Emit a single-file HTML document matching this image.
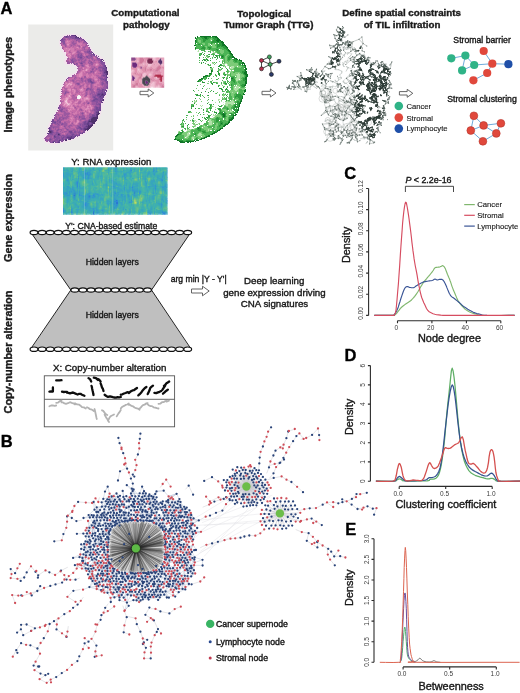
<!DOCTYPE html>
<html><head><meta charset="utf-8"><title>Figure</title>
<style>html,body{margin:0;padding:0;background:#fff;width:520px;height:693px;overflow:hidden}svg{display:block}text{font-family:"Liberation Sans",Arial,sans-serif;stroke:currentColor;stroke-width:0.35px;paint-order:stroke}text.s{stroke-width:0.12px}</style>
</head><body>
<svg width="520" height="693" viewBox="0 0 520 693">
<rect width="520" height="693" fill="#fff"/>
<rect x="28.2" y="24.5" width="85" height="126" fill="#ebebe9"/>
<path d="M61.6 38.7 L62.3 37.8 L63.3 36.8 L64.5 36.1 L66.2 35.6 L68.3 35.2 L70.3 35 L72.2 35 L74.2 35.1 L76.1 35.5 L78.1 36.1 L80 36.9 L81.8 37.9 L83.4 38.9 L84.8 40.1 L86.2 41.5 L87.5 43.3 L88.6 45.3 L89.8 47.3 L90.9 49.3 L92 51.3 L93.4 53.1 L95.2 54.5 L97.2 55.6 L99.1 56.7 L100.7 57.8 L102.2 58.9 L103.5 60.3 L104.6 62.1 L105.5 64.1 L106.3 66.1 L106.9 68 L107.4 69.8 L107.8 71.8 L108.1 74 L108.4 76.4 L108.5 79 L108.4 81.9 L108.1 85.1 L107.8 87.7 L107.4 89.4 L106.9 90.7 L106.3 92.2 L105.7 94.4 L105 96.9 L104.2 99.4 L103.2 101.8 L102.2 104.2 L101.3 106.6 L100.8 109 L100.4 111.5 L99.9 113.8 L99.1 116 L98.2 118.2 L97 120.3 L95.5 122.5 L93.8 124.7 L91.9 126.8 L89.7 128.8 L87.3 130.8 L84.7 132.6 L81.9 134.4 L79 136.1 L76.1 137.6 L73.2 138.7 L70.3 139.7 L67.4 140.5 L64.5 141.3 L61.6 142.1 L58.8 142.7 L56.2 143.2 L53.8 143.4 L51.5 143.4 L49.3 142.9 L47.3 142.1 L45.8 141.2 L44.8 140.4 L44.3 139.5 L44.3 138.4 L45 137.2 L46.2 135.7 L47.2 134 L47.7 131.9 L48 129.4 L48.7 126.8 L49.9 124 L51.5 121.1 L53 118.2 L54.5 115.5 L56 112.8 L57.3 110.2 L58.5 107.5 L59.5 104.9 L60.2 102.3 L60.5 99.7 L60.5 97.2 L60.5 95 L60.7 93.2 L60.9 91.6 L61.2 90 L61.7 88.3 L62.3 86.5 L63.1 84.8 L63.9 83.1 L64.9 81.4 L66 79.8 L67.3 78.5 L68.7 77.3 L70.3 76.2 L72.3 75.2 L74.4 74.4 L76.1 73.3 L77.1 71.9 L77.5 70.4 L77.5 68.9 L77 67.3 L76 65.8 L74.6 64.6 L72.6 64.2 L70.1 64.1 L68.1 63.9 L66.7 63.4 L65.7 62.7 L65.2 61.7 L65.5 60.2 L66.4 58.5 L66.7 56.7 L66.1 55 L64.9 53.3 L63.8 51.6 L62.8 49.7 L61.7 47.7 L60.9 45.9 L60.4 44.3 L60.2 42.8 L60.2 41.5 L60.5 40.4 L60.9 39.6Z" fill="none" stroke="#f4e2ee" stroke-width="2.2"/>
<path d="M66 100.5h1M65 101.5h2M66 102.5h1M67 103.5h1M68 104.5h1" stroke="#f2c6dc" stroke-width="1.1" fill="none"/>
<path d="M96 64.5h1M86 69.5h1M86 70.5h1M69 83.5h1M68 84.5h1M70 84.5h2M67 85.5h1M81 89.5h1M69 95.5h1M69 96.5h1M66 98.5h2M86 98.5h2M66 99.5h2M65 100.5h1M65 102.5h1M67 102.5h1M65 103.5h2M68 103.5h2M64 104.5h1M67 104.5h1M69 104.5h1M67 105.5h1" stroke="#e8a6c8" stroke-width="1.1" fill="none"/>
<path d="M67 41.5h1M67 44.5h2M81 46.5h1M77 47.5h1M66 48.5h1M69 49.5h1M68 50.5h1M66 52.5h2M73 52.5h2M66 53.5h1M72 53.5h2M68 54.5h2M70 55.5h1M69 56.5h1M69 57.5h1M97 64.5h1M86 65.5h2M96 65.5h1M87 66.5h2M83 68.5h1M87 69.5h1M83 70.5h1M85 70.5h1M81 72.5h1M95 72.5h1M80 73.5h2M79 74.5h3M79 75.5h3M79 76.5h2M95 79.5h2M71 82.5h1M66 83.5h1M68 83.5h1M70 83.5h2M67 84.5h1M69 84.5h1M66 85.5h1M70 85.5h1M66 86.5h2M82 88.5h1M68 89.5h3M72 89.5h2M80 89.5h1M82 89.5h1M69 90.5h2M74 90.5h1M80 90.5h3M74 91.5h1M74 92.5h1M70 93.5h1M70 94.5h1M68 95.5h1M77 95.5h1M68 96.5h1M70 96.5h1M66 97.5h3M70 97.5h1M81 97.5h1M86 97.5h2M65 98.5h1M68 98.5h1M81 98.5h1M84 98.5h2M88 98.5h1M65 99.5h1M81 99.5h1M84 99.5h5M64 100.5h1M67 100.5h1M84 100.5h1M64 101.5h1M67 101.5h1M70 101.5h1M77 101.5h1M64 102.5h1M70 102.5h2M75 102.5h2M64 103.5h1M70 103.5h1M65 104.5h2M70 104.5h1M75 104.5h1M63 105.5h2M66 105.5h1M68 105.5h2M71 105.5h1M90 105.5h1M66 106.5h1M71 106.5h1M87 106.5h2M90 106.5h1M70 107.5h4M87 107.5h1M91 107.5h1M73 108.5h1M86 108.5h3M91 108.5h1M68 109.5h1M70 109.5h1M85 109.5h2M69 110.5h1M89 111.5h1M85 113.5h1M71 118.5h1M77 120.5h1M77 121.5h2M77 122.5h1M76 123.5h1" stroke="#de8ebb" stroke-width="1.1" fill="none"/>
<path d="M67 40.5h1M66 41.5h1M68 41.5h2M66 42.5h3M77 42.5h1M67 43.5h3M77 43.5h5M78 44.5h4M67 45.5h2M80 45.5h1M71 47.5h1M76 47.5h1M78 47.5h1M81 47.5h1M64 48.5h2M67 48.5h7M78 48.5h1M80 48.5h1M64 49.5h5M70 49.5h4M65 50.5h3M69 50.5h1M71 50.5h3M65 51.5h4M71 51.5h5M81 51.5h2M68 52.5h1M72 52.5h1M75 52.5h1M82 52.5h2M67 53.5h4M74 53.5h1M67 54.5h1M70 54.5h1M72 54.5h1M84 54.5h1M67 55.5h3M84 55.5h1M67 56.5h2M70 56.5h1M70 57.5h1M94 57.5h1M96 63.5h2M87 64.5h2M95 64.5h1M98 64.5h1M85 65.5h1M88 65.5h1M95 65.5h1M97 65.5h1M86 66.5h1M83 67.5h1M87 67.5h3M86 68.5h3M85 69.5h1M88 69.5h1M82 70.5h1M84 70.5h1M87 70.5h1M81 71.5h4M96 71.5h1M80 72.5h1M82 72.5h1M84 72.5h1M96 72.5h1M79 73.5h1M82 73.5h1M87 73.5h1M95 73.5h1M77 74.5h2M82 74.5h1M86 74.5h2M92 74.5h1M77 75.5h2M82 75.5h1M86 75.5h3M92 75.5h2M77 76.5h2M81 76.5h1M86 76.5h3M91 76.5h5M80 77.5h1M87 77.5h1M91 77.5h2M94 77.5h2M94 78.5h3M94 79.5h1M97 79.5h1M95 80.5h2M69 81.5h1M97 81.5h1M99 81.5h1M65 82.5h2M69 82.5h2M72 82.5h1M84 82.5h1M97 82.5h2M65 83.5h1M67 83.5h1M72 83.5h1M96 83.5h3M65 84.5h2M72 84.5h3M81 84.5h1M85 84.5h1M94 84.5h3M68 85.5h2M71 85.5h1M73 85.5h2M84 85.5h2M89 85.5h1M94 85.5h3M65 86.5h1M68 86.5h2M71 86.5h3M84 86.5h2M89 86.5h1M98 86.5h2M65 87.5h5M71 87.5h2M82 87.5h1M84 87.5h2M63 88.5h1M68 88.5h3M81 88.5h1M63 89.5h1M67 89.5h1M74 89.5h1M79 89.5h1M83 89.5h1M68 90.5h1M72 90.5h2M75 90.5h1M83 90.5h1M94 90.5h1M69 91.5h2M72 91.5h2M75 91.5h1M80 91.5h3M70 92.5h1M73 92.5h1M83 92.5h2M69 93.5h1M73 93.5h2M80 93.5h1M82 93.5h2M67 94.5h3M71 94.5h1M77 94.5h2M80 94.5h1M67 95.5h1M70 95.5h1M76 95.5h1M80 95.5h2M83 95.5h1M87 95.5h2M65 96.5h1M67 96.5h1M81 96.5h3M87 96.5h2M65 97.5h1M69 97.5h1M71 97.5h1M82 97.5h4M88 97.5h1M63 98.5h2M69 98.5h2M80 98.5h1M83 98.5h1M89 98.5h1M61 99.5h4M68 99.5h1M78 99.5h2M82 99.5h2M89 99.5h1M62 100.5h1M68 100.5h5M77 100.5h2M81 100.5h3M85 100.5h1M88 100.5h1M68 101.5h2M71 101.5h1M75 101.5h2M82 101.5h4M62 102.5h2M68 102.5h2M74 102.5h1M77 102.5h1M81 102.5h2M62 103.5h2M71 103.5h1M73 103.5h3M81 103.5h1M63 104.5h1M71 104.5h4M76 104.5h2M79 104.5h2M85 104.5h1M89 104.5h1M65 105.5h1M70 105.5h1M72 105.5h1M75 105.5h2M79 105.5h2M85 105.5h1M87 105.5h3M64 106.5h2M67 106.5h4M72 106.5h1M82 106.5h2M89 106.5h1M91 106.5h1M68 107.5h2M81 107.5h4M88 107.5h1M90 107.5h1M92 107.5h1M70 108.5h3M78 108.5h1M82 108.5h4M89 108.5h2M69 109.5h1M71 109.5h4M77 109.5h2M83 109.5h2M87 109.5h3M91 109.5h1M68 110.5h1M70 110.5h2M77 110.5h1M84 110.5h1M86 110.5h1M88 110.5h2M68 111.5h2M76 111.5h1M83 111.5h2M88 111.5h1M70 112.5h1M75 112.5h2M79 112.5h1M85 112.5h1M89 112.5h1M73 113.5h4M86 113.5h1M74 114.5h1M85 114.5h2M70 115.5h1M72 116.5h1M70 117.5h3M70 118.5h1M72 118.5h2M71 119.5h2M70 120.5h3M78 120.5h1M71 121.5h1M70 122.5h1M74 122.5h1M76 122.5h1M78 122.5h1M70 123.5h1M74 123.5h2M77 123.5h1M75 124.5h2M61 126.5h1M64 133.5h1" stroke="#d27cb0" stroke-width="1.1" fill="none"/>
<path d="M66 38.5h1M66 39.5h1M66 40.5h1M68 40.5h4M65 41.5h1M70 41.5h1M77 41.5h1M82 41.5h1M65 42.5h1M69 42.5h2M78 42.5h1M80 42.5h3M66 43.5h1M70 43.5h1M82 43.5h1M66 44.5h1M69 44.5h1M76 44.5h2M82 44.5h3M62 45.5h2M69 45.5h1M76 45.5h1M81 45.5h4M62 46.5h3M67 46.5h3M72 46.5h1M74 46.5h4M80 46.5h1M82 46.5h1M87 46.5h1M64 47.5h5M70 47.5h1M72 47.5h4M80 47.5h1M86 47.5h2M63 48.5h1M74 48.5h4M79 48.5h1M81 48.5h1M85 48.5h3M63 49.5h1M74 49.5h1M76 49.5h6M64 50.5h1M70 50.5h1M74 50.5h3M70 51.5h1M76 51.5h1M83 51.5h1M71 52.5h1M81 52.5h1M71 53.5h1M75 53.5h2M83 53.5h2M66 54.5h1M71 54.5h1M73 54.5h3M83 54.5h1M86 54.5h2M71 55.5h1M74 55.5h1M83 55.5h1M85 55.5h1M71 56.5h1M74 56.5h1M68 57.5h1M76 57.5h1M93 57.5h1M69 58.5h2M76 58.5h1M94 58.5h2M69 59.5h1M87 59.5h2M90 59.5h1M69 60.5h1M87 60.5h1M91 60.5h1M77 61.5h1M86 61.5h2M92 61.5h1M95 61.5h3M86 62.5h2M96 62.5h2M78 63.5h1M86 63.5h2M94 63.5h2M98 63.5h1M78 64.5h2M85 64.5h2M93 64.5h2M93 65.5h2M98 65.5h1M80 66.5h1M85 66.5h1M89 66.5h2M95 66.5h3M79 67.5h2M82 67.5h1M84 67.5h3M90 67.5h1M96 67.5h2M82 68.5h1M84 68.5h2M89 68.5h1M81 69.5h1M83 69.5h2M89 69.5h2M94 69.5h1M81 70.5h1M88 70.5h2M96 70.5h2M80 71.5h1M85 71.5h5M95 71.5h1M97 71.5h2M79 72.5h1M83 72.5h1M85 72.5h1M94 72.5h1M97 72.5h3M78 73.5h1M83 73.5h4M91 73.5h2M94 73.5h1M96 73.5h2M76 74.5h1M83 74.5h3M88 74.5h4M93 74.5h8M76 75.5h1M83 75.5h3M89 75.5h3M94 75.5h2M99 75.5h2M76 76.5h1M82 76.5h2M89 76.5h2M96 76.5h1M73 77.5h1M77 77.5h3M83 77.5h1M86 77.5h1M88 77.5h3M93 77.5h1M96 77.5h2M69 78.5h5M77 78.5h2M92 78.5h2M97 78.5h1M68 79.5h4M76 79.5h4M84 79.5h1M99 79.5h1M68 80.5h2M75 80.5h1M94 80.5h1M97 80.5h1M99 80.5h1M65 81.5h1M68 81.5h1M70 81.5h2M77 81.5h2M95 81.5h2M98 81.5h1M67 82.5h2M83 82.5h1M96 82.5h1M99 82.5h1M73 83.5h2M80 83.5h6M95 83.5h1M99 83.5h1M64 84.5h1M80 84.5h1M82 84.5h1M84 84.5h1M86 84.5h1M89 84.5h1M93 84.5h1M97 84.5h3M64 85.5h2M72 85.5h1M75 85.5h2M86 85.5h1M88 85.5h1M93 85.5h1M97 85.5h4M63 86.5h2M70 86.5h1M74 86.5h5M82 86.5h2M88 86.5h1M93 86.5h2M96 86.5h2M100 86.5h2M70 87.5h1M73 87.5h1M75 87.5h4M81 87.5h1M83 87.5h1M86 87.5h1M89 87.5h1M93 87.5h4M62 88.5h1M67 88.5h1M71 88.5h3M77 88.5h4M83 88.5h1M85 88.5h1M94 88.5h3M62 89.5h1M64 89.5h1M71 89.5h1M75 89.5h1M77 89.5h2M84 89.5h2M94 89.5h2M63 90.5h1M67 90.5h1M71 90.5h1M78 90.5h2M84 90.5h1M95 90.5h1M68 91.5h1M71 91.5h1M79 91.5h1M83 91.5h2M88 91.5h1M95 91.5h1M69 92.5h1M71 92.5h2M75 92.5h1M78 92.5h1M80 92.5h3M88 92.5h1M61 93.5h2M67 93.5h2M71 93.5h2M75 93.5h5M81 93.5h1M84 93.5h1M88 93.5h1M62 94.5h2M66 94.5h1M72 94.5h3M76 94.5h1M79 94.5h1M81 94.5h4M88 94.5h1M61 95.5h3M65 95.5h2M71 95.5h1M75 95.5h1M82 95.5h1M84 95.5h1M89 95.5h1M62 96.5h3M66 96.5h1M71 96.5h1M75 96.5h2M86 96.5h1M89 96.5h1M62 97.5h3M89 97.5h1M61 98.5h2M71 98.5h1M82 98.5h1M90 98.5h1M69 99.5h4M75 99.5h3M80 99.5h1M61 100.5h1M63 100.5h1M73 100.5h1M75 100.5h2M79 100.5h2M86 100.5h2M89 100.5h1M63 101.5h1M72 101.5h3M78 101.5h1M81 101.5h1M88 101.5h2M72 102.5h2M83 102.5h1M85 102.5h1M90 102.5h1M72 103.5h1M76 103.5h2M80 103.5h1M82 103.5h1M85 103.5h2M90 103.5h1M60 104.5h3M78 104.5h1M81 104.5h3M86 104.5h3M90 104.5h1M62 105.5h1M74 105.5h1M77 105.5h2M81 105.5h4M86 105.5h1M91 105.5h2M63 106.5h1M73 106.5h1M75 106.5h2M79 106.5h3M84 106.5h3M92 106.5h1M65 107.5h3M76 107.5h5M85 107.5h2M89 107.5h1M93 107.5h1M67 108.5h3M74 108.5h1M77 108.5h1M79 108.5h1M81 108.5h1M92 108.5h1M67 109.5h1M75 109.5h1M82 109.5h1M90 109.5h1M72 110.5h5M78 110.5h1M83 110.5h1M85 110.5h1M87 110.5h1M70 111.5h6M77 111.5h6M86 111.5h2M90 111.5h1M58 112.5h3M69 112.5h1M71 112.5h1M73 112.5h2M77 112.5h2M84 112.5h1M86 112.5h1M88 112.5h1M90 112.5h1M92 112.5h1M59 113.5h4M70 113.5h3M77 113.5h3M84 113.5h1M87 113.5h2M92 113.5h1M70 114.5h2M73 114.5h1M75 114.5h2M79 114.5h1M84 114.5h1M87 114.5h2M60 115.5h2M69 115.5h1M71 115.5h2M85 115.5h2M70 116.5h2M73 116.5h1M85 116.5h2M69 117.5h1M73 117.5h1M85 117.5h1M69 118.5h1M74 118.5h1M77 118.5h1M67 119.5h4M73 119.5h2M77 119.5h1M64 120.5h4M69 120.5h1M73 120.5h2M76 120.5h1M82 120.5h2M61 121.5h3M70 121.5h1M72 121.5h3M76 121.5h1M79 121.5h1M63 122.5h1M71 122.5h1M73 122.5h1M75 122.5h1M68 123.5h2M73 123.5h1M53 124.5h1M68 124.5h2M74 124.5h1M77 124.5h1M60 126.5h1M62 126.5h1M73 126.5h2M60 127.5h4M71 127.5h4M60 128.5h2M75 128.5h1M64 129.5h2M64 130.5h2M62 133.5h2M64 134.5h1M48 138.5h1" stroke="#c46ca8" stroke-width="1.1" fill="none"/>
<path d="M65 38.5h1M67 38.5h1M67 39.5h2M70 39.5h4M65 40.5h1M72 40.5h4M80 40.5h1M71 41.5h2M74 41.5h3M80 41.5h2M83 41.5h1M71 42.5h1M74 42.5h3M79 42.5h1M61 43.5h2M65 43.5h1M71 43.5h1M76 43.5h1M83 43.5h3M61 44.5h2M70 44.5h3M75 44.5h1M85 44.5h1M61 45.5h1M64 45.5h1M66 45.5h1M70 45.5h1M72 45.5h4M77 45.5h3M85 45.5h1M87 45.5h1M66 46.5h1M70 46.5h2M73 46.5h1M78 46.5h1M83 46.5h2M86 46.5h1M62 47.5h2M69 47.5h1M79 47.5h1M82 47.5h1M85 47.5h1M88 47.5h1M82 48.5h2M88 48.5h1M75 49.5h1M82 49.5h2M85 49.5h3M77 50.5h10M64 51.5h1M69 51.5h1M79 51.5h2M69 52.5h2M76 52.5h1M80 52.5h1M84 52.5h1M77 53.5h1M82 53.5h1M85 53.5h3M76 54.5h1M82 54.5h1M85 54.5h1M88 54.5h1M66 55.5h1M72 55.5h2M75 55.5h2M86 55.5h2M72 56.5h2M75 56.5h2M84 56.5h2M93 56.5h2M71 57.5h5M83 57.5h1M85 57.5h1M95 57.5h1M67 58.5h1M71 58.5h1M75 58.5h1M77 58.5h2M84 58.5h4M90 58.5h1M93 58.5h1M96 58.5h1M67 59.5h2M76 59.5h2M83 59.5h2M86 59.5h1M89 59.5h1M91 59.5h1M93 59.5h4M66 60.5h3M70 60.5h1M77 60.5h1M80 60.5h1M82 60.5h2M86 60.5h1M88 60.5h1M90 60.5h1M92 60.5h2M95 60.5h3M66 61.5h1M69 61.5h2M76 61.5h1M78 61.5h3M85 61.5h1M88 61.5h1M93 61.5h2M98 61.5h2M74 62.5h5M85 62.5h1M89 62.5h1M93 62.5h3M98 62.5h1M75 63.5h1M79 63.5h1M83 63.5h3M88 63.5h1M93 63.5h1M99 63.5h1M80 64.5h1M83 64.5h2M89 64.5h2M99 64.5h2M76 65.5h5M84 65.5h1M89 65.5h4M99 65.5h1M101 65.5h1M79 66.5h1M81 66.5h1M84 66.5h1M91 66.5h4M98 66.5h1M78 67.5h1M81 67.5h1M91 67.5h3M95 67.5h1M78 68.5h4M90 68.5h2M94 68.5h2M97 68.5h1M78 69.5h3M82 69.5h1M91 69.5h1M95 69.5h1M97 69.5h2M101 69.5h1M78 70.5h1M80 70.5h1M90 70.5h2M93 70.5h3M98 70.5h1M77 71.5h3M94 71.5h1M99 71.5h1M78 72.5h1M86 72.5h4M92 72.5h1M100 72.5h2M76 73.5h2M88 73.5h3M93 73.5h1M98 73.5h2M101 73.5h1M74 74.5h1M101 74.5h1M74 75.5h2M96 75.5h3M73 76.5h3M97 76.5h4M70 77.5h3M74 77.5h1M76 77.5h1M81 77.5h2M103 77.5h1M68 78.5h1M75 78.5h2M79 78.5h2M83 78.5h6M91 78.5h1M98 78.5h1M72 79.5h4M80 79.5h1M83 79.5h1M85 79.5h2M92 79.5h2M98 79.5h1M67 80.5h1M70 80.5h2M74 80.5h1M76 80.5h5M83 80.5h2M86 80.5h1M92 80.5h1M98 80.5h1M100 80.5h1M66 81.5h2M72 81.5h1M74 81.5h3M79 81.5h3M83 81.5h2M86 81.5h2M94 81.5h1M100 81.5h2M64 82.5h1M73 82.5h10M85 82.5h3M95 82.5h1M100 82.5h1M104 82.5h1M64 83.5h1M75 83.5h1M86 83.5h5M94 83.5h1M100 83.5h1M63 84.5h1M75 84.5h2M83 84.5h1M87 84.5h2M90 84.5h1M92 84.5h1M100 84.5h1M77 85.5h7M87 85.5h1M90 85.5h1M92 85.5h1M101 85.5h1M103 85.5h1M79 86.5h1M81 86.5h1M86 86.5h2M90 86.5h1M92 86.5h1M95 86.5h1M102 86.5h2M62 87.5h3M74 87.5h1M79 87.5h2M87 87.5h2M90 87.5h1M92 87.5h1M97 87.5h6M64 88.5h3M74 88.5h3M84 88.5h1M86 88.5h1M92 88.5h2M100 88.5h1M65 89.5h2M76 89.5h1M93 89.5h1M96 89.5h1M62 90.5h1M64 90.5h3M76 90.5h2M85 90.5h1M88 90.5h2M93 90.5h1M96 90.5h1M63 91.5h2M67 91.5h1M76 91.5h3M85 91.5h3M89 91.5h2M94 91.5h1M96 91.5h1M62 92.5h3M76 92.5h2M79 92.5h1M85 92.5h1M87 92.5h1M89 92.5h2M95 92.5h1M63 93.5h1M66 93.5h1M85 93.5h1M87 93.5h1M89 93.5h1M93 93.5h1M95 93.5h1M65 94.5h1M75 94.5h1M85 94.5h1M87 94.5h1M89 94.5h1M91 94.5h1M64 95.5h1M72 95.5h1M74 95.5h1M90 95.5h2M60 96.5h2M72 96.5h3M84 96.5h2M90 96.5h2M61 97.5h1M72 97.5h4M90 97.5h2M60 98.5h1M72 98.5h5M91 98.5h2M73 99.5h2M90 99.5h3M60 100.5h1M74 100.5h1M90 100.5h1M60 101.5h3M79 101.5h2M86 101.5h2M90 101.5h1M61 102.5h1M78 102.5h3M84 102.5h1M86 102.5h2M89 102.5h1M91 102.5h1M61 103.5h1M78 103.5h2M83 103.5h2M89 103.5h1M91 103.5h1M84 104.5h1M91 104.5h1M60 105.5h2M73 105.5h1M93 105.5h2M61 106.5h2M74 106.5h1M77 106.5h2M93 106.5h1M61 107.5h1M63 107.5h2M74 107.5h1M65 108.5h2M75 108.5h2M80 108.5h1M93 108.5h1M63 109.5h4M76 109.5h1M79 109.5h1M92 109.5h1M58 110.5h1M63 110.5h3M67 110.5h1M79 110.5h2M82 110.5h1M90 110.5h2M58 111.5h2M65 111.5h3M85 111.5h1M91 111.5h3M57 112.5h1M61 112.5h3M66 112.5h3M72 112.5h1M80 112.5h2M83 112.5h1M87 112.5h1M91 112.5h1M93 112.5h1M57 113.5h2M63 113.5h1M80 113.5h1M89 113.5h1M91 113.5h1M93 113.5h1M59 114.5h5M69 114.5h1M72 114.5h1M77 114.5h2M80 114.5h2M83 114.5h1M56 115.5h2M59 115.5h1M63 115.5h1M66 115.5h1M68 115.5h1M73 115.5h9M84 115.5h1M87 115.5h2M57 116.5h5M63 116.5h3M69 116.5h1M74 116.5h2M77 116.5h2M87 116.5h2M55 117.5h1M57 117.5h2M68 117.5h1M74 117.5h1M76 117.5h3M86 117.5h3M57 118.5h2M61 118.5h1M67 118.5h2M75 118.5h2M78 118.5h1M80 118.5h1M86 118.5h3M54 119.5h2M64 119.5h3M75 119.5h2M78 119.5h2M86 119.5h2M54 120.5h3M62 120.5h2M68 120.5h1M75 120.5h1M79 120.5h1M81 120.5h1M84 120.5h1M64 121.5h6M75 121.5h1M80 121.5h3M61 122.5h2M66 122.5h4M72 122.5h1M79 122.5h3M67 123.5h1M71 123.5h1M78 123.5h1M54 124.5h1M60 124.5h1M67 124.5h1M70 124.5h4M78 124.5h1M53 125.5h4M60 125.5h4M67 125.5h2M72 125.5h5M59 126.5h1M63 126.5h1M66 126.5h2M70 126.5h3M75 126.5h2M59 127.5h1M64 127.5h1M66 127.5h3M70 127.5h1M75 127.5h1M52 128.5h1M54 128.5h1M56 128.5h2M59 128.5h1M62 128.5h3M67 128.5h8M52 129.5h3M56 129.5h1M62 129.5h2M69 129.5h4M75 129.5h2M78 129.5h1M54 130.5h2M59 130.5h2M62 130.5h2M66 130.5h1M76 130.5h1M78 130.5h1M54 131.5h2M58 131.5h2M61 131.5h3M67 131.5h1M73 131.5h1M81 131.5h2M59 132.5h3M63 132.5h5M61 133.5h1M65 133.5h2M77 133.5h1M61 134.5h3M65 134.5h1M52 136.5h1M47 137.5h3M52 137.5h1M46 138.5h2M53 139.5h1M46 141.5h1" stroke="#b062a4" stroke-width="1.1" fill="none"/>
<path d="M67 35.5h1M63 37.5h2M69 37.5h1M63 38.5h2M68 38.5h4M65 39.5h1M69 39.5h1M74 39.5h3M80 39.5h2M64 40.5h1M77 40.5h3M81 40.5h3M73 41.5h1M78 41.5h2M61 42.5h2M72 42.5h2M83 42.5h3M60 43.5h1M72 43.5h4M86 43.5h1M63 44.5h3M73 44.5h2M86 44.5h1M65 45.5h1M71 45.5h1M86 45.5h1M88 45.5h1M65 46.5h1M79 46.5h1M85 46.5h1M83 47.5h2M89 47.5h1M62 48.5h1M84 48.5h1M89 48.5h1M84 49.5h1M88 49.5h2M87 50.5h2M90 50.5h1M77 51.5h2M84 51.5h3M90 51.5h1M77 52.5h3M85 52.5h2M78 53.5h4M88 53.5h1M77 54.5h1M79 54.5h2M89 54.5h2M77 55.5h1M79 55.5h1M82 55.5h1M88 55.5h2M92 55.5h1M77 56.5h1M82 56.5h2M88 56.5h3M92 56.5h1M95 56.5h2M77 57.5h1M82 57.5h1M84 57.5h1M86 57.5h1M88 57.5h5M96 57.5h1M68 58.5h1M72 58.5h3M79 58.5h1M82 58.5h2M88 58.5h2M91 58.5h2M99 58.5h1M70 59.5h2M73 59.5h3M78 59.5h5M85 59.5h1M92 59.5h1M97 59.5h3M73 60.5h4M78 60.5h2M81 60.5h1M84 60.5h2M89 60.5h1M94 60.5h1M98 60.5h2M67 61.5h2M71 61.5h1M74 61.5h2M81 61.5h4M89 61.5h3M67 62.5h5M79 62.5h2M82 62.5h3M88 62.5h1M90 62.5h1M92 62.5h1M99 62.5h2M67 63.5h3M71 63.5h1M73 63.5h2M77 63.5h1M89 63.5h4M100 63.5h1M75 64.5h3M81 64.5h2M91 64.5h2M101 64.5h1M81 65.5h1M83 65.5h1M100 65.5h1M102 65.5h1M77 66.5h2M82 66.5h2M99 66.5h4M94 67.5h1M98 67.5h1M77 68.5h1M92 68.5h2M96 68.5h1M98 68.5h4M93 69.5h1M96 69.5h1M99 69.5h2M79 70.5h1M92 70.5h1M99 70.5h1M101 70.5h1M90 71.5h1M92 71.5h2M100 71.5h3M77 72.5h1M90 72.5h2M93 72.5h1M102 72.5h1M100 73.5h1M102 73.5h1M102 74.5h1M72 75.5h2M101 75.5h1M72 76.5h1M84 76.5h2M101 76.5h2M69 77.5h1M75 77.5h1M84 77.5h2M98 77.5h5M104 77.5h1M74 78.5h1M82 78.5h1M89 78.5h2M99 78.5h1M103 78.5h1M81 79.5h2M87 79.5h1M91 79.5h1M100 79.5h1M72 80.5h2M81 80.5h2M85 80.5h1M87 80.5h1M91 80.5h1M93 80.5h1M101 80.5h3M73 81.5h1M82 81.5h1M85 81.5h1M92 81.5h2M102 81.5h3M88 82.5h2M94 82.5h1M101 82.5h1M103 82.5h1M105 82.5h1M76 83.5h1M79 83.5h1M93 83.5h1M101 83.5h1M104 83.5h2M77 84.5h1M79 84.5h1M91 84.5h1M101 84.5h1M103 84.5h4M91 85.5h1M102 85.5h1M104 85.5h3M80 86.5h1M91 86.5h1M104 86.5h2M91 87.5h1M103 87.5h3M89 88.5h3M97 88.5h3M101 88.5h6M61 89.5h1M88 89.5h2M91 89.5h2M100 89.5h2M87 90.5h1M90 90.5h3M97 90.5h2M61 91.5h2M65 91.5h2M91 91.5h3M97 91.5h1M66 92.5h3M86 92.5h1M91 92.5h4M96 92.5h2M64 93.5h1M86 93.5h1M90 93.5h3M94 93.5h1M96 93.5h1M64 94.5h1M86 94.5h1M90 94.5h1M92 94.5h5M73 95.5h1M85 95.5h2M92 95.5h3M92 96.5h1M96 96.5h1M76 97.5h1M92 97.5h1M96 97.5h2M93 98.5h1M91 100.5h1M91 101.5h1M98 101.5h1M88 102.5h1M92 102.5h4M98 102.5h3M87 103.5h1M92 103.5h4M97 103.5h1M92 104.5h4M59 105.5h1M95 105.5h4M60 106.5h1M94 106.5h1M97 106.5h2M62 107.5h1M75 107.5h1M94 107.5h1M59 108.5h6M94 108.5h1M59 109.5h2M80 109.5h2M93 109.5h1M57 110.5h1M59 110.5h1M62 110.5h1M66 110.5h1M81 110.5h1M92 110.5h2M60 111.5h1M62 111.5h3M94 111.5h1M56 112.5h1M64 112.5h2M82 112.5h1M94 112.5h1M56 113.5h1M64 113.5h6M81 113.5h1M83 113.5h1M90 113.5h1M56 114.5h3M64 114.5h5M82 114.5h1M89 114.5h3M55 115.5h1M58 115.5h1M62 115.5h1M64 115.5h2M67 115.5h1M82 115.5h2M89 115.5h3M55 116.5h2M62 116.5h1M66 116.5h3M76 116.5h1M80 116.5h5M89 116.5h1M56 117.5h1M59 117.5h9M75 117.5h1M80 117.5h5M55 118.5h2M60 118.5h1M62 118.5h1M64 118.5h3M79 118.5h1M81 118.5h1M85 118.5h1M89 118.5h1M56 119.5h3M60 119.5h4M80 119.5h6M88 119.5h1M59 120.5h3M80 120.5h1M85 120.5h3M56 121.5h1M58 121.5h1M83 121.5h1M56 122.5h3M64 122.5h2M82 122.5h1M53 123.5h1M56 123.5h1M58 123.5h4M63 123.5h4M72 123.5h1M79 123.5h4M51 124.5h2M55 124.5h3M59 124.5h1M63 124.5h4M79 124.5h1M81 124.5h1M50 125.5h1M52 125.5h1M57 125.5h3M64 125.5h3M69 125.5h3M77 125.5h3M81 125.5h1M50 126.5h1M52 126.5h7M65 126.5h1M68 126.5h2M77 126.5h1M80 126.5h2M51 127.5h2M54 127.5h5M65 127.5h1M69 127.5h1M76 127.5h2M81 127.5h2M51 128.5h1M53 128.5h1M55 128.5h1M58 128.5h1M65 128.5h2M76 128.5h1M51 129.5h1M55 129.5h1M57 129.5h1M59 129.5h3M66 129.5h1M68 129.5h1M73 129.5h2M77 129.5h1M79 129.5h1M53 130.5h1M56 130.5h1M58 130.5h1M61 130.5h1M67 130.5h9M77 130.5h1M79 130.5h4M53 131.5h1M56 131.5h2M60 131.5h1M64 131.5h3M68 131.5h1M72 131.5h1M76 131.5h3M80 131.5h1M54 132.5h2M58 132.5h1M62 132.5h1M68 132.5h1M73 132.5h1M76 132.5h2M81 132.5h1M53 133.5h3M60 133.5h1M67 133.5h3M74 133.5h3M78 133.5h1M49 134.5h1M53 134.5h2M60 134.5h1M66 134.5h1M68 134.5h3M75 134.5h1M77 134.5h2M47 135.5h7M56 135.5h1M61 135.5h1M64 135.5h2M46 136.5h6M53 136.5h1M59 136.5h2M62 136.5h1M45 137.5h2M50 137.5h2M53 137.5h1M60 137.5h1M44 138.5h2M49 138.5h1M51 138.5h3M55 138.5h1M60 138.5h1M64 138.5h1M47 139.5h2M52 139.5h1M54 139.5h1M58 139.5h1M64 139.5h1M46 140.5h1M48 140.5h1M51 140.5h3M47 141.5h1M51 141.5h1M56 141.5h1" stroke="#9a58a0" stroke-width="1.1" fill="none"/>
<path d="M69 35.5h1M64 36.5h2M68 36.5h7M65 37.5h1M67 37.5h2M70 37.5h5M72 38.5h3M80 38.5h2M63 39.5h2M77 39.5h3M82 39.5h1M61 40.5h3M76 40.5h1M61 41.5h4M84 41.5h1M63 42.5h2M86 42.5h1M63 43.5h2M87 43.5h1M90 49.5h1M89 50.5h1M87 51.5h2M91 51.5h1M87 52.5h5M89 53.5h3M78 54.5h1M81 54.5h1M91 54.5h2M78 55.5h1M80 55.5h2M90 55.5h2M93 55.5h1M96 55.5h1M78 56.5h4M86 56.5h2M91 56.5h1M78 57.5h2M87 57.5h1M97 57.5h1M80 58.5h2M97 58.5h2M72 59.5h1M100 59.5h1M71 60.5h2M100 60.5h1M72 61.5h2M100 61.5h1M72 62.5h2M81 62.5h1M91 62.5h1M101 62.5h4M76 63.5h1M80 63.5h1M82 63.5h1M101 63.5h4M102 64.5h3M82 65.5h1M103 65.5h1M103 66.5h1M99 67.5h6M102 68.5h1M92 69.5h1M102 69.5h2M100 70.5h1M102 70.5h2M91 71.5h1M103 71.5h1M103 72.5h1M103 73.5h1M103 74.5h2M102 75.5h1M105 75.5h1M103 76.5h3M68 77.5h1M105 77.5h1M67 78.5h1M81 78.5h1M100 78.5h3M104 78.5h2M88 79.5h3M101 79.5h2M104 79.5h1M66 80.5h1M88 80.5h2M104 80.5h1M88 81.5h2M105 81.5h2M90 82.5h1M93 82.5h1M102 82.5h1M77 83.5h2M91 83.5h2M102 83.5h2M106 83.5h1M78 84.5h1M102 84.5h1M107 84.5h1M107 85.5h1M106 86.5h2M106 87.5h1M87 88.5h2M107 88.5h1M86 89.5h2M90 89.5h1M97 89.5h3M104 89.5h2M86 90.5h1M99 90.5h3M103 90.5h3M98 91.5h4M103 91.5h1M65 92.5h1M98 92.5h3M103 92.5h1M65 93.5h1M97 93.5h1M95 95.5h2M93 96.5h3M97 96.5h2M93 97.5h1M95 97.5h1M98 97.5h1M94 98.5h1M97 98.5h3M93 99.5h1M98 99.5h2M101 99.5h1M92 100.5h1M95 100.5h5M92 101.5h6M99 101.5h2M96 102.5h2M88 103.5h1M96 103.5h1M98 103.5h3M96 104.5h3M99 105.5h1M59 106.5h1M95 106.5h2M99 106.5h1M59 107.5h2M95 107.5h1M98 107.5h1M95 108.5h1M98 108.5h1M61 109.5h2M94 109.5h2M60 110.5h2M94 110.5h3M61 111.5h1M95 111.5h1M95 112.5h1M82 113.5h1M94 113.5h2M55 114.5h1M92 114.5h4M95 115.5h1M79 116.5h1M90 116.5h2M54 117.5h1M79 117.5h1M89 117.5h2M54 118.5h1M59 118.5h1M63 118.5h1M82 118.5h3M90 118.5h1M52 119.5h2M59 119.5h1M57 120.5h2M54 121.5h2M57 121.5h1M59 121.5h2M84 121.5h1M86 121.5h2M52 122.5h2M59 122.5h2M83 122.5h1M86 122.5h1M51 123.5h2M54 123.5h2M57 123.5h1M62 123.5h1M83 123.5h1M90 123.5h1M58 124.5h1M61 124.5h2M80 124.5h1M82 124.5h2M51 125.5h1M80 125.5h1M82 125.5h4M51 126.5h1M64 126.5h1M78 126.5h2M82 126.5h3M50 127.5h1M53 127.5h1M78 127.5h1M83 127.5h1M50 128.5h1M77 128.5h3M82 128.5h1M50 129.5h1M58 129.5h1M67 129.5h1M80 129.5h1M82 129.5h1M52 130.5h1M57 130.5h1M83 130.5h1M74 131.5h2M79 131.5h1M83 131.5h2M53 132.5h1M56 132.5h2M69 132.5h1M72 132.5h1M74 132.5h2M78 132.5h3M82 132.5h1M84 132.5h1M52 133.5h1M56 133.5h2M59 133.5h1M70 133.5h4M79 133.5h1M81 133.5h1M48 134.5h1M50 134.5h3M55 134.5h3M67 134.5h1M71 134.5h1M74 134.5h1M76 134.5h1M55 135.5h1M57 135.5h1M60 135.5h1M62 135.5h2M66 135.5h6M73 135.5h2M77 135.5h2M56 136.5h3M61 136.5h1M63 136.5h4M77 136.5h1M56 137.5h4M61 137.5h2M64 137.5h2M50 138.5h1M54 138.5h1M56 138.5h4M61 138.5h1M63 138.5h1M65 138.5h3M45 139.5h2M49 139.5h1M51 139.5h1M55 139.5h3M59 139.5h3M63 139.5h1M45 140.5h1M47 140.5h1M49 140.5h2M54 140.5h5M61 140.5h2M49 141.5h2M52 141.5h1M55 141.5h1M57 141.5h1M61 141.5h2M50 142.5h2M56 142.5h1" stroke="#86509c" stroke-width="1.1" fill="none"/>
<path d="M71 35.5h1M67 36.5h1M75 36.5h1M66 37.5h1M80 37.5h1M62 38.5h1M75 38.5h4M61 39.5h2M83 39.5h1M60 40.5h1M84 40.5h1M85 41.5h1M89 51.5h1M93 54.5h2M94 55.5h1M98 56.5h1M80 57.5h2M101 60.5h1M101 61.5h2M81 63.5h1M74 64.5h1M104 65.5h2M104 66.5h1M105 67.5h1M103 68.5h3M104 69.5h3M104 70.5h1M104 71.5h1M104 73.5h2M105 74.5h1M103 75.5h2M106 77.5h1M106 78.5h1M66 79.5h1M103 79.5h1M105 79.5h2M90 80.5h1M105 80.5h2M90 81.5h2M107 81.5h1M91 82.5h2M106 82.5h2M107 83.5h1M107 87.5h1M102 89.5h2M102 90.5h1M102 91.5h1M104 91.5h1M106 91.5h1M101 92.5h2M104 92.5h2M98 93.5h4M103 93.5h3M97 94.5h1M100 94.5h1M104 94.5h2M97 95.5h4M99 96.5h1M101 96.5h2M94 97.5h1M99 97.5h5M95 98.5h2M100 98.5h3M94 99.5h4M100 99.5h1M102 99.5h1M93 100.5h2M100 100.5h2M101 102.5h1M99 104.5h2M100 105.5h1M100 106.5h1M58 107.5h1M96 107.5h2M99 107.5h2M58 108.5h1M96 108.5h2M99 108.5h2M96 109.5h5M97 110.5h3M96 111.5h2M96 113.5h1M54 115.5h1M92 115.5h3M92 116.5h4M91 117.5h1M89 119.5h2M52 120.5h2M88 120.5h1M90 120.5h1M51 121.5h3M85 121.5h1M54 122.5h2M84 122.5h2M87 122.5h1M89 122.5h2M84 123.5h3M89 123.5h1M91 123.5h1M84 124.5h3M89 124.5h2M86 125.5h2M85 126.5h1M49 127.5h1M79 127.5h2M84 127.5h3M48 128.5h1M80 128.5h2M83 128.5h1M49 129.5h1M81 129.5h1M83 129.5h1M50 130.5h2M84 130.5h1M52 131.5h1M69 131.5h3M52 132.5h1M70 132.5h2M83 132.5h1M49 133.5h3M58 133.5h1M80 133.5h1M72 134.5h2M79 134.5h1M54 135.5h1M58 135.5h2M72 135.5h1M75 135.5h2M79 135.5h1M55 136.5h1M67 136.5h4M72 136.5h3M54 137.5h2M63 137.5h1M66 137.5h1M72 137.5h3M62 138.5h1M68 138.5h1M72 138.5h2M50 139.5h1M62 139.5h1M68 139.5h1M60 140.5h1M63 140.5h1M53 141.5h2M58 141.5h2M52 142.5h1M55 142.5h1M57 142.5h1" stroke="#744894" stroke-width="1.1" fill="none"/>
<path d="M72 35.5h3M66 36.5h1M75 37.5h3M79 38.5h1M92 52.5h1M93 53.5h1M101 59.5h1M103 60.5h1M105 66.5h1M106 68.5h1M105 70.5h2M105 71.5h1M104 72.5h2M106 73.5h1M106 74.5h1M106 75.5h1M106 76.5h1M107 77.5h1M106 90.5h1M102 93.5h1M98 94.5h2M101 94.5h1M103 94.5h1M101 95.5h4M100 96.5h1M103 96.5h1M102 100.5h1M101 101.5h1M102 102.5h1M100 110.5h1M98 111.5h1M96 112.5h2M97 113.5h1M96 114.5h1M96 115.5h1M96 116.5h1M92 117.5h1M91 118.5h1M89 120.5h1M88 121.5h1M88 122.5h1M91 122.5h1M87 123.5h2M92 123.5h1M87 124.5h2M91 124.5h1M89 125.5h1M86 126.5h2M87 127.5h1M49 128.5h1M84 128.5h3M84 129.5h1M49 130.5h1M85 130.5h1M51 131.5h1M49 132.5h1M51 132.5h1M47 133.5h2M82 133.5h1M59 134.5h1M54 136.5h1M71 136.5h1M75 136.5h1M67 137.5h5M69 138.5h1M71 138.5h1M65 139.5h2M69 139.5h1M59 140.5h1M58 142.5h2" stroke="#623c84" stroke-width="1.1" fill="none"/>
<path d="M75 35.5h1M76 36.5h1M78 37.5h1M102 59.5h1M106 67.5h1M106 71.5h2M106 72.5h2M107 73.5h1M107 74.5h1M102 94.5h1M103 99.5h1M103 100.5h1M98 112.5h1M98 113.5h2M97 114.5h2M97 115.5h1M97 116.5h1M93 117.5h5M92 118.5h6M91 119.5h6M91 120.5h6M89 121.5h7M92 122.5h3M93 123.5h2M92 124.5h1M88 125.5h1M90 125.5h3M88 126.5h4M88 127.5h3M87 128.5h3M85 129.5h4M87 130.5h1M48 131.5h3M50 132.5h1M58 134.5h1M70 138.5h1M70 139.5h1M65 140.5h2M53 142.5h1" stroke="#4e306c" stroke-width="1.1" fill="none"/>
<circle cx="78.9" cy="97.3" r="1.9" fill="#fbf7fa"/>
<path d="M151.2 87.1h2" stroke="#f6dce6" stroke-width="1.1" fill="none"/>
<path d="M153.2 58.1h2M153.2 59.1h2M154.2 60.1h1M161.2 60.1h1M137.2 61.1h1M143.2 64.1h1M148.2 64.1h4M161.2 64.1h2M148.2 65.1h3M162.2 65.1h1M148.2 66.1h2M138.2 69.1h1M132.2 70.1h1M138.2 70.1h1M131.2 71.1h2M139.2 71.1h1M131.2 72.1h1M144.2 73.1h1M143.2 74.1h3M149.2 74.1h2M143.2 75.1h2M149.2 75.1h2M143.2 76.1h2M131.2 77.1h1M156.2 77.1h1M131.2 78.1h1M135.2 78.1h1M156.2 78.1h1M162.2 80.1h1M162.2 81.1h2M153.2 82.1h1M152.2 83.1h2M151.2 84.1h3M151.2 85.1h3M145.2 86.1h1M150.2 86.1h4M158.2 86.1h1M150.2 87.1h1M153.2 87.1h2M156.2 87.1h3" stroke="#f0c0d2" stroke-width="1.1" fill="none"/>
<path d="M137.2 58.1h1M152.2 58.1h1M155.2 58.1h1M159.2 58.1h5M136.2 59.1h2M152.2 59.1h1M155.2 59.1h5M161.2 59.1h2M135.2 60.1h3M152.2 60.1h2M155.2 60.1h4M162.2 60.1h2M131.2 61.1h3M135.2 61.1h2M138.2 61.1h1M146.2 61.1h1M153.2 61.1h2M157.2 61.1h1M162.2 61.1h2M131.2 62.1h7M146.2 62.1h1M153.2 62.1h1M157.2 62.1h1M162.2 62.1h2M131.2 63.1h1M136.2 63.1h1M143.2 63.1h2M146.2 63.1h2M152.2 63.1h1M154.2 63.1h5M162.2 63.1h2M131.2 64.1h1M141.2 64.1h2M144.2 64.1h1M146.2 64.1h2M152.2 64.1h1M155.2 64.1h5M163.2 64.1h1M139.2 65.1h6M146.2 65.1h2M151.2 65.1h3M155.2 65.1h3M161.2 65.1h1M163.2 65.1h1M141.2 66.1h3M147.2 66.1h1M150.2 66.1h7M161.2 66.1h3M147.2 67.1h3M152.2 67.1h4M137.2 68.1h2M147.2 68.1h2M153.2 68.1h2M137.2 69.1h1M139.2 69.1h1M161.2 69.1h2M131.2 70.1h1M133.2 70.1h1M137.2 70.1h1M139.2 70.1h2M160.2 70.1h4M133.2 71.1h1M137.2 71.1h2M140.2 71.1h2M160.2 71.1h4M132.2 72.1h2M137.2 72.1h5M147.2 72.1h3M151.2 72.1h2M162.2 72.1h2M131.2 73.1h2M138.2 73.1h1M143.2 73.1h1M145.2 73.1h7M161.2 73.1h3M131.2 74.1h1M142.2 74.1h1M146.2 74.1h1M148.2 74.1h1M151.2 74.1h1M156.2 74.1h1M161.2 74.1h3M131.2 75.1h4M142.2 75.1h1M145.2 75.1h1M148.2 75.1h1M151.2 75.1h1M161.2 75.1h3M131.2 76.1h1M133.2 76.1h5M142.2 76.1h1M145.2 76.1h1M148.2 76.1h4M163.2 76.1h1M134.2 77.1h4M142.2 77.1h3M148.2 77.1h3M155.2 77.1h1M162.2 77.1h2M136.2 78.1h1M142.2 78.1h1M154.2 78.1h2M157.2 78.1h1M162.2 78.1h2M131.2 79.1h1M134.2 79.1h3M155.2 79.1h2M162.2 79.1h2M134.2 80.1h2M139.2 80.1h2M163.2 80.1h1M132.2 81.1h2M139.2 81.1h3M132.2 82.1h2M139.2 82.1h3M151.2 82.1h2M154.2 82.1h2M159.2 82.1h5M132.2 83.1h2M140.2 83.1h2M150.2 83.1h2M154.2 83.1h1M162.2 83.1h2M150.2 84.1h1M154.2 84.1h1M142.2 85.1h2M150.2 85.1h1M154.2 85.1h1M158.2 85.1h1M136.2 86.1h1M143.2 86.1h2M146.2 86.1h2M149.2 86.1h1M154.2 86.1h4M159.2 86.1h1M136.2 87.1h2M145.2 87.1h3M149.2 87.1h1M155.2 87.1h1M159.2 87.1h1" stroke="#e8a6be" stroke-width="1.1" fill="none"/>
<path d="M135.2 58.1h2M138.2 58.1h1M143.2 58.1h2M150.2 58.1h2M156.2 58.1h3M138.2 59.1h1M144.2 59.1h3M163.2 59.1h1M138.2 60.1h1M144.2 60.1h3M134.2 61.1h1M144.2 61.1h2M155.2 61.1h2M138.2 62.1h1M143.2 62.1h3M154.2 62.1h3M137.2 63.1h2M142.2 63.1h1M145.2 63.1h1M153.2 63.1h1M137.2 64.1h4M145.2 64.1h1M153.2 64.1h2M131.2 65.1h1M137.2 65.1h2M145.2 65.1h1M154.2 65.1h1M158.2 65.1h3M137.2 66.1h4M144.2 66.1h3M157.2 66.1h1M160.2 66.1h1M132.2 67.1h1M136.2 67.1h4M142.2 67.1h3M146.2 67.1h1M150.2 67.1h2M156.2 67.1h1M161.2 67.1h3M132.2 68.1h5M139.2 68.1h1M142.2 68.1h2M146.2 68.1h1M149.2 68.1h4M155.2 68.1h1M161.2 68.1h3M131.2 69.1h6M140.2 69.1h4M146.2 69.1h3M152.2 69.1h4M160.2 69.1h1M163.2 69.1h1M134.2 70.1h3M141.2 70.1h3M146.2 70.1h3M152.2 70.1h3M159.2 70.1h1M134.2 71.1h3M142.2 71.1h3M146.2 71.1h4M151.2 71.1h3M158.2 71.1h2M134.2 72.1h3M142.2 72.1h5M150.2 72.1h1M153.2 72.1h9M133.2 73.1h1M136.2 73.1h2M139.2 73.1h4M152.2 73.1h9M132.2 74.1h3M136.2 74.1h4M147.2 74.1h1M152.2 74.1h4M157.2 74.1h4M135.2 75.1h5M146.2 75.1h2M152.2 75.1h3M138.2 76.1h2M147.2 76.1h1M152.2 76.1h2M138.2 77.1h1M141.2 77.1h1M151.2 77.1h4M137.2 78.1h1M141.2 78.1h1M149.2 78.1h5M158.2 78.1h2M137.2 79.1h5M152.2 79.1h3M157.2 79.1h2M131.2 80.1h1M136.2 80.1h3M141.2 80.1h1M150.2 80.1h1M154.2 80.1h6M131.2 81.1h1M134.2 81.1h5M150.2 81.1h10M131.2 82.1h1M134.2 82.1h5M150.2 82.1h1M156.2 82.1h3M131.2 83.1h1M134.2 83.1h1M138.2 83.1h2M149.2 83.1h1M155.2 83.1h7M131.2 84.1h4M138.2 84.1h5M149.2 84.1h1M155.2 84.1h1M157.2 84.1h7M131.2 85.1h2M138.2 85.1h4M148.2 85.1h2M155.2 85.1h3M159.2 85.1h3M163.2 85.1h1M131.2 86.1h1M135.2 86.1h1M137.2 86.1h6M148.2 86.1h1M160.2 86.1h1M131.2 87.1h1M135.2 87.1h1M138.2 87.1h7M148.2 87.1h1M160.2 87.1h1" stroke="#e090ae" stroke-width="1.1" fill="none"/>
<path d="M139.2 58.1h4M145.2 58.1h5M139.2 59.1h5M147.2 59.1h1M139.2 60.1h5M139.2 61.1h5M139.2 62.1h4M139.2 63.1h3M131.2 66.1h1M158.2 66.1h2M131.2 67.1h1M145.2 67.1h1M157.2 67.1h4M131.2 68.1h1M144.2 68.1h2M156.2 68.1h5M144.2 69.1h2M149.2 69.1h3M156.2 69.1h4M144.2 70.1h2M149.2 70.1h3M155.2 70.1h4M145.2 71.1h1M150.2 71.1h1M154.2 71.1h4M134.2 73.1h2M135.2 74.1h1M140.2 74.1h2M140.2 75.1h2M140.2 76.1h2M139.2 77.1h2M138.2 78.1h3M150.2 79.1h2M151.2 80.1h3M135.2 83.1h3M135.2 84.1h3M156.2 84.1h1M133.2 85.1h5M162.2 85.1h1M132.2 86.1h3M161.2 86.1h3M132.2 87.1h3M161.2 87.1h3" stroke="#d07a9c" stroke-width="1.1" fill="none"/>
<path d="M140.2 67.1h2M140.2 68.1h2" stroke="#a05590" stroke-width="1.1" fill="none"/>
<path d="M132.2 63.1h4M132.2 64.1h5M132.2 65.1h5M132.2 66.1h5M133.2 67.1h3M132.2 76.1h1M132.2 77.1h2M132.2 78.1h3M132.2 79.1h2M132.2 80.1h2M145.2 81.1h2M145.2 82.1h3M145.2 83.1h3M146.2 84.1h1" stroke="#6e2a7c" stroke-width="1.1" fill="none"/>
<path d="M160.2 59.1h1M159.2 60.1h2M158.2 61.1h4M158.2 62.1h4M159.2 63.1h3M160.2 64.1h1" stroke="#56306a" stroke-width="1.1" fill="none"/>
<path d="M146.2 76.1h1M145.2 77.1h3M143.2 78.1h6M142.2 79.1h8M142.2 80.1h8M142.2 81.1h3M147.2 81.1h3M142.2 82.1h3M148.2 82.1h2M142.2 83.1h3M148.2 83.1h1M143.2 84.1h3M147.2 84.1h2M144.2 85.1h4" stroke="#4a4650" stroke-width="1.1" fill="none"/>
<path d="M155.2 75.1h6M154.2 76.1h9M157.2 77.1h5M160.2 78.1h2M159.2 79.1h3M160.2 80.1h2M160.2 81.1h2" stroke="#b02c4c" stroke-width="1.1" fill="none"/>
<path d="M148.2 59.1h4M147.2 60.1h5M147.2 61.1h6M147.2 62.1h6M148.2 63.1h4" stroke="#7a2a52" stroke-width="1.1" fill="none"/>
<path d="M131.2 58.1h4M131.2 59.1h5M131.2 60.1h4" stroke="#8c4a8c" stroke-width="1.1" fill="none"/>
<path d="M197 36.5h1M200 36.5h11M212 36.5h5M195 37.5h1M197 37.5h1M204 37.5h3M215 37.5h3M195 38.5h1M205 38.5h2M217 38.5h2M217 39.5h3M195 40.5h1M216 40.5h5M195 41.5h1M217 41.5h2M221 41.5h2M221 42.5h3M195 43.5h1M222 43.5h2M222 44.5h3M194 45.5h2M222 45.5h4M225 46.5h2M226 47.5h2M195 48.5h1M227 48.5h1M228 49.5h1M228 50.5h2M229 51.5h2M230 52.5h1M230 53.5h2M231 54.5h2M232 55.5h1M222 56.5h1M232 56.5h2M232 57.5h3M234 58.5h3M236 59.5h2M239 59.5h1M239 60.5h3M241 61.5h1M242 62.5h2M242 63.5h3M242 64.5h1M244 64.5h1M244 65.5h2M245 66.5h1M210 67.5h1M245 67.5h1M245 68.5h2M245 69.5h2M211 70.5h1M245 70.5h1M211 71.5h1M245 71.5h2M244 72.5h3M209 73.5h2M244 73.5h3M245 74.5h3M206 75.5h2M246 75.5h2M203 76.5h3M246 76.5h2M203 77.5h1M245 77.5h2M201 78.5h2M231 78.5h2M245 78.5h2M199 79.5h2M245 79.5h2M246 80.5h1M198 81.5h1M245 81.5h2M245 82.5h2M245 83.5h2M245 84.5h1M244 85.5h2M245 89.5h1M244 90.5h2M244 91.5h2M243 93.5h1M243 94.5h2M242 96.5h1M242 97.5h1M242 98.5h1M241 99.5h1M241 100.5h1M240 101.5h2M240 102.5h1M239 103.5h2M239 104.5h1M239 105.5h1M235 106.5h1M239 106.5h1M238 107.5h1M238 108.5h1M238 109.5h1M237 110.5h2M237 111.5h1M237 112.5h1M223 113.5h1M222 114.5h3M235 114.5h2M223 115.5h2M233 115.5h3M223 116.5h2M233 116.5h1M232 117.5h2M231 118.5h3M229 119.5h4M229 120.5h3M229 121.5h1M228 122.5h2M221 123.5h1M228 123.5h1M225 124.5h3M224 125.5h2M223 126.5h2M198 128.5h1M220 128.5h3M219 129.5h2M217 130.5h3M217 131.5h1M214 132.5h2M212 133.5h3M177 134.5h2M211 134.5h2M176 135.5h2M208 135.5h2M175 136.5h2M206 136.5h4M204 137.5h3M175 138.5h1M201 138.5h4M174 139.5h2M200 139.5h2M177 140.5h2M194 140.5h1M196 140.5h3M179 141.5h4M186 141.5h8M195 141.5h1M180 142.5h5M187 142.5h2M190 142.5h1" stroke="#0f7526" stroke-width="1.1" fill="none"/>
<path d="M201 37.5h3M207 37.5h4M212 37.5h3M196 38.5h1M202 38.5h3M207 38.5h2M213 38.5h4M196 39.5h1M203 39.5h5M214 39.5h3M196 40.5h1M203 40.5h3M213 40.5h3M196 41.5h1M203 41.5h2M212 41.5h5M219 41.5h2M195 42.5h2M211 42.5h10M211 43.5h1M219 43.5h3M198 44.5h2M217 44.5h5M217 45.5h5M203 46.5h1M217 46.5h3M221 46.5h4M195 47.5h1M202 47.5h3M208 47.5h3M217 47.5h1M223 47.5h3M201 48.5h4M209 48.5h2M224 48.5h3M204 49.5h1M209 49.5h1M216 49.5h2M226 49.5h2M217 50.5h1M227 50.5h1M228 51.5h1M229 52.5h1M201 53.5h1M229 53.5h1M203 54.5h1M209 54.5h1M230 54.5h1M215 55.5h2M219 55.5h1M221 55.5h3M230 55.5h2M209 56.5h1M216 56.5h1M219 56.5h1M221 56.5h1M223 56.5h1M229 56.5h3M199 57.5h1M215 57.5h1M217 57.5h1M221 57.5h3M228 57.5h4M222 58.5h1M228 58.5h2M203 59.5h2M206 59.5h2M228 59.5h2M233 59.5h3M202 60.5h1M204 60.5h2M207 60.5h1M210 60.5h1M234 60.5h3M235 61.5h2M203 62.5h1M239 62.5h2M201 63.5h1M239 63.5h3M208 64.5h1M220 64.5h1M239 64.5h2M219 65.5h3M242 65.5h2M218 66.5h2M220 67.5h1M244 67.5h1M218 68.5h1M227 69.5h1M244 69.5h1M212 70.5h1M244 70.5h1M212 71.5h1M217 71.5h1M242 71.5h3M211 72.5h1M218 72.5h1M242 72.5h2M211 73.5h1M218 73.5h2M243 73.5h1M210 74.5h1M218 74.5h2M225 74.5h1M244 74.5h1M205 75.5h1M209 75.5h1M219 75.5h1M245 75.5h1M206 76.5h2M209 76.5h1M245 76.5h1M206 77.5h1M224 77.5h1M229 77.5h1M231 77.5h3M208 78.5h1M223 78.5h1M233 78.5h1M243 78.5h2M201 79.5h2M231 79.5h4M243 79.5h2M198 80.5h4M231 80.5h4M243 80.5h3M197 81.5h1M233 81.5h2M202 82.5h3M213 82.5h1M234 82.5h1M211 83.5h2M225 83.5h2M212 84.5h1M231 84.5h1M242 84.5h3M231 85.5h1M241 85.5h3M218 86.5h1M242 86.5h3M223 87.5h1M202 88.5h1M219 88.5h3M226 88.5h1M221 89.5h2M225 89.5h2M193 90.5h1M205 91.5h1M213 91.5h1M201 92.5h1M208 92.5h1M197 94.5h1M200 94.5h1M236 94.5h5M196 95.5h2M208 95.5h1M226 95.5h1M236 95.5h6M235 96.5h7M235 97.5h1M238 97.5h4M195 98.5h1M239 98.5h3M239 99.5h2M226 100.5h1M240 100.5h1M237 101.5h2M237 102.5h3M194 103.5h1M207 103.5h1M237 103.5h2M235 104.5h4M193 105.5h1M210 105.5h1M234 105.5h2M237 105.5h2M191 106.5h1M193 106.5h1M210 106.5h1M219 106.5h2M234 106.5h1M236 106.5h3M233 107.5h5M191 108.5h1M195 108.5h1M210 108.5h1M219 108.5h1M227 108.5h1M233 108.5h2M236 108.5h1M203 109.5h1M218 109.5h3M227 109.5h1M233 109.5h5M210 110.5h1M220 110.5h1M234 110.5h3M206 111.5h1M220 111.5h1M235 111.5h2M188 112.5h1M214 112.5h3M219 112.5h4M224 112.5h1M234 112.5h3M216 113.5h1M218 113.5h5M224 113.5h2M230 113.5h2M235 113.5h1M221 114.5h1M225 114.5h1M231 114.5h3M208 115.5h1M222 115.5h1M225 115.5h1M231 115.5h2M208 116.5h2M222 116.5h1M225 116.5h1M232 116.5h1M206 117.5h2M217 117.5h1M223 117.5h2M229 117.5h3M205 118.5h1M216 118.5h3M229 118.5h2M183 119.5h1M199 119.5h1M206 119.5h1M216 119.5h3M192 120.5h1M216 120.5h3M216 121.5h2M220 121.5h2M228 121.5h1M220 122.5h3M220 123.5h1M222 123.5h1M225 123.5h3M188 124.5h1M220 124.5h3M224 124.5h1M187 125.5h1M219 125.5h2M223 125.5h1M182 126.5h2M219 126.5h1M197 127.5h3M222 127.5h1M197 128.5h1M199 128.5h2M197 129.5h4M182 130.5h1M198 130.5h3M182 131.5h1M202 131.5h3M213 131.5h4M180 132.5h3M203 132.5h3M213 132.5h1M216 132.5h1M180 133.5h2M195 133.5h1M179 134.5h2M194 134.5h2M210 134.5h1M196 138.5h1M176 139.5h4M181 139.5h1M195 139.5h3M179 140.5h4M186 140.5h5M183 141.5h3" stroke="#2c9a3c" stroke-width="1.1" fill="none"/>
<path d="M198 37.5h3M211 37.5h1M197 38.5h5M209 38.5h2M212 38.5h1M197 39.5h1M199 39.5h4M208 39.5h2M212 39.5h2M197 40.5h1M201 40.5h2M206 40.5h4M212 40.5h1M197 41.5h1M201 41.5h2M205 41.5h7M197 42.5h2M201 42.5h10M197 43.5h5M205 43.5h3M210 43.5h1M212 43.5h1M214 43.5h1M216 43.5h2M195 44.5h3M200 44.5h3M205 44.5h3M211 44.5h1M216 44.5h1M196 45.5h5M202 45.5h6M210 45.5h1M215 45.5h2M196 46.5h7M204 46.5h1M207 46.5h5M216 46.5h1M220 46.5h1M196 47.5h6M205 47.5h1M207 47.5h1M211 47.5h1M216 47.5h1M218 47.5h5M196 48.5h5M205 48.5h1M207 48.5h2M211 48.5h13M195 49.5h1M199 49.5h5M208 49.5h1M210 49.5h6M218 49.5h1M222 49.5h4M201 50.5h4M212 50.5h5M218 50.5h2M224 50.5h3M204 51.5h1M208 51.5h1M210 51.5h1M216 51.5h4M224 51.5h4M202 52.5h1M210 52.5h1M217 52.5h3M224 52.5h5M200 53.5h1M204 53.5h1M213 53.5h1M218 53.5h3M223 53.5h6M199 54.5h3M208 54.5h1M211 54.5h4M219 54.5h8M229 54.5h1M199 55.5h2M204 55.5h1M207 55.5h1M213 55.5h1M217 55.5h2M220 55.5h1M224 55.5h2M228 55.5h2M208 56.5h1M217 56.5h1M224 56.5h1M227 56.5h2M203 57.5h1M212 57.5h1M214 57.5h1M219 57.5h1M224 57.5h1M227 57.5h1M206 58.5h1M210 58.5h1M217 58.5h1M221 58.5h1M223 58.5h2M227 58.5h1M230 58.5h2M216 59.5h1M224 59.5h1M227 59.5h1M230 59.5h1M232 59.5h1M199 60.5h1M208 60.5h1M224 60.5h1M227 60.5h3M233 60.5h1M237 60.5h2M222 61.5h1M224 61.5h1M228 61.5h1M233 61.5h2M237 61.5h4M199 62.5h1M201 62.5h1M214 62.5h1M216 62.5h1M222 62.5h1M224 62.5h1M234 62.5h5M241 62.5h1M205 63.5h1M238 63.5h1M221 64.5h1M238 64.5h1M209 65.5h2M222 65.5h1M239 65.5h3M242 66.5h3M211 67.5h1M235 67.5h2M241 67.5h3M222 68.5h1M226 68.5h1M234 68.5h10M212 69.5h1M219 69.5h1M221 69.5h1M234 69.5h10M218 70.5h1M227 70.5h1M234 70.5h10M218 71.5h1M226 71.5h3M234 71.5h8M224 72.5h1M227 72.5h1M233 72.5h2M240 72.5h2M223 73.5h2M230 73.5h1M241 73.5h2M209 74.5h1M211 74.5h1M215 74.5h1M223 74.5h2M230 74.5h1M243 74.5h1M210 75.5h1M215 75.5h2M224 75.5h2M227 75.5h1M230 75.5h1M244 75.5h1M208 76.5h1M216 76.5h1M227 76.5h1M230 76.5h5M244 76.5h1M204 77.5h2M223 77.5h1M234 77.5h2M242 77.5h3M203 78.5h4M218 78.5h1M226 78.5h2M234 78.5h1M241 78.5h2M204 79.5h2M216 79.5h2M226 79.5h1M242 79.5h1M222 80.5h1M227 80.5h1M235 80.5h1M241 80.5h2M199 81.5h2M202 81.5h1M210 81.5h2M225 81.5h1M227 81.5h2M231 81.5h2M235 81.5h1M238 81.5h7M211 82.5h1M214 82.5h1M216 82.5h1M221 82.5h1M224 82.5h2M227 82.5h1M229 82.5h1M231 82.5h3M235 82.5h2M238 82.5h7M216 83.5h2M221 83.5h1M224 83.5h1M228 83.5h1M231 83.5h6M239 83.5h6M225 84.5h2M229 84.5h1M232 84.5h4M240 84.5h2M197 85.5h1M218 85.5h2M229 85.5h1M232 85.5h2M240 85.5h1M203 86.5h1M227 86.5h1M231 86.5h2M241 86.5h1M227 87.5h1M230 87.5h3M241 87.5h3M231 88.5h2M227 89.5h1M231 89.5h2M239 89.5h3M211 90.5h1M222 90.5h1M225 90.5h1M227 90.5h2M239 90.5h5M210 91.5h1M222 91.5h2M226 91.5h4M239 91.5h4M226 92.5h2M229 92.5h1M239 92.5h4M244 92.5h1M216 93.5h1M230 93.5h1M235 93.5h2M238 93.5h5M195 94.5h2M222 94.5h1M225 94.5h1M227 94.5h1M229 94.5h2M234 94.5h2M241 94.5h2M198 95.5h3M202 95.5h1M207 95.5h1M219 95.5h1M229 95.5h2M234 95.5h2M242 95.5h1M200 96.5h1M227 96.5h1M229 96.5h3M234 96.5h1M204 97.5h1M224 97.5h1M226 97.5h1M229 97.5h3M234 97.5h1M236 97.5h2M225 98.5h2M229 98.5h3M234 98.5h5M208 99.5h1M222 99.5h1M225 99.5h2M229 99.5h3M234 99.5h1M238 99.5h1M212 100.5h1M228 100.5h2M234 100.5h1M237 100.5h3M192 101.5h1M235 101.5h2M239 101.5h1M235 102.5h2M235 103.5h1M191 104.5h2M209 104.5h3M213 104.5h1M234 104.5h1M191 105.5h2M211 105.5h1M221 105.5h1M233 105.5h1M192 106.5h1M221 106.5h1M224 106.5h2M232 106.5h2M191 107.5h1M209 107.5h3M223 107.5h5M231 107.5h2M198 108.5h2M209 108.5h1M211 108.5h1M218 108.5h1M220 108.5h1M222 108.5h5M228 108.5h1M231 108.5h2M207 109.5h1M210 109.5h1M226 109.5h1M228 109.5h1M203 110.5h1M219 110.5h1M221 110.5h1M189 111.5h2M207 111.5h2M214 111.5h1M221 111.5h4M233 111.5h1M189 112.5h1M199 112.5h1M203 112.5h1M208 112.5h2M225 112.5h1M233 112.5h1M198 113.5h1M226 113.5h1M229 113.5h1M232 113.5h3M200 114.5h1M203 114.5h1M220 114.5h1M186 115.5h2M209 115.5h2M221 115.5h1M229 115.5h2M226 116.5h1M229 116.5h3M186 117.5h1M202 117.5h1M204 117.5h1M208 117.5h2M216 117.5h1M218 117.5h2M222 117.5h1M225 117.5h1M228 117.5h1M193 118.5h1M204 118.5h1M207 118.5h1M210 118.5h1M215 118.5h1M219 118.5h4M224 118.5h2M228 118.5h1M198 119.5h1M205 119.5h1M208 119.5h1M212 119.5h4M219 119.5h4M224 119.5h1M228 119.5h1M182 120.5h2M193 120.5h1M200 120.5h1M207 120.5h1M214 120.5h2M220 120.5h6M228 120.5h1M184 121.5h1M193 121.5h1M201 121.5h1M206 121.5h1M214 121.5h2M218 121.5h2M222 121.5h6M182 122.5h1M206 122.5h2M214 122.5h6M223 122.5h5M181 123.5h1M183 123.5h1M185 123.5h1M204 123.5h4M214 123.5h2M218 123.5h2M223 123.5h2M180 124.5h2M183 124.5h1M204 124.5h4M213 124.5h3M218 124.5h2M223 124.5h1M183 125.5h1M201 125.5h1M205 125.5h2M212 125.5h3M218 125.5h1M221 125.5h2M181 126.5h1M199 126.5h3M207 126.5h8M217 126.5h2M220 126.5h3M183 127.5h1M187 127.5h1M200 127.5h1M208 127.5h4M213 127.5h2M217 127.5h5M184 128.5h2M187 128.5h2M196 128.5h1M201 128.5h1M212 128.5h2M217 128.5h3M185 129.5h1M192 129.5h1M195 129.5h2M201 129.5h3M212 129.5h3M216 129.5h3M181 130.5h1M191 130.5h7M201 130.5h5M212 130.5h2M215 130.5h2M183 131.5h1M191 131.5h11M205 131.5h1M209 131.5h4M179 132.5h1M191 132.5h2M194 132.5h5M202 132.5h1M206 132.5h7M178 133.5h2M191 133.5h4M196 133.5h2M202 133.5h10M181 134.5h1M191 134.5h3M196 134.5h1M204 134.5h6M178 135.5h6M190 135.5h4M195 135.5h2M205 135.5h3M177 136.5h7M189 136.5h3M195 136.5h1M205 136.5h1M175 137.5h9M189 137.5h2M196 137.5h2M203 137.5h1M176 138.5h8M188 138.5h3M195 138.5h1M197 138.5h2M180 139.5h1M183 139.5h8M194 139.5h1M199 139.5h1M183 140.5h3M191 140.5h3" stroke="#4cb455" stroke-width="1.1" fill="none"/>
<path d="M211 38.5h1M198 39.5h1M210 39.5h2M198 40.5h3M210 40.5h1M198 41.5h3M199 42.5h2M202 43.5h3M208 43.5h2M213 43.5h1M203 44.5h2M208 44.5h2M212 44.5h4M208 45.5h2M212 45.5h3M205 46.5h2M212 46.5h4M206 47.5h1M212 47.5h4M206 48.5h1M205 49.5h3M220 49.5h2M210 50.5h2M220 50.5h4M205 51.5h1M209 51.5h1M213 51.5h1M215 51.5h1M220 51.5h4M215 52.5h2M220 52.5h4M199 53.5h1M212 53.5h1M214 53.5h1M217 53.5h1M221 53.5h2M227 54.5h2M206 55.5h1M226 55.5h2M206 56.5h2M213 56.5h1M225 56.5h2M205 57.5h1M207 57.5h2M225 57.5h2M199 58.5h1M212 58.5h1M220 58.5h1M225 58.5h2M205 59.5h1M223 59.5h1M225 59.5h2M231 59.5h1M222 60.5h2M225 60.5h2M230 60.5h3M206 61.5h1M219 61.5h1M223 61.5h1M225 61.5h3M229 61.5h4M212 62.5h1M225 62.5h9M213 63.5h1M215 63.5h1M222 63.5h3M227 63.5h11M207 64.5h1M210 64.5h1M214 64.5h1M228 64.5h10M208 65.5h1M223 65.5h2M228 65.5h11M223 66.5h1M225 66.5h1M229 66.5h2M234 66.5h3M238 66.5h4M225 67.5h1M229 67.5h1M234 67.5h1M237 67.5h4M211 68.5h2M221 68.5h1M229 68.5h1M233 68.5h1M211 69.5h1M218 69.5h1M220 69.5h1M230 69.5h4M219 70.5h2M228 70.5h1M231 70.5h1M229 71.5h1M231 71.5h3M228 72.5h1M230 72.5h3M235 72.5h5M227 73.5h1M231 73.5h7M239 73.5h2M226 74.5h4M231 74.5h5M240 74.5h3M208 75.5h1M228 75.5h2M231 75.5h6M240 75.5h4M213 76.5h1M236 76.5h1M240 76.5h4M222 77.5h1M226 77.5h2M236 77.5h1M240 77.5h2M211 78.5h1M235 78.5h1M240 78.5h1M235 79.5h1M240 79.5h2M212 80.5h1M238 80.5h3M208 81.5h1M223 81.5h2M230 81.5h1M236 81.5h2M210 82.5h1M215 82.5h1M217 82.5h1M223 82.5h1M230 82.5h1M237 82.5h1M207 83.5h2M223 83.5h1M230 83.5h1M237 83.5h2M200 84.5h1M230 84.5h1M236 84.5h4M204 85.5h1M222 85.5h1M230 85.5h1M235 85.5h1M237 85.5h3M223 86.5h2M233 86.5h2M239 86.5h2M233 87.5h1M240 87.5h1M244 87.5h2M196 88.5h1M209 88.5h1M233 88.5h1M239 88.5h6M206 89.5h1M233 89.5h1M238 89.5h1M242 89.5h3M198 90.5h1M230 90.5h5M237 90.5h2M194 91.5h1M224 91.5h1M230 91.5h9M243 91.5h1M217 92.5h1M228 92.5h1M230 92.5h2M233 92.5h4M238 92.5h1M243 92.5h1M215 93.5h1M223 93.5h1M229 93.5h1M231 93.5h4M219 94.5h1M223 94.5h2M231 94.5h3M222 95.5h3M231 95.5h3M203 96.5h1M232 96.5h2M208 97.5h1M222 97.5h1M228 97.5h1M232 97.5h2M199 98.5h1M222 98.5h3M228 98.5h1M232 98.5h1M200 99.5h1M223 99.5h2M232 99.5h2M235 99.5h3M194 100.5h1M196 100.5h1M207 100.5h1M221 100.5h1M227 100.5h1M231 100.5h1M233 100.5h1M236 100.5h1M196 101.5h1M201 101.5h1M219 101.5h1M225 101.5h2M228 101.5h3M234 101.5h1M194 102.5h1M208 102.5h1M219 102.5h1M234 102.5h1M193 104.5h1M196 104.5h1M228 104.5h3M233 104.5h1M218 105.5h1M222 105.5h1M224 105.5h2M228 105.5h5M211 106.5h2M226 106.5h6M228 107.5h3M201 108.5h1M206 108.5h3M217 108.5h1M229 108.5h2M215 109.5h1M221 109.5h5M229 109.5h3M206 110.5h2M222 110.5h6M229 110.5h1M231 110.5h1M188 111.5h1M212 111.5h1M219 111.5h1M225 111.5h5M232 111.5h1M190 112.5h2M196 112.5h1M226 112.5h7M227 113.5h2M207 114.5h1M211 114.5h1M215 114.5h1M217 114.5h3M226 114.5h3M193 115.5h1M197 115.5h1M216 115.5h5M226 115.5h3M191 116.5h1M193 116.5h1M215 116.5h7M227 116.5h2M214 117.5h2M220 117.5h2M226 117.5h2M208 118.5h2M211 118.5h4M226 118.5h2M186 119.5h1M192 119.5h1M211 119.5h1M225 119.5h3M190 120.5h1M202 120.5h1M208 120.5h1M211 120.5h3M226 120.5h2M182 121.5h1M192 121.5h1M207 121.5h1M212 121.5h2M193 122.5h1M208 122.5h1M212 122.5h2M182 123.5h1M192 123.5h3M199 123.5h1M208 123.5h1M212 123.5h1M216 123.5h2M182 124.5h1M193 124.5h2M196 124.5h2M199 124.5h1M203 124.5h1M208 124.5h1M212 124.5h1M216 124.5h2M181 125.5h2M195 125.5h1M200 125.5h1M202 125.5h3M208 125.5h4M215 125.5h3M187 126.5h1M192 126.5h3M202 126.5h2M205 126.5h2M215 126.5h2M181 127.5h2M189 127.5h1M193 127.5h1M201 127.5h1M203 127.5h5M215 127.5h2M195 128.5h1M202 128.5h10M214 128.5h3M182 129.5h1M187 129.5h1M189 129.5h1M191 129.5h1M193 129.5h2M204 129.5h4M209 129.5h3M215 129.5h1M190 130.5h1M206 130.5h2M209 130.5h1M179 131.5h1M187 131.5h4M206 131.5h3M178 132.5h1M183 132.5h5M190 132.5h1M199 132.5h3M182 133.5h5M190 133.5h1M198 133.5h1M201 133.5h1M182 134.5h5M190 134.5h1M197 134.5h1M202 134.5h2M184 135.5h3M189 135.5h1M197 135.5h1M201 135.5h4M184 136.5h2M188 136.5h1M192 136.5h3M196 136.5h5M202 136.5h3M184 137.5h1M187 137.5h2M191 137.5h1M194 137.5h2M198 137.5h5M184 138.5h4M191 138.5h1M194 138.5h1M199 138.5h2M191 139.5h2" stroke="#7ccb78" stroke-width="1.1" fill="none"/>
<path d="M198 50.5h1M198 51.5h1M212 51.5h1M213 52.5h2M213 62.5h1M212 63.5h1M225 63.5h2M223 64.5h2M227 64.5h1M227 65.5h1M224 66.5h1M231 66.5h3M213 67.5h1M231 67.5h3M210 68.5h1M230 68.5h3M210 69.5h1M230 71.5h1M223 72.5h1M238 73.5h1M236 74.5h4M237 75.5h3M237 76.5h3M237 77.5h3M236 78.5h4M236 79.5h3M236 80.5h2M221 84.5h1M224 84.5h1M235 86.5h4M234 87.5h1M236 87.5h3M207 88.5h1M234 88.5h5M234 89.5h4M235 90.5h2M232 92.5h1M225 93.5h1M223 96.5h1M218 99.5h2M218 100.5h1M232 100.5h1M194 101.5h2M221 101.5h1M227 101.5h1M231 101.5h3M195 102.5h1M215 102.5h1M226 102.5h8M225 103.5h9M223 104.5h1M225 104.5h3M231 104.5h2M200 105.5h1M202 105.5h1M226 105.5h2M201 106.5h1M213 106.5h1M215 107.5h1M206 109.5h1M230 110.5h1M230 111.5h2M204 114.5h1M213 114.5h1M213 115.5h3M213 117.5h1M209 119.5h2M194 120.5h2M209 120.5h2M194 121.5h1M196 121.5h1M209 121.5h3M195 122.5h1M209 122.5h3M198 123.5h1M209 123.5h3M195 124.5h1M209 124.5h3M194 125.5h1M195 126.5h1M204 126.5h1M194 128.5h1M188 129.5h1M190 129.5h1M208 129.5h1M187 130.5h3M208 130.5h1M178 131.5h1M186 131.5h1M188 132.5h2M187 133.5h2M199 133.5h2M187 134.5h3M198 134.5h4M187 135.5h2M198 135.5h3M186 136.5h2M186 137.5h1M192 137.5h2M192 138.5h2" stroke="#b2e2aa" stroke-width="1.1" fill="none"/>
<path d="M197 51.5h1M223 102.5h1M225 102.5h1M212 116.5h1M214 116.5h1" stroke="#d9f0d4" stroke-width="1.1" fill="none"/>
<rect x="63" y="167.5" width="103.8" height="46.1" fill="#3daeb2"/>
<path d="M84.8 173.8h1.1M134.3 192.2h1.1M66.5 193.4h1.1M74.5 193.4h1.1M134.3 193.4h1.1M74.5 194.5h1.1M73.3 195.7h2.3M88.3 196.8h2.3M115.9 200.3h1.1M115.9 202.6h2.3M115.9 203.7h2.3M92.9 211.8h1.1M92.9 212.9h1.1M92.9 214.1h1.1" stroke="#2a78d0" stroke-width="1.2" fill="none"/>
<path d="M156.1 168.1h1.1M114.8 169.2h1.1M130.8 170.4h1.1M152.7 171.5h1.1M87.2 172.7h1.1M86 173.8h2.3M89.5 173.8h1.1M84.8 175h1.1M87.2 175h3.4M88.3 176.1h1.1M88.3 177.3h1.1M88.3 178.4h1.1M161.9 180.7h1.1M76.8 181.9h1.1M144.6 181.9h1.1M75.7 183h2.3M76.8 184.2h1.1M105.5 184.2h1.1M76.8 185.3h1.1M76.8 186.5h1.1M132 187.6h1.1M155 188.8h1.1M66.5 191.1h1.1M134.3 191.1h1.1M74.5 192.2h1.1M73.3 193.4h1.1M114.8 193.4h1.1M66.5 194.5h1.1M73.3 194.5h1.1M79.1 194.5h1.1M127.4 194.5h1.1M134.3 194.5h1.1M66.5 195.7h1.1M79.1 195.7h1.1M88.3 195.7h2.3M92.9 195.7h1.1M113.6 195.7h1.1M127.4 195.7h1.1M134.3 195.7h1.1M73.3 196.8h2.3M94 196.8h1.1M73.3 198h1.1M88.3 198h2.3M92.9 198h1.1M117 200.3h1.1M130.8 200.3h1.1M113.6 201.4h4.6M166.5 201.4h1.1M113.6 202.6h1.1M128.6 202.6h1.1M84.8 203.7h1.1M113.6 203.7h1.1M83.7 204.9h2.3M113.6 204.9h1.1M115.9 204.9h2.3M160.8 204.9h1.1M84.8 206h3.4M115.9 206h1.1M113.6 207.2h1.1M113.6 208.3h1.1M96.3 209.5h1.1M63 210.6h1.1M96.3 210.6h1.1M63 211.8h1.1M71 211.8h1.1M161.9 211.8h1.1M71 212.9h1.1M96.3 212.9h2.3M161.9 212.9h3.4M148.1 214.1h1.1M163.1 214.1h2.3" stroke="#2f8ad6" stroke-width="1.2" fill="none"/>
<path d="M63 168.1h1.1M79.1 168.1h1.1M92.9 168.1h1.1M114.8 168.1h1.1M122.8 168.1h1.1M141.2 168.1h1.1M152.7 168.1h1.1M92.9 169.2h1.1M115.9 169.2h1.1M152.7 169.2h1.1M156.1 169.2h1.1M89.5 170.4h1.1M98.7 170.4h1.1M129.7 170.4h1.1M152.7 170.4h2.3M166.5 170.4h1.1M83.7 171.5h1.1M89.5 171.5h1.1M114.8 171.5h1.1M129.7 171.5h1.1M156.1 171.5h1.1M83.7 172.7h2.3M88.3 172.7h2.3M163.1 172.7h1.1M63 173.8h1.1M66.5 173.8h1.1M83.7 173.8h1.1M88.3 173.8h1.1M123.9 173.8h2.3M129.7 173.8h1.1M148.1 173.8h1.1M153.8 173.8h1.1M166.5 173.8h1.1M63 175h1.1M66.5 175h1.1M83.7 175h1.1M86 175h1.1M123.9 175h2.3M153.8 175h1.1M63 176.1h1.1M69.9 176.1h1.1M78 176.1h1.1M84.8 176.1h1.1M97.5 176.1h1.1M123.9 176.1h1.1M129.7 176.1h1.1M142.3 176.1h1.1M161.9 176.1h1.1M166.5 176.1h1.1M66.5 177.3h1.1M82.5 177.3h3.4M87.2 177.3h1.1M97.5 177.3h1.1M125.1 177.3h1.1M157.3 177.3h1.1M161.9 177.3h1.1M66.5 178.4h1.1M78 178.4h1.1M84.8 178.4h1.1M87.2 178.4h1.1M144.6 178.4h1.1M66.5 179.6h2.3M144.6 179.6h1.1M160.8 179.6h2.3M66.5 180.7h2.3M111.3 180.7h2.3M144.6 180.7h1.1M160.8 180.7h1.1M67.6 181.9h1.1M75.7 181.9h1.1M112.4 181.9h1.1M114.8 183h2.3M145.8 183h1.1M75.7 184.2h1.1M91.8 184.2h1.1M113.6 184.2h1.1M115.9 184.2h1.1M133.1 184.2h1.1M145.8 184.2h1.1M151.6 184.2h1.1M165.3 184.2h1.1M105.5 185.3h1.1M136.6 185.3h1.1M155 185.3h1.1M165.3 185.3h1.1M66.5 186.5h2.3M79.1 186.5h1.1M105.5 186.5h1.1M112.4 186.5h2.3M132 186.5h1.1M149.2 186.5h1.1M155 186.5h1.1M164.2 186.5h2.3M67.6 187.6h1.1M72.2 187.6h1.1M76.8 187.6h1.1M113.6 187.6h1.1M123.9 187.6h1.1M128.6 187.6h1.1M155 187.6h1.1M161.9 187.6h2.3M66.5 188.8h1.1M69.9 188.8h1.1M72.2 188.8h1.1M112.4 188.8h1.1M123.9 188.8h1.1M132 188.8h1.1M136.6 188.8h1.1M152.7 188.8h1.1M164.2 188.8h1.1M66.5 189.9h1.1M72.2 189.9h2.3M123.9 189.9h1.1M128.6 189.9h1.1M132 189.9h3.4M136.6 189.9h1.1M155 189.9h1.1M165.3 189.9h1.1M68.8 191.1h3.4M73.3 191.1h2.3M79.1 191.1h1.1M121.7 191.1h1.1M132 191.1h2.3M135.4 191.1h2.3M138.9 191.1h2.3M165.3 191.1h1.1M64.2 192.2h3.4M68.8 192.2h1.1M71 192.2h1.1M73.3 192.2h1.1M79.1 192.2h1.1M113.6 192.2h2.3M117 192.2h2.3M127.4 192.2h1.1M136.6 192.2h1.1M138.9 192.2h2.3M152.7 192.2h1.1M64.2 193.4h2.3M68.8 193.4h1.1M79.1 193.4h1.1M88.3 193.4h2.3M95.2 193.4h1.1M113.6 193.4h1.1M138.9 193.4h1.1M152.7 193.4h1.1M64.2 194.5h2.3M68.8 194.5h1.1M87.2 194.5h2.3M92.9 194.5h2.3M96.3 194.5h2.3M113.6 194.5h1.1M118.2 194.5h1.1M120.5 194.5h2.3M64.2 195.7h1.1M67.6 195.7h2.3M80.2 195.7h2.3M87.2 195.7h1.1M94 195.7h1.1M97.5 195.7h1.1M117 195.7h1.1M120.5 195.7h2.3M128.6 195.7h1.1M64.2 196.8h1.1M66.5 196.8h1.1M82.5 196.8h3.4M87.2 196.8h1.1M91.8 196.8h2.3M95.2 196.8h1.1M97.5 196.8h1.1M113.6 196.8h1.1M121.7 196.8h1.1M123.9 196.8h1.1M127.4 196.8h2.3M151.6 196.8h1.1M74.5 198h1.1M81.4 198h1.1M87.2 198h1.1M91.8 198h1.1M113.6 198h1.1M152.7 198h1.1M165.3 198h1.1M73.3 199.1h2.3M84.8 199.1h1.1M87.2 199.1h3.4M113.6 199.1h2.3M128.6 199.1h1.1M152.7 199.1h1.1M161.9 199.1h1.1M66.5 200.3h1.1M75.7 200.3h1.1M113.6 200.3h2.3M119.3 200.3h1.1M121.7 200.3h1.1M166.5 200.3h1.1M87.2 201.4h1.1M128.6 201.4h1.1M130.8 201.4h1.1M142.3 201.4h1.1M66.5 202.6h1.1M84.8 202.6h2.3M96.3 202.6h1.1M110.2 202.6h1.1M114.8 202.6h1.1M129.7 202.6h2.3M142.3 202.6h1.1M74.5 203.7h1.1M83.7 203.7h1.1M86 203.7h3.4M96.3 203.7h1.1M106.7 203.7h1.1M112.4 203.7h1.1M114.8 203.7h1.1M158.4 203.7h1.1M160.8 203.7h1.1M86 204.9h2.3M96.3 204.9h1.1M107.8 204.9h1.1M114.8 204.9h1.1M161.9 204.9h1.1M83.7 206h1.1M96.3 206h1.1M113.6 206h2.3M117 206h1.1M160.8 206h1.1M78 207.2h1.1M86 207.2h1.1M89.5 207.2h1.1M96.3 207.2h1.1M114.8 207.2h2.3M160.8 207.2h1.1M63 208.3h1.1M89.5 208.3h1.1M92.9 208.3h1.1M96.3 208.3h1.1M150.4 208.3h1.1M63 209.5h1.1M71 209.5h1.1M89.5 209.5h1.1M92.9 209.5h1.1M122.8 209.5h1.1M125.1 209.5h1.1M150.4 209.5h1.1M71 210.6h1.1M89.5 210.6h1.1M92.9 210.6h2.3M97.5 210.6h1.1M102.1 210.6h1.1M129.7 210.6h1.1M72.2 211.8h1.1M94 211.8h1.1M96.3 211.8h1.1M129.7 211.8h1.1M148.1 211.8h1.1M150.4 211.8h1.1M163.1 211.8h2.3M72.2 212.9h1.1M129.7 212.9h1.1M148.1 212.9h3.4M158.4 212.9h1.1M165.3 212.9h1.1M67.6 214.1h1.1M94 214.1h1.1M96.3 214.1h1.1M106.7 214.1h1.1M149.2 214.1h2.3M158.4 214.1h1.1M161.9 214.1h1.1M165.3 214.1h1.1" stroke="#3298cc" stroke-width="1.2" fill="none"/>
<path d="M64.2 168.1h1.1M72.2 168.1h1.1M80.2 168.1h1.1M89.5 168.1h1.1M98.7 168.1h1.1M107.8 168.1h1.1M112.4 168.1h1.1M115.9 168.1h1.1M126.2 168.1h1.1M129.7 168.1h2.3M140.1 168.1h1.1M142.3 168.1h1.1M153.8 168.1h1.1M158.4 168.1h2.3M166.5 168.1h1.1M66.5 169.2h1.1M71 169.2h2.3M79.1 169.2h2.3M89.5 169.2h1.1M91.8 169.2h1.1M100.9 169.2h1.1M107.8 169.2h1.1M126.2 169.2h1.1M129.7 169.2h2.3M133.1 169.2h2.3M141.2 169.2h1.1M153.8 169.2h1.1M166.5 169.2h1.1M63 170.4h2.3M66.5 170.4h2.3M72.2 170.4h1.1M79.1 170.4h1.1M83.7 170.4h3.4M88.3 170.4h1.1M90.6 170.4h1.1M107.8 170.4h1.1M114.8 170.4h2.3M122.8 170.4h1.1M134.3 170.4h1.1M141.2 170.4h1.1M156.1 170.4h1.1M67.6 171.5h1.1M71 171.5h2.3M79.1 171.5h3.4M84.8 171.5h1.1M87.2 171.5h2.3M98.7 171.5h1.1M115.9 171.5h2.3M120.5 171.5h1.1M128.6 171.5h1.1M130.8 171.5h1.1M144.6 171.5h1.1M149.2 171.5h1.1M153.8 171.5h2.3M166.5 171.5h1.1M63 172.7h1.1M65.3 172.7h3.4M78 172.7h4.6M86 172.7h1.1M98.7 172.7h1.1M107.8 172.7h1.1M115.9 172.7h1.1M120.5 172.7h1.1M126.2 172.7h5.8M144.6 172.7h1.1M148.1 172.7h2.3M152.7 172.7h3.4M166.5 172.7h1.1M65.3 173.8h1.1M67.6 173.8h5.8M78 173.8h1.1M80.2 173.8h2.3M90.6 173.8h1.1M97.5 173.8h1.1M114.8 173.8h2.3M122.8 173.8h1.1M126.2 173.8h1.1M128.6 173.8h1.1M146.9 173.8h1.1M149.2 173.8h1.1M152.7 173.8h1.1M161.9 173.8h2.3M165.3 173.8h1.1M65.3 175h1.1M67.6 175h3.4M79.1 175h4.6M90.6 175h2.3M97.5 175h1.1M126.2 175h1.1M129.7 175h1.1M146.9 175h2.3M150.4 175h1.1M152.7 175h1.1M157.3 175h1.1M161.9 175h3.4M166.5 175h1.1M64.2 176.1h4.6M81.4 176.1h3.4M86 176.1h2.3M89.5 176.1h1.1M99.8 176.1h2.3M118.2 176.1h1.1M121.7 176.1h2.3M125.1 176.1h2.3M130.8 176.1h1.1M144.6 176.1h1.1M146.9 176.1h1.1M150.4 176.1h1.1M157.3 176.1h2.3M163.1 176.1h1.1M63 177.3h3.4M78 177.3h1.1M89.5 177.3h1.1M95.2 177.3h1.1M121.7 177.3h1.1M123.9 177.3h1.1M129.7 177.3h1.1M137.8 177.3h1.1M142.3 177.3h1.1M144.6 177.3h1.1M164.2 177.3h1.1M166.5 177.3h1.1M67.6 178.4h1.1M82.5 178.4h2.3M86 178.4h1.1M89.5 178.4h2.3M97.5 178.4h1.1M123.9 178.4h2.3M132 178.4h1.1M142.3 178.4h1.1M157.3 178.4h5.8M164.2 178.4h1.1M72.2 179.6h1.1M78 179.6h1.1M87.2 179.6h2.3M109 179.6h1.1M112.4 179.6h1.1M114.8 179.6h1.1M125.1 179.6h2.3M152.7 179.6h1.1M157.3 179.6h1.1M159.6 179.6h1.1M65.3 180.7h1.1M76.8 180.7h2.3M100.9 180.7h1.1M105.5 180.7h1.1M109 180.7h1.1M150.4 180.7h4.6M159.6 180.7h1.1M164.2 180.7h1.1M78 181.9h1.1M88.3 181.9h1.1M91.8 181.9h1.1M105.5 181.9h1.1M109 181.9h1.1M111.3 181.9h1.1M113.6 181.9h2.3M145.8 181.9h1.1M150.4 181.9h4.6M160.8 181.9h2.3M63 183h1.1M67.6 183h2.3M74.5 183h1.1M78 183h2.3M91.8 183h1.1M95.2 183h1.1M105.5 183h1.1M111.3 183h3.4M125.1 183h2.3M133.1 183h1.1M135.4 183h3.4M144.6 183h1.1M150.4 183h2.3M165.3 183h1.1M63 184.2h1.1M65.3 184.2h1.1M67.6 184.2h2.3M74.5 184.2h1.1M79.1 184.2h1.1M112.4 184.2h1.1M114.8 184.2h1.1M117 184.2h3.4M126.2 184.2h1.1M129.7 184.2h1.1M134.3 184.2h3.4M144.6 184.2h1.1M150.4 184.2h1.1M152.7 184.2h1.1M155 184.2h1.1M161.9 184.2h1.1M164.2 184.2h1.1M166.5 184.2h1.1M65.3 185.3h1.1M75.7 185.3h1.1M79.1 185.3h1.1M89.5 185.3h1.1M103.2 185.3h1.1M106.7 185.3h1.1M112.4 185.3h3.4M117 185.3h4.6M123.9 185.3h1.1M126.2 185.3h1.1M128.6 185.3h1.1M132 185.3h1.1M135.4 185.3h1.1M144.6 185.3h2.3M151.6 185.3h3.4M164.2 185.3h1.1M166.5 185.3h1.1M72.2 186.5h1.1M75.7 186.5h1.1M111.3 186.5h1.1M114.8 186.5h1.1M118.2 186.5h1.1M120.5 186.5h1.1M123.9 186.5h1.1M128.6 186.5h2.3M133.1 186.5h4.6M145.8 186.5h1.1M148.1 186.5h1.1M150.4 186.5h4.6M156.1 186.5h1.1M160.8 186.5h3.4M166.5 186.5h1.1M63 187.6h2.3M66.5 187.6h1.1M68.8 187.6h1.1M73.3 187.6h1.1M75.7 187.6h1.1M79.1 187.6h2.3M82.5 187.6h1.1M105.5 187.6h1.1M112.4 187.6h1.1M114.8 187.6h4.6M129.7 187.6h2.3M133.1 187.6h2.3M136.6 187.6h1.1M145.8 187.6h1.1M148.1 187.6h2.3M153.8 187.6h1.1M164.2 187.6h3.4M63 188.8h1.1M65.3 188.8h1.1M67.6 188.8h2.3M71 188.8h1.1M73.3 188.8h1.1M76.8 188.8h6.9M105.5 188.8h1.1M109 188.8h1.1M113.6 188.8h2.3M117 188.8h4.6M122.8 188.8h1.1M126.2 188.8h1.1M128.6 188.8h2.3M133.1 188.8h3.4M149.2 188.8h1.1M153.8 188.8h1.1M156.1 188.8h1.1M161.9 188.8h2.3M165.3 188.8h1.1M63 189.9h1.1M65.3 189.9h1.1M67.6 189.9h1.1M69.9 189.9h2.3M74.5 189.9h1.1M76.8 189.9h1.1M79.1 189.9h1.1M89.5 189.9h1.1M109 189.9h1.1M117 189.9h5.8M126.2 189.9h2.3M129.7 189.9h2.3M135.4 189.9h1.1M138.9 189.9h1.1M146.9 189.9h1.1M152.7 189.9h1.1M157.3 189.9h1.1M161.9 189.9h3.4M63 191.1h1.1M67.6 191.1h1.1M72.2 191.1h1.1M76.8 191.1h1.1M88.3 191.1h1.1M104.4 191.1h1.1M113.6 191.1h2.3M119.3 191.1h2.3M123.9 191.1h1.1M126.2 191.1h4.6M137.8 191.1h1.1M146.9 191.1h1.1M152.7 191.1h1.1M155 191.1h1.1M164.2 191.1h1.1M63 192.2h1.1M67.6 192.2h1.1M69.9 192.2h1.1M72.2 192.2h1.1M75.7 192.2h2.3M80.2 192.2h3.4M88.3 192.2h2.3M106.7 192.2h1.1M111.3 192.2h1.1M119.3 192.2h1.1M128.6 192.2h1.1M133.1 192.2h1.1M135.4 192.2h1.1M144.6 192.2h1.1M155 192.2h1.1M164.2 192.2h1.1M63 193.4h1.1M69.9 193.4h1.1M72.2 193.4h1.1M75.7 193.4h2.3M80.2 193.4h3.4M87.2 193.4h1.1M92.9 193.4h2.3M96.3 193.4h2.3M106.7 193.4h1.1M111.3 193.4h1.1M115.9 193.4h3.4M127.4 193.4h1.1M133.1 193.4h1.1M136.6 193.4h1.1M140.1 193.4h1.1M156.1 193.4h1.1M67.6 194.5h1.1M72.2 194.5h1.1M75.7 194.5h1.1M80.2 194.5h2.3M86 194.5h1.1M89.5 194.5h1.1M95.2 194.5h1.1M98.7 194.5h1.1M100.9 194.5h2.3M111.3 194.5h1.1M114.8 194.5h3.4M122.8 194.5h1.1M128.6 194.5h1.1M132 194.5h2.3M136.6 194.5h1.1M138.9 194.5h1.1M144.6 194.5h1.1M65.3 195.7h1.1M82.5 195.7h1.1M84.8 195.7h2.3M90.6 195.7h2.3M95.2 195.7h1.1M98.7 195.7h2.3M102.1 195.7h1.1M111.3 195.7h1.1M114.8 195.7h2.3M123.9 195.7h2.3M133.1 195.7h1.1M135.4 195.7h2.3M144.6 195.7h1.1M146.9 195.7h1.1M152.7 195.7h2.3M67.6 196.8h2.3M79.1 196.8h1.1M81.4 196.8h1.1M86 196.8h1.1M90.6 196.8h1.1M111.3 196.8h1.1M114.8 196.8h6.9M122.8 196.8h1.1M125.1 196.8h1.1M130.8 196.8h1.1M134.3 196.8h1.1M149.2 196.8h1.1M152.7 196.8h1.1M161.9 196.8h2.3M66.5 198h2.3M79.1 198h2.3M84.8 198h2.3M90.6 198h1.1M94 198h4.6M99.8 198h3.4M114.8 198h2.3M118.2 198h1.1M120.5 198h2.3M123.9 198h2.3M127.4 198h2.3M130.8 198h1.1M146.9 198h1.1M149.2 198h1.1M151.6 198h1.1M161.9 198h1.1M166.5 198h1.1M66.5 199.1h3.4M80.2 199.1h2.3M83.7 199.1h1.1M86 199.1h1.1M97.5 199.1h1.1M99.8 199.1h3.4M115.9 199.1h2.3M121.7 199.1h4.6M129.7 199.1h2.3M149.2 199.1h1.1M151.6 199.1h1.1M160.8 199.1h1.1M165.3 199.1h2.3M67.6 200.3h1.1M73.3 200.3h1.1M80.2 200.3h1.1M83.7 200.3h5.8M90.6 200.3h1.1M92.9 200.3h1.1M99.8 200.3h1.1M102.1 200.3h1.1M106.7 200.3h2.3M118.2 200.3h1.1M123.9 200.3h2.3M128.6 200.3h1.1M145.8 200.3h1.1M148.1 200.3h2.3M160.8 200.3h3.4M165.3 200.3h1.1M66.5 201.4h2.3M80.2 201.4h2.3M83.7 201.4h1.1M86 201.4h1.1M88.3 201.4h1.1M96.3 201.4h1.1M106.7 201.4h4.6M118.2 201.4h2.3M121.7 201.4h1.1M125.1 201.4h1.1M129.7 201.4h1.1M145.8 201.4h1.1M149.2 201.4h1.1M163.1 201.4h1.1M73.3 202.6h1.1M80.2 202.6h1.1M82.5 202.6h2.3M87.2 202.6h1.1M99.8 202.6h1.1M106.7 202.6h2.3M118.2 202.6h4.6M149.2 202.6h1.1M156.1 202.6h1.1M158.4 202.6h1.1M160.8 202.6h1.1M165.3 202.6h2.3M66.5 203.7h1.1M82.5 203.7h1.1M97.5 203.7h1.1M107.8 203.7h3.4M118.2 203.7h1.1M120.5 203.7h2.3M123.9 203.7h1.1M128.6 203.7h1.1M142.3 203.7h1.1M157.3 203.7h1.1M159.6 203.7h1.1M66.5 204.9h1.1M74.5 204.9h2.3M82.5 204.9h1.1M88.3 204.9h1.1M110.2 204.9h1.1M112.4 204.9h1.1M120.5 204.9h2.3M130.8 204.9h1.1M142.3 204.9h1.1M146.9 204.9h1.1M158.4 204.9h2.3M166.5 204.9h1.1M75.7 206h3.4M81.4 206h2.3M88.3 206h2.3M92.9 206h1.1M146.9 206h1.1M71 207.2h1.1M74.5 207.2h1.1M76.8 207.2h1.1M81.4 207.2h4.6M87.2 207.2h2.3M103.2 207.2h1.1M112.4 207.2h1.1M117 207.2h1.1M120.5 207.2h1.1M122.8 207.2h1.1M142.3 207.2h1.1M150.4 207.2h2.3M71 208.3h2.3M83.7 208.3h5.8M90.6 208.3h2.3M94 208.3h2.3M114.8 208.3h2.3M119.3 208.3h1.1M122.8 208.3h1.1M151.6 208.3h1.1M153.8 208.3h1.1M72.2 209.5h1.1M75.7 209.5h3.4M86 209.5h1.1M88.3 209.5h1.1M91.8 209.5h1.1M94 209.5h1.1M97.5 209.5h1.1M102.1 209.5h2.3M112.4 209.5h2.3M128.6 209.5h2.3M141.2 209.5h2.3M151.6 209.5h1.1M64.2 210.6h2.3M72.2 210.6h1.1M76.8 210.6h1.1M88.3 210.6h1.1M90.6 210.6h2.3M100.9 210.6h1.1M103.2 210.6h1.1M120.5 210.6h1.1M141.2 210.6h2.3M148.1 210.6h3.4M159.6 210.6h3.4M64.2 211.8h2.3M76.8 211.8h1.1M87.2 211.8h1.1M89.5 211.8h2.3M97.5 211.8h2.3M102.1 211.8h2.3M120.5 211.8h1.1M128.6 211.8h1.1M134.3 211.8h1.1M138.9 211.8h1.1M142.3 211.8h1.1M149.2 211.8h1.1M151.6 211.8h1.1M153.8 211.8h1.1M157.3 211.8h1.1M159.6 211.8h2.3M165.3 211.8h1.1M63 212.9h1.1M67.6 212.9h1.1M75.7 212.9h2.3M81.4 212.9h1.1M87.2 212.9h1.1M94 212.9h1.1M98.7 212.9h1.1M100.9 212.9h1.1M106.7 212.9h1.1M118.2 212.9h1.1M120.5 212.9h1.1M128.6 212.9h1.1M138.9 212.9h1.1M151.6 212.9h1.1M153.8 212.9h1.1M159.6 212.9h2.3M166.5 212.9h1.1M71 214.1h2.3M90.6 214.1h2.3M95.2 214.1h1.1M97.5 214.1h1.1M110.2 214.1h1.1M114.8 214.1h1.1M118.2 214.1h1.1M127.4 214.1h3.4M137.8 214.1h2.3M151.6 214.1h1.1M153.8 214.1h1.1M159.6 214.1h1.1M166.5 214.1h1.1" stroke="#37a4bf" stroke-width="1.2" fill="none"/>
<path d="M66.5 168.1h1.1M69.9 168.1h2.3M88.3 168.1h1.1M91.8 168.1h1.1M94 168.1h1.1M97.5 168.1h1.1M99.8 168.1h2.3M109 168.1h3.4M113.6 168.1h1.1M117 168.1h1.1M121.7 168.1h1.1M134.3 168.1h1.1M137.8 168.1h1.1M144.6 168.1h2.3M150.4 168.1h1.1M155 168.1h1.1M157.3 168.1h1.1M161.9 168.1h4.6M63 169.2h2.3M69.9 169.2h1.1M78 169.2h1.1M81.4 169.2h1.1M84.8 169.2h2.3M88.3 169.2h1.1M96.3 169.2h4.6M109 169.2h2.3M112.4 169.2h2.3M117 169.2h1.1M122.8 169.2h1.1M127.4 169.2h1.1M132 169.2h1.1M137.8 169.2h1.1M140.1 169.2h1.1M142.3 169.2h1.1M145.8 169.2h2.3M150.4 169.2h1.1M155 169.2h1.1M159.6 169.2h1.1M161.9 169.2h1.1M65.3 170.4h1.1M69.9 170.4h2.3M78 170.4h1.1M80.2 170.4h2.3M87.2 170.4h1.1M91.8 170.4h3.4M99.8 170.4h1.1M105.5 170.4h1.1M109 170.4h1.1M113.6 170.4h1.1M117 170.4h1.1M120.5 170.4h1.1M123.9 170.4h5.8M136.6 170.4h2.3M140.1 170.4h1.1M144.6 170.4h2.3M155 170.4h1.1M159.6 170.4h1.1M63 171.5h1.1M65.3 171.5h2.3M68.8 171.5h2.3M76.8 171.5h2.3M82.5 171.5h1.1M86 171.5h1.1M90.6 171.5h2.3M96.3 171.5h1.1M99.8 171.5h1.1M107.8 171.5h2.3M113.6 171.5h1.1M118.2 171.5h2.3M121.7 171.5h3.4M126.2 171.5h2.3M133.1 171.5h2.3M136.6 171.5h2.3M143.5 171.5h1.1M148.1 171.5h1.1M151.6 171.5h1.1M157.3 171.5h1.1M163.1 171.5h1.1M64.2 172.7h1.1M68.8 172.7h4.6M90.6 172.7h2.3M96.3 172.7h2.3M100.9 172.7h1.1M114.8 172.7h1.1M117 172.7h2.3M122.8 172.7h3.4M132 172.7h1.1M136.6 172.7h2.3M140.1 172.7h4.6M145.8 172.7h2.3M150.4 172.7h2.3M156.1 172.7h1.1M161.9 172.7h1.1M165.3 172.7h1.1M64.2 173.8h1.1M79.1 173.8h1.1M82.5 173.8h1.1M91.8 173.8h1.1M96.3 173.8h1.1M98.7 173.8h1.1M100.9 173.8h1.1M107.8 173.8h1.1M113.6 173.8h1.1M117 173.8h1.1M120.5 173.8h1.1M136.6 173.8h2.3M140.1 173.8h1.1M142.3 173.8h3.4M150.4 173.8h2.3M155 173.8h1.1M159.6 173.8h2.3M64.2 175h1.1M71 175h2.3M78 175h1.1M96.3 175h1.1M98.7 175h1.1M100.9 175h1.1M113.6 175h5.8M122.8 175h1.1M128.6 175h1.1M130.8 175h1.1M137.8 175h1.1M142.3 175h1.1M144.6 175h2.3M149.2 175h1.1M155 175h2.3M158.4 175h3.4M165.3 175h1.1M68.8 176.1h1.1M72.2 176.1h2.3M79.1 176.1h2.3M95.2 176.1h2.3M98.7 176.1h1.1M102.1 176.1h1.1M113.6 176.1h4.6M119.3 176.1h1.1M127.4 176.1h2.3M137.8 176.1h1.1M140.1 176.1h1.1M143.5 176.1h1.1M145.8 176.1h1.1M151.6 176.1h1.1M153.8 176.1h3.4M159.6 176.1h2.3M164.2 176.1h1.1M67.6 177.3h1.1M69.9 177.3h1.1M72.2 177.3h2.3M81.4 177.3h1.1M86 177.3h1.1M90.6 177.3h2.3M96.3 177.3h1.1M99.8 177.3h3.4M105.5 177.3h1.1M109 177.3h1.1M112.4 177.3h1.1M114.8 177.3h1.1M118.2 177.3h1.1M130.8 177.3h1.1M136.6 177.3h1.1M140.1 177.3h1.1M143.5 177.3h1.1M146.9 177.3h1.1M150.4 177.3h1.1M152.7 177.3h2.3M156.1 177.3h1.1M158.4 177.3h3.4M163.1 177.3h1.1M63 178.4h3.4M69.9 178.4h1.1M72.2 178.4h1.1M75.7 178.4h1.1M80.2 178.4h2.3M91.8 178.4h1.1M95.2 178.4h2.3M99.8 178.4h3.4M105.5 178.4h1.1M109 178.4h1.1M111.3 178.4h2.3M115.9 178.4h1.1M121.7 178.4h1.1M128.6 178.4h2.3M133.1 178.4h1.1M137.8 178.4h1.1M140.1 178.4h1.1M143.5 178.4h1.1M145.8 178.4h1.1M152.7 178.4h1.1M163.1 178.4h1.1M166.5 178.4h1.1M65.3 179.6h1.1M69.9 179.6h1.1M73.3 179.6h1.1M75.7 179.6h2.3M80.2 179.6h3.4M84.8 179.6h2.3M90.6 179.6h8M100.9 179.6h1.1M105.5 179.6h1.1M111.3 179.6h1.1M115.9 179.6h1.1M121.7 179.6h1.1M123.9 179.6h1.1M129.7 179.6h2.3M137.8 179.6h1.1M142.3 179.6h2.3M145.8 179.6h1.1M150.4 179.6h1.1M153.8 179.6h1.1M156.1 179.6h1.1M158.4 179.6h1.1M163.1 179.6h2.3M166.5 179.6h1.1M68.8 180.7h1.1M71 180.7h1.1M74.5 180.7h2.3M80.2 180.7h1.1M87.2 180.7h2.3M90.6 180.7h2.3M94 180.7h2.3M110.2 180.7h1.1M114.8 180.7h2.3M123.9 180.7h4.6M130.8 180.7h1.1M137.8 180.7h1.1M146.9 180.7h1.1M156.1 180.7h3.4M163.1 180.7h1.1M65.3 181.9h2.3M68.8 181.9h1.1M74.5 181.9h1.1M87.2 181.9h1.1M89.5 181.9h2.3M94 181.9h2.3M98.7 181.9h1.1M100.9 181.9h1.1M106.7 181.9h1.1M115.9 181.9h4.6M123.9 181.9h3.4M128.6 181.9h1.1M133.1 181.9h1.1M135.4 181.9h2.3M138.9 181.9h2.3M146.9 181.9h1.1M155 181.9h3.4M163.1 181.9h3.4M65.3 183h2.3M73.3 183h1.1M87.2 183h3.4M92.9 183h1.1M106.7 183h1.1M109 183h2.3M117 183h3.4M121.7 183h1.1M123.9 183h1.1M127.4 183h3.4M134.3 183h1.1M138.9 183h1.1M142.3 183h1.1M146.9 183h1.1M149.2 183h1.1M152.7 183h3.4M160.8 183h4.6M166.5 183h1.1M66.5 184.2h1.1M78 184.2h1.1M89.5 184.2h2.3M92.9 184.2h1.1M95.2 184.2h2.3M103.2 184.2h2.3M106.7 184.2h1.1M120.5 184.2h1.1M123.9 184.2h2.3M128.6 184.2h1.1M132 184.2h1.1M137.8 184.2h2.3M143.5 184.2h1.1M149.2 184.2h1.1M153.8 184.2h1.1M156.1 184.2h1.1M63 185.3h1.1M66.5 185.3h2.3M72.2 185.3h1.1M74.5 185.3h1.1M78 185.3h1.1M80.2 185.3h1.1M88.3 185.3h1.1M91.8 185.3h3.4M96.3 185.3h1.1M104.4 185.3h1.1M109 185.3h1.1M115.9 185.3h1.1M122.8 185.3h1.1M125.1 185.3h1.1M129.7 185.3h1.1M133.1 185.3h2.3M137.8 185.3h3.4M149.2 185.3h2.3M156.1 185.3h2.3M159.6 185.3h1.1M161.9 185.3h2.3M63 186.5h3.4M68.8 186.5h1.1M73.3 186.5h1.1M78 186.5h1.1M80.2 186.5h1.1M82.5 186.5h1.1M88.3 186.5h2.3M103.2 186.5h1.1M106.7 186.5h1.1M109 186.5h1.1M119.3 186.5h1.1M121.7 186.5h2.3M126.2 186.5h1.1M137.8 186.5h2.3M144.6 186.5h1.1M146.9 186.5h1.1M157.3 186.5h1.1M159.6 186.5h1.1M65.3 187.6h1.1M69.9 187.6h1.1M74.5 187.6h1.1M78 187.6h1.1M81.4 187.6h1.1M88.3 187.6h2.3M94 187.6h2.3M103.2 187.6h1.1M106.7 187.6h1.1M111.3 187.6h1.1M119.3 187.6h4.6M125.1 187.6h2.3M135.4 187.6h1.1M138.9 187.6h3.4M144.6 187.6h1.1M146.9 187.6h1.1M150.4 187.6h3.4M156.1 187.6h1.1M159.6 187.6h2.3M64.2 188.8h1.1M74.5 188.8h2.3M88.3 188.8h2.3M92.9 188.8h1.1M95.2 188.8h2.3M99.8 188.8h2.3M106.7 188.8h1.1M110.2 188.8h2.3M115.9 188.8h1.1M121.7 188.8h1.1M130.8 188.8h1.1M137.8 188.8h3.4M144.6 188.8h4.6M150.4 188.8h2.3M157.3 188.8h2.3M166.5 188.8h1.1M64.2 189.9h1.1M68.8 189.9h1.1M80.2 189.9h3.4M88.3 189.9h1.1M92.9 189.9h2.3M98.7 189.9h1.1M105.5 189.9h1.1M110.2 189.9h1.1M112.4 189.9h1.1M114.8 189.9h1.1M122.8 189.9h1.1M125.1 189.9h1.1M137.8 189.9h1.1M140.1 189.9h2.3M144.6 189.9h2.3M148.1 189.9h2.3M151.6 189.9h1.1M153.8 189.9h1.1M156.1 189.9h1.1M158.4 189.9h1.1M166.5 189.9h1.1M64.2 191.1h2.3M75.7 191.1h1.1M78 191.1h1.1M80.2 191.1h3.4M89.5 191.1h1.1M94 191.1h6.9M105.5 191.1h1.1M109 191.1h1.1M111.3 191.1h2.3M117 191.1h2.3M122.8 191.1h1.1M125.1 191.1h1.1M130.8 191.1h1.1M141.2 191.1h1.1M145.8 191.1h1.1M148.1 191.1h1.1M157.3 191.1h2.3M161.9 191.1h1.1M166.5 191.1h1.1M78 192.2h1.1M86 192.2h1.1M90.6 192.2h1.1M94 192.2h2.3M98.7 192.2h3.4M103.2 192.2h3.4M109 192.2h1.1M112.4 192.2h1.1M115.9 192.2h1.1M120.5 192.2h4.6M126.2 192.2h1.1M132 192.2h1.1M137.8 192.2h1.1M141.2 192.2h1.1M143.5 192.2h1.1M145.8 192.2h3.4M151.6 192.2h1.1M157.3 192.2h1.1M165.3 192.2h2.3M67.6 193.4h1.1M71 193.4h1.1M78 193.4h1.1M86 193.4h1.1M90.6 193.4h2.3M98.7 193.4h1.1M100.9 193.4h1.1M103.2 193.4h1.1M109 193.4h1.1M119.3 193.4h3.4M123.9 193.4h1.1M128.6 193.4h1.1M135.4 193.4h1.1M144.6 193.4h1.1M146.9 193.4h1.1M151.6 193.4h1.1M153.8 193.4h2.3M157.3 193.4h1.1M164.2 193.4h3.4M63 194.5h1.1M69.9 194.5h2.3M76.8 194.5h2.3M82.5 194.5h1.1M91.8 194.5h1.1M99.8 194.5h1.1M103.2 194.5h2.3M109 194.5h1.1M112.4 194.5h1.1M119.3 194.5h1.1M123.9 194.5h2.3M135.4 194.5h1.1M137.8 194.5h1.1M143.5 194.5h1.1M146.9 194.5h1.1M152.7 194.5h1.1M155 194.5h2.3M161.9 194.5h1.1M166.5 194.5h1.1M69.9 195.7h1.1M72.2 195.7h1.1M75.7 195.7h1.1M78 195.7h1.1M83.7 195.7h1.1M96.3 195.7h1.1M100.9 195.7h1.1M103.2 195.7h1.1M110.2 195.7h1.1M118.2 195.7h2.3M122.8 195.7h1.1M130.8 195.7h1.1M138.9 195.7h1.1M145.8 195.7h1.1M149.2 195.7h1.1M151.6 195.7h1.1M155 195.7h1.1M160.8 195.7h2.3M164.2 195.7h1.1M65.3 196.8h1.1M69.9 196.8h1.1M72.2 196.8h1.1M75.7 196.8h1.1M78 196.8h1.1M80.2 196.8h1.1M96.3 196.8h1.1M98.7 196.8h3.4M103.2 196.8h1.1M129.7 196.8h1.1M133.1 196.8h1.1M135.4 196.8h2.3M144.6 196.8h1.1M146.9 196.8h1.1M150.4 196.8h1.1M153.8 196.8h1.1M160.8 196.8h1.1M164.2 196.8h3.4M68.8 198h1.1M72.2 198h1.1M82.5 198h2.3M103.2 198h1.1M117 198h1.1M119.3 198h1.1M122.8 198h1.1M129.7 198h1.1M133.1 198h1.1M136.6 198h1.1M144.6 198h1.1M148.1 198h1.1M150.4 198h1.1M153.8 198h1.1M160.8 198h1.1M163.1 198h2.3M75.7 199.1h1.1M79.1 199.1h1.1M82.5 199.1h1.1M90.6 199.1h6.9M98.7 199.1h1.1M103.2 199.1h1.1M109 199.1h2.3M118.2 199.1h3.4M127.4 199.1h1.1M144.6 199.1h4.6M150.4 199.1h1.1M153.8 199.1h1.1M163.1 199.1h2.3M68.8 200.3h2.3M74.5 200.3h1.1M76.8 200.3h1.1M79.1 200.3h1.1M89.5 200.3h1.1M91.8 200.3h1.1M94 200.3h5.8M100.9 200.3h1.1M103.2 200.3h1.1M109 200.3h4.6M120.5 200.3h1.1M122.8 200.3h1.1M127.4 200.3h1.1M129.7 200.3h1.1M142.3 200.3h3.4M146.9 200.3h1.1M151.6 200.3h2.3M156.1 200.3h1.1M158.4 200.3h1.1M68.8 201.4h1.1M73.3 201.4h6.9M82.5 201.4h1.1M84.8 201.4h1.1M89.5 201.4h1.1M98.7 201.4h2.3M103.2 201.4h1.1M105.5 201.4h1.1M111.3 201.4h2.3M123.9 201.4h1.1M127.4 201.4h1.1M132 201.4h1.1M143.5 201.4h2.3M146.9 201.4h2.3M152.7 201.4h1.1M156.1 201.4h3.4M160.8 201.4h2.3M164.2 201.4h2.3M67.6 202.6h2.3M72.2 202.6h1.1M74.5 202.6h2.3M78 202.6h2.3M81.4 202.6h1.1M88.3 202.6h1.1M98.7 202.6h1.1M103.2 202.6h1.1M109 202.6h1.1M111.3 202.6h2.3M123.9 202.6h2.3M127.4 202.6h1.1M141.2 202.6h1.1M143.5 202.6h1.1M145.8 202.6h3.4M150.4 202.6h1.1M157.3 202.6h1.1M161.9 202.6h2.3M68.8 203.7h5.8M75.7 203.7h1.1M80.2 203.7h2.3M89.5 203.7h1.1M92.9 203.7h1.1M99.8 203.7h1.1M111.3 203.7h1.1M119.3 203.7h1.1M126.2 203.7h2.3M130.8 203.7h1.1M136.6 203.7h1.1M143.5 203.7h1.1M145.8 203.7h3.4M150.4 203.7h1.1M152.7 203.7h4.6M161.9 203.7h1.1M165.3 203.7h2.3M68.8 204.9h1.1M73.3 204.9h1.1M76.8 204.9h1.1M80.2 204.9h2.3M97.5 204.9h1.1M106.7 204.9h1.1M118.2 204.9h1.1M122.8 204.9h1.1M128.6 204.9h1.1M132 204.9h2.3M150.4 204.9h1.1M152.7 204.9h1.1M155 204.9h3.4M66.5 206h1.1M71 206h1.1M74.5 206h1.1M79.1 206h2.3M97.5 206h1.1M103.2 206h1.1M107.8 206h1.1M110.2 206h1.1M112.4 206h1.1M118.2 206h1.1M120.5 206h2.3M123.9 206h1.1M128.6 206h3.4M133.1 206h1.1M136.6 206h1.1M142.3 206h1.1M145.8 206h1.1M149.2 206h8M158.4 206h2.3M161.9 206h2.3M166.5 206h1.1M66.5 207.2h1.1M73.3 207.2h1.1M75.7 207.2h1.1M80.2 207.2h1.1M92.9 207.2h3.4M97.5 207.2h1.1M102.1 207.2h1.1M104.4 207.2h2.3M107.8 207.2h1.1M110.2 207.2h2.3M119.3 207.2h1.1M121.7 207.2h1.1M123.9 207.2h1.1M126.2 207.2h1.1M129.7 207.2h1.1M132 207.2h2.3M141.2 207.2h1.1M143.5 207.2h1.1M146.9 207.2h1.1M153.8 207.2h2.3M159.6 207.2h1.1M161.9 207.2h1.1M73.3 208.3h1.1M76.8 208.3h2.3M80.2 208.3h3.4M97.5 208.3h1.1M102.1 208.3h2.3M110.2 208.3h3.4M120.5 208.3h2.3M123.9 208.3h1.1M128.6 208.3h2.3M132 208.3h3.4M141.2 208.3h3.4M146.9 208.3h2.3M159.6 208.3h3.4M64.2 209.5h1.1M79.1 209.5h4.6M87.2 209.5h1.1M90.6 209.5h1.1M95.2 209.5h1.1M100.9 209.5h1.1M104.4 209.5h1.1M110.2 209.5h2.3M119.3 209.5h3.4M126.2 209.5h1.1M132 209.5h2.3M138.9 209.5h2.3M143.5 209.5h2.3M148.1 209.5h2.3M153.8 209.5h1.1M156.1 209.5h1.1M160.8 209.5h2.3M75.7 210.6h1.1M78 210.6h1.1M80.2 210.6h3.4M87.2 210.6h1.1M95.2 210.6h1.1M98.7 210.6h2.3M104.4 210.6h1.1M106.7 210.6h1.1M110.2 210.6h5.8M118.2 210.6h2.3M121.7 210.6h2.3M125.1 210.6h2.3M128.6 210.6h1.1M132 210.6h3.4M138.9 210.6h2.3M143.5 210.6h1.1M146.9 210.6h1.1M151.6 210.6h1.1M153.8 210.6h1.1M156.1 210.6h3.4M68.8 211.8h1.1M74.5 211.8h2.3M78 211.8h1.1M81.4 211.8h1.1M88.3 211.8h1.1M91.8 211.8h1.1M95.2 211.8h1.1M99.8 211.8h1.1M104.4 211.8h1.1M106.7 211.8h1.1M112.4 211.8h1.1M118.2 211.8h2.3M126.2 211.8h1.1M132 211.8h2.3M137.8 211.8h1.1M140.1 211.8h2.3M143.5 211.8h1.1M146.9 211.8h1.1M155 211.8h2.3M158.4 211.8h1.1M166.5 211.8h1.1M64.2 212.9h3.4M68.8 212.9h1.1M79.1 212.9h1.1M88.3 212.9h4.6M95.2 212.9h1.1M102.1 212.9h2.3M110.2 212.9h1.1M112.4 212.9h1.1M115.9 212.9h1.1M119.3 212.9h1.1M125.1 212.9h1.1M127.4 212.9h1.1M132 212.9h3.4M137.8 212.9h1.1M140.1 212.9h1.1M146.9 212.9h1.1M156.1 212.9h2.3M63 214.1h1.1M65.3 214.1h2.3M73.3 214.1h1.1M75.7 214.1h2.3M81.4 214.1h1.1M87.2 214.1h1.1M89.5 214.1h1.1M98.7 214.1h5.8M115.9 214.1h1.1M119.3 214.1h2.3M123.9 214.1h2.3M134.3 214.1h1.1M160.8 214.1h1.1" stroke="#3daeb2" stroke-width="1.2" fill="none"/>
<path d="M67.6 168.1h2.3M73.3 168.1h1.1M75.7 168.1h3.4M81.4 168.1h1.1M83.7 168.1h3.4M90.6 168.1h1.1M96.3 168.1h1.1M120.5 168.1h1.1M123.9 168.1h2.3M127.4 168.1h2.3M132 168.1h2.3M135.4 168.1h1.1M143.5 168.1h1.1M146.9 168.1h3.4M160.8 168.1h1.1M65.3 169.2h1.1M67.6 169.2h2.3M73.3 169.2h1.1M75.7 169.2h2.3M83.7 169.2h1.1M87.2 169.2h1.1M90.6 169.2h1.1M94 169.2h2.3M102.1 169.2h1.1M106.7 169.2h1.1M111.3 169.2h1.1M118.2 169.2h3.4M123.9 169.2h1.1M128.6 169.2h1.1M135.4 169.2h2.3M143.5 169.2h2.3M148.1 169.2h2.3M151.6 169.2h1.1M157.3 169.2h2.3M160.8 169.2h1.1M163.1 169.2h3.4M68.8 170.4h1.1M73.3 170.4h2.3M76.8 170.4h1.1M95.2 170.4h3.4M100.9 170.4h1.1M104.4 170.4h1.1M106.7 170.4h1.1M110.2 170.4h1.1M112.4 170.4h1.1M118.2 170.4h2.3M132 170.4h2.3M135.4 170.4h1.1M142.3 170.4h2.3M148.1 170.4h4.6M160.8 170.4h3.4M64.2 171.5h1.1M74.5 171.5h2.3M92.9 171.5h1.1M97.5 171.5h1.1M100.9 171.5h1.1M105.5 171.5h2.3M110.2 171.5h1.1M112.4 171.5h1.1M125.1 171.5h1.1M132 171.5h1.1M135.4 171.5h1.1M140.1 171.5h3.4M145.8 171.5h2.3M150.4 171.5h1.1M159.6 171.5h1.1M161.9 171.5h1.1M164.2 171.5h2.3M76.8 172.7h1.1M82.5 172.7h1.1M92.9 172.7h2.3M99.8 172.7h1.1M102.1 172.7h2.3M105.5 172.7h2.3M109 172.7h1.1M113.6 172.7h1.1M119.3 172.7h1.1M121.7 172.7h1.1M133.1 172.7h1.1M157.3 172.7h1.1M159.6 172.7h2.3M164.2 172.7h1.1M76.8 173.8h1.1M95.2 173.8h1.1M99.8 173.8h1.1M102.1 173.8h1.1M104.4 173.8h1.1M109 173.8h4.6M118.2 173.8h2.3M127.4 173.8h1.1M130.8 173.8h2.3M145.8 173.8h1.1M156.1 173.8h3.4M164.2 173.8h1.1M73.3 175h1.1M95.2 175h1.1M99.8 175h1.1M102.1 175h1.1M105.5 175h4.6M111.3 175h1.1M119.3 175h3.4M127.4 175h1.1M132 175h1.1M134.3 175h1.1M136.6 175h1.1M138.9 175h2.3M143.5 175h1.1M151.6 175h1.1M71 176.1h1.1M76.8 176.1h1.1M90.6 176.1h2.3M104.4 176.1h3.4M109 176.1h1.1M111.3 176.1h2.3M120.5 176.1h1.1M132 176.1h3.4M136.6 176.1h1.1M148.1 176.1h2.3M152.7 176.1h1.1M68.8 177.3h1.1M71 177.3h1.1M75.7 177.3h1.1M79.1 177.3h2.3M98.7 177.3h1.1M104.4 177.3h1.1M106.7 177.3h2.3M111.3 177.3h1.1M113.6 177.3h1.1M115.9 177.3h2.3M119.3 177.3h2.3M122.8 177.3h1.1M126.2 177.3h1.1M128.6 177.3h1.1M132 177.3h4.6M138.9 177.3h1.1M145.8 177.3h1.1M148.1 177.3h2.3M151.6 177.3h1.1M155 177.3h1.1M68.8 178.4h1.1M71 178.4h1.1M73.3 178.4h2.3M76.8 178.4h1.1M79.1 178.4h1.1M92.9 178.4h2.3M98.7 178.4h1.1M104.4 178.4h1.1M106.7 178.4h1.1M110.2 178.4h1.1M113.6 178.4h2.3M117 178.4h2.3M126.2 178.4h1.1M130.8 178.4h1.1M150.4 178.4h2.3M153.8 178.4h3.4M63 179.6h1.1M68.8 179.6h1.1M71 179.6h1.1M74.5 179.6h1.1M79.1 179.6h1.1M89.5 179.6h1.1M98.7 179.6h2.3M102.1 179.6h1.1M104.4 179.6h1.1M106.7 179.6h2.3M110.2 179.6h1.1M113.6 179.6h1.1M117 179.6h2.3M127.4 179.6h2.3M132 179.6h2.3M140.1 179.6h1.1M146.9 179.6h1.1M151.6 179.6h1.1M155 179.6h1.1M165.3 179.6h1.1M69.9 180.7h1.1M72.2 180.7h2.3M79.1 180.7h1.1M81.4 180.7h2.3M84.8 180.7h2.3M89.5 180.7h1.1M92.9 180.7h1.1M96.3 180.7h4.6M102.1 180.7h1.1M104.4 180.7h1.1M106.7 180.7h2.3M113.6 180.7h1.1M117 180.7h5.8M128.6 180.7h2.3M132 180.7h2.3M138.9 180.7h2.3M142.3 180.7h2.3M145.8 180.7h1.1M155 180.7h1.1M63 181.9h2.3M72.2 181.9h2.3M79.1 181.9h2.3M86 181.9h1.1M96.3 181.9h2.3M104.4 181.9h1.1M107.8 181.9h1.1M110.2 181.9h1.1M121.7 181.9h1.1M127.4 181.9h1.1M129.7 181.9h3.4M134.3 181.9h1.1M137.8 181.9h1.1M142.3 181.9h2.3M149.2 181.9h1.1M159.6 181.9h1.1M166.5 181.9h1.1M64.2 183h1.1M72.2 183h1.1M80.2 183h1.1M86 183h1.1M90.6 183h1.1M94 183h1.1M96.3 183h3.4M100.9 183h2.3M107.8 183h1.1M120.5 183h1.1M130.8 183h2.3M140.1 183h1.1M143.5 183h1.1M148.1 183h1.1M156.1 183h2.3M64.2 184.2h1.1M72.2 184.2h2.3M80.2 184.2h1.1M88.3 184.2h1.1M94 184.2h1.1M97.5 184.2h2.3M109 184.2h1.1M111.3 184.2h1.1M121.7 184.2h1.1M127.4 184.2h1.1M130.8 184.2h1.1M140.1 184.2h1.1M142.3 184.2h1.1M146.9 184.2h2.3M157.3 184.2h1.1M159.6 184.2h2.3M163.1 184.2h1.1M64.2 185.3h1.1M68.8 185.3h2.3M73.3 185.3h1.1M81.4 185.3h1.1M87.2 185.3h1.1M90.6 185.3h1.1M95.2 185.3h1.1M98.7 185.3h1.1M100.9 185.3h2.3M107.8 185.3h1.1M110.2 185.3h2.3M121.7 185.3h1.1M127.4 185.3h1.1M130.8 185.3h1.1M143.5 185.3h1.1M146.9 185.3h1.1M160.8 185.3h1.1M69.9 186.5h2.3M74.5 186.5h1.1M81.4 186.5h1.1M83.7 186.5h1.1M86 186.5h2.3M90.6 186.5h5.8M98.7 186.5h1.1M102.1 186.5h1.1M104.4 186.5h1.1M110.2 186.5h1.1M115.9 186.5h2.3M125.1 186.5h1.1M127.4 186.5h1.1M130.8 186.5h1.1M140.1 186.5h1.1M158.4 186.5h1.1M71 187.6h1.1M83.7 187.6h3.4M90.6 187.6h3.4M96.3 187.6h1.1M98.7 187.6h1.1M102.1 187.6h1.1M104.4 187.6h1.1M109 187.6h2.3M127.4 187.6h1.1M137.8 187.6h1.1M143.5 187.6h1.1M157.3 187.6h2.3M83.7 188.8h1.1M86 188.8h2.3M90.6 188.8h1.1M94 188.8h1.1M98.7 188.8h1.1M103.2 188.8h2.3M125.1 188.8h1.1M127.4 188.8h1.1M141.2 188.8h3.4M159.6 188.8h2.3M75.7 189.9h1.1M78 189.9h1.1M83.7 189.9h1.1M86 189.9h1.1M91.8 189.9h1.1M95.2 189.9h1.1M97.5 189.9h1.1M99.8 189.9h5.8M106.7 189.9h1.1M111.3 189.9h1.1M113.6 189.9h1.1M115.9 189.9h1.1M142.3 189.9h2.3M150.4 189.9h1.1M160.8 189.9h1.1M83.7 191.1h1.1M86 191.1h2.3M90.6 191.1h3.4M100.9 191.1h3.4M106.7 191.1h1.1M115.9 191.1h1.1M142.3 191.1h3.4M149.2 191.1h3.4M153.8 191.1h1.1M156.1 191.1h1.1M163.1 191.1h1.1M83.7 192.2h1.1M91.8 192.2h2.3M96.3 192.2h2.3M102.1 192.2h1.1M125.1 192.2h1.1M129.7 192.2h2.3M142.3 192.2h1.1M150.4 192.2h1.1M153.8 192.2h1.1M156.1 192.2h1.1M158.4 192.2h1.1M161.9 192.2h1.1M83.7 193.4h1.1M99.8 193.4h1.1M102.1 193.4h1.1M104.4 193.4h2.3M110.2 193.4h1.1M112.4 193.4h1.1M122.8 193.4h1.1M125.1 193.4h2.3M130.8 193.4h2.3M141.2 193.4h3.4M145.8 193.4h1.1M158.4 193.4h1.1M161.9 193.4h1.1M84.8 194.5h1.1M90.6 194.5h1.1M106.7 194.5h1.1M110.2 194.5h1.1M126.2 194.5h1.1M130.8 194.5h1.1M140.1 194.5h1.1M142.3 194.5h1.1M145.8 194.5h1.1M150.4 194.5h2.3M153.8 194.5h1.1M157.3 194.5h2.3M160.8 194.5h1.1M163.1 194.5h3.4M76.8 195.7h1.1M104.4 195.7h1.1M106.7 195.7h1.1M109 195.7h1.1M112.4 195.7h1.1M126.2 195.7h1.1M129.7 195.7h1.1M132 195.7h1.1M137.8 195.7h1.1M143.5 195.7h1.1M148.1 195.7h1.1M150.4 195.7h1.1M156.1 195.7h2.3M163.1 195.7h1.1M166.5 195.7h1.1M63 196.8h1.1M71 196.8h1.1M76.8 196.8h1.1M102.1 196.8h1.1M110.2 196.8h1.1M112.4 196.8h1.1M126.2 196.8h1.1M145.8 196.8h1.1M148.1 196.8h1.1M156.1 196.8h1.1M159.6 196.8h1.1M64.2 198h2.3M69.9 198h1.1M75.7 198h3.4M98.7 198h1.1M109 198h2.3M112.4 198h1.1M126.2 198h1.1M135.4 198h1.1M137.8 198h1.1M143.5 198h1.1M145.8 198h1.1M156.1 198h1.1M65.3 199.1h1.1M69.9 199.1h3.4M76.8 199.1h1.1M105.5 199.1h3.4M111.3 199.1h2.3M133.1 199.1h1.1M143.5 199.1h1.1M156.1 199.1h1.1M158.4 199.1h2.3M65.3 200.3h1.1M72.2 200.3h1.1M81.4 200.3h2.3M105.5 200.3h1.1M126.2 200.3h1.1M150.4 200.3h1.1M157.3 200.3h1.1M164.2 200.3h1.1M64.2 201.4h2.3M69.9 201.4h3.4M90.6 201.4h4.6M97.5 201.4h1.1M100.9 201.4h2.3M120.5 201.4h1.1M122.8 201.4h1.1M126.2 201.4h1.1M136.6 201.4h1.1M150.4 201.4h2.3M153.8 201.4h1.1M159.6 201.4h1.1M65.3 202.6h1.1M69.9 202.6h2.3M76.8 202.6h1.1M89.5 202.6h1.1M91.8 202.6h2.3M97.5 202.6h1.1M102.1 202.6h1.1M105.5 202.6h1.1M122.8 202.6h1.1M126.2 202.6h1.1M132 202.6h1.1M137.8 202.6h1.1M140.1 202.6h1.1M144.6 202.6h1.1M151.6 202.6h3.4M159.6 202.6h1.1M164.2 202.6h1.1M67.6 203.7h1.1M76.8 203.7h2.3M91.8 203.7h1.1M94 203.7h2.3M98.7 203.7h1.1M102.1 203.7h2.3M105.5 203.7h1.1M122.8 203.7h1.1M125.1 203.7h1.1M129.7 203.7h1.1M137.8 203.7h1.1M140.1 203.7h1.1M144.6 203.7h1.1M149.2 203.7h1.1M163.1 203.7h2.3M65.3 204.9h1.1M69.9 204.9h2.3M78 204.9h2.3M89.5 204.9h1.1M92.9 204.9h2.3M98.7 204.9h5.8M109 204.9h1.1M111.3 204.9h1.1M119.3 204.9h1.1M123.9 204.9h1.1M126.2 204.9h2.3M129.7 204.9h1.1M134.3 204.9h1.1M136.6 204.9h2.3M141.2 204.9h1.1M145.8 204.9h1.1M148.1 204.9h1.1M151.6 204.9h1.1M153.8 204.9h1.1M163.1 204.9h3.4M63 206h3.4M67.6 206h2.3M72.2 206h2.3M91.8 206h1.1M94 206h1.1M98.7 206h1.1M100.9 206h2.3M104.4 206h1.1M106.7 206h1.1M111.3 206h1.1M119.3 206h1.1M122.8 206h1.1M125.1 206h3.4M132 206h1.1M135.4 206h1.1M137.8 206h1.1M140.1 206h2.3M143.5 206h1.1M148.1 206h1.1M157.3 206h1.1M164.2 206h2.3M63 207.2h2.3M67.6 207.2h1.1M72.2 207.2h1.1M79.1 207.2h1.1M90.6 207.2h2.3M98.7 207.2h1.1M106.7 207.2h1.1M118.2 207.2h1.1M125.1 207.2h1.1M127.4 207.2h2.3M130.8 207.2h1.1M134.3 207.2h1.1M138.9 207.2h2.3M145.8 207.2h1.1M148.1 207.2h2.3M152.7 207.2h1.1M156.1 207.2h1.1M158.4 207.2h1.1M163.1 207.2h1.1M64.2 208.3h3.4M74.5 208.3h2.3M79.1 208.3h1.1M100.9 208.3h1.1M104.4 208.3h1.1M106.7 208.3h2.3M118.2 208.3h1.1M125.1 208.3h3.4M130.8 208.3h1.1M138.9 208.3h2.3M144.6 208.3h2.3M149.2 208.3h1.1M152.7 208.3h1.1M155 208.3h1.1M158.4 208.3h1.1M166.5 208.3h1.1M65.3 209.5h1.1M67.6 209.5h2.3M73.3 209.5h2.3M83.7 209.5h2.3M98.7 209.5h2.3M106.7 209.5h2.3M114.8 209.5h2.3M123.9 209.5h1.1M134.3 209.5h1.1M146.9 209.5h1.1M152.7 209.5h1.1M155 209.5h1.1M159.6 209.5h1.1M164.2 209.5h1.1M67.6 210.6h2.3M73.3 210.6h2.3M79.1 210.6h1.1M83.7 210.6h3.4M105.5 210.6h1.1M107.8 210.6h1.1M115.9 210.6h2.3M123.9 210.6h1.1M137.8 210.6h1.1M144.6 210.6h1.1M152.7 210.6h1.1M155 210.6h1.1M163.1 210.6h3.4M67.6 211.8h1.1M69.9 211.8h1.1M73.3 211.8h1.1M79.1 211.8h2.3M82.5 211.8h1.1M84.8 211.8h2.3M100.9 211.8h1.1M105.5 211.8h1.1M110.2 211.8h2.3M113.6 211.8h4.6M122.8 211.8h3.4M127.4 211.8h1.1M130.8 211.8h1.1M135.4 211.8h1.1M144.6 211.8h1.1M152.7 211.8h1.1M69.9 212.9h1.1M73.3 212.9h1.1M78 212.9h1.1M80.2 212.9h1.1M84.8 212.9h2.3M99.8 212.9h1.1M107.8 212.9h1.1M111.3 212.9h1.1M114.8 212.9h1.1M117 212.9h1.1M126.2 212.9h1.1M136.6 212.9h1.1M141.2 212.9h2.3M155 212.9h1.1M64.2 214.1h1.1M68.8 214.1h1.1M80.2 214.1h1.1M82.5 214.1h1.1M86 214.1h1.1M88.3 214.1h1.1M104.4 214.1h2.3M107.8 214.1h1.1M112.4 214.1h1.1M117 214.1h1.1M126.2 214.1h1.1M130.8 214.1h3.4M136.6 214.1h1.1M140.1 214.1h3.4M146.9 214.1h1.1M156.1 214.1h2.3" stroke="#48b6a4" stroke-width="1.2" fill="none"/>
<path d="M65.3 168.1h1.1M87.2 168.1h1.1M95.2 168.1h1.1M102.1 168.1h2.3M118.2 168.1h2.3M136.6 168.1h1.1M138.9 168.1h1.1M74.5 169.2h1.1M82.5 169.2h1.1M121.7 169.2h1.1M125.1 169.2h1.1M138.9 169.2h1.1M75.7 170.4h1.1M121.7 170.4h1.1M146.9 170.4h1.1M157.3 170.4h2.3M164.2 170.4h2.3M73.3 171.5h1.1M94 171.5h2.3M104.4 171.5h1.1M111.3 171.5h1.1M158.4 171.5h1.1M160.8 171.5h1.1M73.3 172.7h3.4M95.2 172.7h1.1M104.4 172.7h1.1M110.2 172.7h1.1M112.4 172.7h1.1M134.3 172.7h2.3M138.9 172.7h1.1M158.4 172.7h1.1M75.7 173.8h1.1M92.9 173.8h2.3M103.2 173.8h1.1M105.5 173.8h1.1M121.7 173.8h1.1M133.1 173.8h3.4M138.9 173.8h1.1M141.2 173.8h1.1M74.5 175h2.3M94 175h1.1M103.2 175h2.3M110.2 175h1.1M112.4 175h1.1M133.1 175h1.1M135.4 175h1.1M75.7 176.1h1.1M92.9 176.1h2.3M103.2 176.1h1.1M107.8 176.1h1.1M110.2 176.1h1.1M135.4 176.1h1.1M138.9 176.1h1.1M141.2 176.1h1.1M165.3 176.1h1.1M76.8 177.3h1.1M92.9 177.3h2.3M103.2 177.3h1.1M110.2 177.3h1.1M127.4 177.3h1.1M165.3 177.3h1.1M107.8 178.4h1.1M119.3 178.4h2.3M122.8 178.4h1.1M127.4 178.4h1.1M134.3 178.4h1.1M136.6 178.4h1.1M141.2 178.4h1.1M146.9 178.4h1.1M165.3 178.4h1.1M64.2 179.6h1.1M83.7 179.6h1.1M103.2 179.6h1.1M119.3 179.6h2.3M122.8 179.6h1.1M136.6 179.6h1.1M138.9 179.6h1.1M141.2 179.6h1.1M63 180.7h2.3M103.2 180.7h1.1M134.3 180.7h3.4M141.2 180.7h1.1M149.2 180.7h1.1M165.3 180.7h1.1M69.9 181.9h2.3M81.4 181.9h1.1M84.8 181.9h1.1M92.9 181.9h1.1M99.8 181.9h1.1M102.1 181.9h2.3M120.5 181.9h1.1M122.8 181.9h1.1M148.1 181.9h1.1M69.9 183h2.3M81.4 183h1.1M84.8 183h1.1M99.8 183h1.1M103.2 183h2.3M122.8 183h1.1M159.6 183h1.1M69.9 184.2h2.3M81.4 184.2h1.1M83.7 184.2h4.6M100.9 184.2h2.3M107.8 184.2h1.1M110.2 184.2h1.1M122.8 184.2h1.1M158.4 184.2h1.1M71 185.3h1.1M82.5 185.3h4.6M97.5 185.3h1.1M99.8 185.3h1.1M142.3 185.3h1.1M148.1 185.3h1.1M158.4 185.3h1.1M84.8 186.5h1.1M96.3 186.5h2.3M100.9 186.5h1.1M141.2 186.5h3.4M87.2 187.6h1.1M97.5 187.6h1.1M99.8 187.6h2.3M142.3 187.6h1.1M84.8 188.8h1.1M91.8 188.8h1.1M97.5 188.8h1.1M102.1 188.8h1.1M107.8 188.8h1.1M87.2 189.9h1.1M90.6 189.9h1.1M96.3 189.9h1.1M159.6 189.9h1.1M110.2 191.1h1.1M159.6 191.1h2.3M87.2 192.2h1.1M107.8 192.2h1.1M110.2 192.2h1.1M149.2 192.2h1.1M163.1 192.2h1.1M84.8 193.4h1.1M107.8 193.4h1.1M129.7 193.4h1.1M137.8 193.4h1.1M148.1 193.4h3.4M163.1 193.4h1.1M83.7 194.5h1.1M105.5 194.5h1.1M107.8 194.5h1.1M129.7 194.5h1.1M141.2 194.5h1.1M148.1 194.5h2.3M159.6 194.5h1.1M63 195.7h1.1M71 195.7h1.1M105.5 195.7h1.1M107.8 195.7h1.1M141.2 195.7h2.3M159.6 195.7h1.1M165.3 195.7h1.1M104.4 196.8h1.1M106.7 196.8h1.1M109 196.8h1.1M132 196.8h1.1M137.8 196.8h2.3M141.2 196.8h1.1M143.5 196.8h1.1M155 196.8h1.1M157.3 196.8h2.3M63 198h1.1M71 198h1.1M105.5 198h3.4M111.3 198h1.1M134.3 198h1.1M138.9 198h1.1M155 198h1.1M157.3 198h3.4M64.2 199.1h1.1M78 199.1h1.1M126.2 199.1h1.1M132 199.1h1.1M135.4 199.1h3.4M142.3 199.1h1.1M155 199.1h1.1M157.3 199.1h1.1M64.2 200.3h1.1M71 200.3h1.1M78 200.3h1.1M132 200.3h2.3M136.6 200.3h2.3M153.8 200.3h2.3M159.6 200.3h1.1M95.2 201.4h1.1M104.4 201.4h1.1M133.1 201.4h1.1M137.8 201.4h1.1M140.1 201.4h2.3M155 201.4h1.1M64.2 202.6h1.1M90.6 202.6h1.1M94 202.6h2.3M100.9 202.6h1.1M104.4 202.6h1.1M133.1 202.6h1.1M136.6 202.6h1.1M155 202.6h1.1M64.2 203.7h2.3M79.1 203.7h1.1M100.9 203.7h1.1M104.4 203.7h1.1M132 203.7h2.3M141.2 203.7h1.1M151.6 203.7h1.1M63 204.9h2.3M67.6 204.9h1.1M72.2 204.9h1.1M91.8 204.9h1.1M95.2 204.9h1.1M104.4 204.9h2.3M125.1 204.9h1.1M135.4 204.9h1.1M138.9 204.9h2.3M143.5 204.9h1.1M149.2 204.9h1.1M69.9 206h1.1M90.6 206h1.1M95.2 206h1.1M99.8 206h1.1M105.5 206h1.1M109 206h1.1M134.3 206h1.1M138.9 206h1.1M65.3 207.2h1.1M68.8 207.2h2.3M99.8 207.2h2.3M135.4 207.2h3.4M144.6 207.2h1.1M157.3 207.2h1.1M164.2 207.2h3.4M67.6 208.3h2.3M98.7 208.3h2.3M109 208.3h1.1M117 208.3h1.1M135.4 208.3h1.1M137.8 208.3h1.1M156.1 208.3h2.3M163.1 208.3h2.3M66.5 209.5h1.1M69.9 209.5h1.1M105.5 209.5h1.1M109 209.5h1.1M117 209.5h2.3M127.4 209.5h1.1M130.8 209.5h1.1M135.4 209.5h1.1M137.8 209.5h1.1M145.8 209.5h1.1M157.3 209.5h2.3M163.1 209.5h1.1M165.3 209.5h2.3M66.5 210.6h1.1M69.9 210.6h1.1M109 210.6h1.1M127.4 210.6h1.1M130.8 210.6h1.1M135.4 210.6h1.1M145.8 210.6h1.1M166.5 210.6h1.1M66.5 211.8h1.1M83.7 211.8h1.1M107.8 211.8h1.1M121.7 211.8h1.1M74.5 212.9h1.1M82.5 212.9h2.3M104.4 212.9h2.3M109 212.9h1.1M121.7 212.9h1.1M123.9 212.9h1.1M130.8 212.9h1.1M135.4 212.9h1.1M152.7 212.9h1.1M78 214.1h2.3M84.8 214.1h1.1M109 214.1h1.1M111.3 214.1h1.1M113.6 214.1h1.1M122.8 214.1h1.1M135.4 214.1h1.1M144.6 214.1h1.1M152.7 214.1h1.1M155 214.1h1.1" stroke="#5cbd92" stroke-width="1.2" fill="none"/>
<path d="M74.5 168.1h1.1M82.5 168.1h1.1M104.4 168.1h1.1M106.7 168.1h1.1M151.6 168.1h1.1M103.2 169.2h3.4M82.5 170.4h1.1M102.1 170.4h1.1M111.3 170.4h1.1M138.9 170.4h1.1M102.1 171.5h2.3M138.9 171.5h1.1M111.3 172.7h1.1M73.3 173.8h2.3M106.7 173.8h1.1M76.8 175h1.1M92.9 175h1.1M141.2 175h1.1M74.5 176.1h1.1M74.5 177.3h1.1M141.2 177.3h1.1M103.2 178.4h1.1M135.4 178.4h1.1M138.9 178.4h1.1M148.1 178.4h2.3M134.3 179.6h1.1M148.1 179.6h2.3M83.7 180.7h1.1M122.8 180.7h1.1M148.1 180.7h1.1M166.5 180.7h1.1M82.5 181.9h1.1M141.2 181.9h1.1M158.4 181.9h1.1M82.5 183h1.1M82.5 184.2h1.1M99.8 184.2h1.1M141.2 184.2h1.1M141.2 185.3h1.1M99.8 186.5h1.1M107.8 186.5h1.1M84.8 189.9h1.1M107.8 189.9h1.1M84.8 191.1h1.1M107.8 191.1h1.1M84.8 192.2h1.1M160.8 192.2h1.1M159.6 193.4h2.3M140.1 195.7h1.1M158.4 195.7h1.1M105.5 196.8h1.1M107.8 196.8h1.1M140.1 196.8h1.1M142.3 196.8h1.1M104.4 198h1.1M132 198h1.1M140.1 198h1.1M142.3 198h1.1M63 199.1h1.1M104.4 199.1h1.1M138.9 199.1h2.3M63 200.3h1.1M104.4 200.3h1.1M135.4 200.3h1.1M138.9 200.3h3.4M63 201.4h1.1M138.9 201.4h1.1M63 202.6h1.1M138.9 202.6h1.1M63 203.7h1.1M90.6 203.7h1.1M138.9 203.7h1.1M90.6 204.9h1.1M144.6 204.9h1.1M144.6 206h1.1M109 207.2h1.1M69.9 208.3h1.1M105.5 208.3h1.1M136.6 208.3h1.1M165.3 208.3h1.1M136.6 209.5h1.1M136.6 210.6h1.1M109 211.8h1.1M136.6 211.8h1.1M145.8 211.8h1.1M113.6 212.9h1.1M122.8 212.9h1.1M143.5 212.9h2.3M69.9 214.1h1.1M74.5 214.1h1.1M143.5 214.1h1.1" stroke="#78c77a" stroke-width="1.2" fill="none"/>
<path d="M105.5 168.1h1.1M103.2 170.4h1.1M135.4 179.6h1.1M83.7 181.9h1.1M83.7 183h1.1M141.2 183h1.1M158.4 183h1.1M107.8 187.6h1.1M159.6 192.2h1.1M141.2 198h1.1M134.3 199.1h1.1M141.2 199.1h1.1M135.4 201.4h1.1M134.3 203.7h2.3M145.8 212.9h1.1M83.7 214.1h1.1M121.7 214.1h1.1M145.8 214.1h1.1" stroke="#9ad26a" stroke-width="1.2" fill="none"/>
<path d="M134.3 200.3h1.1M134.3 201.4h1.1M134.3 202.6h2.3" stroke="#c2dc5a" stroke-width="1.2" fill="none"/>
<rect x="84" y="167.5" width="0.7" height="46.1" fill="#d8f0f0" opacity="0.35"/>
<rect x="112" y="167.5" width="0.6" height="46.1" fill="#d8f0f0" opacity="0.3"/>
<path d="M294.2 89.6L299.8 88.5M294.2 89.6L297 83.9M297 83.9L298.9 80.8M297 83.9L300.1 80.5M298.9 80.8L300.1 80.5M298.9 80.8L297 83.9M299.8 88.5L300.7 87.5M299.8 88.5L301.2 89.2M300.1 80.5L298.9 80.8M300.1 80.5L297 83.9M300.7 87.5L299.8 88.5M300.7 87.5L301.2 89.2M301.2 89.2L301.3 89.7M301.2 89.2L299.8 88.5M301.3 89.7L301.2 89.2M301.3 89.7L299.8 88.5M305.3 86.4L305.6 84.8M305.3 86.4L307.2 85.7M305.6 84.8L305.3 86.4M305.6 84.8L307.2 85.7M307.2 85.7L305.6 84.8M307.2 85.7L305.3 86.4M308 89.6L310.3 89.3M308 89.6L310.3 87.2M309.6 84.7L310.3 84.5M309.6 84.7L311.2 85.7M310.3 84.5L309.6 84.7M310.3 84.5L311.2 85.7M310.3 89.3L310.3 87.2M310.3 89.3L308 89.6M310.3 87.2L310.6 86.5M310.3 87.2L311.2 85.7M310.6 86.5L310.3 87.2M310.6 86.5L311.2 85.7M311.2 85.7L310.6 86.5M311.2 85.7L312.5 85.4M312.5 85.4L311.2 85.7M312.5 85.4L310.6 86.5M314.4 83.7L312.5 85.4M314.4 83.7L315.7 81.3M314.9 72.9L316 73.8M314.9 72.9L316.1 73.9M315.7 81.3L317.5 82.3M315.7 81.3L314.4 83.7M316 73.8L316.1 73.9M316 73.8L314.9 72.9M316.1 73.9L316 73.8M316.1 73.9L314.9 72.9M316.3 88.1L316.7 88.6M316.3 88.1L312.5 85.4M316.7 88.6L316.3 88.1M316.7 88.6L312.5 85.4M316.8 72L317.8 72.3M316.8 72L316 73.8M317.5 82.3L315.7 81.3M317.5 82.3L314.4 83.7M317.8 72.3L316.8 72M317.8 72.3L316.1 73.9M319.3 74.8L317.8 72.3M319.3 74.8L316.1 73.9M321.5 86.3L322.9 84.3M321.5 86.3L325.9 86M321.9 71.5L322.7 72.7M321.9 71.5L324.8 71M322.7 72.7L321.9 71.5M322.7 72.7L324.8 71M322.9 84.3L321.5 86.3M322.9 84.3L325.9 86M324.1 112.9L327 111.3M324.4 127.6L326.6 128.5M324.4 127.6L325.5 130M324.8 71L322.7 72.7M324.8 71L321.9 71.5M325 121.1L327.4 119.6M325 121.1L329.7 120.2M325.5 130L326.6 128.5M325.5 130L324.4 127.6M325.5 135.6L329.8 134.4M325.5 135.6L325.5 130M325.9 86L326.6 86.7M325.9 86L322.9 84.3M326.4 95.3L330.6 95.8M326.4 95.3L329.2 99.8M326.6 128.5L325.5 130M326.6 128.5L328.8 128.2M326.6 86.7L325.9 86M326.6 86.7L329.3 87M327 111.3L324.1 112.9M327 111.3L328.9 106.9M327.4 119.6L329.7 120.2M327.4 119.6L325 121.1M328.5 77.2L328.7 74.4M328.5 77.2L328.9 74M328.7 74.4L328.9 74M328.7 74.4L328.5 77.2M328.8 128.2L326.6 128.5M328.8 128.2L325.5 130M328.9 106.9L327 111.3M328.9 106.9L332.1 111.1M328.9 74L328.7 74.4M328.9 74L328.5 77.2M329 62.2L330.9 62.6M329 62.2L329.5 64.4M329.2 99.8L330.9 99.3M329.2 99.8L331.7 98.1M329.3 87L330.8 86.7M329.3 87L330.7 87.8M329.5 64.4L329 62.2M329.5 64.4L330.9 62.6M329.7 120.2L327.4 119.6M329.7 120.2L332 122.7M329.8 134.4L331.9 131.7M329.8 134.4L331.1 131.2M330.1 80.6L331.1 80.7M330.1 80.6L332.5 82.3M330.6 95.8L331.7 98.1M330.6 95.8L330.9 99.3M330.7 87.8L330.8 86.7M330.7 87.8L329.3 87M330.8 86.7L330.7 87.8M330.8 86.7L329.3 87M330.9 99.3L331.7 98.1M330.9 99.3L332.3 100.2M330.9 62.6L329 62.2M330.9 62.6L329.5 64.4M331 90.8L330.7 87.8M331 90.8L332.6 87.1M331.1 80.7L330.1 80.6M331.1 80.7L332.5 82.3M331.1 131.2L331.9 131.7M331.1 131.2L329.8 134.4M331.3 116.4L333.9 117.1M331.3 116.4L332.7 113.2M331.7 98.1L330.9 99.3M331.7 98.1L332.3 100.2M331.9 131.7L331.1 131.2M331.9 131.7L329.8 134.4M332 122.7L329.7 120.2M332 122.7L333.4 119.5M332.1 111.1L332.7 113.2M332.1 111.1L334.5 111.1M332.3 100.2L333.4 99.8M332.3 100.2L330.9 99.3M332.5 82.3L331.1 80.7M332.5 82.3L330.1 80.6M332.6 87.1L332.8 86.2M332.6 87.1L330.8 86.7M332.7 113.2L332.1 111.1M332.7 113.2L334.5 111.1M332.8 86.2L332.6 87.1M332.8 86.2L330.8 86.7M333 136.4L335 135.4M333 136.4L334.7 134.7M333.4 99.8L334.3 99.6M333.4 99.8L332.3 100.2M333.4 119.5L333.9 117.1M333.4 119.5L332 122.7M333.9 117.1L333.4 119.5M333.9 117.1L331.3 116.4M334.3 99.6L334.7 98.9M334.3 99.6L333.4 99.8M334.5 111.1L332.1 111.1M334.5 111.1L332.7 113.2M334.7 98.9L334.3 99.6M334.7 98.9L333.4 99.8M334.7 134.7L335 135.4M334.7 134.7L333 136.4M335 135.4L334.7 134.7M335 135.4L333 136.4M335.2 80.2L335.3 81M335.2 80.2L337 81.7M335.2 69.6L335.3 67M335.2 69.6L338.7 69.7M335.3 81L335.2 80.2M335.3 81L337 81.7M335.3 67L335.2 69.6M335.3 67L337.7 65.6M335.7 102.7L334.3 99.6M335.7 102.7L333.4 99.8M336 86.7L336.9 84.9M336 86.7L332.8 86.2M336.6 94.9L337.6 96.9M336.6 94.9L338.7 96.6M336.9 84.9L336 86.7M336.9 84.9L337 81.7M337 81.7L335.3 81M337 81.7L338.6 80M337.1 90.9L339.4 91.5M337.1 90.9L340.9 90.9M337.3 116L337.6 117.5M337.3 116L338.3 114.4M337.4 135.9L338.3 137.5M337.4 135.9L337.8 138.3M337.6 117.5L337.3 116M337.6 117.5L338.3 114.4M337.6 96.9L338.6 96.8M337.6 96.9L338.7 96.6M337.7 65.6L337.9 64.6M337.7 65.6L335.3 67M337.7 131.2L340.7 131.5M337.7 131.2L340.8 130.8M337.7 125.2L339.2 127.4M337.7 125.2L342.2 127.1M337.8 138.3L338.3 137.5M337.8 138.3L337.4 135.9M337.9 64.6L337.7 65.6M337.9 64.6L339.4 63.2M338.2 77.8L338.6 80M338.2 77.8L341.2 77.6M338.2 40.8L339.7 38.9M338.2 40.8L340.1 38.3M338.3 114.4L337.3 116M338.3 114.4L338.3 112M338.3 112L340.6 111.1M338.3 112L338.3 114.4M338.3 137.5L337.8 138.3M338.3 137.5L337.4 135.9M338.6 96.8L338.7 96.6M338.6 96.8L337.6 96.9M338.6 80L337 81.7M338.6 80L338.2 77.8M338.7 69.7L341.8 71.3M338.7 69.7L335.2 69.6M338.7 96.6L338.6 96.8M338.7 96.6L337.6 96.9M338.9 99.6L339.3 100.7M338.9 99.6L338.6 96.8M339.1 105.1L335.7 102.7M339.1 105.1L339.3 100.7M339.2 127.4L337.7 125.2M339.2 127.4L342.2 127.1M339.3 100.7L338.9 99.6M339.3 100.7L342 101.7M339.4 91.5L340.9 90.9M339.4 91.5L337.1 90.9M339.4 63.2L339.9 62.8M339.4 63.2L339.5 61.7M339.5 36.9L340.1 38.3M339.5 36.9L339.7 38.9M339.5 61.7L339.9 62.8M339.5 61.7L339.4 63.2M339.7 57.5L341.8 58.9M339.7 57.5L340.7 54.1M339.7 38.9L340.1 38.3M339.7 38.9L341.1 38.9M339.8 74.8L341.8 72.9M339.8 74.8L341.2 77.6M339.9 62.8L339.4 63.2M339.9 62.8L339.5 61.7M340.1 38.3L339.7 38.9M340.1 38.3L341.1 38.9M340.6 111.1L342.4 110.5M340.6 111.1L342.7 111.8M340.7 54.1L343.9 55.6M340.7 54.1L339.7 57.5M340.7 131.5L340.8 130.8M340.7 131.5L341.5 132.9M340.8 130.8L340.7 131.5M340.8 130.8L341.5 132.9M340.9 139.4L342.3 140.1M340.9 139.4L342.7 139.7M340.9 90.9L339.4 91.5M340.9 90.9L337.1 90.9M341 86.5L340.9 90.9M341 86.5L336.9 84.9M341.1 38.9L340.1 38.3M341.1 38.9L341.9 38M341.2 77.6L341.3 78.6M341.2 77.6L338.2 77.8M341.3 78.6L341.2 77.6M341.3 78.6L338.6 80M341.5 45.7L342.6 44M341.5 45.7L343.6 49.5M341.5 132.9L340.7 131.5M341.5 132.9L340.8 130.8M341.5 96.5L344 97.5M341.5 96.5L338.7 96.6M341.8 58.9L339.7 57.5M341.8 58.9L339.5 61.7M341.8 71.3L341.8 72.9M341.8 71.3L338.7 69.7M341.8 72.9L341.8 71.3M341.8 72.9L339.8 74.8M341.9 38L341.1 38.9M341.9 38L340.1 38.3M342 101.7L339.3 100.7M342 101.7L344.1 103.8M342.2 127.1L339.2 127.4M342.2 127.1L344.5 129.5M342.3 140.1L342.7 139.7M342.3 140.1L343.6 139.4M342.3 40.5L341.1 38.9M342.3 40.5L341.9 38M342.4 110.5L342.7 111.8M342.4 110.5L340.6 111.1M342.4 135.1L341.5 132.9M342.4 135.1L344.5 133.9M342.5 120.4L344.7 119.6M342.5 120.4L343.4 124.1M342.6 44L341.5 45.7M342.6 44L342.3 40.5M342.7 139.7L342.3 140.1M342.7 139.7L343.6 139.4M342.7 111.8L342.4 110.5M342.7 111.8L340.6 111.1M342.8 62.8L343.9 63.5M342.8 62.8L343 64.8M343 64.8L343.9 63.5M343 64.8L343.8 66.3M343.3 81.9L343.5 81M343.3 81.9L345 83.6M343.4 124.1L342.2 127.1M343.4 124.1L345.6 127M343.5 81L343.3 81.9M343.5 81L345 83.6M343.6 49.5L345.4 48M343.6 49.5L346.7 49.3M343.6 139.4L342.7 139.7M343.6 139.4L342.3 140.1M343.8 66.3L344.1 66.7M343.8 66.3L343 64.8M343.9 55.6L344.4 56.3M343.9 55.6L344.3 54.3M343.9 63.5L342.8 62.8M343.9 63.5L343 64.8M344 97.5L341.5 96.5M344 97.5L346.6 95M344.1 66.7L343.8 66.3M344.1 66.7L343 64.8M344.1 36.1L341.9 38M344.1 36.1L341.1 38.9M344.1 103.8L345.7 103.1M344.1 103.8L344.2 106.5M344.2 106.5L345 106.5M344.2 106.5L345.7 108.4M344.3 54.3L344.8 54.3M344.3 54.3L343.9 55.6M344.4 56.3L343.9 55.6M344.4 56.3L344.3 54.3M344.5 133.9L342.4 135.1M344.5 133.9L341.5 132.9M344.5 129.5L345.6 127M344.5 129.5L342.2 127.1M344.7 119.6L342.5 120.4M344.7 119.6L345.8 115.5M344.8 54.3L344.3 54.3M344.8 54.3L343.9 55.6M345 83.6L346.3 83.3M345 83.6L343.3 81.9M345 106.5L344.2 106.5M345 106.5L345.7 108.4M345.1 61.3L346.3 62.5M345.1 61.3L343.9 63.5M345.3 112.1L346.3 111.2M345.3 112.1L346.5 113.9M345.4 48L346.7 49.3M345.4 48L347.2 47.1M345.4 91.5L346.1 91.1M345.4 91.5L346.6 95M345.6 127L344.5 129.5M345.6 127L342.2 127.1M345.7 108.4L345 106.5M345.7 108.4L347.3 107M345.7 103.1L344.1 103.8M345.7 103.1L348.3 101.6M345.8 115.5L346.5 113.9M345.8 115.5L346.7 113.9M346.1 91.1L345.4 91.5M346.1 91.1L347.7 88.3M346.2 71.1L347.7 68M346.2 71.1L348.4 67.6M346.3 111.2L345.3 112.1M346.3 111.2L346.5 113.9M346.3 62.5L345.1 61.3M346.3 62.5L347.7 60.6M346.3 83.3L345 83.6M346.3 83.3L343.3 81.9M346.4 77.6L349.4 74.5M346.4 77.6L343.5 81M346.5 66.6L347.7 68M346.5 66.6L348.4 67.6M346.5 113.9L346.7 113.9M346.5 113.9L345.8 115.5M346.6 95L344 97.5M346.6 95L345.4 91.5M346.7 113.9L346.5 113.9M346.7 113.9L345.8 115.5M346.7 49.3L348.1 48.9M346.7 49.3L345.4 48M346.8 42L348.4 43.8M346.8 42L349.9 44.4M347.2 47.1L348.1 48.9M347.2 47.1L345.4 48M347.3 107L345.7 108.4M347.3 107L345 106.5M347.5 54.1L347.9 52.6M347.5 54.1L349.3 52.7M347.7 88.3L348.9 86.2M347.7 88.3L346.1 91.1M347.7 68L348.4 67.6M347.7 68L346.5 66.6M347.7 60.6L346.3 62.5M347.7 60.6L345.1 61.3M347.9 52.6L349.3 52.7M347.9 52.6L347.5 54.1M348.1 48.9L346.7 49.3M348.1 48.9L347.2 47.1M348.2 135.6L350.8 136.5M348.2 135.6L350.7 137.1M348.3 57.7L350.4 55.9M348.3 57.7L347.7 60.6M348.3 101.6L348.4 101.5M348.3 101.6L345.7 103.1M348.4 101.5L348.3 101.6M348.4 101.5L345.7 103.1M348.4 43.8L349.9 44.4M348.4 43.8L346.8 42M348.4 67.6L347.7 68M348.4 67.6L346.5 66.6M348.8 112.3L350.2 112.3M348.8 112.3L346.7 113.9M348.9 86.2L347.7 88.3M348.9 86.2L346.3 83.3M348.9 123L351.9 119.9M348.9 123L352.2 119M349 109.2L350.5 110.1M349 109.2L347.3 107M349.3 97.8L352.4 96.5M349.3 97.8L348.4 101.5M349.3 52.7L347.9 52.6M349.3 52.7L347.5 54.1M349.4 74.5L349.6 74.3M349.4 74.5L351.1 73M349.4 81.2L350.9 80.4M349.4 81.2L346.3 83.3M349.6 74.3L349.4 74.5M349.6 74.3L351.1 73M349.9 44.4L350.7 44.3M349.9 44.4L348.4 43.8M350.2 112.3L348.8 112.3M350.2 112.3L350.5 110.1M350.4 55.9L351.7 53.9M350.4 55.9L348.3 57.7M350.5 110.1L349 109.2M350.5 110.1L350.2 112.3M350.6 94.3L351 94.3M350.6 94.3L352.9 92.6M350.7 44.3L349.9 44.4M350.7 44.3L352.4 44.4M350.7 137.1L350.8 136.5M350.7 137.1L352.5 139M350.8 136.5L350.7 137.1M350.8 136.5L348.2 135.6M350.8 46.8L352 46.4M350.8 46.8L351.9 48M350.9 80.4L349.4 81.2M350.9 80.4L353.7 78M351 94.3L350.6 94.3M351 94.3L352.9 92.6M351.1 73L349.6 74.3M351.1 73L349.4 74.5M351.5 68.8L348.4 67.6M351.5 68.8L353.8 71.7M351.7 53.9L350.4 55.9M351.7 53.9L349.3 52.7M351.9 48L352 46.4M351.9 48L350.8 46.8M351.9 119.9L352.2 119M351.9 119.9L356 120.9M352 108.2L350.5 110.1M352 108.2L354.9 107.4M352 46.4L350.8 46.8M352 46.4L351.9 48M352.2 119L351.9 119.9M352.2 119L354.1 115.7M352.4 44.4L350.7 44.3M352.4 44.4L352 46.4M352.4 96.5L354 95M352.4 96.5L354.8 97.3M352.5 139L354.6 140.1M352.5 139L350.7 137.1M352.6 101.4L353.5 104.2M352.6 101.4L348.4 101.5M352.8 75.4L353.7 75.3M352.8 75.4L353.8 73.5M352.9 92.6L353.6 92.3M352.9 92.6L354.4 92.4M353.2 62.4L354.9 58.9M353.2 62.4L354 57.2M353.5 104.2L352.6 101.4M353.5 104.2L354.9 107.4M353.5 135.1L354.7 135.3M353.5 135.1L350.8 136.5M353.6 92.3L352.9 92.6M353.6 92.3L354.4 92.4M353.7 75.3L352.8 75.4M353.7 75.3L353.8 73.5M353.7 78L353.7 75.3M353.7 78L352.8 75.4M353.7 90.9L353.6 92.3M353.7 90.9L354.4 92.4M353.8 73.5L354.7 72.8M353.8 73.5L353.8 71.7M353.8 71.7L354.7 72.8M353.8 71.7L353.8 73.5M353.8 126.7L354.6 127.8M353.8 126.7L354.6 128.2M354 95L352.4 96.5M354 95L354.8 97.3M354 57.2L354.9 58.9M354 57.2L355.9 56.6M354.1 115.7L354.9 112M354.1 115.7L352.2 119M354.4 92.4L353.6 92.3M354.4 92.4L352.9 92.6M354.6 140.1L356.7 140.8M354.6 140.1L352.5 139M354.6 128.2L354.6 127.8M354.6 128.2L353.8 126.7M354.6 47.7L355.5 48.5M354.6 47.7L351.9 48M354.6 127.8L354.6 128.2M354.6 127.8L353.8 126.7M354.7 135.3L353.5 135.1M354.7 135.3L356.4 137M354.7 72.8L353.8 73.5M354.7 72.8L353.8 71.7M354.8 97.3L352.4 96.5M354.8 97.3L354 95M354.9 112L354.1 115.7M354.9 112L354.9 107.4M354.9 107.4L352 108.2M354.9 107.4L353.5 104.2M354.9 58.9L354 57.2M354.9 58.9L355.9 56.6M355.4 51.6L356.3 51.8M355.4 51.6L355.6 53.7M355.5 48.5L354.6 47.7M355.5 48.5L355.4 51.6M355.6 53.7L357.1 55.1M355.6 53.7L356.3 51.8M355.6 126.8L356.4 127.9M355.6 126.8L354.6 127.8M355.7 131.3L354.6 128.2M355.7 131.3L356.4 127.9M355.9 56.6L357.1 55.1M355.9 56.6L354 57.2M355.9 71.1L356.4 71.1M355.9 71.1L357.1 71.3M356 120.9L357.6 121.4M356 120.9L357.3 122.6M356.3 51.8L355.4 51.6M356.3 51.8L355.6 53.7M356.4 127.9L355.6 126.8M356.4 127.9L354.6 127.8M356.4 71.1L355.9 71.1M356.4 71.1L357.1 71.3M356.4 137L354.7 135.3M356.4 137L353.5 135.1M356.7 140.8L354.6 140.1M356.7 140.8L356.4 137M357.1 55.1L355.9 56.6M357.1 55.1L355.6 53.7M357.1 71.3L356.4 71.1M357.1 71.3L355.9 71.1M357.3 122.6L357.6 123.6M357.3 122.6L357.6 121.4M357.6 123.6L357.3 122.6M357.6 123.6L358.7 123.5M357.6 121.4L357.3 122.6M357.6 121.4L356 120.9M358.7 123.5L357.6 123.6M358.7 123.5L359.3 122.1M359.3 122.1L358.7 123.5M359.3 122.1L360.6 123.1M360 69.2L362.3 70.5M360 69.2L357.1 71.3M360.5 138.8L363.4 137.5M360.5 138.8L364.3 138.8M360.6 123.1L360.6 123.7M360.6 123.1L359.3 122.1M360.6 123.7L360.6 123.1M360.6 123.7L358.7 123.5M360.9 54.9L364.4 54.2M360.9 54.9L357.1 55.1M361.5 132L365.2 131.6M361.5 132L362.8 128.4M361.5 127.3L362.8 128.4M361.5 127.3L360.6 123.7M361.6 110.5L364.7 107.8M361.6 110.5L354.9 112M362.3 70.5L362.7 72.2M362.3 70.5L360 69.2M362.7 72.2L362.3 70.5M362.7 72.2L362.8 74.3M362.8 74.3L362.7 72.2M362.8 74.3L362.3 70.5M362.8 128.4L361.5 127.3M362.8 128.4L361.5 132M363.4 137.5L364.2 137.4M363.4 137.5L364.3 138.8M364.2 137.4L363.4 137.5M364.2 137.4L364.3 138.8M364.3 138.8L364.2 137.4M364.3 138.8L363.4 137.5M364.4 54.2L360.9 54.9M364.4 54.2L366.8 59.8M364.7 107.8L361.6 110.5M365.2 131.6L361.5 132M365.2 131.6L362.8 128.4M365.7 137.8L364.2 137.4M365.7 137.8L364.3 138.8M366.2 143.2L367.4 142.1M366.2 143.2L367.5 141.4M366.8 59.8L369.4 60M366.8 59.8L370.8 63.4M367.4 142.1L367.5 141.4M367.4 142.1L366.2 143.2M367.5 141.4L367.4 142.1M367.5 141.4L366.2 143.2M369 136.2L365.7 137.8M369 136.2L364.2 137.4M369.4 60L366.8 59.8M369.4 60L370.8 63.4M370.8 63.4L372.5 62.7M370.8 63.4L372.9 63.2M372.5 62.7L372.9 63.2M372.5 62.7L370.8 63.4M372.9 63.2L372.5 62.7M372.9 63.2L373.2 64.7M373.2 64.7L372.9 63.2M373.2 64.7L372.5 62.7M378.3 63.4L378.8 66M378.3 63.4L373.2 64.7M378.8 66L378.3 63.4M378.8 66L373.2 64.7" stroke="#b4bbb8" stroke-width="0.4" fill="none" stroke-linecap="round"/>
<path d="M286.9 87.4L288.3 87.7M286.9 87.4L288.2 88.2M286.9 87.4L287.6 89.1M287.6 89.1L288.2 88.2M287.6 89.1L288.8 88.2M287.6 89.1L288.3 87.7M288.2 88.2L288.3 87.7M288.2 88.2L288.8 88.2M288.2 88.2L287.6 89.1M288.3 87.7L288.8 88.2M288.3 87.7L289.4 88.3M288.8 88.2L289.4 88.3M289 86.5L289.5 86.9M289 86.5L288.3 87.7M289 86.5L289.4 85.3M289.4 88.3L290.4 88.9M289.4 85.3L289 86.5M289.4 85.3L289.5 86.9M289.4 85.3L288.3 87.7M289.5 86.9L289.4 88.3M290.4 88.9L291.4 88.9M290.4 88.9L289.4 88.3M291.4 88.9L292 86.6M292 86.6L293.2 86.7M292 86.6L294.2 87.6M292.4 83L292.5 83.2M292.4 83L293.3 81.7M292.4 83L293.8 84M292.5 83.2L293.8 84M292.5 83.2L293.3 81.7M292.7 80.4L293.3 81.7M292.7 80.4L294.8 81M292.7 80.4L295.1 80.6M293.2 86.7L294.2 87.6M293.2 86.7L294.6 86.1M293.3 81.7L292.4 83M293.3 81.7L294.8 81M293.8 84L294.6 86.1M293.8 89.5L294.2 87.6M293.8 89.5L295.5 87.3M294.2 87.6L295.5 87.3M294.2 87.6L294.6 86.1M294.6 86.1L295.5 87.3M294.8 81L295.1 81.4M294.8 81L295.1 80.6M295.1 81.4L295.1 80.6M295.1 81.4L293.3 81.7M295.1 80.6L294.8 81M295.1 80.6L295.1 81.4M295.1 80.6L293.3 81.7M295.5 87.3L294.2 87.6M295.5 87.3L294.6 86.1M295.5 87.3L297.4 86.7M297 82.6L297.5 81.4M297 82.6L297.6 80.5M297.2 76.5L300 78.3M297.2 76.5L300.8 75.8M297.2 76.5L300.7 78.5M297.4 86.7L298.7 85.7M297.4 86.7L298.8 87.5M297.5 81.4L297.6 80.5M297.5 81.4L295.1 81.4M297.6 80.5L299.7 80.3M298.7 85.7L299.9 86.5M298.8 87.5L299.9 86.5M298.8 87.5L298.7 85.7M299.7 80.3L301 79.9M299.7 80.3L300.7 78.5M299.7 80.3L300 78.3M300 78.3L300.7 78.5M300 78.3L301.9 77.9M300 78.3L301 79.9M300.7 78.5L301.9 77.9M300.7 78.5L301 79.9M300.8 72.7L301.6 75.4M300.8 72.7L300.8 75.8M300.8 75.8L301.6 75.4M300.8 75.8L301.9 77.9M301 79.9L299.7 80.3M301.6 75.4L300.8 75.8M301.6 75.4L301.9 77.9M301.6 75.4L302.5 77.9M302.7 87L303.8 87.1M302.7 87L305.9 86M303.8 87.1L305.9 86M303.8 87.1L306.5 86.1M305.2 91.4L306.7 91.8M305.2 91.4L303.8 87.1M305.2 91.4L307.2 87.2M305.9 86L306.5 86.1M305.9 86L306.9 85.4M305.9 86L307.4 85.4M306.4 69.7L310 69.8M306.4 69.7L309.6 71.5M306.4 69.7L311.1 72.3M306.5 86.1L306.9 85.4M306.5 86.1L307.4 85.4M306.7 91.8L307.2 87.2M306.7 91.8L308.3 86.9M306.9 85.4L307.4 85.4M306.9 85.4L306.5 86.1M307.2 87.2L308.3 86.9M307.2 87.2L305.9 86M307.4 85.4L308.1 85.6M308.1 85.6L308.3 86.9M310 69.8L309.6 71.5M310 69.8L312.1 69.7M310 69.8L311.5 67.8M311.5 67.8L312.1 69.7M311.5 67.8L310 69.8M312.1 84.2L312.3 84.7M312.1 84.2L310.7 84.1M312.1 69.7L311.1 72.3M312.3 84.7L313.7 84.3M313.7 84.3L314 83.7M313.7 84.3L313.8 83.3M313.8 83.3L314 83.7M313.8 83.3L314.5 82.7M313.8 83.3L313.7 84.3M314 83.7L314.5 82.7M314.5 82.7L314.7 82.4M314.5 82.7L313.8 83.3M314.5 82.7L314 83.7M314.7 71.9L314.8 71.4M314.7 71.9L315.9 72.2M314.7 71.9L313.7 73.4M314.8 71.4L314.7 71.9M314.8 71.4L315.9 72.2M314.8 71.4L316.3 69.8M315.7 73.8L316.3 73.9M315.7 73.8L316.4 74M315.7 73.8L315.9 72.2M316.3 69.8L316.5 69.2M316.3 73.9L316.4 74M316.4 74L317.9 74.9M316.5 69.2L316.3 69.8M316.5 69.2L315.9 72.2M316.8 76L317.1 75.7M317.1 75.7L316.8 76M317.1 75.7L317.9 74.9M317.1 86.7L318.5 86.5M317.1 86.7L315.7 84.8M317.1 86.7L319.6 88.1M317.9 74.9L318.5 74.9M317.9 74.9L317.1 75.7M317.9 74.9L318.3 73.7M318.3 73.7L318.5 74.9M318.3 73.7L319.5 73.7M318.5 86.5L319.6 88.1M318.5 86.5L315.7 84.8M318.5 74.9L319.5 73.7M319.5 73.7L317.9 74.9M319.6 88.1L317.1 86.7M319.6 88.1L321 91.4M320 76.1L320.4 76.6M320 76.1L321 75.5M321 91.4L322.2 96.5M321 91.4L325.2 88.2M321 75.5L321.9 74.7M321.3 115.4L325.5 110.5M321.3 115.4L327 111.6M321.5 83.3L321.9 83.2M321.5 83.3L321.6 82.6M321.7 71.4L321.7 70.9M321.7 71.4L322.6 73.8M321.7 70.9L322.6 73.8M321.9 74.7L322.6 73.8M322.2 96.5L324.1 96.8M322.2 96.5L325.1 99.9M322.2 96.5L321 91.4M322.4 124.1L324.6 127.6M322.4 124.1L324.6 129.3M322.4 124.1L329.2 123.6M322.6 73.8L324.1 75.8M324.1 96.8L325.1 99.9M324.1 96.8L326.7 99.7M324.6 127.6L324.6 129.3M324.6 127.6L329.3 130.9M324.6 129.3L329.3 130.9M324.7 101.7L324.8 102.7M324.7 101.7L326 101.1M324.7 101.7L326 102.6M324.8 102.7L324.7 101.7M324.8 102.7L326 102.6M324.8 102.7L326 101.1M324.8 141.7L325.8 141.5M324.8 141.7L327 139.8M325 66.6L327.3 64M325 66.6L328.7 68.7M325 66.6L321.7 70.9M325.1 99.9L326 101.1M325.1 99.9L326.7 99.7M325.2 88.2L327.8 88.6M325.2 88.2L326.1 83.8M325.2 88.2L330.4 89.6M325.3 82L325.4 81.1M325.3 82L325.9 80.1M325.3 82L326.1 83.8M325.4 81.1L325.9 80.1M325.4 81.1L324.7 79.7M325.5 110.5L327 111.6M325.5 110.5L326 107.7M325.5 110.5L328.4 114.8M325.8 141.5L327 139.8M325.9 73.7L326.9 74.8M325.9 73.7L328.4 74.5M325.9 73.7L324.6 76.1M325.9 80.1L326.2 79.5M325.9 80.1L325.4 81.1M326 101.1L326 102.6M326 107.7L327 111.6M326 107.7L329.9 105.9M326.1 83.8L325.3 82M326.1 83.8L328.6 81.3M326.7 99.7L327.8 100.6M326.9 74.8L328.4 74.7M326.9 74.8L328.4 74.5M327 139.8L325.8 141.5M327 139.8L324.8 141.7M327 139.8L330.3 135.7M327 111.6L328.4 114.8M327 111.6L330.6 110.9M327.3 64L330.1 63.9M327.3 64L330.2 63.5M327.3 64L330.3 64.3M327.8 100.6L330.1 100.7M327.8 88.6L325.2 88.2M327.8 88.6L330.4 89.6M327.8 88.6L329.9 91.8M328 76.6L328.4 74.7M328 76.6L326.9 74.8M328 76.6L328.4 74.5M328.4 114.8L330.9 116.2M328.4 114.8L327 111.6M328.4 114.8L330.6 110.9M328.4 74.5L328.4 74.7M328.4 74.5L326.9 74.8M328.4 74.5L330.4 73.7M328.6 81.3L325.9 80.1M328.7 68.7L330.2 68.6M328.7 68.7L332.4 67.5M328.7 68.7L325 66.6M328.7 95.7L330.6 97M328.7 95.7L331.2 92.5M328.7 95.7L329.9 91.8M328.8 56.7L332.1 58.3M328.8 56.7L332.6 58M328.8 56.7L331.6 59.7M329.2 123.6L330 125.4M329.2 123.6L331.8 124.4M329.2 123.6L333.5 124.1M329.2 133.9L330.3 135.7M329.2 133.9L331 136.1M329.2 133.9L332.2 133.9M329.3 130.9L330.3 130.8M329.3 130.9L330.4 129.8M329.7 45.2L330.6 48.3M329.7 45.2L333.5 46.1M329.7 45.2L334.2 46.9M329.9 91.8L331.2 92.5M329.9 91.8L330.4 89.6M329.9 105.9L334.9 106.6M329.9 105.9L330.6 110.9M330 125.4L331.8 124.4M330 125.4L333.5 124.1M330.1 63.9L330.2 63.5M330.1 63.9L330.3 64.3M330.1 63.9L331.5 63.7M330.1 100.7L330.2 100M330.1 100.7L331.2 100.3M330.2 63.5L330.3 64.3M330.2 63.5L331.2 63.1M330.2 68.6L332.4 67.5M330.2 68.6L332.7 66.3M330.2 100L330.1 100.7M330.2 100L331.2 100.3M330.2 100L327.8 100.6M330.3 78.3L330.6 76.2M330.3 78.3L328 76.6M330.3 130.8L329.3 130.9M330.3 130.8L330.4 129.8M330.3 130.8L333.1 131.1M330.3 64.3L330.1 63.9M330.3 64.3L330.2 63.5M330.3 64.3L331.5 63.7M330.3 135.7L331 136.1M330.3 135.7L332.2 133.9M330.4 89.6L331.2 92.5M330.4 73.7L332 73.4M330.4 129.8L333.1 131.1M330.6 97L332.7 96.8M330.6 97L330.2 100M330.6 48.3L333.5 46.1M330.6 48.3L334.2 46.9M330.6 110.9L332.9 110M330.6 110.9L333.3 114.5M330.8 61.6L331.3 62.4M330.8 61.6L331.5 61.1M330.8 61.6L331 60.4M330.9 116.2L333.3 114.5M330.9 116.2L334.9 117.3M331 136.1L330.3 135.7M331 136.1L332.8 134.5M331 136.1L333.5 136.2M331 60.4L331.6 60.5M331 60.4L331.5 61.1M331 60.4L331.6 59.7M331.2 100.3L330.1 100.7M331.8 124.4L333.5 124.1M331.8 124.4L329.2 123.6M332 73.4L330.4 73.7M332 73.4L330.6 76.2M332.2 133.9L332.8 134.5M332.2 133.9L333.3 133.9M332.2 133.9L333.2 134.7M332.4 67.5L333.3 66.7M332.4 67.5L332.7 66.3M332.4 67.5L332.7 66.3M332.7 96.8L335.2 96.3M332.8 134.5L333.2 134.7M332.8 134.5L333.3 133.9M332.8 134.5L332.2 133.9M332.9 110L335 108.8M332.9 110L336.3 109.9M332.9 81.5L337.4 83.9M333.1 131.1L333.3 131.7M333.1 131.1L333.6 133M333.1 131.1L335.3 129.7M333.2 134.7L333.6 134.2M333.2 134.7L333.3 133.9M333.2 138.6L334 138.9M333.2 138.6L333.3 139.8M333.2 138.6L334.6 137.5M333.3 131.7L333.6 133M333.3 131.7L333.3 133.9M333.3 139.8L334 138.9M333.3 139.8L334.5 140M333.3 114.5L335.2 115.2M333.3 114.5L335.1 113.5M333.3 114.5L336 114.4M333.3 133.9L333.6 134.2M333.5 124.1L335.3 122.5M333.5 124.1L336.1 126.2M333.5 136.2L333.2 134.7M333.5 136.2L334.6 137.5M333.5 136.2L332.8 134.5M333.5 46.1L334.2 46.9M333.5 46.1L335.2 45.4M333.5 46.1L336.1 44.4M333.6 133L333.6 134.2M333.8 34.6L334.9 35.3M333.8 34.6L336.7 35.6M333.8 34.6L335.1 38.5M334 138.9L335 139.2M334.2 46.9L335.2 45.4M334.2 46.9L335.7 48.2M334.4 118.9L334.9 117.3M334.4 118.9L336.3 117.6M334.4 118.9L335.8 116.9M334.5 140L335 139.2M334.5 140L333.3 139.8M334.6 137.5L335.3 138.4M334.6 137.5L334 138.9M334.6 137.5L335 139.2M334.9 35.3L336.7 35.6M334.9 35.3L335.1 38.5M334.9 117.3L335.8 116.9M334.9 117.3L336.3 117.6M334.9 106.6L335 108.8M334.9 106.6L338.1 104.9M334.9 106.6L336.3 109.9M335 108.8L336.3 109.9M335 108.8L334.9 106.6M335 139.2L335.3 138.4M335 66.9L335.2 67.2M335 66.9L335.6 66.4M335.1 38.5L337.3 40.1M335.1 38.5L336.6 41.3M335.1 113.5L336 114.4M335.1 113.5L335.2 115.2M335.2 115.2L336 114.4M335.2 115.2L335.8 116.9M335.2 96.3L332.7 96.8M335.2 96.3L338.4 97.6M335.2 67.2L335.6 66.4M335.2 67.2L334.5 66.8M335.2 45.4L336.1 44.4M335.2 127.1L336.1 126.2M335.2 127.1L336.7 125.8M335.2 127.1L335.3 129.7M335.3 138.4L335 139.2M335.3 138.4L334.6 137.5M335.3 129.7L336.4 131.9M335.3 122.5L335.9 120.8M335.3 122.5L333.5 124.1M335.3 122.5L338.2 124.2M335.6 66.4L335.6 66.2M335.6 66.4L335 66.9M335.7 68.1L335 66.9M335.8 116.9L336.3 117.6M335.8 116.9L335.2 115.2M335.9 120.8L335.3 122.5M335.9 120.8L336.3 117.6M336 114.4L335.2 115.2M336 114.4L337.1 115M336.1 126.2L336.7 125.8M336.1 126.2L335.2 127.1M336.1 126.2L338.3 127.8M336.1 44.4L336.8 43.9M336.1 44.4L335.2 45.4M336.1 44.4L337.7 44.3M336.3 117.6L335.8 116.9M336.3 117.6L337.7 116.3M336.3 109.9L338.4 108.1M336.3 109.9L339.4 109.2M336.4 131.9L335.3 129.7M336.4 131.9L338.5 130.2M336.4 131.9L333.6 133M336.5 30L337.3 31.8M336.5 30L337.9 31.7M336.5 30L337.7 27.1M336.6 41.3L337.3 40.1M336.6 41.3L337.6 42.3M336.6 41.3L338.7 40.5M336.7 35.6L339.4 35.6M336.7 35.6L339 34.2M336.7 125.8L335.2 127.1M336.7 125.8L338.2 124.2M336.8 43.9L337.7 44.3M336.8 43.9L338.4 44.4M337.1 115L337.7 116.3M337.1 115L338.7 114.8M337.3 40.1L338.7 40.5M337.3 40.1L338.6 38.3M337.3 31.8L337.9 31.7M337.3 31.8L339.1 32.6M337.4 83.9L338.2 84.8M337.4 83.9L339.1 84.2M337.4 83.9L340.3 83.7M337.5 64.1L337.8 64.7M337.5 64.1L338.1 65M337.5 64.1L339.4 64.1M337.5 46L338.3 45.8M337.5 46L337.7 44.3M337.6 42.3L338.4 42.9M337.6 42.3L336.6 41.3M337.6 42.3L336.8 43.9M337.7 116.3L338.9 115.5M337.7 116.3L339.3 116.5M337.7 44.3L338.4 44.4M337.7 44.3L338.7 44.7M337.7 27.1L338.8 27.3M337.7 27.1L340.1 28.5M337.7 27.1L340.1 28.8M337.8 64.7L338.1 65M337.8 64.7L338.8 65.5M337.9 31.7L339.1 32.6M337.9 31.7L340.1 31.9M338 87.2L338.2 84.8M338 87.2L339.1 84.2M338 87.2L337.4 83.9M338.1 65L338.8 65.5M338.1 65L337.5 64.1M338.1 128.2L338.3 127.8M338.1 128.2L338.5 130.2M338.1 104.9L338.4 108.1M338.1 104.9L334.9 106.6M338.1 104.9L339.4 109.2M338.1 91.8L340.7 91.7M338.1 91.8L339.9 89.8M338.1 91.8L340.1 89.7M338.2 124.2L338.8 124.7M338.2 124.2L336.7 125.8M338.2 84.8L339.1 84.2M338.2 84.8L337.4 83.9M338.3 127.8L338.5 130.2M338.3 45.8L338.7 44.7M338.3 45.8L339.4 45.2M338.4 42.9L337.6 42.3M338.4 42.9L338.4 44.4M338.4 44.4L338.7 44.7M338.4 44.4L339.1 44.7M338.4 97.6L343.2 100.4M338.4 108.1L339.4 109.2M338.4 108.1L340.2 110.7M338.5 118.5L339.9 119.5M338.5 118.5L339.3 116.5M338.5 118.5L336.3 117.6M338.5 130.2L338.1 128.2M338.5 130.2L338.3 127.8M338.6 138.6L340.1 138M338.6 138.6L338.6 135.7M338.6 138.6L335.3 138.4M338.6 135.7L340.1 138M338.6 135.7L338.6 138.6M338.6 135.7L341.6 133.6M338.7 44.7L339.1 44.7M338.7 44.7L339.4 45.2M338.7 114.8L338.9 115.5M338.7 114.8L339.3 116.5M338.8 27.3L340.1 28.5M338.8 27.3L340.1 28.8M338.8 65.5L339.4 64.1M338.8 124.7L336.1 126.2M338.9 115.5L339.3 116.5M339 61.2L339.7 60.8M339 61.2L339.3 60.3M339.1 44.7L339.4 45.2M339.1 84.2L340.3 83.7M339.3 116.5L338.9 115.5M339.3 60.3L339.7 60.8M339.3 60.3L339 61.2M339.4 64.1L340 64.6M339.4 64.1L338.8 65.5M339.4 109.2L340.2 110.7M339.4 45.2L339.1 44.7M339.4 45.2L338.4 44.4M339.7 60.8L338.2 60.5M339.8 50.7L340.1 51.3M339.8 50.7L340.5 49.7M339.9 47.6L340.5 49.7M339.9 47.6L339.4 45.2M339.9 89.8L340.1 89.7M339.9 89.8L341 88.8M339.9 89.8L340.7 91.7M339.9 119.5L338.5 118.5M339.9 119.5L343.5 120.6M340.1 144.2L340.9 142.8M340.1 144.2L342.5 140.4M340.1 138L341.9 138.6M340.1 138L338.6 135.7M340.1 51.3L339.8 50.7M340.1 51.3L340.5 49.7M340.1 51.3L341.6 50.3M340.1 89.7L339.9 89.8M340.1 89.7L341 88.8M340.1 89.7L340.7 91.7M340.2 110.7L342 111.8M340.2 110.7L338.4 108.1M340.3 83.7L341.2 85.4M340.3 56.8L339.6 56.4M340.3 56.8L338.2 56.1M340.4 59.2L339.3 60.3M340.4 59.2L339.7 60.8M340.5 49.7L341.6 50.3M340.7 91.7L342.4 92.3M340.7 91.7L339.9 89.8M340.7 44.7L340.7 44.7M340.7 44.7L341.8 44.7M340.7 44.7L340.7 44.7M340.7 44.7L341.8 44.7M340.7 44.7L339.4 45.2M340.9 142.8L342.5 140.4M340.9 142.8L341.9 138.6M341 88.8L341.2 87.8M341 88.8L340.1 89.7M341 88.8L342.4 88.2M341 53.3L340.1 51.3M341.1 132.6L341.7 131.8M341.1 132.6L341.6 133.6M341.1 132.6L342.8 132.1M341.2 85.4L341.2 87.8M341.2 85.4L339.1 84.2M341.2 87.8L342.4 88.2M341.6 133.6L341.7 131.8M341.6 133.6L342.8 132.1M341.7 131.8L342.8 132.1M341.7 131.8L341.6 133.6M341.8 44.7L342.3 44.3M341.8 44.7L340.7 44.7M341.9 138.6L342.5 140.4M341.9 138.6L343.4 136.2M341.9 114.9L344.6 115M341.9 114.9L342 111.8M342 111.8L340.2 110.7M342 111.8L344.9 111.7M342 111.8L341.9 114.9M342.3 44.3L341.8 44.7M342.3 44.3L343.1 43.1M342.3 44.3L342.6 42.8M342.4 92.3L340.1 89.7M342.4 92.3L339.9 89.8M342.4 88.2L341.2 87.8M342.4 88.2L343.8 86.6M342.6 26.5L343.4 27.8M342.6 26.5L342.6 28.8M342.6 28.8L343.4 27.8M342.6 28.8L342.6 30.7M342.6 42.8L343.1 43.1M342.6 42.8L343.8 42.6M342.7 37.2L342.9 35.7M342.7 57.2L340.4 59.2M343 135.6L343.4 136.2M343 135.6L345.6 135.3M343.1 43.1L343.8 42.6M343.1 43.1L342.3 44.3M343.2 100.4L344.3 102.5M343.2 100.4L344.6 97.8M343.2 100.4L346.6 101.4M343.4 136.2L345.6 135.3M343.5 120.6L344.2 119M343.5 120.6L347.1 118.4M343.6 50.3L343.9 47.2M343.7 31.2L344.2 31.8M343.8 86.6L344.5 86.6M343.8 86.6L344.6 86.6M343.8 42.6L343.1 43.1M343.8 42.6L344.6 44M343.9 47.2L345.9 44.8M343.9 129.8L344.3 130M343.9 129.8L342.8 132.1M343.9 129.8L346.7 130.8M344.2 33.1L344.5 32.7M344.2 33.1L344.8 32.1M344.2 31.8L344.8 32.1M344.2 31.8L344.5 32.7M344.2 119L343.5 120.6M344.2 119L347.1 118.4M344.2 119L344.6 115M344.3 130L342.8 132.1M344.3 130L346.7 130.8M344.3 102.5L346.6 101.4M344.3 102.5L346.8 100.9M344.5 86.6L344.6 86.6M344.5 86.6L345.8 88.4M344.5 32.7L344.8 32.1M344.5 32.7L344.2 31.8M344.6 97.8L346.8 100.9M344.6 97.8L346.6 94.3M344.6 86.6L345.8 88.4M344.6 44L345.6 43.8M344.6 44L345.9 44.8M344.6 115L346.4 113.4M344.6 115L345.7 112.2M344.8 32.1L344.2 31.8M344.9 37.2L342.7 37.2M344.9 37.2L342.9 35.2M344.9 111.7L345.7 112.2M344.9 111.7L346.5 110.5M344.9 111.7L346.4 113.4M345.6 43.8L345.9 44.8M345.6 43.8L346.1 42.9M345.6 42.1L346.1 42.9M345.6 42.1L346.8 41.9M345.6 42.1L345.6 43.8M345.6 135.3L347.9 135.2M345.6 135.3L346.7 137.3M345.7 112.2L346.4 113.4M345.7 112.2L346.5 110.5M345.8 53L343.6 50.3M345.8 88.4L347.5 87.4M345.8 64.5L350.6 60.2M345.9 44.8L346.1 42.9M346.1 42.9L346.8 41.9M346.4 113.4L344.6 115M346.4 132.7L346.8 131.9M346.4 132.7L348.1 133.5M346.4 132.7L346.7 130.8M346.5 78.4L349.9 75.9M346.5 78.4L350.9 81.6M346.5 78.4L349.9 83.4M346.5 110.5L347.8 108.1M346.6 94.3L348 90.7M346.6 94.3L348.2 90.2M346.6 101.4L346.8 100.9M346.6 101.4L347.6 102.3M346.6 101.4L348.2 101.3M346.7 137.3L347.9 135.2M346.7 137.3L349.2 136.5M346.7 130.8L346.8 131.9M346.7 130.8L347.4 129.7M346.8 41.9L347.6 41.8M346.8 100.9L348.2 101.3M346.8 100.9L347.6 102.3M346.8 131.9L348.1 133.5M347.1 118.4L344.6 115M347.2 125.3L347.4 129.7M347.2 125.3L351.2 122.3M347.2 125.3L343.9 129.8M347.2 142.8L349 142.5M347.2 142.8L349.6 143M347.2 142.8L350.9 140.3M347.4 129.7L349.9 130.7M347.5 87.4L348.2 90.2M347.6 41.8L346.8 41.9M347.6 41.8L347.7 40.7M347.6 41.8L348 42.9M347.6 102.3L348.2 101.3M347.6 102.3L349.1 102.4M347.7 40.7L346.8 41.9M347.7 40.7L349.4 41.6M347.8 108.1L349.1 106.8M347.8 108.1L345.7 112.2M347.9 47.7L348.3 46.2M347.9 47.7L349.1 45.8M347.9 47.7L350.1 47.6M347.9 34.9L344.9 37.2M347.9 135.2L349.1 134.7M347.9 135.2L348.1 133.5M347.9 135.2L349.2 136.5M348 42.9L348.3 44.2M348 42.9L349.3 42.3M348 90.7L348.2 90.2M348 90.7L345.8 88.4M348.1 133.5L349.6 133.2M348.1 133.5L349.1 134.7M348.1 133.5L347.9 135.2M348.2 101.3L349.1 102.4M348.2 90.2L347.5 87.4M349 114.4L350.7 115.3M349 114.4L346.4 113.4M349 114.4L351.5 117M349 142.5L349.6 143M349 142.5L347.2 142.8M349 142.5L350.9 140.3M349.1 102.4L348.2 101.3M349.1 102.4L350.8 102.7M349.1 134.7L347.9 135.2M349.1 134.7L349.6 133.2M349.1 106.8L352.2 104.5M349.1 106.8L351.3 103.5M349.2 136.5L350.8 135.3M349.3 42.3L349.4 41.6M349.3 42.3L351 42.2M349.4 98.3L350.7 99.3M349.4 98.3L351.9 99.8M349.4 98.3L350.8 100.9M349.4 41.6L351 42.2M349.4 41.6L347.6 41.8M349.6 133.2L348.1 133.5M349.6 133.2L351.7 133M349.6 143L347.2 142.8M349.6 143L350.9 140.3M349.9 83.4L351 83M349.9 83.4L351.2 84.8M349.9 83.4L350.9 81.6M349.9 75.9L352.3 74.8M349.9 75.9L352.5 75.7M349.9 75.9L352.3 73.6M349.9 130.7L352.1 129.9M349.9 130.7L349.6 133.2M350.1 58.5L350.6 60.2M350.1 58.5L352.7 56.7M350.1 58.5L353.9 59.7M350.1 47.6L348.3 46.2M350.6 60.2L353.1 62M350.6 60.2L353.9 59.7M350.7 115.3L351.5 117M350.7 115.3L352.4 118.4M350.7 99.3L351.9 99.8M350.7 99.3L350.8 100.9M350.7 99.3L349.4 98.3M350.8 102.7L351.3 103.5M350.8 102.7L350.8 100.9M350.8 100.9L351.9 99.8M350.8 100.9L350.7 99.3M350.8 100.9L350.8 102.7M350.8 51.5L353.2 49.8M350.8 51.5L352.6 49.1M350.8 51.5L350.1 47.6M350.8 135.3L351.7 135.7M350.8 135.3L352.6 135.6M350.8 135.3L352.7 135.2M350.9 81.6L351 83M350.9 81.6L351.2 84.8M350.9 140.3L351.3 139.4M350.9 140.3L352.3 137.9M351 83L350.9 81.6M351 83L351.2 84.8M351 42.2L351.1 43.4M351 42.2L352.2 43.1M351 42.2L349.3 42.3M351 70.8L351.5 70.6M351 70.8L351.9 73.1M351 70.8L352.3 73.6M351.1 43.4L352.2 43.1M351.2 122.3L353.3 124.9M351.2 122.3L354.3 120.3M351.2 122.3L354.6 120.8M351.2 84.8L351.8 85.7M351.3 103.5L352.2 104.5M351.3 103.5L352.8 104.7M351.3 139.4L352.3 137.9M351.5 117L352.4 118.4M351.5 117L353.5 119.1M351.5 70.6L351.9 73.1M351.5 70.6L352.3 73.6M351.6 110.9L352.1 110.1M351.6 110.9L353.3 111.7M351.6 110.9L352.9 112.5M351.7 133L351.7 133.5M351.7 133L353 132.2M351.7 135.7L352.6 135.6M351.7 135.7L350.8 135.3M351.7 135.7L352.7 135.2M351.7 133.5L353 132.2M351.7 133.5L352.7 135.2M351.8 85.7L353.2 85.2M351.8 85.7L352.8 87M351.9 99.8L350.7 99.3M351.9 99.8L354.3 99.9M351.9 73.1L352.3 73.6M351.9 73.1L352.3 74.8M351.9 73.1L351 70.8M352.1 129.9L349.9 130.7M352.1 129.9L353 132.2M352.1 129.9L354.2 132.1M352.1 89.1L352.8 90.4M352.1 89.1L353.6 90.3M352.1 89.1L353.6 87.8M352.1 93.5L353.8 91.1M352.1 93.5L352.8 90.4M352.1 93.5L354.5 91.1M352.1 110.1L351.6 110.9M352.1 110.1L353.3 111.7M352.1 110.1L352.9 112.5M352.2 43.1L353 41.7M352.2 104.5L352.8 104.7M352.2 104.5L353.3 102.7M352.3 74.8L352.5 75.7M352.3 74.8L352.3 73.6M352.3 74.8L353.3 75.5M352.3 137.9L351.3 139.4M352.3 137.9L352.6 135.6M352.3 73.6L351.9 73.1M352.3 73.6L354.3 73.9M352.4 67.2L352.7 65.9M352.4 67.2L352.5 65.8M352.4 67.2L354.4 67.2M352.4 118.4L353.5 119.1M352.4 118.4L354.3 120.3M352.5 75.7L353.3 75.5M352.5 65.8L352.7 65.9M352.5 65.8L353.6 65.2M352.6 49.1L353.2 49.8M352.6 49.1L354.9 49.3M352.6 135.6L352.7 135.2M352.7 65.9L353.6 65.2M352.7 56.7L354.8 57.5M352.7 56.7L353.9 59.7M352.7 56.7L350.1 58.5M352.8 104.7L352.2 104.5M352.8 104.7L354.9 104.8M352.8 87L353.6 87.8M352.8 87L354.2 86.5M352.8 90.4L353.6 90.3M352.8 90.4L353.8 91.1M352.9 112.5L353.3 111.7M352.9 112.5L354.3 113.4M353 132.2L354.2 132.1M353.1 62L354.5 62.3M353.1 62L354.7 63.4M353.1 62L355.1 61.4M353.2 49.8L354.9 49.3M353.2 49.8L355.1 51.5M353.2 85.2L354.4 84.1M353.2 85.2L354.2 86.5M353.3 111.7L351.6 110.9M353.3 111.7L355.2 111.6M353.3 78.9L354.9 77.7M353.3 78.9L355.2 78.2M353.3 78.9L354.9 76.7M353.3 75.5L354.3 73.9M353.3 102.7L355.5 102.7M353.3 124.9L354.7 127.2M353.3 124.9L356.3 125.1M353.3 124.9L356.4 124.8M353.5 119.1L354.3 120.3M353.5 119.1L355.5 118.7M353.6 90.3L352.8 90.4M353.6 90.3L353.8 91.1M353.6 90.3L354.5 91.1M353.6 87.8L352.8 87M353.6 87.8L354.2 86.5M353.6 87.8L355.3 87.8M353.6 65.2L352.7 65.9M353.6 65.2L352.5 65.8M353.6 65.2L355.2 63.8M353.7 97.3L355 97.7M353.7 97.3L354.6 96.2M353.7 97.3L354.3 99.9M353.8 107.7L354.9 106.2M353.8 107.7L355.3 106.2M353.8 107.7L356.3 107.3M353.8 91.1L354.5 91.1M353.9 59.7L355.1 61.4M353.9 59.7L354.8 57.5M354.2 132.1L355.2 132.8M354.2 86.5L353.6 87.8M354.3 113.4L355.2 111.6M354.3 120.3L354.6 120.8M354.3 120.3L355.5 118.7M354.3 73.9L355.7 74.4M354.3 73.9L353.3 75.5M354.3 99.9L356.3 100.8M354.3 99.9L356.6 100.2M354.3 99.9L355 97.7M354.4 67.2L352.7 65.9M354.5 62.3L354.7 63.4M354.5 62.3L355.1 61.4M354.5 62.3L353.1 62M354.6 96.2L355 97.7M354.6 96.2L356.3 96.5M354.6 120.8L355.5 118.7M354.7 63.4L355.2 63.8M354.7 127.2L356.4 128.3M354.7 127.2L356.6 128.9M354.7 127.2L356.3 125.1M354.8 71.3L355.1 71M354.8 71.3L355.4 71.5M354.8 71.3L355.5 71.5M354.8 57.5L356.7 55.3M354.9 49.3L355.9 50.2M354.9 49.3L356.1 50.4M355.1 51.5L356.1 50.4M355.1 51.5L355.9 50.2M355.1 51.5L356.8 51.2M355.1 71L355.4 71.5M355.1 71L355.5 71.5M355.1 61.4L356.1 61.3M355.1 61.4L353.9 59.7M355.2 63.8L356.7 63.9M355.2 132.8L355.8 134.8M355.2 132.8L356.6 134.4M355.4 71.5L355.5 71.5M355.4 136.9L355.7 137.8M355.4 136.9L355.8 134.8M355.4 136.9L357.4 135.7M355.5 118.7L356.9 117.4M355.7 137.8L357.1 139M355.7 137.8L357.4 135.7M355.8 134.8L356.6 134.4M355.8 134.8L357.4 135.7M355.9 50.2L356.1 50.4M355.9 50.2L356.8 51.2M356.1 50.4L355.9 50.2M356.1 50.4L356.8 51.2M356.1 70.8L356.3 70.3M356.1 70.8L355.4 71.5M356.3 125.1L356.4 124.8M356.3 125.1L356.4 124.3M356.3 72L355.4 71.5M356.3 130.2L356.6 128.9M356.3 130.2L356.4 128.3M356.3 70.3L356.1 70.8M356.3 70.3L357.4 71.2M356.4 124.8L356.3 125.1M356.4 124.8L356.4 124.3M356.4 124.8L358.3 123M356.4 124.3L356.3 125.1M356.4 124.3L358.3 123M356.4 128.3L356.6 128.9M356.6 134.4L357.4 135.7M356.6 128.9L354.7 127.2M356.7 55.3L359.4 53.8M356.7 55.3L359.8 53.4M356.8 51.2L356.1 50.4M356.8 51.2L357.9 50.6M356.8 51.2L355.9 50.2M357.1 139L355.4 136.9M357.1 139L357.5 141.8M357.4 71.2L357.4 71.4M357.4 71.2L356.1 70.8M357.4 135.7L359.5 135M357.4 71.4L357.4 72.6M357.4 72.6L357.8 73.1M357.5 141.8L359.9 140.6M357.5 141.8L357.1 139M358 69.9L358.7 69.6M358 69.9L358.8 70.7M358.2 122.7L358.4 122.9M358.2 122.7L358.3 123M358.2 122.7L358.6 122.1M358.3 51.2L357.9 50.6M358.3 51.2L358.8 50.4M358.3 123L358.4 122.9M358.3 123L358.6 122.1M358.4 122.9L358.3 123M358.4 122.9L358.6 122.1M358.6 122.1L359 122M358.7 69.6L359.7 69.6M358.7 69.6L358.8 70.7M358.8 70.7L360 70.2M359 39.3L361.9 37M359 39.3L363.1 43.6M359 39.3L353 41.7M359.4 128.9L362 128.4M359.4 128.9L360.7 131.6M359.4 53.8L359.8 53.4M359.4 53.8L361.8 55.6M359.5 135L362.3 134.9M359.5 135L356.6 134.4M359.7 125.2L360 125.1M359.7 125.2L360 125.5M359.7 125.2L360.4 125.1M359.8 53.4L361.8 55.6M360 125.1L360 125.5M360 125.1L360.4 125.1M360 125.5L360.4 125.1M360 131.8L360.7 131.6M360 131.8L362.5 131.2M360 131.8L362.2 130.2M360.4 125.1L360 125.1M360.7 131.6L362.5 131.2M360.7 131.6L362.2 130.2M360.9 47.1L360.3 47.3M360.9 47.1L361 46.2M361 46.2L360.3 47.3M361 46.2L362.2 48.1M361 56.6L362.1 56.2M361 56.6L361.8 55.6M361.8 55.6L362.1 56.2M361.8 55.6L362.8 55.8M361.8 55.6L362.8 56.2M361.9 37L363.1 43.6M362 128.4L362.6 127.8M362 128.4L362.2 130.2M362.1 50.8L364.4 51.9M362.1 50.8L362.2 48.1M362.1 56.2L362.8 56.2M362.1 56.2L362.8 55.8M362.2 130.2L362.5 131.2M362.2 130.2L363.8 129.6M362.3 134.9L363.9 137M362.3 134.9L359.5 135M362.3 134.9L360.7 131.6M362.5 131.2L362.2 130.2M362.5 131.2L363.8 129.6M362.8 56.2L362.8 55.8M362.8 56.2L363 55.7M362.8 56.2L362.1 56.2M362.8 55.8L363 55.7M362.8 55.8L363.5 56M363 55.7L363.5 56M363.1 43.6L360.9 47.1M363.1 43.6L366.8 46M363.5 56L362.8 55.8M363.5 56L364.3 56.2M363.8 129.6L365.1 129.9M363.9 137L367.4 137.6M363.9 137L367.8 138.8M364.3 56.2L364.8 57.4M364.4 51.9L362.1 50.8M366.1 132.6L367 132.5M366.1 132.6L367 131.8M366.1 132.6L366.7 131.5M367 59.3L367.9 59.6M367 59.3L368 60.5M367.2 134.2L368.2 135.8M367.2 134.2L366.1 132.6M367.4 137.6L367.8 138.8M367.4 137.6L368.2 135.8M367.4 137.6L369.6 136.9M367.8 138.8L369.2 139.1M367.8 138.8L369.6 138.8M367.8 57.9L368.3 57.3M367.8 57.9L367 59.3M367.8 57.9L367.9 59.6M367.9 59.6L368 60.5M367.9 59.6L368.9 60.7M368 60.5L368.9 60.7M368.2 135.8L368.9 135.6M368.2 135.8L369.6 136.9M368.3 57.3L370 57.8M368.3 57.3L367.9 59.6M368.9 60.7L367.9 59.6M368.9 60.7L368.5 62.6M369.2 139.1L369.6 138.8M369.2 139.1L370 140M369.2 139.1L370.5 139.6M369.5 143.9L370 140M369.5 143.9L373.8 142.8M369.5 143.9L370.5 139.6M369.6 138.8L369.2 139.1M369.6 138.8L370.5 139.6M369.6 138.8L370 140M370 140L370.5 139.6M370 57.8L367.8 57.9M370.5 139.6L369.6 138.8M370.5 139.6L369.2 139.1M373.4 62.9L374.4 63.6M373.4 62.9L375.5 62.6M373.8 142.8L374.7 142.2M373.8 142.8L370.5 139.6M374.4 63.6L375.5 62.6M374.7 142.2L373.8 142.8M374.7 142.2L370.5 139.6M375.5 62.6L376 60.9M375.5 62.6L373.4 62.9M376 60.9L377.5 61M376 60.9L375.5 62.6M376.2 131.6L375.1 132.1M376.2 131.6L377.5 132.2M376.2 131.6L378.3 130.7M376.5 128.4L377.7 128M376.5 128.4L377.9 127.8M376.5 128.4L378.1 129.3M377.5 132.2L378.3 130.7M377.5 61L378.6 63.9M377.7 128L377.9 127.8M377.7 128L378.1 129.3M377.9 127.8L377.7 128M377.9 127.8L378.1 129.3M377.9 127.8L376.5 128.4M378.1 129.3L378.3 130.7M378.1 129.3L377.9 127.8M378.1 124.5L378.3 124.3M378.3 124.3L379.9 124.2M378.3 66.1L378.9 65.4M378.3 66.1L379.1 67.4M378.3 130.7L377.5 132.2M378.6 63.9L378.9 65.4M378.6 63.9L379.9 64.8M378.6 63.9L379.9 65.7M378.9 65.4L379.9 65.7M378.9 65.4L379.9 64.8M379.2 122.2L379.3 121.7M379.2 122.2L380.1 122.9M379.9 65.7L379.9 64.8M379.9 65.7L381.5 65.7M379.9 124.2L380.1 122.9M379.9 124.2L381 125.1M379.9 124.2L378.3 124.3M380.1 122.9L379.2 122.2M380.1 122.9L381.3 122.9M380.2 132.8L378.1 129.3M380.9 62.7L381.6 61.9M380.9 62.7L382.7 61.7M380.9 62.7L382 64.6M381 125.1L381.6 125.4M381 125.1L381.3 122.9M381.3 122.9L380.1 122.9M381.3 122.9L379.9 124.2M381.5 65.7L381.5 64.9M381.5 65.7L382.1 66.6M381.5 65.7L382 64.6M381.5 64.9L382 64.6M381.5 64.9L381.5 65.7M381.6 61.9L380.9 62.7M381.6 61.9L382.7 61.7M381.6 61.9L382 64.6M381.6 125.4L381 125.1M382 64.6L383.9 64M382.3 118.1L381 118M382.3 118.1L382.5 116.8M382.3 118.1L383.6 117.4M382.5 116.8L382.4 116M382.5 116.8L383.6 117.4M382.5 116.8L383.2 115.9M382.7 61.7L380.9 62.7M382.7 61.7L383.9 64M383.1 119.8L382.3 118.1M383.1 119.8L383.6 117.4M383.1 115.5L383.2 115.9M383.6 117.4L382.3 118.1M383.9 64L384.4 64.5M383.9 64L384.2 65.5M383.9 64L385 65.1M383.9 106L384.1 107.6M384 110.4L384 110.2M384 110.4L383.4 110.7M384 110.4L384 108.5M384 110.2L384 110.4M384 110.2L384 108.5M384 114L384.4 112.8M384 114L384.1 112.6M384 114L384.8 115.4M384 108.5L384.7 108.5M384 108.5L384.1 107.6M384 108.5L382.9 108.2M384.1 112.6L384.4 112.8M384.1 112.6L384.7 112.6M384.1 112.6L385 112.3M384.1 107.6L384.7 108.5M384.2 65.5L383.8 66M384.2 65.5L385 65.1M384.2 65.5L384.4 64.5M384.4 64.5L385 65.1M384.4 64.5L384.2 65.5M384.4 112.8L384.7 112.6M384.4 112.8L385 112.3M384.7 108.5L384.1 107.6M384.7 108.5L382.9 108.2M384.7 112.6L385 112.3M384.7 112.6L384.4 112.8M384.7 101.3L385.8 101.2M384.8 115.4L385.7 115.6M384.8 115.4L385.7 114M385 112.3L384.1 112.6M385 65.1L385.5 65.6M385.3 104.1L385.8 103.2M385.3 104.1L383.4 105.9M385.5 65.6L385 65.1M385.5 65.6L386 66.6M385.7 115.6L384.8 115.4M385.7 115.6L385.7 114M385.7 114L385.7 115.6M385.7 114L384 114M385.8 101.2L384.2 101.1M385.8 101.2L385.8 103.2M385.8 103.2L385.3 104.1M385.8 103.2L385.8 101.2M385.8 103.2L388 102.8M385.9 64.1L385.5 65.6M386.3 66.4L386.7 66.6M386.3 66.4L387.1 67.1M386.7 96L388.6 95.5M386.7 96L386.8 94M386.7 66.6L387.1 67.1M387.4 79.3L387.8 78M387.4 79.3L387.4 77.6M387.7 99.3L387.8 99.8M387.7 99.3L389 99M387.7 99.3L389.1 97.6M387.8 99.8L387.7 99.3M387.8 99.8L389 99M387.8 99.8L388.3 101.9M388 102.8L388.6 103.2M388 102.8L388.3 101.9M388.3 101.9L388 102.8M388.3 101.9L388.6 103.2M388.5 68.1L388.6 69.3M388.5 68.1L389.2 69.1M388.5 68.1L387.7 69.3M388.5 83.7L387.3 84.1M388.5 83.7L389.6 84.5M388.5 83.7L390 82.2M388.6 103.2L388 102.8M388.6 103.2L388.3 101.9M388.6 95.5L389.8 96.8M388.6 95.5L386.6 94.8M388.6 88.3L389.4 87.8M388.6 88.3L387.6 88.8M388.6 88.3L389.2 85.9M388.9 76.4L387.4 77.6M389 80.3L389.2 80.8M389 80.3L390 82.2M389 99L387.7 99.3M389 99L389.1 97.6M389 99L387.8 99.8M389.1 97.6L389.8 96.8M389.1 97.6L389 99M389.2 80.8L389 80.3M389.2 80.8L390 82.2M389.2 85.9L389.6 84.5M389.2 85.9L389.4 87.8M389.2 85.9L390.9 84.8M389.2 69.1L390.3 68.6M389.4 87.8L387.6 88.8M389.6 84.5L390.9 84.8M389.6 84.5L391 84M390 72.1L389.9 71.9M390 72.1L390.2 71.7M390 72.1L389.6 72.5M390 65L391.8 62M390 82.2L391 84M390.2 71.7L389.9 71.9M390.2 71.7L390 72.1M390.3 68.6L388.6 69.3M390.4 74.9L389.5 74.3M390.4 74.9L390.9 73.3M390.9 73.3L389.6 72.5M390.9 73.3L390 72.1M390.9 84.8L391 84M391 84L389.6 84.5M391.8 88.3L389.4 87.8M391.8 88.3L388.6 88.3M391.8 88.3L389.2 85.9M391.8 62L390 65M391.8 62L390.3 68.6" stroke="#7f8a86" stroke-width="0.45" fill="none" stroke-linecap="round"/>
<path d="M298.7 84.1L298.7 85.7M298.7 84.1L299.9 86.5M301.9 77.9L302.5 77.9M301.9 77.9L303.5 78.7M302.5 77.9L303.5 78.7M302.5 77.9L304.3 78.8M303.5 78.7L304.3 78.8M303.5 78.7L304.4 78.6M303.5 78.7L304.4 78.4M304.3 78.8L304.4 78.6M304.3 78.8L304.5 78.9M304.3 78.8L304.4 78.4M304.4 78.6L304.3 78.8M304.4 78.6L304.4 78.4M304.4 78.6L304.5 78.9M304.4 78.4L304.4 78.6M304.4 78.4L304.5 78.9M304.9 80.1L306.1 80.2M304.9 80.1L304.5 78.9M304.9 80.1L306.1 79.7M305.6 78.6L306.3 78.5M305.6 78.6L306.7 78.6M305.7 84L306.6 83.2M305.7 84L306.9 85.4M305.7 84L305.9 82.1M305.9 81.6L306.4 81.8M305.9 81.6L305.9 82.1M305.9 81.6L306.7 80.9M305.9 82.1L306.4 81.8M305.9 82.1L306.6 83.2M306.1 80.2L306.1 79.7M306.1 80.2L306.5 80.7M306.1 80.2L306.7 80.9M306.1 79.7L306.5 80.7M306.1 79.7L307.2 79.6M306.3 78.5L306.7 78.6M306.4 81.8L305.9 81.6M306.4 81.8L306.7 80.9M306.5 80.7L306.7 80.9M306.5 80.7L306.1 80.2M306.6 83.2L307.5 83.1M306.6 83.2L305.7 84M306.7 78.6L305.6 78.6M306.7 78.6L307.2 79.6M307.2 79.6L308 79.6M307.5 83.1L306.6 83.2M307.5 83.1L308 81.9M307.5 83.1L308.7 84M307.7 77.7L308.8 78M307.7 77.7L308.9 77.9M307.7 77.7L306.7 78.6M308 81.9L308.3 80.9M308 81.9L309 82.8M308 79.6L308.6 79.6M308 79.6L309 79M308.3 80.9L309.6 81M308.3 80.9L308.6 79.6M308.6 84.4L308.7 84M308.6 84.4L309.5 83.6M308.6 79.6L309 79M308.6 79.6L308.8 78.7M308.7 84L309.5 83.6M308.7 84L309 82.8M308.8 78L308.9 77.9M308.8 78L308.8 78.7M308.8 78L309.5 78.7M308.8 78.7L309 79M308.8 78.7L309.5 78.7M308.9 77.9L308.8 78.7M308.9 77.9L309.5 78.7M309 79L308.8 78.7M309 79L309.5 78.7M309 79L308.6 79.6M309 82.8L309.3 82.6M309 82.8L309.5 83.6M309.3 82.6L309 82.8M309.3 82.6L309.5 83.6M309.3 82.6L310.2 81.7M309.5 78.7L309 79M309.5 78.7L310 78.3M309.6 81L310.2 81.7M309.6 81L309.6 80.1M309.6 80.1L309.6 79.5M309.6 80.1L309.9 79.3M309.6 71.5L311.1 72.3M309.6 71.5L310 69.8M309.6 71.5L312.1 69.7M309.6 79.5L309.9 79.3M309.6 79.5L309.6 80.1M309.6 79.5L310.3 79.2M309.9 79.3L310.3 79.2M310 78.3L310.6 77.9M310 78.3L309.5 78.7M310 78.3L310.9 78.4M310.2 81.7L309.6 81M310.2 81.7L310.9 82.6M310.3 79.2L309.9 79.3M310.3 79.2L310.7 79.7M310.6 77.9L310.6 77.5M310.6 77.9L310.9 78.4M310.6 77.5L311 77.3M310.6 77.5L310.9 78.4M310.7 84.1L310.9 84M310.7 84.1L309.5 83.6M310.7 84.1L312.1 84.2M310.7 79.7L311 80.3M310.9 82.6L310.9 84M310.9 78.4L311.7 78.6M310.9 84L312.1 84.2M311 80.3L311.1 80.6M311 80.3L311.7 80M311.1 72.3L312.7 73.4M311.1 80.6L311.8 80.6M311.1 80.6L311.8 80.7M311.6 81.3L311.8 80.7M311.6 81.3L311.8 80.6M311.7 78.6L310.9 78.4M311.7 78.6L312 79.5M311.7 78.6L312.7 78.7M311.7 80L312 79.9M311.7 80L311.8 80.6M311.7 80L312 79.5M311.8 80.6L311.8 80.7M311.8 80.6L312.1 80.5M311.8 80.7L312.1 80.5M312 76.3L312.5 75.8M312 76.3L312.9 77.2M312 79.9L312 79.5M312 79.9L312.1 80.5M312 79.5L311.7 80M312.1 80.5L311.8 80.6M312.1 80.5L312.6 80.4M312.5 75.8L313 74.7M312.5 75.8L312.9 77.2M312.6 80.4L313 81M312.6 80.4L312 79.9M312.7 78.7L313 79.3M312.7 78.7L313.3 78.1M312.7 73.4L313.6 73.5M312.7 73.4L313.7 73.4M312.7 73.4L313 74.7M312.9 77.2L313.3 78.1M312.9 77.2L312 76.3M313 79.3L313.7 79.3M313 81L313.8 80.5M313 81L313.7 80.4M313 74.7L312.5 75.8M313 74.7L313.6 73.5M313.3 78.1L312.9 77.2M313.6 73.5L313.7 73.4M313.7 80.4L313.8 80.5M313.7 73.4L312.7 73.4M313.7 79.3L313 79.3M313.7 79.3L314.5 79.1M313.8 80.5L314.5 81.3M314.5 81.3L314.7 82.4M314.5 79.1L314.9 79.8M314.5 79.1L314.8 78M314.8 78L314.5 79.1M314.8 78L313.3 78.1M315.3 75.4L315.6 76.4M315.3 75.4L315.7 73.8M315.3 75.4L316.8 76M315.6 76.4L316.3 77M315.6 76.4L315.3 75.4M315.6 76.4L316.8 76M316.3 77L316.8 76M316.3 77L317.1 75.7M317.9 77.7L316.3 77M317.9 77.7L316.8 76M317.9 77.7L317.1 75.7M320.4 76.6L321 75.5M320.4 76.6L321.9 74.7M321.2 79L321.3 79.7M321.2 79L322.3 79.7M321.2 79L322.4 78.3M321.3 79.7L322.3 79.7M321.3 79.7L322.4 78.3M321.4 82.9L321.6 82.6M321.4 82.9L321.5 83.3M321.4 82.9L321.9 83.2M321.6 82.6L321.4 82.9M321.6 82.6L321.9 83.2M321.6 82.6L321.5 83.3M322.3 79.7L322.4 78.3M322.4 78.3L322.6 78.3M322.4 78.3L323.2 77.6M322.4 78.3L323.4 78.7M322.6 78.3L323.2 77.6M322.6 78.3L323.4 78.7M323.2 77.6L323.8 77.9M323.2 77.6L322.4 78.3M323.4 78.7L323.8 77.9M323.8 77.9L323.4 78.7M323.8 77.9L322.6 78.3M324.1 75.8L324.6 76.1M324.1 75.8L323.2 77.6M324.6 76.1L323.2 77.6M324.7 79.7L325.9 80.1M324.7 79.7L326.2 79.5M324.7 79.7L325.4 81.1M331.2 63.1L331.5 63.7M331.2 63.1L331.3 62.4M331.2 63.1L332.3 63M331.3 62.4L330.8 61.6M331.3 62.4L332.3 62.7M331.5 63.7L331.6 64.5M331.5 63.7L332.3 63M331.5 61.1L331.6 60.5M331.6 60.5L331.6 59.7M331.6 64.5L331.5 63.7M331.6 64.5L332.8 63.8M332.1 58.3L332.6 58.4M332.1 58.3L332.6 58M332.1 58.3L333.3 59.2M332.3 63L332.3 62.7M332.3 63L332.8 63.8M332.3 62.7L332.3 63M332.3 62.7L333.3 62.7M332.6 61.7L333.3 62.7M332.6 52.7L332.8 51.7M332.6 52.7L334.1 52.7M332.6 52.7L335 50.9M332.6 58L332.6 58.4M332.6 58L333.3 59.2M332.6 58.4L333.3 59.2M332.7 66.3L332.7 66.3M332.7 66.3L333.3 66.7M332.7 66.3L333.3 66.7M332.8 63.8L332.3 62.7M332.8 63.8L333.3 62.7M332.8 51.7L334.1 52.7M332.8 51.7L335 50.9M333.3 59.2L333.6 59.6M333.3 59.2L333.9 59.3M333.3 59.2L333.8 58.8M333.3 66.7L332.7 66.3M333.3 66.7L334.5 66.8M333.6 59.6L333.9 59.3M333.6 59.6L333.8 58.8M333.8 58.8L333.9 59.3M333.8 58.8L333.6 59.6M333.9 59.3L333.8 58.8M334.1 52.7L332.8 51.7M334.1 52.7L335.2 51.1M334.3 58L334.8 58.1M334.3 58L335.3 58.1M334.5 66.8L335 66.9M334.5 66.8L335.2 67.2M334.8 58.1L335.3 58.1M334.8 58.1L335.6 58.1M334.9 59.1L335.7 58.9M334.9 59.1L333.9 59.3M335 50.9L335.2 51.1M335 50.9L335 50.5M335 50.9L335.4 49.1M335 50.5L335.2 51.1M335 50.5L335.4 49.1M335.2 51.1L335 50.5M335.3 58.1L335.6 58.1M335.3 58.1L335.7 58.9M335.3 48.9L335.4 49.1M335.3 48.9L335.7 48.2M335.4 49.1L335.7 48.2M335.6 66.2L335.6 66.4M335.6 66.2L335 66.9M335.6 66.2L335.2 67.2M335.6 58.1L335.7 58.9M335.7 48.2L337.2 48.2M336.4 60.5L337.4 60.8M336.4 60.5L337.3 59.8M336.4 60.5L336.6 62M336.4 56.6L337.2 56.3M336.4 56.6L337.1 57.6M336.4 56.6L337.8 55.9M336.6 52.7L337.2 53.4M336.6 52.7L337.1 51.6M336.6 52.7L337.5 53.7M336.6 62L337.4 60.8M336.6 62L338.1 61.4M336.6 58.8L335.7 58.9M336.6 58.8L335.6 58.1M336.6 58.8L337.3 59.8M337.1 57.6L336.4 56.6M337.1 57.6L337.2 56.3M337.1 51.6L337.9 50M337.1 51.6L337.2 53.4M337.2 48.2L337.4 47.2M337.2 48.2L335.7 48.2M337.2 48.2L337.9 50M337.2 56.3L337.8 55.9M337.2 56.3L338.2 56.1M337.2 53.4L337.5 53.7M337.2 53.4L338.8 53.2M337.3 59.8L338 60.2M337.3 59.8L338.1 59.2M337.3 59.8L337.4 60.8M337.4 47.2L337.5 46M337.4 47.2L338.3 45.8M337.4 60.8L338.1 60.6M337.4 60.8L338.2 60.5M337.4 60.8L338.1 61.4M337.5 53.7L337.2 53.4M337.5 53.7L338 54.9M337.5 53.7L338.8 53.2M337.8 55.9L338.2 56.1M337.8 55.9L338.5 56.2M337.9 50L338.4 49.9M338 60.2L338.2 60.5M338 60.2L338.1 60.6M338 54.9L338.2 56.1M338.1 60.6L338.2 60.5M338.1 61.4L338.1 60.6M338.1 61.4L339 61.2M338.1 59.2L338.6 59.1M338.1 59.2L337.3 59.8M338.2 60.5L338.1 60.6M338.2 60.5L337.4 60.8M338.2 56.1L338.5 56.2M338.4 49.9L339.8 50.7M338.5 56.2L337.8 55.9M338.5 56.2L339.6 56.4M338.6 38.3L339.2 38.3M338.6 38.3L339.7 36.8M338.6 59.1L338.1 59.2M338.6 59.1L338 60.2M338.6 59.1L338.2 60.5M338.7 40.5L340.2 39.9M338.8 53.2L337.5 53.7M338.8 53.2L339.3 54.6M338.8 53.2L337.2 53.4M339 34.2L340.1 35.2M339 34.2L339.4 35.6M339 34.2L339.1 32.6M339.1 32.6L340.1 31.9M339.1 32.6L340.5 32M339.2 38.3L339.7 36.8M339.2 38.3L340.2 39.9M339.4 35.6L340.1 35.2M339.4 35.6L339.7 36.8M339.6 56.4L340.3 56.8M339.6 56.4L338.2 56.1M339.7 36.8L340.1 35.2M340.1 28.8L340.1 28.5M340.1 28.8L340.3 29.3M340.1 28.8L340.7 28.7M340.1 28.5L340.7 28.7M340.1 28.5L340.3 29.3M340.1 35.2L339.7 36.8M340.1 31.9L340.5 32M340.1 31.9L341.1 33.3M340.2 39.9L340.8 39.6M340.2 39.9L341 39.4M340.2 39.9L341.1 39.1M340.3 29.3L340.7 28.7M340.5 32L341.1 33.3M340.8 39.6L341 39.4M340.8 39.6L341.1 39.1M341 39.4L340.8 39.6M341 39.4L341.1 39.1M341 40.8L341.6 40.7M341 40.8L340.2 39.9M341.1 33.3L342.9 32.8M341.1 29.9L341.3 30.3M341.1 29.9L340.3 29.3M341.3 30.3L342.6 30.7M341.4 36.4L342.1 36.1M341.4 36.4L342.7 37.2M341.4 36.4L342.9 35.7M342.1 36.1L342.9 35.7M342.1 36.1L342.9 35.2M342.6 30.7L343 31.5M342.6 30.7L343.7 31.2M342.6 30.7L341.3 30.3M342.9 35.2L343.1 34.9M342.9 35.2L342.9 35.7M342.9 35.2L342.9 34.2M342.9 32.8L343.4 32.8M342.9 32.8L343 31.5M342.9 32.8L344.2 33.1M342.9 35.7L343.1 34.9M342.9 34.2L343.1 34.9M343 31.5L343.7 31.2M343 31.5L344.2 31.8M343.1 34.9L342.9 35.2M343.4 32.8L344.2 33.1M343.4 32.8L344.5 32.7M348 45.2L348.3 46.2M348 45.2L348.3 44.2M348 45.2L349.3 45.3M348.3 44.2L348 45.2M348.3 44.2L349.5 44.7M348.3 46.2L349.1 45.8M348.3 46.2L349.3 45.3M349.1 45.8L349.3 45.3M349.1 45.8L348.3 46.2M349.1 45.8L349.5 44.7M349.3 45.3L349.5 44.7M349.3 45.3L350.2 44.9M349.5 44.7L349.3 45.3M349.5 44.7L350.1 44.5M349.5 44.7L350.2 44.9M350.1 44.5L350.2 44.9M350.1 44.5L349.5 44.7M350.1 44.5L350.6 45.1M350.2 44.9L350.6 45.1M350.2 44.9L349.5 44.7M350.6 45.1L350.2 44.9M354.4 84.1L355.5 83M354.4 84.1L355 82.6M354.9 76.7L355.5 76.7M354.9 76.7L354.9 77.7M354.9 76.7L355.2 78.2M354.9 104.8L355 104.8M354.9 104.8L355.2 103.7M354.9 104.8L354.9 106.2M354.9 106.2L355.3 106.2M354.9 106.2L355 104.8M354.9 77.7L355.2 78.2M354.9 77.7L356 77.9M355 104.8L355.2 103.7M355 104.8L354.9 106.2M355 97.7L353.7 97.3M355 97.7L356.3 96.5M355 82.6L355.5 83M355 82.6L355.3 81.9M355 82.6L355.9 82.4M355.2 111.6L356.3 111.6M355.2 111.6L356.8 111.5M355.2 111.6L356.4 112.8M355.2 103.7L355.9 103.2M355.2 103.7L355.5 102.7M355.2 103.7L356.1 102.9M355.2 78.2L355.9 78.1M355.2 78.2L356 77.9M355.3 87.8L355.4 88.2M355.3 106.2L356.3 107.3M355.3 106.2L355 104.8M355.3 81.9L355.7 81.2M355.3 81.9L355 82.6M355.3 81.9L355.9 82.4M355.4 88.2L355.3 87.8M355.4 88.2L357.2 88.3M355.5 83L355 82.6M355.5 83L355.9 82.4M355.5 76.7L356.5 76.2M355.5 102.7L356.1 102.9M355.5 102.7L355.9 103.2M355.7 81.2L355.3 81.9M355.7 81.2L356.2 80.6M355.7 81.2L355.9 82.4M355.7 74.4L356.7 74.5M355.7 74.4L356.5 76.2M355.9 109.7L356.3 109.3M355.9 109.7L356.1 109M355.9 109.7L356.6 109.2M355.9 103.2L356.1 102.9M355.9 103.2L355.2 103.7M355.9 78.1L356 77.9M355.9 78.1L356.1 78.4M355.9 78.1L356.2 78.5M356 77.9L356.1 78.4M356 77.9L356.2 78.5M356.1 109L356.3 109.3M356.1 109L356.6 109.2M356.1 109L355.9 109.7M356.1 102.9L355.2 103.7M356.1 78.4L356.2 78.5M356.1 79.7L356.6 79.5M356.1 79.7L356.7 79.4M356.1 79.7L356.2 80.6M356.1 61.3L357.6 60.8M356.1 61.3L358 61.1M356.2 86.2L357.3 86.4M356.2 86.2L357.4 86.7M356.2 86.2L357.7 86.6M356.2 80.6L357.3 80.6M356.2 78.5L356 77.9M356.3 115.2L356.4 115.5M356.3 115.2L357 114.5M356.3 115.2L357.5 115.1M356.3 107.3L356.4 107.4M356.3 107.3L356.9 107.2M356.3 107.3L356.9 108.2M356.3 109.3L356.6 109.2M356.3 100.8L356.6 100.7M356.3 100.8L356.6 100.2M356.3 100.8L357.6 101.8M356.3 96.5L356.7 96.4M356.3 96.5L357 95.3M356.3 96.5L357.5 95.8M356.3 111.6L356.8 111.5M356.3 111.6L357.1 111.1M356.3 111.6L355.2 111.6M356.4 112.8L356.6 113.9M356.4 112.8L356.3 111.6M356.4 112.8L356.8 111.5M356.4 115.5L356.3 115.2M356.4 115.5L357.5 115.1M356.4 115.5L357 114.5M356.4 107.4L356.9 107.2M356.4 107.4L356.9 108.2M356.5 76.2L356.7 74.5M356.6 100.2L356.6 100.7M356.6 100.2L357.6 101.8M356.6 113.9L357 114.5M356.6 109.2L356.3 109.3M356.6 110.3L355.9 109.7M356.6 110.3L357.1 111.1M356.6 100.7L357.6 101.8M356.6 79.5L356.7 79.4M356.6 79.5L357 79.5M356.6 79.5L356.1 79.7M356.7 96.4L357.5 95.8M356.7 96.4L357 95.3M356.7 74.5L355.7 74.4M356.7 74.5L358.1 75.2M356.7 79.4L356.6 79.5M356.7 79.4L357 79.5M356.7 63.9L357.7 63.4M356.7 63.9L358.6 64.1M356.8 111.5L357.1 111.1M356.8 111.5L357.8 111.4M356.9 117.4L358.2 116.5M356.9 117.4L356.4 115.5M356.9 107.2L356.3 107.3M356.9 107.2L357.4 107.7M356.9 108.2L357.4 107.7M356.9 108.2L356.4 107.4M357 114.5L356.6 113.9M357 114.5L357.5 115.1M357 95.3L357.5 95.8M357 95.3L357.8 95.2M357 95.3L356.7 96.4M357 59.6L358.3 59.5M357 59.6L357.6 60.8M357 59.6L358 61.1M357.1 105L357.2 104.8M357.1 105L358.4 104.3M357.1 105L358.4 104.3M357.1 111.1L357.8 111.4M357.1 111.1L356.3 111.6M357.2 88.3L357.2 87.6M357.2 88.3L358 88.1M357.2 88.3L357.5 87.5M357.2 87.6L357.5 87.5M357.2 87.6L357.4 86.7M357.2 104.8L358.4 104.3M357.2 104.8L358.4 104.3M357.3 86.4L357.4 86.7M357.3 86.4L357.7 86.6M357.3 86.4L356.2 86.2M357.3 80.6L356.6 79.5M357.4 107.7L357.7 107.3M357.4 107.7L357.8 107.5M357.4 107.7L358 107.6M357.4 86.7L357.7 86.6M357.4 86.7L357.5 87.5M357.5 87.5L358 88.1M357.5 115.1L358.1 115.3M357.5 115.1L358.5 115.4M357.5 109.3L357.8 110.1M357.5 109.3L358.2 108.6M357.5 95.8L357.8 95.2M357.5 95.8L358.5 95.9M357.6 60.8L358 61.1M357.6 60.8L358.3 59.5M357.6 101.8L356.6 100.7M357.7 86.6L357.4 86.7M357.7 63.4L356.7 63.9M357.7 63.4L358.6 64.1M357.7 63.4L359.1 63.8M357.7 107.3L357.8 107.5M357.7 107.3L358 107.6M357.8 110.1L358.7 110.6M357.8 110.1L356.6 110.3M357.8 95.2L357 95.3M357.8 95.2L358.5 95.9M357.8 73.1L358.8 72.2M357.8 73.1L359 74.3M357.8 111.4L358.1 111.6M357.8 111.4L357.9 111.9M357.8 107.5L358 107.6M357.9 50.6L358.3 51.2M357.9 50.6L358.8 50.4M357.9 111.9L358.1 111.6M358 66.8L358.2 66.9M358 66.8L358.3 66.3M358 66.8L359.2 65.8M358 61.1L358.7 61.9M358 61.1L359 60.2M358 88.1L358.4 88.8M358 88.1L357.2 88.3M358 107.6L357.8 107.5M358 107.6L357.4 107.7M358.1 115.3L358.5 115.4M358.1 115.3L358.7 115.2M358.1 75.2L359 75.4M358.1 75.2L359 75.3M358.1 75.2L358.9 74.5M358.1 111.6L357.8 111.4M358.1 111.6L358.8 110.9M358.2 106.1L358.6 105.2M358.2 106.1L359.3 105.6M358.2 116.5L358.5 115.4M358.2 116.5L359.5 116.2M358.2 66.9L358 66.8M358.2 66.9L358.3 66.3M358.2 66.9L359.2 65.8M358.2 108.6L358.7 108M358.2 108.6L357.5 109.3M358.3 98.4L358.3 98.1M358.3 98.4L358.6 98M358.3 98.4L358.5 97.8M358.3 59.5L359 60.2M358.3 59.5L357 59.6M358.3 59.5L359.3 58.8M358.3 66.3L359.2 65.8M358.3 98.1L358.3 98.4M358.3 98.1L358.6 98M358.3 98.1L358.5 97.8M358.3 103.7L358.8 104.1M358.3 103.7L358.4 104.3M358.3 103.7L358.4 104.3M358.4 88.8L358.5 89.1M358.4 88.8L359 89.6M358.4 104.3L358.4 104.3M358.4 104.3L358.8 104.1M358.4 104.3L358.3 103.7M358.4 114.7L358.7 115.2M358.4 114.7L358.5 115.4M358.4 104.3L358.4 104.3M358.4 104.3L358.8 104.1M358.5 89.1L359 89.6M358.5 89.1L358 88.1M358.5 95.9L359.3 96.9M358.5 115.4L358.7 115.2M358.5 97.8L358.6 98M358.5 97.8L359.1 97.5M358.5 79.5L356.7 79.4M358.6 86.4L359.2 86.3M358.6 86.4L359.4 86M358.6 86.4L359.3 85.9M358.6 64.1L359.1 63.8M358.6 64.1L358.9 64.8M358.6 105.2L358.8 104.9M358.6 105.2L359.3 105.6M358.6 105.2L359.6 105.4M358.7 115.2L358.5 115.4M358.7 115.2L358.1 115.3M358.7 108L359.3 108.2M358.7 108L358 107.6M358.7 61.9L359.4 62.2M358.7 61.9L359.5 62.3M358.7 110.6L358.8 110.9M358.8 104.1L358.4 104.3M358.8 104.1L358.4 104.3M358.8 110.9L358.7 110.6M358.8 104.9L358.4 104.3M358.8 72.2L357.4 72.6M358.8 72.2L359.7 73.4M358.9 74.5L359 74.3M358.9 74.5L359.4 74.2M358.9 74.5L359 75.3M358.9 94.6L359.7 93.9M358.9 94.6L357.8 95.2M358.9 94.6L358.5 95.9M358.9 121.2L359 122M358.9 121.2L359.6 122.2M358.9 64.8L359.2 65.8M358.9 64.8L359.1 63.8M359 122L358.6 122.1M359 122L359.6 122.2M359 74.3L359.4 74.2M359 74.3L359.4 73.6M359 89.6L358.4 88.8M359 89.6L358 88.1M359 75.4L359 75.3M359 75.3L359 75.4M359 60.2L358.3 59.5M359 60.2L359.3 58.8M359.1 97.5L359.2 97.7M359.1 97.5L358.5 97.8M359.1 97.5L359.3 96.9M359.1 98.3L359.2 97.7M359.1 63.8L358.6 64.1M359.1 63.8L359.2 63M359.1 63.8L359.8 63.1M359.2 86.3L359.4 86M359.2 86.3L359.3 85.9M359.2 63L359.8 63.1M359.2 63L359.5 62.3M359.2 63L359.1 63.8M359.3 105.6L359.6 105.4M359.3 105.6L359.6 106.3M359.3 105.6L358.6 105.2M359.3 58.8L360.5 58.6M359.3 58.8L358.3 59.5M359.3 58.8L360.6 58.3M359.3 96.9L358.5 97.8M359.3 108.2L360.2 108.2M359.3 108.2L358.2 108.6M359.3 85.9L359.4 86M359.3 85.9L359.2 86.3M359.4 86L359.2 86.3M359.4 86L358.6 86.4M359.4 82.6L359.4 82.3M359.4 82.6L359.7 82.2M359.4 82.6L359.9 82.9M359.4 74.2L359 74.3M359.4 74.2L359.4 73.6M359.4 103.9L359.8 104.4M359.4 103.9L358.4 104.3M359.4 73.6L359.7 73.4M359.4 73.6L359 74.3M359.4 62.2L359.5 62.3M359.4 62.2L359.9 62.3M359.4 62.2L358.7 61.9M359.4 82.3L359.7 82.2M359.4 82.3L360 82.4M359.5 109.5L360 110.4M359.5 62.3L359.4 62.2M359.5 62.3L359.9 62.3M359.5 116.2L360 116.1M359.5 114.1L359.9 113.6M359.5 114.1L359.6 113.5M359.5 99.5L360.1 99.6M359.5 99.5L360.3 99.5M359.5 76.4L359 75.4M359.5 76.4L360.3 75.1M359.6 105.4L359.3 105.6M359.6 105.4L359.6 106.3M359.6 105.4L360.4 105.2M359.6 106.3L360.1 106.3M359.6 106.3L360.1 106.7M359.6 113.5L359.9 113.6M359.6 113.5L358.4 114.7M359.6 122.2L360.3 122.1M359.6 122.2L358.6 122.1M359.7 82.2L359.4 82.3M359.7 82.2L360 82.4M359.7 69.6L360 70.2M359.7 69.6L360.2 69M359.7 93.9L359.9 93.3M359.8 63.1L360.1 63.1M359.8 63.1L359.2 63M359.8 63.1L360.4 62.9M359.8 104.4L360.4 105.2M359.9 68.5L360.2 69M359.9 68.5L359.9 67.3M359.9 113.6L360.9 114.6M359.9 62.3L360.1 63.1M359.9 93.3L359.7 93.9M359.9 93.3L357.8 95.2M359.9 67.3L359.9 68.5M359.9 67.3L360.2 69M359.9 82.9L360 82.4M359.9 82.9L360.6 82.9M360 110.4L359.5 109.5M360 102.1L360 102.5M360 102.1L361 101.6M360 102.1L361.2 102M360 102.5L361 101.6M360 102.5L361.2 102M360 70.2L360.6 70M360 70.2L360.2 69M360 82.4L359.7 82.2M360.1 63.1L359.8 63.1M360.1 63.1L360.4 62.9M360.1 48.3L360.3 48.5M360.1 48.3L360.3 47.3M360.1 48.3L360.9 47.1M360.1 99.6L360.3 99.5M360.1 99.6L361 98.8M360.1 106.7L360.1 106.3M360.1 106.7L359.6 106.3M360.1 106.3L359.6 106.3M360.2 69L359.7 69.6M360.2 69L361 69.3M360.2 108.2L361 108.6M360.3 47.3L360.9 47.1M360.3 47.3L360.3 48.5M360.3 48.5L360.1 48.3M360.3 48.5L360.3 47.3M360.3 48.5L360.9 47.1M360.3 99.5L361 98.8M360.3 122.1L361 122.6M360.3 122.1L361.2 121.5M360.4 83.8L360.6 82.9M360.4 83.8L361.1 84.8M360.4 78.8L361 79.2M360.4 78.8L360.8 77.2M360.4 78.8L361.6 80.3M360.4 62.9L359.8 63.1M360.4 105.2L361.3 105.3M360.5 61.6L359.9 62.3M360.5 61.6L361.5 61.1M360.5 61.6L361.7 61.5M360.5 58.6L360.6 58.3M360.5 58.6L361 57.8M360.5 58.6L361.1 59.5M360.6 70L360 70.2M360.6 70L361 69.3M360.6 70L361.4 70.1M360.6 82.9L361.5 82.9M360.6 58.3L360.5 58.6M360.6 58.3L361 57.8M360.6 58.3L361.1 59.5M360.7 96.3L361.4 96M360.7 96.3L360.8 97.7M360.8 77.2L361.6 76M360.8 77.2L359.5 76.4M360.8 77.2L362.3 77.3M360.8 97.7L361.2 98.3M360.8 97.7L361 98.8M360.8 97.7L361.6 98.6M360.9 114.6L361.3 113.6M360.9 81.3L361.6 80.3M360.9 81.3L360 82.4M361 101.6L361.3 101.6M361 101.6L361.2 102M361 101.6L361.4 101.4M361 122.6L361.3 122.7M361 122.6L361.2 121.5M361 57.8L360.6 58.3M361 57.8L362 58.4M361 79.2L360.4 78.8M361 79.2L361.6 80.3M361 79.2L362.3 79.1M361 69.3L361.5 69.2M361 69.3L361.4 70.1M361 98.8L361.3 99.1M361 98.8L361.2 98.3M361 98.8L361.6 98.6M361 84.9L361.1 84.8M361 108.6L359.5 109.5M361.1 59.5L361.1 59.7M361.1 59.5L361.8 59.7M361.1 59.5L360.5 58.6M361.1 59.7L361.8 59.7M361.1 59.7L360.5 58.6M361.1 84.8L361.5 82.9M361.2 98.3L361.6 98.6M361.2 98.3L360.8 97.7M361.2 121.5L361 122.6M361.2 121.5L361.3 122.7M361.2 102L361.3 101.6M361.2 102L361.4 101.4M361.3 99.1L361.6 98.6M361.3 99.1L361.2 98.3M361.3 113.6L362.1 113.4M361.3 101.6L361.4 101.4M361.3 101.6L361 101.6M361.3 105.3L361.8 105.3M361.3 105.3L361.7 106.2M361.3 122.7L362.1 123.6M361.3 122.7L361.2 121.5M361.4 70.6L361.4 70.1M361.4 96L362.1 95M361.4 96L362.1 95M361.4 101.4L361.3 101.6M361.4 101.4L361 101.6M361.4 101.4L361.2 102M361.5 82.9L360.6 82.9M361.5 82.9L362.4 82.6M361.5 82.9L362.6 82.9M361.5 61.1L361.7 61.5M361.5 61.1L361.9 60.9M361.5 61.1L361.7 61.7M361.6 76L362.9 75.8M361.6 76L362.3 77.3M361.6 80.3L360.9 81.3M361.6 80.3L362.7 79.5M361.7 61.5L361.7 61.7M361.7 61.5L361.7 61.8M361.7 61.7L361.7 61.8M361.7 61.8L361.7 61.5M361.7 61.8L362 62.3M361.7 106.2L361.8 105.3M361.7 106.2L361.3 105.3M361.7 106.2L362.6 107.1M361.8 105.3L361.3 105.3M361.8 105.3L361.7 106.2M361.8 105.3L361.8 104.2M361.8 59.7L362.1 58.5M361.8 104.2L361.3 105.3M361.8 104.2L363 105.4M361.8 126.8L362.6 127.8M361.8 126.8L363.3 126.3M361.8 126.8L362 128.4M361.9 60.9L362.6 61.3M361.9 100.3L362.4 100.9M361.9 100.3L362.4 99.6M362 58.4L362.1 58.5M362 58.4L360.6 58.3M362.1 123.6L363 124.1M362.1 123.6L362.8 122.7M362.1 123.6L361.3 122.7M362.1 58.5L361 57.8M362.1 95L362.1 95M362.1 95L362.1 95M362.1 95L361.4 96M362.1 113.4L362.8 111.6M362.2 97L363.2 98.1M362.3 98.7L362.7 98.7M362.3 98.7L361.6 98.6M362.3 98.7L362.4 99.6M362.3 79.1L362.7 79.5M362.3 79.1L362.9 79.5M362.3 79.1L363.2 79.8M362.3 77.3L363.4 77.3M362.3 77.3L363.1 78.1M362.4 82.6L362.6 82.9M362.4 82.6L362.7 82.1M362.4 82.6L361.5 82.9M362.4 100.9L362.5 101.7M362.4 99.6L362.3 98.7M362.4 99.6L362.7 98.7M362.4 110.1L362.9 109.1M362.4 110.1L362.8 111.6M362.4 110.1L363.9 111.1M362.6 107.1L363.1 105.6M362.6 107.1L363 105.4M362.6 61.3L361.7 61.5M362.6 61.3L363.5 61.1M362.6 127.8L363.3 126.3M362.6 125L363 124.1M362.6 125L363.3 126.3M362.6 82.9L363.4 83M362.6 82.9L363.4 82.8M362.7 82.1L363 81.7M362.7 82.1L362.6 82.9M362.7 98.7L363.2 98.1M362.7 79.5L362.9 79.5M362.7 79.5L362.3 79.1M362.7 79.5L363.2 79.8M362.8 122.7L363.4 123.6M362.8 122.7L363.9 123.4M362.8 73.6L363.5 75.1M362.8 73.6L363.2 75.5M362.8 73.6L363.4 75.7M362.8 111.6L363.8 111.6M362.8 111.6L364 111.5M362.8 111.6L363.9 111.1M362.9 109.1L362.4 110.1M362.9 109.1L361 108.6M362.9 79.5L363.2 79.8M362.9 75.8L363.2 75.5M362.9 75.8L363.4 75.7M362.9 75.8L363.5 75.1M363 124.1L363.4 123.6M363 124.1L362.6 125M363 105.4L363.1 105.6M363 105.4L363.7 105.6M363 81.7L362.4 82.6M363 81.7L363.4 82.8M363.1 105.6L363 105.4M363.1 105.6L363.7 105.6M363.1 78.1L363.4 77.3M363.1 78.1L362.3 77.3M363.2 75.5L363.4 75.7M363.2 75.5L362.9 75.8M363.2 75.5L363.5 75.1M363.2 79.8L363.8 80M363.2 84.2L364.2 84.5M363.2 84.2L363.4 83M363.2 84.2L363.4 82.8M363.2 98.1L363.7 98.7M363.3 126.3L362.6 125M363.3 126.3L361.8 126.8M363.3 126.3L364.4 125M363.4 77.3L362.3 77.3M363.4 77.3L364.5 76.5M363.4 83L363.4 82.8M363.4 83L362.6 82.9M363.4 82.8L363.4 83M363.4 123.6L363.9 123.4M363.4 123.6L364.1 123.3M363.4 75.7L363.5 75.1M363.5 61.1L363.9 61.2M363.5 61.1L364.6 60.8M363.5 75.1L363.4 75.7M363.6 57.5L364.8 57.4M363.6 57.5L364.3 56.2M363.7 105.6L363 105.4M363.7 105.6L365.2 106M363.7 98.7L363.2 98.1M363.7 98.7L364.4 98.3M363.8 80L362.7 79.5M363.8 111.6L364 111.5M363.8 111.6L363.9 111.1M363.8 111.6L364 112.3M363.9 123.4L364.1 123.3M363.9 123.4L363.4 123.6M363.9 123.4L364.6 123.3M363.9 61.2L363.5 61.1M363.9 61.2L364.6 60.8M363.9 61.2L365 60.7M363.9 111.1L364 111.5M363.9 111.1L364 112.3M364 111.5L363.8 111.6M364 111.5L364 112.3M364 112.3L364.4 112.5M364 112.3L364.4 112.6M364.1 123.3L364.6 123.3M364.1 123.3L364.6 122.9M364.1 59.6L364.6 60.8M364.1 59.6L364.8 58.5M364.1 59.6L365 60.7M364.2 122.3L364.2 122.6M364.2 122.3L364.6 122.9M364.2 124.4L364.4 125M364.2 124.4L363.4 123.6M364.2 122.6L364.2 122.3M364.2 122.6L364.6 122.9M364.2 122.6L364.1 123.3M364.2 84.5L363.2 84.2M364.2 84.5L363.4 83M364.4 125L364.2 124.4M364.4 125L365.2 125.4M364.4 125L365 125.7M364.4 112.6L364.4 112.5M364.4 112.6L364 112.3M364.4 112.6L365.1 112M364.4 99.5L364.4 98.3M364.4 99.5L365.6 100.4M364.4 112.5L364 112.3M364.4 112.5L365.1 112M364.4 98.3L363.7 98.7M364.4 98.3L364.9 97.6M364.4 98.3L365.3 98M364.5 76.5L365 76.7M364.5 76.5L365.3 77.2M364.6 123.3L364.1 123.3M364.6 123.3L364.6 122.9M364.6 122.9L364.6 123.3M364.6 79L365.5 77.9M364.6 60.8L365 60.7M364.6 60.8L363.9 61.2M364.6 60.8L365.2 61.6M364.8 120.7L365.3 120.2M364.8 120.7L365 121.5M364.8 120.7L365.6 121M364.8 58.5L364.8 57.4M364.8 58.5L364.1 59.6M364.9 96.6L365 96.1M364.9 96.6L364.9 97.6M364.9 96.6L365.3 98M364.9 97.6L365.3 98M365 113.5L365 113.5M365 125.7L365.2 125.4M365 125.7L364.4 125M365 121.5L365.6 121M365 60.7L365.7 60.4M365 60.7L365.2 61.6M365 76.7L365.3 77.2M365 76.7L365.5 77.9M365 96.1L364.9 96.6M365 96.1L364.9 97.6M365 96.1L365.3 98M365.1 129.9L366.2 129.3M365.1 129.9L363.8 129.6M365.1 129.9L366.5 128.1M365.1 112L364.4 112.5M365.2 125.4L365 125.7M365.2 125.4L365.4 124M365.2 61.6L365.5 61.8M365.2 61.6L365.9 61.6M365.2 61.6L365 60.7M365.2 106L363.7 105.6M365.3 120.2L366.1 120.1M365.3 120.2L365.6 121M365.3 98L365.7 98.4M365.3 98L364.9 97.6M365.3 98L365.6 98.5M365.3 77.2L365.5 77.9M365.4 124L364.6 123.3M365.4 124L364.2 124.4M365.4 124L364.4 125M365.5 63.3L366.4 63.9M365.5 63.3L365.5 61.8M365.5 63.3L366.9 62.3M365.5 77.9L366.5 77.1M365.5 77.9L364.6 79M365.5 61.8L365.2 61.6M365.5 61.8L365.9 61.6M365.5 61.8L366.1 61.1M365.6 98.5L365.7 98.4M365.6 100.4L365.7 100.6M365.6 100.4L366.4 99.8M365.6 100.4L366.5 99.9M365.7 60.4L366.2 60.9M365.7 60.4L366.1 61.1M365.7 100.6L366.4 99.8M365.7 100.6L366.5 99.9M365.9 61.6L365.5 61.8M365.9 61.6L366.1 61.1M365.9 61.6L366.2 60.9M366.1 120.1L365.6 121M366.1 120.1L367.3 120.5M366.1 61.1L366.2 60.9M366.1 61.1L366.4 60.8M366.1 61.1L365.9 61.6M366.2 60.9L366.1 61.1M366.2 60.9L366.4 60.8M366.2 129.3L367.3 129.1M366.2 129.3L366.5 128.1M366.4 85.2L366.6 85.5M366.4 85.2L366.7 85.6M366.4 85.2L367 85.4M366.4 99.8L366.5 99.9M366.4 99.8L367.3 99.7M366.4 99.8L365.6 100.4M366.4 60.8L365.7 60.4M366.4 63.9L366.8 64.5M366.4 63.9L365.5 63.3M366.4 63.9L367.5 63.2M366.5 128.1L366.8 127.7M366.5 128.1L366.2 129.3M366.5 128.1L367.8 128.2M366.5 121.5L366.6 121.7M366.5 121.5L367.2 121.4M366.5 121.5L367.1 122.4M366.5 77.1L367.3 76.5M366.5 77.1L367 78M366.5 99.9L367.3 99.7M366.5 99.9L367.5 100M366.6 126.8L366.8 127.7M366.6 126.8L366.5 128.1M366.6 126.8L366.9 125.1M366.6 85.5L366.7 85.6M366.6 85.5L367 85.4M366.6 121.7L366.5 121.5M366.6 121.7L367.2 121.4M366.6 121.7L367.1 122.4M366.7 85.6L367 85.4M366.7 89.7L367.9 90.1M366.7 89.7L368.1 90.4M366.7 89.7L367.8 88.2M366.7 131.5L367 131.8M366.7 131.5L367.5 131.5M366.7 131.5L367 132.5M366.8 127.7L366.6 126.8M366.8 127.7L367.8 128.2M366.8 123.2L367.2 123.3M366.8 123.2L367.1 122.4M366.8 64.5L367.5 63.2M366.9 62.3L367.5 63.2M366.9 86.5L366.9 86.2M366.9 86.5L367.4 87.2M366.9 125.1L367.2 123.3M366.9 86.2L366.6 85.5M367 78L368.1 78.3M367 78L365.5 77.9M367 85.4L366.7 85.6M367 85.4L366.6 85.5M367 85.4L367.3 84.8M367 131.8L366.7 131.5M367 131.8L367.5 131.5M367 131.8L367 132.5M367 132.5L367.5 131.5M367.1 122.4L367.2 123.3M367.2 121.4L367.3 120.5M367.2 123.3L366.8 123.2M367.3 84.8L367.4 84.7M367.3 84.8L367.6 84.4M367.3 99.7L367.5 100M367.3 120.5L367.8 120.1M367.3 120.5L368.2 119.9M367.3 76.5L368.2 76.6M367.3 76.5L367 78M367.3 129.1L368.1 129.7M367.3 129.1L367.8 128.2M367.4 84.7L367.3 84.8M367.4 84.7L367.6 84.4M367.4 84.7L367 85.4M367.4 87.2L367.8 87M367.4 87.2L366.9 86.5M367.4 87.2L368 88M367.4 112.9L367.4 112.3M367.4 112.9L367.7 112.2M367.4 112.3L367.7 112.2M367.5 63.2L368.5 62.6M367.5 131.5L367 131.8M367.6 84.4L367.4 84.7M367.6 84.4L367.8 84M367.6 84.4L367.9 84M367.6 119.1L367.6 118.9M367.6 119.1L367.8 118.8M367.6 119.1L368.2 118.7M367.6 118.9L367.8 118.8M367.6 118.9L368.2 118.7M367.7 112.2L367.4 112.9M367.8 120.1L368.2 119.9M367.8 120.1L368.4 120.9M367.8 128.2L368.6 127.6M367.8 128.2L367.3 129.1M367.8 128.2L368.4 127.3M367.8 88.2L368 88M367.8 88.2L368.7 88.8M367.8 87L367.4 87.2M367.8 87L368 86.2M367.8 87L368 88M367.8 118.8L367.6 118.9M367.8 118.8L368.2 118.7M367.8 84L367.9 84M367.8 84L368.4 83.7M367.9 84L367.8 84M367.9 84L368.4 83.7M367.9 90.1L368.1 90.4M367.9 90.1L366.7 89.7M367.9 90.1L368.7 89M368 88L367.8 88.2M368 88L368.9 88.4M368 86.2L368.7 86.1M368 86.2L368.7 85.8M368 86.2L367.8 87M368 101.2L368.2 101.6M368 101.2L368.6 101.1M368 101.2L368.2 101.8M368.1 78.3L369.1 79.5M368.1 78.3L368.2 76.6M368.1 90.4L367.9 90.1M368.1 90.4L369.2 90.6M368.1 130.2L368.1 129.7M368.1 130.2L368.5 129.8M368.1 129.7L368.5 129.8M368.1 129.7L368.1 130.2M368.2 101.8L368.2 101.6M368.2 101.8L368.6 101.1M368.2 119.9L368.6 120.6M368.2 119.9L368.8 119.4M368.2 101.6L368.6 101.1M368.2 118.7L367.8 118.8M368.2 118.7L367.6 118.9M368.2 118.7L367.6 119.1M368.2 84.9L368.4 85.1M368.2 84.9L368.8 84.8M368.2 84.9L368.5 84.2M368.2 76.6L367.3 76.5M368.2 76.6L369.1 75.7M368.3 83.5L368.4 83.7M368.3 83.5L368.6 83.5M368.4 85.1L368.8 84.8M368.4 85.1L368.7 85.8M368.4 120.9L368.6 120.6M368.4 127.3L368.6 127.6M368.4 127.3L367.8 128.2M368.4 127.3L368.9 128.6M368.4 83.7L368.6 83.5M368.4 83.7L368.5 84.2M368.5 84.2L368.4 83.7M368.5 84.2L368.8 84.8M368.5 84.2L367.9 84M368.5 71.9L369.6 71.2M368.5 71.9L368.9 70.4M368.5 71.9L370.4 72.4M368.5 129.8L368.9 128.6M368.5 62.6L367.5 63.2M368.5 62.6L368.9 60.7M368.6 127.6L367.8 128.2M368.6 127.6L368.9 128.6M368.6 120.6L367.8 120.1M368.6 83.5L368.4 83.7M368.6 83.5L368.5 84.2M368.7 86.1L368.7 85.8M368.7 86.1L369 85.7M368.7 86.1L369.1 85.7M368.7 85.8L369 85.7M368.7 85.8L369.1 85.7M368.7 89L368.7 88.8M368.7 89L369 89M368.7 89L369.2 89M368.7 88.8L369 89M368.7 88.8L368.9 88.4M368.8 119.4L369.6 119.8M368.8 84.8L368.4 85.1M368.8 84.8L368.2 84.9M368.9 128.6L369.6 128.8M368.9 88.4L369 89M368.9 135.6L369.6 136.9M368.9 135.6L369.3 134.2M368.9 70.4L369.7 70M368.9 70.4L369.9 70.4M368.9 70.4L369.6 71.2M369 118.1L369 118M369 118.1L369.2 117.9M369 118.1L369.4 118.3M369 81.8L369.2 82.5M369 81.8L369.7 82.9M369 85.7L369.1 85.7M369 89L369.2 89M369 118L369.2 117.9M369 118L369.4 118.3M369.1 75.7L370.2 76M369.1 85.7L368.7 85.8M369.1 87.4L369.9 87.7M369.1 87.4L369.9 86.9M369.1 79.5L369.9 79.5M369.1 79.5L370 80.1M369.2 117.9L369 118M369.2 117.9L369 118.1M369.2 117.9L369.4 118.3M369.2 90.6L369.5 91M369.2 89L369.6 88.9M369.2 89L368.7 89M369.2 82.5L369.7 82.9M369.3 130.9L370.1 130.4M369.3 134.2L370.6 134.2M369.3 134.2L370.7 134.1M369.4 118.3L369.6 118.4M369.5 91L369.2 90.6M369.5 91L369.9 91.8M369.5 91L368.1 90.4M369.6 119.8L369.7 120M369.6 119.8L369.9 120M369.6 119.8L369.8 119.3M369.6 128.8L370.3 127.6M369.6 136.9L370.5 136.2M369.6 71.2L369.9 70.4M369.6 71.2L369.7 70M369.6 88.9L370.3 89.1M369.7 120L369.9 120M369.7 120L369.8 119.3M369.7 82.9L369.2 82.5M369.7 82.9L370 84M369.7 98L370.2 98.2M369.7 98L370.6 97.9M369.7 98L371.2 97.5M369.7 70L369.9 70.4M369.7 70L370 69.4M369.7 70L368.9 70.4M369.8 119.3L370.3 119.5M369.8 119.3L369.6 119.8M369.8 119.3L369.9 120M369.9 87.7L370.1 88.1M369.9 87.7L369.9 86.9M369.9 86.9L369.1 87.4M369.9 86.9L370.1 88.1M369.9 73.8L370.9 74.4M369.9 73.8L371.2 73.1M369.9 73.8L370.4 72.4M369.9 70.4L369.7 70M369.9 120L369.7 120M369.9 120L370.3 119.5M369.9 108L370.3 109M369.9 108L370.5 109.2M369.9 108L371.3 107.6M369.9 79.5L370 80.1M369.9 91.8L370.4 92.5M369.9 91.8L371.1 92.5M370 80.1L369.9 79.5M370 69.4L369.7 70M370 69.4L371.1 69M370 84L371 84.3M370 84L368.6 83.5M370.1 88.1L370.3 89.1M370.1 130.4L370.8 130.4M370.1 130.4L370.8 131.7M370.2 117.3L370.2 117.2M370.2 117.3L370.4 118.1M370.2 76L370.9 74.4M370.2 76L371.8 77M370.2 117.2L370.4 118.1M370.2 98.2L370.6 97.9M370.2 98.2L369.7 98M370.2 98.2L371.2 97.5M370.3 109L370.5 109.2M370.3 109L370.7 109.6M370.3 109L369.9 108M370.3 119.5L369.8 119.3M370.3 119.5L369.9 120M370.3 119.5L370.3 118.8M370.3 118.8L370.4 118.1M370.3 118.8L369.8 119.3M370.3 127.6L369.6 128.8M370.3 127.6L371.9 127.2M370.3 127.6L368.9 128.6M370.3 65.1L371.2 65.7M370.3 65.1L371.4 64.2M370.3 65.1L371.1 66.7M370.3 89.1L370.1 88.1M370.4 67.3L371.1 66.7M370.4 67.3L371.2 65.7M370.4 67.3L371.1 69M370.4 92.5L370.4 93.1M370.4 92.5L371.1 92.5M370.4 92.5L369.9 91.8M370.4 93.5L370.4 93.1M370.4 93.5L370.7 94.1M370.4 93.1L370.4 92.5M370.4 93.1L371.1 92.5M370.4 72.4L370.6 72.5M370.4 72.4L370.6 72M370.4 72.4L371.2 73.1M370.5 136.2L371.3 136.4M370.5 136.2L371.3 135.9M370.5 136.2L371.6 136.2M370.5 109.2L370.7 109.6M370.5 109.2L371.5 108.9M370.6 97.9L371.2 97.5M370.6 72.5L370.6 72M370.6 72.5L371.2 73.1M370.6 134.2L370.7 134.1M370.6 134.2L371.3 135.1M370.6 134.2L369.3 134.2M370.6 72L370.6 72.5M370.6 72L371.2 73.1M370.7 109.6L370.5 109.2M370.7 109.6L370.8 110.6M370.7 134.1L371.3 135.1M370.8 131.7L371.2 131.3M370.8 131.7L371.6 131.4M370.8 131.7L371.8 131.1M370.8 130.4L371.6 130.3M370.8 130.4L371.2 131.3M370.9 70.6L371.2 70.4M370.9 70.6L369.7 70M370.9 74.4L369.9 73.8M370.9 74.4L372.3 74.5M370.9 74.4L371.2 73.1M371 84.3L371.8 84.2M371 84.3L371.1 85.4M371 101.9L372.1 102.3M371 101.9L372 100.6M371 101.9L369.4 101.5M371.1 92.5L371.8 92.2M371.1 66.7L370.4 67.3M371.1 66.7L371.2 65.7M371.1 118.9L371.4 118.1M371.1 118.9L370.3 119.5M371.1 85.4L371.9 85.7M371.1 85.4L372.1 85.9M371.1 69L371.2 70.4M371.1 69L372.5 69.1M371.2 73.1L370.6 72M371.2 99.5L371.5 98.4M371.2 99.5L372 100.6M371.2 99.5L372.8 99.4M371.2 70.4L370.9 70.6M371.2 70.4L371.1 69M371.2 97.5L371.7 97.6M371.2 97.5L371.5 98.4M371.2 131.3L371.6 131.4M371.2 131.3L371.8 131.1M371.2 65.7L371.1 66.7M371.2 65.7L370.3 65.1M371.2 65.7L371.4 64.2M371.3 135.1L372 135M371.3 135.1L371.3 135.9M371.3 135.1L371.6 136.2M371.3 90.2L371.4 91.1M371.3 90.2L372.3 90.5M371.3 90.2L372.3 90.8M371.3 136.4L371.6 136.2M371.3 136.4L371.3 135.9M371.3 135.9L371.6 136.2M371.3 135.9L371.3 136.4M371.3 82.5L372.4 82.8M371.3 82.5L372.3 83.3M371.3 82.5L372.7 82.5M371.3 107.6L371.5 108.3M371.3 107.6L371.8 108.4M371.3 107.6L371.5 108.9M371.4 118.1L371.1 118.9M371.4 64.2L372.8 64.6M371.4 64.2L371.2 65.7M371.4 91.1L371.6 91.4M371.4 91.1L372.3 90.8M371.4 91.1L371.3 90.2M371.5 108.3L371.8 108.4M371.5 108.3L371.5 108.9M371.5 108.3L371.3 107.6M371.5 98.4L372.2 98.2M371.5 98.4L371.7 97.6M371.5 98.4L372.4 98.4M371.5 108.9L371.5 108.3M371.5 108.9L371.8 108.4M371.6 96.5L372 96.6M371.6 96.5L372.6 96.4M371.6 131.4L371.8 131.1M371.6 130.3L371.8 129.6M371.6 130.3L371.8 131.1M371.6 91.4L371.9 92.1M371.6 91.4L371.8 92.2M371.7 97.6L372.2 98.2M371.7 97.6L371.5 98.4M371.8 129.6L373.2 129.5M371.8 92.2L371.9 92.1M371.8 92.2L371.6 91.4M371.8 84.2L371 84.3M371.8 84.2L372.3 83.3M371.8 108.4L371.5 108.9M371.8 77L373.7 77.2M371.8 77L373.6 75.5M371.9 127.2L372.3 127.1M371.9 127.2L372.2 128.1M371.9 85.7L372.1 85.9M371.9 85.7L372.3 85.5M371.9 85.7L372.6 85.9M372 100.6L373.1 100.2M372 100.6L372.8 99.4M372 96.6L371.6 96.5M372 96.6L372.6 96.4M372 96.6L372.8 96.3M372 135L372.3 134.4M372 135L373.1 135M372.1 102.3L373.6 102.7M372.1 102.3L373.8 102.3M372.1 85.9L372.6 85.9M372.1 85.9L372.3 85.5M372.2 88.8L372.6 90.1M372.2 88.8L373.6 88.6M372.2 88.8L372.7 90.2M372.2 98.2L372.4 98.4M372.2 98.2L372.4 98.4M372.2 128.1L372.3 127.1M372.3 95L373 94.4M372.3 95L373.2 96.1M372.3 95L373.3 94.1M372.3 74.5L372.8 74.6M372.3 74.5L373.2 75M372.3 134.4L373.1 134.8M372.3 134.4L373.1 135M372.3 85.5L371.9 85.7M372.3 85.5L372.6 85.9M372.3 83.3L372.4 82.8M372.3 83.3L372.7 82.5M372.3 83.3L371.8 84.2M372.3 90.8L372.3 90.5M372.3 90.8L372.7 90.2M372.3 90.8L372.6 90.1M372.3 90.5L372.3 90.8M372.3 90.5L372.7 90.2M372.3 90.5L372.6 90.1M372.3 127.1L370.3 127.6M372.4 98.4L372.4 98.4M372.4 98.4L371.5 98.4M372.4 119.7L373.1 119.6M372.4 119.7L373.7 119.1M372.4 119.7L373 118.4M372.4 98.4L372.2 98.2M372.4 82.8L372.7 82.5M372.5 132L372.8 131.3M372.5 132L371.8 131.1M372.5 136.8L372.8 137.1M372.5 136.8L371.6 136.2M372.5 136.8L373.1 137.7M372.5 69.1L373.6 69.4M372.5 69.1L371.1 69M372.6 90.1L372.7 90.2M372.6 96.4L372.8 96.3M372.6 96.4L372 96.6M372.6 96.4L373.2 96.1M372.6 85.9L372.6 86.2M372.6 85.9L372.3 85.5M372.6 86.2L372.1 85.9M372.6 86.2L372.3 85.5M372.7 90.2L372.6 90.1M372.7 90.2L372.3 90.5M372.7 82.5L371.3 82.5M372.7 73.1L373 73.4M372.7 73.1L372.8 74.6M372.7 73.1L372.3 74.5M372.8 99.4L373.1 100.2M372.8 64.6L373.4 62.9M372.8 64.6L374.4 63.6M372.8 96.3L373.2 96.1M372.8 96.3L372.9 97M372.8 74.6L373.2 75M372.8 74.6L373.6 74.6M372.8 137.1L373.1 137.7M372.8 137.1L374.3 137.2M372.9 97L372.6 96.4M372.9 97L372.8 96.3M372.9 97L373.2 96.1M373 118.4L373.7 119.1M373 118.4L373.9 119M373 118.4L374 119M373 94.4L373.3 94.1M373 94.4L373.7 94.7M373 94.4L373.6 94M373 117L373 118.4M373 117L374.6 117.3M373 117L374.4 118.1M373.1 134.8L373.1 135M373.1 134.8L373.5 134.7M373.1 134.8L373.6 135.4M373.1 87.3L374.2 86.8M373.1 87.3L374 86.4M373.1 135L373.5 134.7M373.1 135L373.6 135.4M373.1 119.6L373.7 119.1M373.1 119.6L373.9 119M373.1 100.2L373.5 100.7M373.1 100.2L373.9 100.7M373.1 137.7L372.5 136.8M373.1 137.7L374.3 137.2M373.2 96.1L373.6 95.2M373.2 129.5L373.3 129.3M373.2 129.5L373.6 129.8M373.2 129.5L371.8 129.6M373.2 75L373.6 74.6M373.2 75L373.6 75.5M373.2 75L372.8 74.6M373.2 91.3L374.1 91.1M373.2 91.3L373.8 90.3M373.3 94.1L373.6 94M373.3 94.1L373 94.4M373.3 94.1L373.7 94.7M373.3 129.3L373.2 129.5M373.3 129.3L373.6 129.8M373.4 79.5L373.7 79.7M373.4 79.5L373.4 80M373.4 79.5L373.7 80.1M373.4 80L373.7 80.1M373.4 80L373.7 79.7M373.5 134.7L373.6 135.4M373.5 100.7L373.9 100.7M373.5 100.7L374.1 100.7M373.5 100.7L374 100.4M373.5 121.8L373.9 122.1M373.5 121.8L373.6 120.9M373.5 121.8L374.5 122.4M373.6 94L374 94M373.6 94L373.7 94.7M373.6 135.4L373.1 135M373.6 135.4L373.1 134.8M373.6 89.8L373.8 90.3M373.6 89.8L374.2 89.6M373.6 89.8L374 89.1M373.6 129.8L372.8 131.3M373.6 102.7L374 102.8M373.6 102.7L373.8 102.3M373.6 102.7L374 102.6M373.6 69.4L375.5 70.5M373.6 69.4L371.1 69M373.6 120.9L374.5 121.1M373.6 120.9L374.8 121.2M373.6 95.2L373.7 94.7M373.6 95.2L374.1 94.5M373.6 74.6L374.4 74.5M373.6 74.6L372.8 74.6M373.6 75.5L373.6 74.6M373.6 88.6L374 89.1M373.6 88.6L374.7 88.9M373.7 94.7L374.1 94.5M373.7 79.7L373.4 79.5M373.7 79.7L373.7 80.1M373.7 77.2L374.3 78M373.7 77.2L374.6 76.2M373.7 77.2L374.9 78M373.7 80.1L373.7 80.4M373.7 80.1L373.7 79.7M373.7 119.1L373.9 119M373.7 119.1L374 119M373.7 80.4L373.7 79.7M373.8 102.3L373.8 102.2M373.8 102.3L374 102.1M373.8 102.3L374 102.6M373.8 84.5L373.8 84.2M373.8 84.5L374.1 83.9M373.8 84.5L375 84.9M373.8 102.2L373.8 102.3M373.8 102.2L374 102.1M373.8 102.2L374 102.6M373.8 84.2L373.8 84.5M373.8 84.2L374.1 83.9M373.8 84.2L375 84.9M373.8 90.3L374.2 89.6M373.8 90.3L374.1 91.1M373.9 100.7L374.1 100.7M373.9 100.7L374 100.4M373.9 122.1L373.5 121.8M373.9 122.1L374.5 122.4M373.9 122.1L373.6 120.9M373.9 119L374 119M373.9 119L373.7 119.1M373.9 119L374.4 118.1M374 102.1L373.8 102.2M374 102.1L374 102.6M374 94L373.6 94M374 94L374.1 94.5M374 94L374.1 93.5M374 102.8L374 102.6M374 102.8L373.6 102.7M374 102.8L373.8 102.3M374 102.6L373.8 102.3M374 89.1L374.2 89.6M374 89.1L374.7 88.9M374 86.4L374.3 86.2M374 86.4L374.2 86.8M374 86.4L374.7 86.8M374 100.4L374.1 100.7M374 119L373.7 119.1M374 119L374.4 118.1M374.1 134L374.3 134M374.1 134L374.3 133.9M374.1 134L374.2 133.4M374.1 94.5L374.6 94.7M374.1 79.7L374.5 79.8M374.1 79.7L373.7 79.7M374.1 83.9L374.5 83M374.1 91.1L373.8 90.3M374.1 91.1L374.8 90.4M374.1 93.5L374 94M374.1 93.5L374.9 94.1M374.2 133.4L374.3 133.9M374.2 133.4L374.3 134M374.2 124.7L374.4 123.3M374.2 124.7L375.1 123.4M374.2 124.7L374.5 122.4M374.2 86.8L374.7 86.8M374.2 86.8L374.3 86.2M374.3 86.2L374.8 86M374.3 86.2L374.8 86.3M374.3 134L374.3 133.9M374.3 137.2L373.1 137.7M374.3 137.2L374.6 135.8M374.3 78L374.9 78M374.3 78L375.2 77.6M374.3 78L373.7 77.2M374.3 97.8L375.5 98M374.3 97.8L374.8 96.4M374.3 97.8L372.9 97M374.3 133.9L374.3 134M374.3 133.9L374.2 133.4M374.4 118.1L374.8 117.5M374.4 118.1L374.9 117.5M374.4 118.1L374.6 117.3M374.4 74.5L375.1 75.2M374.4 123.3L375.1 123.4M374.4 123.3L374.5 122.4M374.5 122.4L373.5 121.8M374.5 79.8L374.1 79.7M374.5 121.1L374.8 121.2M374.5 121.1L375.1 120.4M374.5 121.1L373.6 120.9M374.5 83L374.7 82.2M374.5 83L375.4 82.8M374.5 83L374.1 83.9M374.5 95.9L374.8 96.4M374.5 95.9L375.2 95.8M374.6 94.7L374.9 94.6M374.6 94.7L374.9 94.1M374.6 117.3L374.8 117.5M374.6 117.3L374.9 117.5M374.6 76.2L375.3 76.3M374.6 76.2L375.1 75.2M374.6 76.2L373.6 75.5M374.6 135.8L374.7 135M374.6 135.8L375 134.8M374.7 82.2L374.5 83M374.7 82.2L375.4 82.8M374.7 82.2L374.9 81.1M374.7 135L375 134.8M374.7 135L374.6 135.8M374.7 135L374.3 134M374.7 86.8L374.8 86.3M374.7 86.8L375.1 87.3M374.7 88.9L374 89.1M374.8 86L374.8 86.3M374.8 121.2L374.5 121.1M374.8 121.2L375.1 120.4M374.8 121.2L375.5 120.4M374.8 96.4L375.2 95.8M374.8 90.4L375.2 91.1M374.8 90.4L375.7 90.4M374.8 90.4L375.7 90.4M374.8 117.5L374.9 117.5M374.8 117.5L374.4 118.1M374.9 94.1L374.9 94.6M374.9 94.1L375.4 94.4M374.9 81.1L375.1 81.1M374.9 81.1L374.7 82.2M374.9 117.5L375.6 117.9M374.9 94.6L375.4 94.6M374.9 94.6L375.4 94.4M374.9 78L375.2 77.6M374.9 78L374.3 78M374.9 78L375.4 77.5M374.9 120L375.2 120M374.9 120L375.1 120.4M374.9 120L375.5 120.4M375 84.9L375.1 85.1M375 84.9L376 85.3M375 101.7L375.4 101.9M375 101.7L375.2 100.9M375 101.7L374 102.1M375 134.8L374.6 135.8M375 91.6L375.2 91.1M375 91.6L374.1 91.1M375.1 87.3L375.7 88M375.1 120.4L375.2 120M375.1 120.4L375.5 120.4M375.1 132.1L376.2 131.6M375.1 123.4L374.5 122.4M375.1 123.4L376.3 122.7M375.1 81.1L375.7 79.8M375.1 85.1L376 85.3M375.1 75.2L374.4 74.5M375.1 75.2L375.3 76.3M375.2 91.1L375.7 90.4M375.2 100.9L375.4 101.9M375.2 77.6L375.4 77.5M375.2 120L375.5 120.4M375.2 95.8L375.9 95.2M375.3 99.2L375.8 98.7M375.3 99.2L376.3 98.9M375.3 99.2L375.5 98M375.3 76.3L374.6 76.2M375.3 76.3L375.4 77.5M375.4 94.4L375.4 94.6M375.4 94.4L374.9 94.6M375.4 101.9L376.2 101.8M375.4 82.8L376.7 81.8M375.4 94.6L374.9 94.6M375.4 77.5L375.2 77.6M375.4 77.5L376 78.2M375.5 70.5L376.3 71.1M375.5 70.5L377.6 71.3M375.5 98L375.8 98.7M375.5 98L376.6 98.1M375.5 106L376.5 106.2M375.5 106L376.6 106M375.5 106L375.9 104.9M375.6 117.9L376.1 117.9M375.6 117.9L374.8 117.5M375.7 88L375.8 87.9M375.7 88L375.9 88.3M375.7 88L376.3 87.8M375.7 79.1L375.7 79.5M375.7 79.1L375.9 79.6M375.7 79.1L375.7 79.8M375.7 90.4L375.7 90.4M375.7 90.4L375.2 91.1M375.7 79.8L375.9 79.6M375.7 79.8L375.7 79.5M375.7 79.8L376 79.9M375.7 79.5L375.9 79.6M375.7 79.5L375.7 79.8M375.8 98.7L376.3 98.9M375.8 98.7L375.5 98M375.8 87.9L375.9 88.3M375.8 87.9L376.3 87.8M375.9 104.9L377.2 104.8M375.9 104.9L376.6 106M375.9 79.6L375.7 79.5M375.9 79.6L375.7 79.8M375.9 79.6L376 79.9M375.9 88.3L376.2 88.6M375.9 95.2L376.2 95M375.9 95.2L375.2 95.8M376 85.3L376.4 85.7M376 85.3L376 84.4M376 78.2L376.4 78.2M376 78.2L376.8 78.5M376 78.2L375.4 77.5M376 84.4L376.3 84.2M376.1 117L376.5 117M376.1 117L376.8 117M376.1 117L376.1 117.9M376.1 117.9L376.4 117.8M376.1 117.9L376.9 118M376.2 101.8L376.7 101.9M376.2 101.8L375.4 101.9M376.2 101.8L376.6 102.5M376.2 88.6L376.5 88.2M376.2 88.6L376.5 89.2M376.2 95L375.4 94.6M376.2 95L375.4 94.4M376.2 86.3L376.4 85.7M376.2 86.3L377.2 86.2M376.3 119.7L376.4 119.5M376.3 119.7L375.2 120M376.3 122.7L374.5 122.4M376.3 98.9L376.6 98.1M376.3 71.1L375.5 70.5M376.3 71.1L377.6 71.3M376.3 71.1L377.1 72.4M376.3 87.8L376.5 88.2M376.3 87.8L376.5 87.4M376.3 84.2L376 85.3M376.3 84.2L376.4 85.7M376.4 80.4L376.6 79.9M376.4 80.4L376.5 79.8M376.4 119.5L376.3 119.7M376.4 119.5L376.6 118.5M376.4 85.7L376.2 86.3M376.4 85.7L377.2 86.2M376.4 78.2L376.8 78.5M376.4 78.2L377.2 77.6M376.4 100.9L376.6 100M376.4 100.9L376.7 101.9M376.4 117.8L376.9 118M376.4 117.8L376.6 118.5M376.5 117L376.8 117M376.5 89.3L376.5 89.2M376.5 106.2L376.6 106M376.5 106.2L376.8 106.1M376.5 106.2L375.5 106M376.5 79.8L376.6 79.9M376.5 79.8L376 79.9M376.5 87.4L376.3 87.8M376.6 100L376.7 99.9M376.6 100L376.3 98.9M376.6 102.5L376.7 101.9M376.6 102.5L377.8 102.5M376.6 118.5L376.9 118M376.6 98.1L375.5 98M376.6 79.9L376.4 80.4M376.6 106L376.8 106.1M376.6 106L377.4 105.2M376.7 81.8L376.4 80.4M376.7 81.8L378.1 81.3M376.7 101.9L376.2 101.8M376.7 99.9L376.3 98.9M376.7 96.7L376.8 96.3M376.7 96.7L378 96.6M376.8 96.3L378 96.6M376.8 96.3L375.9 95.2M376.8 106.1L377.4 105.2M376.8 78.5L376.4 78.2M376.8 78.5L377.2 77.6M376.8 117L377.4 116.8M376.8 117L377.2 117.6M376.9 118L377.2 117.6M377 125.6L377.5 124.2M377 125.6L378.1 124.5M377 125.6L378.3 124.3M377.1 72.4L377.1 72.6M377.1 72.4L377.8 72.1M377.1 72.4L377.6 71.3M377.1 72.6L377.8 72.1M377.1 72.6L378.3 72.9M377.2 104.8L377.4 105M377.2 104.8L377.4 105.2M377.2 104.8L377.3 103.9M377.2 117.6L376.9 118M377.2 117.6L377.6 117.2M377.2 117.6L376.8 117M377.2 77.6L376 78.2M377.2 86.2L378 86.3M377.2 86.2L376.2 86.3M377.3 103.9L377.4 105M377.3 103.9L377.4 105.2M377.4 116.8L377.6 117.2M377.4 116.8L376.8 117M377.4 116.8L377.8 116.3M377.4 111.4L377.5 111.4M377.4 111.4L378.3 110.8M377.4 111.4L378 110.3M377.4 105.2L377.4 105M377.4 105L377.2 104.8M377.5 124.2L378.1 124.5M377.5 124.2L378.3 124.3M377.5 111.4L378.3 110.8M377.5 111.4L378 110.3M377.5 107.2L376.8 106.1M377.6 71.3L377.8 72.1M377.6 117.2L377.4 116.8M377.8 72.1L377.1 72.6M377.8 66.8L378.3 66.1M377.8 66.8L379.1 67.4M377.8 66.8L378.9 65.4M377.8 116.3L377.6 117.2M377.8 116.3L378.6 115.8M377.8 102.5L376.7 101.9M377.9 118.1L378.2 117.8M377.9 118.1L378.5 118M378 96.6L378.2 96M378 96.6L376.7 96.7M378 110.3L378.3 110.8M378 110.3L377.4 111.4M378 86.3L379.4 86M378.1 81.3L378.9 80.2M378.1 81.3L379.3 80.5M378.1 81.3L378.5 79.9M378.2 79.6L378.5 79.9M378.2 79.6L378.2 79.1M378.2 79.6L379 79.8M378.2 117.8L378.5 118M378.2 117.8L377.9 118.1M378.2 117.8L378.7 117.6M378.2 79.1L378.5 79.9M378.2 79.1L379 79.8M378.3 110.8L378 110.3M378.3 72.9L377.1 72.4M378.5 118L378.7 117.6M378.5 79.9L378.2 79.6M378.5 79.9L378.9 80.2M378.5 79.9L379 79.8M378.6 115.8L377.8 116.3M378.6 115.8L379.6 116M378.6 115.8L378.7 116.9M378.7 68.6L379.1 67.4M378.7 68.6L379.9 67.2M378.7 122.2L379.2 122.2M378.7 122.2L379.3 121.7M378.7 122.2L380.1 122.9M378.7 117.6L378.5 118M378.7 117.6L378.7 116.9M378.7 116.9L379.5 116.8M378.9 80.2L379 79.8M378.9 80.2L378.5 79.9M378.9 80.2L379.3 80.5M378.9 88.4L379.7 88.4M378.9 88.4L379.4 89.4M378.9 88.4L379.6 89.2M378.9 113.7L379.7 113.3M378.9 113.7L379.7 113M378.9 113.7L379.8 112.9M379 79.8L378.5 79.9M379 79.8L379.4 80.4M379 106.8L377.4 105.2M379.1 67.4L379.9 67.2M379.1 67.4L378.7 68.6M379.2 76.7L379.4 76.3M379.2 76.7L379.5 77.2M379.2 76.7L379.8 77M379.3 121.7L378.7 122.2M379.3 121.7L380.1 122.9M379.3 80.5L379.4 80.4M379.3 80.5L378.9 80.2M379.3 80.5L379.8 80M379.4 89.4L379.6 89.2M379.4 89.4L379.9 90M379.4 89.4L379.7 88.4M379.4 111.4L379.6 111.4M379.4 111.4L379.9 111.2M379.4 111.4L379.9 111.1M379.4 76.3L379.7 75.6M379.4 76.3L379.8 77M379.4 118.6L378.5 118M379.4 118.6L379.9 117.5M379.4 86L380.1 86.2M379.4 86L380.4 86.6M379.4 86L380.5 86.5M379.4 80.4L379.8 80M379.4 80.4L378.9 80.2M379.5 116.8L378.7 116.9M379.5 116.8L379.9 117.5M379.5 116.8L379.6 116M379.5 77.2L379.8 77M379.6 111.4L379.4 111.4M379.6 111.4L379.9 111.2M379.6 111.4L379.9 111.1M379.6 116L380 116.1M379.6 116L378.6 115.8M379.6 89.2L379.9 90M379.6 89.2L379.7 88.4M379.7 75.6L380 75.3M379.7 75.6L380.6 76M379.7 113L379.8 112.9M379.7 113L379.7 113.3M379.7 88.4L380.2 88.2M379.7 88.4L380.4 88.4M379.7 88.4L380.5 88.7M379.7 113.3L379.8 112.9M379.8 77L379.2 76.7M379.8 112.9L380.8 113.1M379.8 80L379.3 80.5M379.8 80L379 79.8M379.9 67.2L379.9 65.7M379.9 115L380.2 115.2M379.9 115L380 116.1M379.9 90L380.5 89.1M379.9 117.5L381 118M379.9 111.2L379.9 111.1M379.9 111.2L379.6 111.4M379.9 111.1L379.6 111.4M380 75.3L380.6 76M380 78.5L380.8 78.1M380 116.1L380.2 115.2M380.1 81.5L380.4 82.2M380.1 81.5L381.3 81.3M380.1 74.2L380.9 73M380.1 86.2L380.5 86.5M380.1 86.2L380.4 86.6M380.1 86.2L380.5 86.6M380.2 88.2L380.4 88.4M380.2 88.2L380.3 87.8M380.2 88.2L380.5 88.7M380.3 87.8L380.4 88.4M380.3 87.8L379.7 88.4M380.4 82.2L380.9 82.7M380.4 82.2L381.3 82.5M380.4 88.4L380.5 88.7M380.4 88.4L381 88.5M380.4 86.6L380.5 86.6M380.4 86.6L380.5 86.5M380.4 86.6L380.5 86.8M380.5 89.1L380.8 88.9M380.5 89.1L380.5 88.7M380.5 86.6L380.4 86.6M380.5 86.6L380.5 86.5M380.5 86.6L380.5 86.8M380.5 88.7L380.4 88.4M380.5 88.7L380.8 88.9M380.5 86.5L380.4 86.6M380.5 86.5L380.5 86.8M380.5 86.8L380.5 86.5M380.5 84.8L381.4 85.3M380.5 84.8L381.8 85.1M380.5 84.8L380.1 86.2M380.6 76L381.1 76.2M380.6 76L379.7 75.6M380.7 94.9L381.3 95.4M380.7 94.9L381 95.7M380.7 80.3L381.2 80.3M380.7 80.3L381.2 79.6M380.8 88.9L381 88.5M380.8 77.2L380.8 78.1M380.8 77.2L379.8 77M380.8 77.2L381.1 76.2M380.8 78.1L381.8 78.3M380.9 82.7L381.3 82.5M380.9 82.7L381.1 83.4M380.9 82.7L380.4 82.2M380.9 73L381.3 72.5M380.9 73L381.6 72M381 111.7L379.9 111.2M381 88.5L380.5 88.7M381 88.5L381.5 88.4M381 118L379.9 117.5M381 118L382.3 118.1M381 118L381.1 119.4M381 95.7L381.3 95.4M381 95.7L380.7 94.9M381 86.2L380.5 86.6M381 86.2L380.4 86.6M381.1 76.2L380.6 76M381.1 119.4L382.3 118.1M381.1 83.4L381.3 82.5M381.1 83.4L382.1 83.5M381.2 114.4L380.8 113.1M381.2 114.4L379.9 115M381.2 79.6L381.2 80.3M381.2 79.6L379.8 80M381.2 80.3L381.5 81.1M381.3 72.5L381.6 72M381.3 72.5L381.8 71.8M381.3 82.5L380.9 82.7M381.3 82.5L381.7 82M381.3 82.5L382 82.5M381.3 81.3L381.5 81.1M381.3 81.3L381.7 82M381.3 81.3L382.1 81.9M381.3 88.1L381.5 88.4M381.3 88.1L381.9 87.5M381.3 95.4L381 95.7M381.3 95.4L380.7 94.9M381.4 85.3L381.8 85.1M381.5 88.4L381.3 88.1M381.5 81.1L381.7 82M381.6 72L381.8 71.8M381.6 72L381.9 71.6M381.7 82L382.1 81.9M381.7 82L382 82.5M381.8 85.1L382.7 84.9M381.8 85.1L382.6 86.1M381.8 78.3L380.8 78.1M381.8 78.3L382.8 79.1M381.8 78.3L382.9 77.7M381.8 71.8L381.9 71.6M381.8 71.8L381.6 72M381.8 71.8L382.3 72.3M381.9 71.6L381.6 72M381.9 71.6L382.1 71.1M381.9 87.5L382.5 87.4M381.9 87.5L382.5 87.9M381.9 87.5L382.7 87.8M382 82.5L382.1 81.9M382.1 66.6L381.5 65.7M382.1 66.6L383.4 67M382.1 66.6L381.5 64.9M382.1 83.5L382.6 83.9M382.1 83.5L382 82.5M382.1 71.1L381.9 71.6M382.2 86.5L382.6 86.1M382.2 86.5L382.9 86.7M382.2 86.5L382.5 87.4M382.3 72.3L381.8 71.8M382.3 72.3L381.6 72M382.4 116L382.5 116.8M382.4 116L383.2 115.9M382.4 116L383.1 115.5M382.5 87.4L382.7 87.8M382.5 87.4L382.5 87.9M382.5 87.9L382.7 87.8M382.6 86.1L383 85.5M382.6 86.1L382.9 86.7M382.6 83.9L383.2 84M382.6 83.9L383.2 83.6M382.6 83.9L382.1 83.5M382.7 84.9L383 84.8M382.7 84.9L383 85.5M382.7 108.4L382.9 108.2M382.7 108.4L384 108.5M382.7 108.4L384.1 107.6M382.7 87.8L382.5 87.4M382.7 87.8L381.9 87.5M382.8 79.1L383.7 79.3M382.8 79.1L383.8 79.2M382.9 100.5L384.2 101.1M382.9 100.5L384.7 101.3M382.9 100.5L385.8 101.2M382.9 86.7L383.5 86.7M382.9 77.7L383.9 77.6M382.9 77.7L382.8 79.1M382.9 108.2L384 108.5M382.9 108.2L384.1 107.6M383 112.6L384.1 112.6M383 112.6L384.4 112.8M383 112.6L384 114M383 85.5L382.6 86.1M383 85.5L382.7 84.9M383 85.5L383 84.8M383 84.8L383.2 84M383.2 84L383.2 83.6M383.2 83.6L382.6 83.9M383.2 83.6L384 83.6M383.3 89.6L383.4 90M383.3 89.6L383.3 88.9M383.3 89.6L383.3 90.7M383.3 90.7L383.4 90M383.3 90.7L384.3 90.8M383.3 90.7L383.3 89.6M383.3 88.9L383.4 90M383.3 88.9L382.7 87.8M383.4 71.1L383.4 70.1M383.4 71.1L384.4 71.5M383.4 71.1L384.5 71.7M383.4 67L384.2 67.7M383.4 67L383.8 66M383.4 90L383.3 89.6M383.4 90L383.3 90.7M383.4 110.7L384 110.4M383.4 110.7L384 110.2M383.4 110.7L383 112.6M383.4 70.1L383.5 69.6M383.4 70.1L383.4 71.1M383.4 70.1L384.4 70.1M383.4 105.9L383.9 106M383.4 105.9L384.1 107.6M383.5 86.7L383.6 86.3M383.5 86.7L383.9 86.6M383.5 86.7L382.9 86.7M383.5 69.6L384.4 70.1M383.5 69.6L384.7 70.1M383.6 86.3L383.9 86.6M383.6 86.3L382.9 86.7M383.7 79.3L383.8 79.2M383.7 79.3L384 78.5M383.7 79.3L384.6 79.6M383.8 92.9L384.8 92.6M383.8 92.9L384.8 92.2M383.8 92.9L384.3 90.8M383.8 76.7L384.2 76.9M383.8 76.7L384.6 76.6M383.8 76.7L383.9 77.6M383.8 85.3L384.9 85.4M383.8 79.2L383.7 79.3M383.8 79.2L384 78.5M383.8 79.2L384.6 79.6M383.8 66L384.2 65.5M383.8 66L385 66.1M383.9 77.6L384.2 76.9M383.9 77.6L384 78.5M383.9 86.6L382.9 86.7M384 83.6L383.2 83.6M384 83.6L384.8 83.3M384 68.4L384.1 68.3M384 68.4L384.5 68.7M384 68.4L384.2 67.7M384 72.7L385.1 72.8M384 72.7L384.5 71.7M384 72.7L385.2 72.7M384 80.3L384.8 79.9M384 80.3L384.6 79.6M384.1 68.3L384.5 68.7M384.1 68.3L384.2 67.7M384.2 67.7L384.9 68.2M384.2 76.9L384.6 76.6M384.2 76.9L384.9 77M384.2 101.1L384.7 101.3M384.2 101.1L385.8 101.2M384.3 90.8L385 90.8M384.3 90.8L383.3 90.7M384.4 71.5L384.5 71.7M384.4 70.1L384.7 70.1M384.4 70.1L384.9 70.2M384.4 70.1L383.4 70.1M384.5 68.7L384 68.4M384.5 68.7L384.9 68.3M384.5 71.7L384 72.7M384.5 71.7L385.2 72.7M384.6 81.6L384.8 81.5M384.6 81.6L385.6 80.4M384.6 79.6L384.8 79.9M384.6 79.6L383.8 79.2M384.6 76.6L384.9 77M384.6 76.6L383.8 76.7M384.7 70.1L384.9 70.2M384.7 70.1L384.4 70.1M384.7 70.1L385.4 69.7M384.8 79.9L385.6 80M384.8 81.5L385.6 80.4M384.8 92.6L384.8 92.2M384.8 92.6L383.8 92.9M384.8 92.6L386.2 92.5M384.8 85.7L384.9 85.4M384.8 87.6L385.1 87.1M384.8 87.6L385.1 88.4M384.8 87.6L385.7 87.5M384.8 92.2L384.8 92.6M384.8 92.2L383.8 92.9M384.8 92.2L385 90.8M384.8 83.3L385.9 82.9M384.8 83.3L385.8 82.6M384.9 77L384.6 76.6M384.9 77L385.6 76.8M384.9 85.4L383.8 85.3M384.9 85.4L386 85.2M384.9 70.2L384.4 70.1M384.9 70.2L385.4 69.7M384.9 68.2L384.9 68.3M384.9 68.3L384.1 68.3M385 66.1L385.5 65.6M385 66.1L385 65.1M385 90.8L385.8 89.8M385 90.8L384.8 92.2M385.1 88.4L385.7 88.6M385.1 88.4L385.7 87.5M385.1 87.1L385.7 87.5M385.1 87.1L383.9 86.6M385.1 72.8L385.2 72.7M385.1 72.8L385.7 72.7M385.2 72.7L385.7 72.7M385.2 72.7L384 72.7M385.4 69.7L386.1 69.1M385.6 80.4L385.6 80M385.6 80.4L386.1 80.3M385.6 80.4L385.8 79.8M385.6 80L385.8 79.8M385.6 80L385.7 79.6M385.6 76.8L384.6 76.6M385.7 88.6L385.7 87.5M385.7 88.6L385.8 89.8M385.7 79.6L385.8 79.8M385.7 79.6L385.6 80M385.7 79.6L386.3 79.7M385.7 72.7L385.1 72.8M385.7 72.7L386.6 73.3M385.8 78.9L385.7 79.6M385.8 78.9L385.8 79.8M385.8 78.9L386.3 79.7M385.8 79.8L386.3 79.7M385.8 89.8L386.2 89.7M385.8 89.8L386.4 90.3M385.8 89.8L385.7 88.6M385.8 82.6L385.9 82.9M385.8 82.6L386.6 82.8M385.8 82.6L386.6 82M385.9 84.7L386 85.2M385.9 84.7L386.3 83.8M385.9 84.7L386.3 85.6M385.9 68.1L386 68.6M385.9 68.1L386.4 68.8M385.9 68.1L386.1 69.1M385.9 82.9L386.6 82.8M385.9 82.9L386.3 83.8M386 68.6L386.4 68.8M386 68.6L386.1 69.1M386 66.6L386.3 66.4M386 66.6L386.7 66.6M386 85.2L386.3 85.6M386 85.2L385.9 84.7M386 85.2L386.2 86.1M386.1 80.3L385.8 79.8M386.1 69.1L386.4 68.8M386.1 69.1L386.8 69.4M386.2 89.7L385.8 89.8M386.2 89.7L386.4 90.3M386.2 92.5L386.8 92.8M386.2 86.1L386.3 85.6M386.2 86.1L386 85.2M386.2 86.1L385.9 84.7M386.3 83.8L385.9 82.9M386.3 83.8L385.9 84.7M386.3 83.8L386.6 82.8M386.3 79.7L386.1 80.3M386.3 85.6L386 85.2M386.3 85.6L385.9 84.7M386.4 68.8L386.1 69.1M386.4 68.8L386.9 68.4M386.4 90.3L387.1 90.8M386.6 82.8L386.6 82M386.6 82L386.6 82.8M386.6 94.8L386.8 94M386.6 94.8L386.7 96M386.6 94.8L386.8 92.8M386.6 73.3L387.4 73M386.6 73.3L385.7 72.7M386.8 69.4L386.1 69.1M386.8 69.4L387.7 69.3M386.8 94L386.6 94.8M386.8 94L386.8 92.8M386.8 92.8L387.4 91.6M386.9 68.4L386.4 68.8M387.1 90.8L387.4 91.6M387.1 90.8L386.4 90.3M387.3 84.1L388.5 83.7M387.4 77.6L387.6 77.6M387.4 77.6L387.8 78M387.4 77.6L387.4 79.3M387.4 73L388.7 73.7M387.4 73L388.1 74.4M387.5 70.2L387.7 69.3M387.5 70.2L386.8 69.4M387.5 70.2L388.2 71.1M387.5 71.4L387.7 71.4M387.5 71.4L388.2 71.1M387.5 71.4L388.3 71.3M387.6 88.8L388.6 88.3M387.6 88.8L386.4 90.3M387.6 77.6L387.8 78M387.7 71.4L388.2 71.1M387.7 71.4L388.3 71.3M387.7 69.3L388.6 69.3M387.7 69.3L386.8 69.4M388.1 74.4L388.7 73.7M388.1 74.4L388.5 75.2M388.1 74.4L389.5 74.3M388.2 71.1L388.3 71.3M388.5 75.2L388.9 76.4M388.5 75.2L389.5 74.3M388.6 69.3L389.2 69.1M388.7 73.7L389.5 74.3M388.7 73.7L389.4 72.6M389.4 72.6L389.6 72.5M389.4 72.6L390 72.1M389.4 72.6L389.9 71.9M389.5 74.3L390.4 74.9M389.6 72.5L390 72.1M389.6 72.5L389.9 71.9M389.9 71.9L390 72.1M389.9 71.9L390.2 71.7M389.9 71.9L389.6 72.5" stroke="#43524d" stroke-width="0.5" fill="none" stroke-linecap="round"/>
<path d="M328.8 123.9a4.3 4.3 0 1 0 8.5 0a4.3 4.3 0 1 0 -8.5 0M350.3 117.3a3 3 0 1 0 6 0a3 3 0 1 0 -6 0M321.8 92.6a2 2 0 1 0 4 0a2 2 0 1 0 -4 0M348.3 129.4a4 4 0 1 0 7.9 0a4 4 0 1 0 -7.9 0M336.9 108.3a2.5 2.5 0 1 0 5.1 0a2.5 2.5 0 1 0 -5.1 0M325.2 120.1a2.6 2.6 0 1 0 5.2 0a2.6 2.6 0 1 0 -5.2 0M343.6 98.8a3.6 3.6 0 1 0 7.1 0a3.6 3.6 0 1 0 -7.1 0M352.8 130.6a3 3 0 1 0 6.1 0a3 3 0 1 0 -6.1 0M319.9 93.6a2.8 2.8 0 1 0 5.5 0a2.8 2.8 0 1 0 -5.5 0M324 99.9a2.8 2.8 0 1 0 5.5 0a2.8 2.8 0 1 0 -5.5 0M332.1 108.7a4.3 4.3 0 1 0 8.5 0a4.3 4.3 0 1 0 -8.5 0M339.6 115a4.3 4.3 0 1 0 8.5 0a4.3 4.3 0 1 0 -8.5 0M324.6 104.6a2.5 2.5 0 1 0 5 0a2.5 2.5 0 1 0 -5 0M349.4 91a4.4 4.4 0 1 0 8.7 0a4.4 4.4 0 1 0 -8.7 0M328.9 126.1a4.5 4.5 0 1 0 9 0a4.5 4.5 0 1 0 -9 0M323.7 131.6a3 3 0 1 0 6 0a3 3 0 1 0 -6 0M319 98.6a3.6 3.6 0 1 0 7.2 0a3.6 3.6 0 1 0 -7.2 0M332.8 90.8a2.5 2.5 0 1 0 5 0a2.5 2.5 0 1 0 -5 0M320.1 92.6a4.1 4.1 0 1 0 8.1 0a4.1 4.1 0 1 0 -8.1 0M338.2 108.1a3.4 3.4 0 1 0 6.9 0a3.4 3.4 0 1 0 -6.9 0M334.8 127.7a3.4 3.4 0 1 0 6.7 0a3.4 3.4 0 1 0 -6.7 0M326.8 95.9a2.9 2.9 0 1 0 5.8 0a2.9 2.9 0 1 0 -5.8 0M343.4 92.3a2.8 2.8 0 1 0 5.7 0a2.8 2.8 0 1 0 -5.7 0M335.8 107.7a3.9 3.9 0 1 0 7.8 0a3.9 3.9 0 1 0 -7.8 0M346.5 103.4a2.3 2.3 0 1 0 4.6 0a2.3 2.3 0 1 0 -4.6 0M326.8 138a3.3 3.3 0 1 0 6.6 0a3.3 3.3 0 1 0 -6.6 0M349.9 126.4a3.8 3.8 0 1 0 7.5 0a3.8 3.8 0 1 0 -7.5 0M321.6 97.7a2.5 2.5 0 1 0 4.9 0a2.5 2.5 0 1 0 -4.9 0M343.2 127.3a4 4 0 1 0 8 0a4 4 0 1 0 -8 0M350.2 83.7a2.2 2.2 0 1 0 4.4 0a2.2 2.2 0 1 0 -4.4 0M343.4 108.8a3.3 3.3 0 1 0 6.7 0a3.3 3.3 0 1 0 -6.7 0M337.8 103.7a3.9 3.9 0 1 0 7.8 0a3.9 3.9 0 1 0 -7.8 0M350.7 131.7a2.6 2.6 0 1 0 5.2 0a2.6 2.6 0 1 0 -5.2 0M348.8 105.8a3.6 3.6 0 1 0 7.1 0a3.6 3.6 0 1 0 -7.1 0M329.4 124.3a3.5 3.5 0 1 0 7 0a3.5 3.5 0 1 0 -7 0M327.1 97.7a3.2 3.2 0 1 0 6.4 0a3.2 3.2 0 1 0 -6.4 0M337.3 116.4a2.9 2.9 0 1 0 5.8 0a2.9 2.9 0 1 0 -5.8 0M324.1 99.5a2.9 2.9 0 1 0 5.8 0a2.9 2.9 0 1 0 -5.8 0M355.7 112.9a2.4 2.4 0 1 0 4.8 0a2.4 2.4 0 1 0 -4.8 0M366.4 122.4a2.5 2.5 0 1 0 4.9 0a2.5 2.5 0 1 0 -4.9 0M377.7 110.5a3 3 0 1 0 6 0a3 3 0 1 0 -6 0M372.1 86.9a2.7 2.7 0 1 0 5.5 0a2.7 2.7 0 1 0 -5.5 0" stroke="#a3aaa7" stroke-width="0.4" fill="none"/>
<path d="M298.7 84.1h0M301.9 77.9h0M302.5 77.9h0M303.5 78.7h0M304.3 78.8h0M304.4 78.6h0M304.4 78.4h0M304.5 78.9h0M304.9 80.1h0M305.6 78.6h0M305.7 84h0M305.9 81.6h0M305.9 82.1h0M306.1 80.2h0M306.1 79.7h0M306.3 78.5h0M306.4 81.8h0M306.5 80.7h0M306.6 83.2h0M306.7 80.9h0M306.7 78.6h0M307.2 79.6h0M307.5 83.1h0M307.7 77.7h0M308 81.9h0M308 79.6h0M308.3 80.9h0M308.6 84.4h0M308.6 79.6h0M308.7 84h0M308.8 78h0M308.8 78.7h0M308.9 77.9h0M309 79h0M309 82.8h0M309.3 82.6h0M309.5 78.7h0M309.5 83.6h0M309.6 81h0M309.6 80.1h0M309.6 71.5h0M309.6 79.5h0M309.9 79.3h0M310 78.3h0M310.2 81.7h0M310.3 79.2h0M310.6 77.9h0M310.6 77.5h0M310.7 84.1h0M310.7 79.7h0M310.9 82.6h0M310.9 78.4h0M310.9 84h0M311 77.3h0M311 80.3h0M311.1 72.3h0M311.1 80.6h0M311.6 81.3h0M311.7 78.6h0M311.7 80h0M311.8 80.6h0M311.8 80.7h0M312 76.3h0M312 79.9h0M312 79.5h0M312.1 80.5h0M312.5 75.8h0M312.6 80.4h0M312.7 78.7h0M312.7 73.4h0M312.9 77.2h0M313 79.3h0M313 81h0M313 74.7h0M313.3 78.1h0M313.6 73.5h0M313.7 80.4h0M313.7 73.4h0M313.7 79.3h0M313.8 80.5h0M314.5 81.3h0M314.5 79.1h0M314.7 82.4h0M314.8 78h0M314.9 79.8h0M315.3 75.4h0M315.6 76.4h0M316.3 77h0M317.9 77.7h0M320.4 76.6h0M321.2 79h0M321.3 79.7h0M321.4 82.9h0M321.6 82.6h0M322.3 79.7h0M322.4 78.3h0M322.6 78.3h0M323.2 77.6h0M323.4 78.7h0M323.8 77.9h0M324.1 75.8h0M324.6 76.1h0M324.7 79.7h0M331.2 63.1h0M331.3 62.4h0M331.5 63.7h0M331.5 61.1h0M331.6 60.5h0M331.6 59.7h0M331.6 64.5h0M332.1 58.3h0M332.3 63h0M332.3 62.7h0M332.6 61.7h0M332.6 52.7h0M332.6 58h0M332.6 58.4h0M332.7 66.3h0M332.7 66.3h0M332.8 63.8h0M332.8 51.7h0M333.3 59.2h0M333.3 62.7h0M333.3 66.7h0M333.6 59.6h0M333.8 58.8h0M333.9 59.3h0M334.1 52.7h0M334.3 58h0M334.5 66.8h0M334.8 58.1h0M334.9 59.1h0M335 50.9h0M335 50.5h0M335.2 51.1h0M335.3 58.1h0M335.3 48.9h0M335.4 49.1h0M335.6 66.2h0M335.6 58.1h0M335.7 58.9h0M335.7 48.2h0M336.4 60.5h0M336.4 56.6h0M336.6 52.7h0M336.6 62h0M336.6 58.8h0M337.1 57.6h0M337.1 51.6h0M337.2 48.2h0M337.2 56.3h0M337.2 53.4h0M337.3 59.8h0M337.4 47.2h0M337.4 60.8h0M337.5 53.7h0M337.8 55.9h0M337.9 50h0M338 60.2h0M338 54.9h0M338.1 60.6h0M338.1 61.4h0M338.1 59.2h0M338.2 60.5h0M338.2 56.1h0M338.4 49.9h0M338.5 56.2h0M338.6 38.3h0M338.6 59.1h0M338.7 40.5h0M338.8 53.2h0M339 34.2h0M339.1 32.6h0M339.2 38.3h0M339.3 54.6h0M339.4 35.6h0M339.6 56.4h0M339.7 36.8h0M340.1 28.8h0M340.1 28.5h0M340.1 35.2h0M340.1 31.9h0M340.2 39.9h0M340.3 29.3h0M340.5 32h0M340.7 28.7h0M340.8 39.6h0M341 39.4h0M341 40.8h0M341.1 33.3h0M341.1 39.1h0M341.1 29.9h0M341.3 30.3h0M341.4 36.4h0M342.1 36.1h0M342.6 30.7h0M342.9 35.2h0M342.9 32.8h0M342.9 35.7h0M342.9 34.2h0M343 31.5h0M343.1 34.9h0M343.4 32.8h0M348 45.2h0M348.3 44.2h0M348.3 46.2h0M349.1 45.8h0M349.3 45.3h0M349.5 44.7h0M350.1 44.5h0M350.2 44.9h0M350.6 45.1h0M354.4 84.1h0M354.9 76.7h0M354.9 104.8h0M354.9 106.2h0M354.9 77.7h0M355 104.8h0M355 97.7h0M355 82.6h0M355.2 111.6h0M355.2 103.7h0M355.2 78.2h0M355.3 87.8h0M355.3 106.2h0M355.3 81.9h0M355.4 88.2h0M355.5 83h0M355.5 76.7h0M355.5 102.7h0M355.7 81.2h0M355.7 74.4h0M355.9 109.7h0M355.9 82.4h0M355.9 103.2h0M355.9 78.1h0M356 77.9h0M356.1 109h0M356.1 102.9h0M356.1 78.4h0M356.1 79.7h0M356.1 61.3h0M356.2 86.2h0M356.2 80.6h0M356.2 78.5h0M356.3 115.2h0M356.3 107.3h0M356.3 109.3h0M356.3 100.8h0M356.3 96.5h0M356.3 111.6h0M356.4 112.8h0M356.4 115.5h0M356.4 107.4h0M356.5 76.2h0M356.6 100.2h0M356.6 113.9h0M356.6 109.2h0M356.6 110.3h0M356.6 100.7h0M356.6 79.5h0M356.7 96.4h0M356.7 74.5h0M356.7 79.4h0M356.7 63.9h0M356.8 111.5h0M356.9 117.4h0M356.9 107.2h0M356.9 108.2h0M357 114.5h0M357 95.3h0M357 79.5h0M357 59.6h0M357.1 105h0M357.1 111.1h0M357.2 88.3h0M357.2 87.6h0M357.2 104.8h0M357.3 86.4h0M357.3 80.6h0M357.4 107.7h0M357.4 86.7h0M357.5 87.5h0M357.5 115.1h0M357.5 109.3h0M357.5 95.8h0M357.6 60.8h0M357.6 101.8h0M357.7 86.6h0M357.7 63.4h0M357.7 107.3h0M357.8 110.1h0M357.8 95.2h0M357.8 73.1h0M357.8 111.4h0M357.8 107.5h0M357.9 50.6h0M357.9 111.9h0M358 66.8h0M358 61.1h0M358 88.1h0M358 107.6h0M358.1 115.3h0M358.1 75.2h0M358.1 111.6h0M358.2 106.1h0M358.2 116.5h0M358.2 66.9h0M358.2 108.6h0M358.3 98.4h0M358.3 59.5h0M358.3 66.3h0M358.3 98.1h0M358.3 103.7h0M358.4 88.8h0M358.4 104.3h0M358.4 114.7h0M358.4 104.3h0M358.5 89.1h0M358.5 95.9h0M358.5 115.4h0M358.5 97.8h0M358.5 79.5h0M358.6 86.4h0M358.6 64.1h0M358.6 98h0M358.6 105.2h0M358.7 115.2h0M358.7 108h0M358.7 61.9h0M358.7 110.6h0M358.8 104.1h0M358.8 110.9h0M358.8 104.9h0M358.8 72.2h0M358.8 50.4h0M358.9 74.5h0M358.9 94.6h0M358.9 121.2h0M358.9 64.8h0M359 122h0M359 74.3h0M359 89.6h0M359 75.4h0M359 75.3h0M359 60.2h0M359.1 97.5h0M359.1 98.3h0M359.1 63.8h0M359.2 65.8h0M359.2 86.3h0M359.2 63h0M359.2 97.7h0M359.3 105.6h0M359.3 58.8h0M359.3 96.9h0M359.3 108.2h0M359.3 85.9h0M359.4 86h0M359.4 82.6h0M359.4 74.2h0M359.4 103.9h0M359.4 73.6h0M359.4 62.2h0M359.4 82.3h0M359.5 109.5h0M359.5 62.3h0M359.5 116.2h0M359.5 114.1h0M359.5 99.5h0M359.5 76.4h0M359.6 105.4h0M359.6 106.3h0M359.6 113.5h0M359.6 122.2h0M359.7 82.2h0M359.7 69.6h0M359.7 73.4h0M359.7 93.9h0M359.8 63.1h0M359.8 104.4h0M359.9 68.5h0M359.9 113.6h0M359.9 62.3h0M359.9 93.3h0M359.9 67.3h0M359.9 82.9h0M360 116.1h0M360 110.4h0M360 102.1h0M360 102.5h0M360 70.2h0M360 82.4h0M360.1 63.1h0M360.1 48.3h0M360.1 99.6h0M360.1 106.7h0M360.1 106.3h0M360.2 69h0M360.2 108.2h0M360.3 75.1h0M360.3 47.3h0M360.3 48.5h0M360.3 99.5h0M360.3 122.1h0M360.4 83.8h0M360.4 78.8h0M360.4 62.9h0M360.4 105.2h0M360.5 61.6h0M360.5 58.6h0M360.6 70h0M360.6 82.9h0M360.6 58.3h0M360.7 96.3h0M360.8 77.2h0M360.8 97.7h0M360.9 114.6h0M360.9 81.3h0M361 101.6h0M361 122.6h0M361 57.8h0M361 79.2h0M361 69.3h0M361 98.8h0M361 84.9h0M361 108.6h0M361.1 59.5h0M361.1 59.7h0M361.1 84.8h0M361.2 98.3h0M361.2 121.5h0M361.2 102h0M361.3 99.1h0M361.3 113.6h0M361.3 101.6h0M361.3 105.3h0M361.3 122.7h0M361.4 70.6h0M361.4 70.1h0M361.4 96h0M361.4 101.4h0M361.5 82.9h0M361.5 61.1h0M361.5 69.2h0M361.6 76h0M361.6 98.6h0M361.6 80.3h0M361.7 61.5h0M361.7 61.7h0M361.7 61.8h0M361.7 106.2h0M361.8 105.3h0M361.8 59.7h0M361.8 104.2h0M361.8 126.8h0M361.9 60.9h0M361.9 100.3h0M362 58.4h0M362 62.3h0M362.1 123.6h0M362.1 58.5h0M362.1 95h0M362.1 95h0M362.1 113.4h0M362.2 97h0M362.3 98.7h0M362.3 79.1h0M362.3 77.3h0M362.4 82.6h0M362.4 100.9h0M362.4 99.6h0M362.4 110.1h0M362.5 101.7h0M362.6 107.1h0M362.6 61.3h0M362.6 127.8h0M362.6 125h0M362.6 82.9h0M362.7 82.1h0M362.7 98.7h0M362.7 79.5h0M362.8 122.7h0M362.8 73.6h0M362.8 111.6h0M362.9 109.1h0M362.9 79.5h0M362.9 75.8h0M363 124.1h0M363 105.4h0M363 81.7h0M363.1 105.6h0M363.1 78.1h0M363.2 75.5h0M363.2 79.8h0M363.2 84.2h0M363.2 98.1h0M363.3 126.3h0M363.4 77.3h0M363.4 83h0M363.4 82.8h0M363.4 123.6h0M363.4 75.7h0M363.5 61.1h0M363.5 75.1h0M363.6 57.5h0M363.7 105.6h0M363.7 98.7h0M363.8 80h0M363.8 111.6h0M363.9 123.4h0M363.9 61.2h0M363.9 111.1h0M364 111.5h0M364 112.3h0M364.1 123.3h0M364.1 59.6h0M364.2 122.3h0M364.2 124.4h0M364.2 122.6h0M364.2 84.5h0M364.4 125h0M364.4 112.6h0M364.4 99.5h0M364.4 112.5h0M364.4 98.3h0M364.5 76.5h0M364.6 123.3h0M364.6 122.9h0M364.6 79h0M364.6 60.8h0M364.8 120.7h0M364.8 58.5h0M364.9 96.6h0M364.9 97.6h0M365 113.5h0M365 113.5h0M365 125.7h0M365 121.5h0M365 60.7h0M365 76.7h0M365 96.1h0M365.1 129.9h0M365.1 112h0M365.2 125.4h0M365.2 61.6h0M365.2 106h0M365.3 120.2h0M365.3 98h0M365.3 77.2h0M365.4 124h0M365.5 63.3h0M365.5 77.9h0M365.5 61.8h0M365.6 121h0M365.6 98.5h0M365.6 100.4h0M365.7 98.4h0M365.7 60.4h0M365.7 100.6h0M365.9 61.6h0M366.1 120.1h0M366.1 61.1h0M366.2 60.9h0M366.2 129.3h0M366.4 85.2h0M366.4 99.8h0M366.4 60.8h0M366.4 63.9h0M366.5 128.1h0M366.5 121.5h0M366.5 77.1h0M366.5 99.9h0M366.6 126.8h0M366.6 85.5h0M366.6 121.7h0M366.7 85.6h0M366.7 89.7h0M366.7 131.5h0M366.8 127.7h0M366.8 123.2h0M366.8 64.5h0M366.9 62.3h0M366.9 86.5h0M366.9 125.1h0M366.9 86.2h0M367 78h0M367 85.4h0M367 131.8h0M367 132.5h0M367.1 122.4h0M367.2 121.4h0M367.2 123.3h0M367.3 84.8h0M367.3 99.7h0M367.3 120.5h0M367.3 76.5h0M367.3 129.1h0M367.4 84.7h0M367.4 87.2h0M367.4 112.9h0M367.4 112.3h0M367.5 63.2h0M367.5 131.5h0M367.5 100h0M367.6 84.4h0M367.6 119.1h0M367.6 118.9h0M367.7 112.2h0M367.8 120.1h0M367.8 128.2h0M367.8 88.2h0M367.8 87h0M367.8 118.8h0M367.8 84h0M367.9 84h0M367.9 90.1h0M368 88h0M368 86.2h0M368 101.2h0M368.1 78.3h0M368.1 90.4h0M368.1 130.2h0M368.1 129.7h0M368.2 101.8h0M368.2 119.9h0M368.2 101.6h0M368.2 118.7h0M368.2 84.9h0M368.2 76.6h0M368.3 83.5h0M368.4 85.1h0M368.4 120.9h0M368.4 127.3h0M368.4 83.7h0M368.5 84.2h0M368.5 71.9h0M368.5 129.8h0M368.5 62.6h0M368.6 101.1h0M368.6 127.6h0M368.6 120.6h0M368.6 83.5h0M368.7 86.1h0M368.7 85.8h0M368.7 89h0M368.7 88.8h0M368.8 119.4h0M368.8 84.8h0M368.9 128.6h0M368.9 88.4h0M368.9 135.6h0M368.9 70.4h0M369 118.1h0M369 81.8h0M369 85.7h0M369 89h0M369 118h0M369.1 75.7h0M369.1 85.7h0M369.1 87.4h0M369.1 79.5h0M369.2 117.9h0M369.2 90.6h0M369.2 89h0M369.2 82.5h0M369.3 130.9h0M369.3 134.2h0M369.4 101.5h0M369.4 118.3h0M369.5 91h0M369.6 119.8h0M369.6 128.8h0M369.6 136.9h0M369.6 118.4h0M369.6 71.2h0M369.6 88.9h0M369.7 120h0M369.7 82.9h0M369.7 98h0M369.7 70h0M369.8 119.3h0M369.9 87.7h0M369.9 86.9h0M369.9 73.8h0M369.9 70.4h0M369.9 120h0M369.9 108h0M369.9 79.5h0M369.9 91.8h0M370 80.1h0M370 69.4h0M370 84h0M370.1 88.1h0M370.1 130.4h0M370.2 117.3h0M370.2 76h0M370.2 117.2h0M370.2 98.2h0M370.3 109h0M370.3 119.5h0M370.3 118.8h0M370.3 127.6h0M370.3 65.1h0M370.3 89.1h0M370.4 67.3h0M370.4 118.1h0M370.4 92.5h0M370.4 93.5h0M370.4 93.1h0M370.4 72.4h0M370.5 136.2h0M370.5 109.2h0M370.6 97.9h0M370.6 72.5h0M370.6 134.2h0M370.6 72h0M370.7 94.1h0M370.7 109.6h0M370.7 134.1h0M370.8 131.7h0M370.8 110.6h0M370.8 130.4h0M370.9 70.6h0M370.9 74.4h0M371 84.3h0M371 101.9h0M371.1 92.5h0M371.1 66.7h0M371.1 118.9h0M371.1 85.4h0M371.1 69h0M371.2 73.1h0M371.2 99.5h0M371.2 70.4h0M371.2 97.5h0M371.2 131.3h0M371.2 65.7h0M371.3 135.1h0M371.3 90.2h0M371.3 136.4h0M371.3 135.9h0M371.3 82.5h0M371.3 107.6h0M371.4 118.1h0M371.4 64.2h0M371.4 91.1h0M371.5 108.3h0M371.5 98.4h0M371.5 108.9h0M371.6 136.2h0M371.6 96.5h0M371.6 131.4h0M371.6 130.3h0M371.6 91.4h0M371.7 97.6h0M371.8 129.6h0M371.8 92.2h0M371.8 84.2h0M371.8 131.1h0M371.8 108.4h0M371.8 77h0M371.9 127.2h0M371.9 92.1h0M371.9 85.7h0M372 100.6h0M372 96.6h0M372 135h0M372.1 102.3h0M372.1 85.9h0M372.2 88.8h0M372.2 98.2h0M372.2 128.1h0M372.3 95h0M372.3 74.5h0M372.3 134.4h0M372.3 85.5h0M372.3 83.3h0M372.3 90.8h0M372.3 90.5h0M372.3 127.1h0M372.4 98.4h0M372.4 119.7h0M372.4 98.4h0M372.4 82.8h0M372.5 132h0M372.5 136.8h0M372.5 69.1h0M372.6 90.1h0M372.6 96.4h0M372.6 85.9h0M372.6 86.2h0M372.7 90.2h0M372.7 82.5h0M372.7 73.1h0M372.8 99.4h0M372.8 131.3h0M372.8 64.6h0M372.8 96.3h0M372.8 74.6h0M372.8 137.1h0M372.9 97h0M373 73.4h0M373 118.4h0M373 94.4h0M373 117h0M373.1 134.8h0M373.1 87.3h0M373.1 135h0M373.1 119.6h0M373.1 100.2h0M373.1 137.7h0M373.2 96.1h0M373.2 129.5h0M373.2 75h0M373.2 91.3h0M373.3 94.1h0M373.3 129.3h0M373.4 79.5h0M373.4 80h0M373.5 134.7h0M373.5 100.7h0M373.5 121.8h0M373.6 94h0M373.6 135.4h0M373.6 89.8h0M373.6 129.8h0M373.6 102.7h0M373.6 69.4h0M373.6 120.9h0M373.6 95.2h0M373.6 74.6h0M373.6 75.5h0M373.6 88.6h0M373.7 94.7h0M373.7 79.7h0M373.7 77.2h0M373.7 80.1h0M373.7 119.1h0M373.7 80.4h0M373.8 102.3h0M373.8 84.5h0M373.8 102.2h0M373.8 84.2h0M373.8 90.3h0M373.9 100.7h0M373.9 122.1h0M373.9 119h0M374 102.1h0M374 94h0M374 102.8h0M374 102.6h0M374 89.1h0M374 86.4h0M374 100.4h0M374 119h0M374.1 100.7h0M374.1 134h0M374.1 94.5h0M374.1 79.7h0M374.1 83.9h0M374.1 91.1h0M374.1 93.5h0M374.2 133.4h0M374.2 124.7h0M374.2 89.6h0M374.2 86.8h0M374.3 86.2h0M374.3 134h0M374.3 137.2h0M374.3 78h0M374.3 97.8h0M374.3 133.9h0M374.4 118.1h0M374.4 74.5h0M374.4 123.3h0M374.5 122.4h0M374.5 79.8h0M374.5 121.1h0M374.5 83h0M374.5 95.9h0M374.6 94.7h0M374.6 117.3h0M374.6 76.2h0M374.6 135.8h0M374.7 82.2h0M374.7 135h0M374.7 86.8h0M374.7 88.9h0M374.8 86h0M374.8 121.2h0M374.8 96.4h0M374.8 90.4h0M374.8 86.3h0M374.8 117.5h0M374.9 94.1h0M374.9 81.1h0M374.9 117.5h0M374.9 94.6h0M374.9 78h0M374.9 120h0M375 84.9h0M375 101.7h0M375 134.8h0M375 91.6h0M375.1 87.3h0M375.1 120.4h0M375.1 132.1h0M375.1 123.4h0M375.1 81.1h0M375.1 85.1h0M375.1 75.2h0M375.2 91.1h0M375.2 100.9h0M375.2 77.6h0M375.2 120h0M375.2 95.8h0M375.3 99.2h0M375.3 76.3h0M375.4 94.4h0M375.4 101.9h0M375.4 82.8h0M375.4 94.6h0M375.4 77.5h0M375.5 70.5h0M375.5 98h0M375.5 106h0M375.5 120.4h0M375.6 117.9h0M375.7 88h0M375.7 79.1h0M375.7 90.4h0M375.7 79.8h0M375.7 90.4h0M375.7 79.5h0M375.8 98.7h0M375.8 87.9h0M375.9 104.9h0M375.9 79.6h0M375.9 88.3h0M375.9 95.2h0M376 85.3h0M376 78.2h0M376 79.9h0M376 84.4h0M376.1 117h0M376.1 117.9h0M376.2 101.8h0M376.2 88.6h0M376.2 95h0M376.2 86.3h0M376.3 119.7h0M376.3 122.7h0M376.3 98.9h0M376.3 71.1h0M376.3 87.8h0M376.3 84.2h0M376.4 80.4h0M376.4 119.5h0M376.4 85.7h0M376.4 78.2h0M376.4 100.9h0M376.4 117.8h0M376.5 117h0M376.5 89.3h0M376.5 106.2h0M376.5 88.2h0M376.5 79.8h0M376.5 87.4h0M376.5 89.2h0M376.6 100h0M376.6 102.5h0M376.6 118.5h0M376.6 98.1h0M376.6 79.9h0M376.6 106h0M376.7 81.8h0M376.7 101.9h0M376.7 99.9h0M376.7 96.7h0M376.8 96.3h0M376.8 106.1h0M376.8 78.5h0M376.8 117h0M376.9 118h0M377 125.6h0M377.1 72.4h0M377.1 72.6h0M377.2 104.8h0M377.2 117.6h0M377.2 77.6h0M377.2 86.2h0M377.3 103.9h0M377.4 116.8h0M377.4 111.4h0M377.4 105.2h0M377.4 105h0M377.5 124.2h0M377.5 111.4h0M377.5 107.2h0M377.6 71.3h0M377.6 117.2h0M377.8 72.1h0M377.8 66.8h0M377.8 116.3h0M377.8 102.5h0M377.9 118.1h0M378 96.6h0M378 110.3h0M378 86.3h0M378.1 81.3h0M378.2 79.6h0M378.2 96h0M378.2 117.8h0M378.2 79.1h0M378.3 110.8h0M378.3 72.9h0M378.5 118h0M378.5 79.9h0M378.6 115.8h0M378.7 68.6h0M378.7 122.2h0M378.7 117.6h0M378.7 116.9h0M378.9 80.2h0M378.9 88.4h0M378.9 113.7h0M379 79.8h0M379 106.8h0M379.1 67.4h0M379.2 76.7h0M379.3 121.7h0M379.3 80.5h0M379.4 89.4h0M379.4 111.4h0M379.4 76.3h0M379.4 118.6h0M379.4 86h0M379.4 80.4h0M379.5 116.8h0M379.5 77.2h0M379.6 111.4h0M379.6 116h0M379.6 89.2h0M379.7 75.6h0M379.7 113h0M379.7 88.4h0M379.7 113.3h0M379.8 77h0M379.8 112.9h0M379.8 80h0M379.9 67.2h0M379.9 115h0M379.9 90h0M379.9 117.5h0M379.9 111.2h0M379.9 111.1h0M380 75.3h0M380 78.5h0M380 116.1h0M380.1 81.5h0M380.1 74.2h0M380.1 86.2h0M380.2 115.2h0M380.2 88.2h0M380.3 87.8h0M380.4 82.2h0M380.4 88.4h0M380.4 86.6h0M380.5 89.1h0M380.5 86.6h0M380.5 88.7h0M380.5 86.5h0M380.5 86.8h0M380.5 84.8h0M380.6 76h0M380.7 94.9h0M380.7 80.3h0M380.8 88.9h0M380.8 77.2h0M380.8 78.1h0M380.8 113.1h0M380.9 82.7h0M380.9 73h0M381 111.7h0M381 88.5h0M381 118h0M381 95.7h0M381 86.2h0M381.1 76.2h0M381.1 119.4h0M381.1 83.4h0M381.2 114.4h0M381.2 79.6h0M381.2 80.3h0M381.3 72.5h0M381.3 82.5h0M381.3 81.3h0M381.3 88.1h0M381.3 95.4h0M381.4 85.3h0M381.5 88.4h0M381.5 81.1h0M381.6 72h0M381.7 82h0M381.8 85.1h0M381.8 78.3h0M381.8 71.8h0M381.9 71.6h0M381.9 87.5h0M382 82.5h0M382.1 66.6h0M382.1 83.5h0M382.1 71.1h0M382.1 81.9h0M382.2 86.5h0M382.3 72.3h0M382.4 116h0M382.5 87.4h0M382.5 87.9h0M382.6 86.1h0M382.6 83.9h0M382.7 84.9h0M382.7 108.4h0M382.7 87.8h0M382.8 79.1h0M382.9 100.5h0M382.9 86.7h0M382.9 77.7h0M382.9 108.2h0M383 112.6h0M383 85.5h0M383 84.8h0M383.2 84h0M383.2 83.6h0M383.3 89.6h0M383.3 90.7h0M383.3 88.9h0M383.4 71.1h0M383.4 67h0M383.4 90h0M383.4 110.7h0M383.4 70.1h0M383.4 105.9h0M383.5 86.7h0M383.5 69.6h0M383.6 86.3h0M383.7 79.3h0M383.8 92.9h0M383.8 76.7h0M383.8 85.3h0M383.8 79.2h0M383.8 66h0M383.9 77.6h0M383.9 86.6h0M384 83.6h0M384 68.4h0M384 78.5h0M384 72.7h0M384 80.3h0M384.1 68.3h0M384.2 67.7h0M384.2 76.9h0M384.2 101.1h0M384.3 90.8h0M384.4 71.5h0M384.4 70.1h0M384.5 68.7h0M384.5 71.7h0M384.6 81.6h0M384.6 79.6h0M384.6 76.6h0M384.7 70.1h0M384.8 79.9h0M384.8 81.5h0M384.8 92.6h0M384.8 85.7h0M384.8 87.6h0M384.8 92.2h0M384.8 83.3h0M384.9 77h0M384.9 85.4h0M384.9 70.2h0M384.9 68.2h0M384.9 68.3h0M385 66.1h0M385 90.8h0M385.1 88.4h0M385.1 87.1h0M385.1 72.8h0M385.2 72.7h0M385.4 69.7h0M385.6 80.4h0M385.6 80h0M385.6 76.8h0M385.7 88.6h0M385.7 79.6h0M385.7 87.5h0M385.7 72.7h0M385.8 78.9h0M385.8 79.8h0M385.8 89.8h0M385.8 82.6h0M385.9 84.7h0M385.9 68.1h0M385.9 82.9h0M386 68.6h0M386 66.6h0M386 85.2h0M386.1 80.3h0M386.1 69.1h0M386.2 89.7h0M386.2 92.5h0M386.2 86.1h0M386.3 83.8h0M386.3 79.7h0M386.3 85.6h0M386.4 68.8h0M386.4 90.3h0M386.6 82.8h0M386.6 82h0M386.6 94.8h0M386.6 73.3h0M386.8 69.4h0M386.8 94h0M386.8 92.8h0M386.9 68.4h0M387.1 90.8h0M387.1 67.1h0M387.3 84.1h0M387.4 91.6h0M387.4 77.6h0M387.4 73h0M387.5 70.2h0M387.5 71.4h0M387.6 88.8h0M387.6 77.6h0M387.7 71.4h0M387.7 69.3h0M388.1 74.4h0M388.2 71.1h0M388.3 71.3h0M388.5 75.2h0M388.6 69.3h0M388.7 73.7h0M389.4 72.6h0M389.5 74.3h0M389.6 72.5h0M389.9 71.9h0" stroke="#2a3833" stroke-width="1.15" stroke-linecap="round" fill="none"/>
<path d="M286.9 87.4h0M287.6 89.1h0M288.2 88.2h0M288.3 87.7h0M288.8 88.2h0M289 86.5h0M289.4 88.3h0M289.4 85.3h0M289.5 86.9h0M290.4 88.9h0M291.4 88.9h0M292 86.6h0M292.4 83h0M292.5 83.2h0M292.7 80.4h0M293.2 86.7h0M293.3 81.7h0M293.8 84h0M293.8 89.5h0M294.2 87.6h0M294.6 86.1h0M294.8 81h0M295.1 81.4h0M295.1 80.6h0M295.5 87.3h0M297 82.6h0M297.2 76.5h0M297.4 86.7h0M297.5 81.4h0M297.6 80.5h0M298.7 85.7h0M298.8 87.5h0M299.7 80.3h0M299.9 86.5h0M300 78.3h0M300.7 78.5h0M300.8 72.7h0M300.8 75.8h0M301 79.9h0M301.6 75.4h0M302.7 87h0M303.8 87.1h0M305.2 91.4h0M305.9 86h0M306.4 69.7h0M306.5 86.1h0M306.7 91.8h0M306.9 85.4h0M307.2 87.2h0M307.4 85.4h0M308.1 85.6h0M308.3 86.9h0M310 69.8h0M311.5 67.8h0M312.1 84.2h0M312.1 69.7h0M312.3 84.7h0M313.7 84.3h0M313.8 83.3h0M314 83.7h0M314.5 82.7h0M314.7 71.9h0M314.8 71.4h0M315.7 84.8h0M315.7 73.8h0M315.9 72.2h0M316.3 69.8h0M316.3 73.9h0M316.4 74h0M316.5 69.2h0M316.8 76h0M317.1 75.7h0M317.1 86.7h0M317.9 74.9h0M318.3 73.7h0M318.5 86.5h0M318.5 74.9h0M319.5 73.7h0M319.6 88.1h0M320 76.1h0M321 91.4h0M321 75.5h0M321.3 115.4h0M321.5 83.3h0M321.7 71.4h0M321.7 70.9h0M321.9 74.7h0M321.9 83.2h0M322.2 96.5h0M322.4 124.1h0M322.6 73.8h0M324.1 96.8h0M324.6 127.6h0M324.6 129.3h0M324.7 101.7h0M324.8 102.7h0M324.8 141.7h0M325 66.6h0M325.1 99.9h0M325.2 88.2h0M325.3 82h0M325.4 81.1h0M325.5 110.5h0M325.8 141.5h0M325.9 73.7h0M325.9 80.1h0M326 101.1h0M326 102.6h0M326 107.7h0M326.1 83.8h0M326.2 79.5h0M326.7 99.7h0M326.9 74.8h0M327 139.8h0M327 111.6h0M327.3 64h0M327.8 100.6h0M327.8 88.6h0M328 76.6h0M328.4 114.8h0M328.4 74.5h0M328.4 74.7h0M328.6 81.3h0M328.7 68.7h0M328.7 95.7h0M328.8 56.7h0M329.2 123.6h0M329.2 133.9h0M329.3 130.9h0M329.7 45.2h0M329.9 91.8h0M329.9 105.9h0M330 125.4h0M330.1 63.9h0M330.1 100.7h0M330.2 63.5h0M330.2 68.6h0M330.2 100h0M330.3 78.3h0M330.3 130.8h0M330.3 64.3h0M330.3 135.7h0M330.4 89.6h0M330.4 73.7h0M330.4 129.8h0M330.6 97h0M330.6 76.2h0M330.6 48.3h0M330.6 110.9h0M330.8 61.6h0M330.9 116.2h0M331 136.1h0M331 60.4h0M331.2 92.5h0M331.2 100.3h0M331.8 124.4h0M332 73.4h0M332.2 133.9h0M332.4 67.5h0M332.7 96.8h0M332.8 134.5h0M332.9 110h0M332.9 81.5h0M333.1 131.1h0M333.2 134.7h0M333.2 138.6h0M333.3 131.7h0M333.3 139.8h0M333.3 114.5h0M333.3 133.9h0M333.5 124.1h0M333.5 136.2h0M333.5 46.1h0M333.6 133h0M333.6 134.2h0M333.8 34.6h0M334 138.9h0M334.2 46.9h0M334.4 118.9h0M334.5 140h0M334.6 137.5h0M334.9 35.3h0M334.9 117.3h0M334.9 106.6h0M335 108.8h0M335 139.2h0M335 66.9h0M335.1 38.5h0M335.1 113.5h0M335.2 115.2h0M335.2 96.3h0M335.2 67.2h0M335.2 45.4h0M335.2 127.1h0M335.3 138.4h0M335.3 129.7h0M335.3 122.5h0M335.6 66.4h0M335.7 68.1h0M335.8 116.9h0M335.9 120.8h0M336 114.4h0M336.1 126.2h0M336.1 44.4h0M336.3 117.6h0M336.3 109.9h0M336.4 131.9h0M336.5 30h0M336.6 41.3h0M336.7 35.6h0M336.7 125.8h0M336.8 43.9h0M337.1 115h0M337.3 40.1h0M337.3 31.8h0M337.4 83.9h0M337.5 64.1h0M337.5 76.3h0M337.5 46h0M337.6 42.3h0M337.7 116.3h0M337.7 44.3h0M337.7 27.1h0M337.8 64.7h0M337.9 31.7h0M338 87.2h0M338.1 65h0M338.1 128.2h0M338.1 104.9h0M338.1 91.8h0M338.2 124.2h0M338.2 84.8h0M338.3 127.8h0M338.3 45.8h0M338.4 42.9h0M338.4 44.4h0M338.4 97.6h0M338.4 108.1h0M338.5 118.5h0M338.5 130.2h0M338.6 138.6h0M338.6 135.7h0M338.7 44.7h0M338.7 114.8h0M338.8 27.3h0M338.8 65.5h0M338.8 124.7h0M338.9 115.5h0M339 61.2h0M339.1 44.7h0M339.1 84.2h0M339.3 116.5h0M339.3 60.3h0M339.4 64.1h0M339.4 109.2h0M339.4 45.2h0M339.7 60.8h0M339.8 50.7h0M339.9 47.6h0M339.9 89.8h0M339.9 119.5h0M340 64.6h0M340.1 144.2h0M340.1 138h0M340.1 51.3h0M340.1 89.7h0M340.2 110.7h0M340.3 83.7h0M340.3 56.8h0M340.4 59.2h0M340.5 49.7h0M340.7 91.7h0M340.7 44.7h0M340.7 44.7h0M340.9 142.8h0M341 88.8h0M341 53.3h0M341.1 132.6h0M341.2 85.4h0M341.2 87.8h0M341.6 133.6h0M341.6 40.7h0M341.6 50.3h0M341.7 131.8h0M341.8 44.7h0M341.9 138.6h0M341.9 114.9h0M342 111.8h0M342.3 44.3h0M342.4 92.3h0M342.4 88.2h0M342.5 140.4h0M342.6 26.5h0M342.6 28.8h0M342.6 42.8h0M342.7 37.2h0M342.7 57.2h0M342.8 132.1h0M343 135.6h0M343.1 43.1h0M343.2 100.4h0M343.4 27.8h0M343.4 136.2h0M343.5 120.6h0M343.6 50.3h0M343.7 31.2h0M343.8 86.6h0M343.8 42.6h0M343.9 47.2h0M343.9 129.8h0M344.2 33.1h0M344.2 31.8h0M344.2 119h0M344.3 130h0M344.3 102.5h0M344.5 86.6h0M344.5 32.7h0M344.6 97.8h0M344.6 86.6h0M344.6 44h0M344.6 115h0M344.8 32.1h0M344.9 37.2h0M344.9 111.7h0M345.6 43.8h0M345.6 42.1h0M345.6 135.3h0M345.7 112.2h0M345.8 53h0M345.8 88.4h0M345.8 64.5h0M345.9 44.8h0M346.1 42.9h0M346.4 113.4h0M346.4 132.7h0M346.5 78.4h0M346.5 110.5h0M346.6 94.3h0M346.6 101.4h0M346.7 137.3h0M346.7 130.8h0M346.8 41.9h0M346.8 100.9h0M346.8 131.9h0M347.1 118.4h0M347.2 125.3h0M347.2 142.8h0M347.4 129.7h0M347.5 87.4h0M347.6 41.8h0M347.6 102.3h0M347.7 40.7h0M347.8 108.1h0M347.9 47.7h0M347.9 34.9h0M347.9 135.2h0M348 42.9h0M348 90.7h0M348.1 133.5h0M348.2 101.3h0M348.2 90.2h0M349 114.4h0M349 142.5h0M349.1 102.4h0M349.1 134.7h0M349.1 106.8h0M349.2 136.5h0M349.3 42.3h0M349.4 98.3h0M349.4 41.6h0M349.6 133.2h0M349.6 143h0M349.9 83.4h0M349.9 75.9h0M349.9 130.7h0M350.1 58.5h0M350.1 47.6h0M350.6 60.2h0M350.7 115.3h0M350.7 99.3h0M350.8 102.7h0M350.8 100.9h0M350.8 51.5h0M350.8 135.3h0M350.9 81.6h0M350.9 140.3h0M351 83h0M351 42.2h0M351 70.8h0M351.1 43.4h0M351.2 122.3h0M351.2 84.8h0M351.3 103.5h0M351.3 139.4h0M351.5 117h0M351.5 70.6h0M351.6 110.9h0M351.7 133h0M351.7 135.7h0M351.7 133.5h0M351.8 85.7h0M351.9 99.8h0M351.9 73.1h0M352.1 129.9h0M352.1 89.1h0M352.1 93.5h0M352.1 110.1h0M352.2 43.1h0M352.2 104.5h0M352.3 74.8h0M352.3 137.9h0M352.3 73.6h0M352.4 67.2h0M352.4 118.4h0M352.5 75.7h0M352.5 65.8h0M352.6 49.1h0M352.6 135.6h0M352.7 65.9h0M352.7 135.2h0M352.7 56.7h0M352.8 104.7h0M352.8 87h0M352.8 90.4h0M352.9 112.5h0M353 132.2h0M353 41.7h0M353.1 62h0M353.2 49.8h0M353.2 85.2h0M353.3 111.7h0M353.3 78.9h0M353.3 75.5h0M353.3 102.7h0M353.3 124.9h0M353.5 119.1h0M353.6 90.3h0M353.6 87.8h0M353.6 65.2h0M353.7 97.3h0M353.8 107.7h0M353.8 91.1h0M353.9 59.7h0M354.2 132.1h0M354.2 86.5h0M354.3 113.4h0M354.3 120.3h0M354.3 73.9h0M354.3 99.9h0M354.4 67.2h0M354.5 91.1h0M354.5 62.3h0M354.6 96.2h0M354.6 120.8h0M354.7 63.4h0M354.7 127.2h0M354.8 71.3h0M354.8 57.5h0M354.9 49.3h0M355.1 51.5h0M355.1 71h0M355.1 61.4h0M355.2 63.8h0M355.2 132.8h0M355.4 71.5h0M355.4 136.9h0M355.5 118.7h0M355.5 71.5h0M355.7 137.8h0M355.8 134.8h0M355.9 50.2h0M356.1 50.4h0M356.1 70.8h0M356.3 125.1h0M356.3 72h0M356.3 130.2h0M356.3 70.3h0M356.4 124.8h0M356.4 124.3h0M356.4 128.3h0M356.6 134.4h0M356.6 128.9h0M356.7 55.3h0M356.8 51.2h0M357.1 139h0M357.4 71.2h0M357.4 135.7h0M357.4 71.4h0M357.4 72.6h0M357.5 141.8h0M358 69.9h0M358.2 122.7h0M358.3 51.2h0M358.3 123h0M358.4 122.9h0M358.6 122.1h0M358.7 69.6h0M358.8 70.7h0M359 39.3h0M359.4 128.9h0M359.4 53.8h0M359.5 135h0M359.7 125.2h0M359.8 53.4h0M359.9 140.6h0M360 125.1h0M360 125.5h0M360 131.8h0M360.4 125.1h0M360.7 131.6h0M360.9 47.1h0M361 46.2h0M361 56.6h0M361.8 55.6h0M361.9 37h0M362 128.4h0M362.1 50.8h0M362.1 56.2h0M362.2 130.2h0M362.2 48.1h0M362.3 134.9h0M362.5 131.2h0M362.8 56.2h0M362.8 55.8h0M363 55.7h0M363.1 43.6h0M363.5 56h0M363.8 129.6h0M363.9 137h0M364.3 56.2h0M364.4 51.9h0M364.8 57.4h0M366.1 132.6h0M366.8 46h0M367 59.3h0M367.2 134.2h0M367.4 137.6h0M367.8 138.8h0M367.8 57.9h0M367.9 59.6h0M368 60.5h0M368.2 135.8h0M368.3 57.3h0M368.9 60.7h0M369.2 139.1h0M369.5 143.9h0M369.6 138.8h0M370 140h0M370 57.8h0M370.5 139.6h0M373.4 62.9h0M373.8 142.8h0M374.4 63.6h0M374.7 142.2h0M375.5 62.6h0M376 60.9h0M376.2 131.6h0M376.5 128.4h0M377.5 132.2h0M377.5 61h0M377.7 128h0M377.9 127.8h0M378.1 129.3h0M378.1 124.5h0M378.3 124.3h0M378.3 66.1h0M378.3 130.7h0M378.6 63.9h0M378.9 65.4h0M378.9 126.1h0M379.2 122.2h0M379.9 65.7h0M379.9 64.8h0M379.9 124.2h0M380.1 122.9h0M380.2 132.8h0M380.9 62.7h0M381 125.1h0M381.3 122.9h0M381.5 65.7h0M381.5 64.9h0M381.6 61.9h0M381.6 125.4h0M382 64.6h0M382.3 118.1h0M382.5 116.8h0M382.7 61.7h0M383.1 119.8h0M383.1 115.5h0M383.2 115.9h0M383.6 117.4h0M383.9 64h0M383.9 106h0M384 110.4h0M384 110.2h0M384 114h0M384 108.5h0M384.1 112.6h0M384.1 107.6h0M384.2 65.5h0M384.4 64.5h0M384.4 112.8h0M384.7 108.5h0M384.7 112.6h0M384.7 101.3h0M384.8 115.4h0M385 112.3h0M385 65.1h0M385.3 104.1h0M385.5 65.6h0M385.7 115.6h0M385.7 114h0M385.8 101.2h0M385.8 103.2h0M385.9 64.1h0M386.3 66.4h0M386.7 96h0M386.7 66.6h0M387.4 79.3h0M387.4 119.6h0M387.7 99.3h0M387.8 99.8h0M387.8 78h0M388 102.8h0M388.3 101.9h0M388.5 68.1h0M388.5 83.7h0M388.6 103.2h0M388.6 95.5h0M388.6 88.3h0M388.9 76.4h0M389 80.3h0M389 99h0M389.1 91.9h0M389.1 97.6h0M389.2 80.8h0M389.2 85.9h0M389.2 69.1h0M389.4 87.8h0M389.6 84.5h0M389.8 96.8h0M390 72.1h0M390 65h0M390 82.2h0M390.2 71.7h0M390.3 68.6h0M390.4 74.9h0M390.9 73.3h0M390.9 84.8h0M391 84h0M391.8 88.3h0M391.8 62h0" stroke="#55625d" stroke-width="0.9" stroke-linecap="round" fill="none"/>
<rect x="44.3" y="375.8" width="130.3" height="51" fill="#fff" stroke="#555" stroke-width="0.9"/>
<path d="M44.3 399.3H174.6" stroke="#555" stroke-width="0.9"/>
<path d="M49.4 391.7 L51.1 391.5 L52.9 391.5 L52.9 390.1 L52.9 387.5M56.2 380.3 L58 380.4 L59.7 380.3 L61.5 380.2M62 391.7 L63.7 392 L65.3 391.9 L67 391.8M67 392.6 L68.5 392.8 L70 393.3 L71.5 392.8 L73 392.5 L75.5 393.6 L77.7 394.5M79 393.9 L80.5 393.8 L82 394.7 L84.4 395.8M88.5 378.1 L90 379.1 L91.2 381.5M91.5 385.9 L91.8 386.6 L92.2 388.9 L92.5 390.3 L92.8 391.4 L93.2 393.6 L93.5 395M93.8 377.7 L96 378.1 L97.9 380M97.9 379 L99.2 379.8 L100.6 381.5M100.6 383.4 L101.3 385.2 L102 387.5 L102.8 388.6 L103.5 391M104.6 394.8 L106.3 396 L108 396.9 L110 396.3 L112 396.9 L114 397.5 L116 397.6 L117.6 397.2 L119.2 397.4 L120.8 397M120.8 394.7 L122.4 394.3 L124 393.5 L125.6 393 L127.2 392.2 L128.8 392.3M128.8 393.1 L129.9 392.2 L131 391.2 L132.5 390.4 L134 390.2 L135.5 389 L137 388M138.3 395.4 L139.7 394.2 L141 392.8 L142.2 391.1 L143.5 389.6 L144.9 388 L146.4 387M147.7 394.1 L148.6 392.2 L149.5 390.3 L150.2 388.1 L151 387.2 L153 385.6M154.4 392.8 L156.2 393.1 L158 392.4 L159.6 391.8 L161.2 391M162.5 389.7 L164 387.4 L165.2 385.6M163.9 385.9 L165.2 385 L166.5 383.2 L167.8 382.4 L169.2 381.5M163 393.7 L164.2 392.7 L165.5 391.4 L166.7 390.5 L167.9 389.6" stroke="#0d0d0d" stroke-width="2.3" fill="none" stroke-linecap="round" stroke-linejoin="round"/>
<path d="M49.4 406.3 L51.1 405.5 L52.8 405.4 L54.5 405.8 L56.2 405.5M56.2 402.8 L58 402.6 L59.7 401.2 L61.5 400.6M61.5 402.4 L63 402.4 L64.5 403.4 L66 403.8 L68 403.2 L70 402.2 L71.7 402.8 L73.3 403.3 L75 404.4M75 403.2 L77 404.4 L79 404.6 L80.5 405.7 L82 407.1 L83.9 407.4 L85.8 408.5M87 407.3 L88.5 408 L90 409.2 L91.9 409.6 L93.8 411M94.5 409 L94.8 410.1 L95.2 411.7 L95.5 413.1 L95.8 414.5 L96.2 416.5 L96.5 417.9 L96.8 419M102 410.3 L103.2 410.8 L104.5 412.6 L105.9 414.2 L107.3 415M104.6 414.6 L105.5 416.3 L106.5 418.1 L107.3 419 L108.2 420.9 L109 422M108.7 419.3 L109.8 417.1 L111 416 L112.5 415.3 L114 414.5M116.7 416.4 L117.6 414.9 L118.5 413.4 L119.7 411.9 L120.8 410M120.8 408.3 L122.4 406.7 L124 405.9 L125.6 404.9 L127.2 404.5 L128.8 403.5M128.8 404.8 L130.2 404.9 L131.6 405.9 L133 406.3 L134.5 407.5 L136 408.2 L137.8 408.6 L139.6 409.8M139.6 408.5 L140.7 407.6 L141.9 406.2 L143 405.2 L144.6 404.7 L146.1 403.5 L147.7 403.2M147.7 404.4 L149.1 405.5 L150.6 406.1 L152 406.1 L153.6 407.3 L155.2 407.7 L156.9 408.2 L158.5 408.5M158.5 403.9 L160.2 403.7 L162 402.2 L163.5 402.2 L165 401.2 L166.5 400.8M166.5 401.6 L169 400.6" stroke="#b3b3b3" stroke-width="1.8" fill="none" stroke-linecap="round" stroke-linejoin="round"/>
<g>
<path d="M200.3 551.5L270.2 496.8M200 532.8L256.9 507.1M204.1 556.4L254.2 502.2M186.9 523.2L235.7 493.5M186.1 546.3L250.5 483.8M187.7 561.4L247.3 521.8M199.5 553.1L267.4 517.9M201.9 522.7L272.3 495.1M200.6 530.8L249.4 495M190.2 525.6L267.9 522.3M204.3 525.3L270.4 519.6M196.4 520.5L275.1 512.4" stroke="#dedee4" stroke-width="0.4" fill="none"/>
<path d="M246.4 486.5L250.2 465.2M246.4 486.5L237.3 467.2M246.4 486.5L241.2 467.7M246.4 486.5L244.1 467.6M246.4 486.5L248.5 466.6M246.4 486.5L251 466.6M246.4 486.5L254.5 468.2M246.4 486.5L232.7 469.6M246.4 486.5L235.9 470.5M246.4 486.5L239.4 471.1M246.4 486.5L242.8 469.9M246.4 486.5L245.7 470M246.4 486.5L249.9 471M246.4 486.5L252.6 470.7M246.4 486.5L256.3 470.2M246.4 486.5L259 470.3M246.4 486.5L234.8 473.8M246.4 486.5L237 472.8M246.4 486.5L241 473.7M246.4 486.5L245.3 472.9M246.4 486.5L247.5 473.9M246.4 486.5L251.7 472.9M246.4 486.5L254.7 473.9M246.4 486.5L258 472.9M246.4 486.5L261 474.1M246.4 486.5L229.9 476.9M246.4 486.5L232.6 476M246.4 486.5L235.3 475.8M246.4 486.5L240.2 475.5M246.4 486.5L243.6 476.3M246.4 486.5L246.3 475.7M246.4 486.5L249.3 477.1M246.4 486.5L253.2 476.1M246.4 486.5L256.2 476.7M246.4 486.5L259 476.1M246.4 486.5L262.9 476.9M246.4 486.5L223.8 480.1M246.4 486.5L227.3 480.1M246.4 486.5L231.6 478.7M246.4 486.5L234.2 478.5M246.4 486.5L236.9 478.7M246.4 486.5L240.9 478.9M246.4 486.5L244 478.6M246.4 486.5L248.5 478.5M246.4 486.5L252 480M246.4 486.5L254 479.2M246.4 486.5L257.4 478.5M246.4 486.5L260.8 480.1M246.4 486.5L265.4 479.7M246.4 486.5L226.3 482.3M246.4 486.5L229 482.7M246.4 486.5L231.8 482M246.4 486.5L235.7 482.4M246.4 486.5L238.5 482.6M246.4 486.5L253.4 482.4M246.4 486.5L256.5 482.4M246.4 486.5L259 482M246.4 486.5L262.4 482.8M246.4 486.5L267.5 482.5M246.4 486.5L227 485.3M246.4 486.5L230.1 484.6M246.4 486.5L234.5 485M246.4 486.5L237.5 486.1M246.4 486.5L254.3 485.4M246.4 486.5L257.7 485.5M246.4 486.5L262.1 485.4M246.4 486.5L265 485M246.4 486.5L268.8 485M246.4 486.5L222.6 487.6M246.4 486.5L226.4 487.6M246.4 486.5L229.9 488.5M246.4 486.5L232 487.9M246.4 486.5L235.6 488.1M246.4 486.5L238.7 487.9M246.4 486.5L256.1 487.4M246.4 486.5L259.6 488.8M246.4 486.5L263.5 487.3M246.4 486.5L266.7 488.7M246.4 486.5L270.7 487.9M246.4 486.5L225 490.5M246.4 486.5L228 490.9M246.4 486.5L231.5 490.8M246.4 486.5L234.8 490.3M246.4 486.5L238 491.8M246.4 486.5L255.3 491.1M246.4 486.5L259 491.6M246.4 486.5L262.2 491.6M246.4 486.5L264.9 490.6M246.4 486.5L267.8 490.7M246.4 486.5L230 493.6M246.4 486.5L233.2 493.8M246.4 486.5L235.7 493.6M246.4 486.5L238.7 493.2M246.4 486.5L243 494.5M246.4 486.5L245.5 494.1M246.4 486.5L249.1 494.3M246.4 486.5L253.6 493.3M246.4 486.5L256.7 494.4M246.4 486.5L259.9 493.2M246.4 486.5L263.6 493.6M246.4 486.5L267.2 493.8M246.4 486.5L226.7 497.6M246.4 486.5L231.2 496.5M246.4 486.5L234.1 496.7M246.4 486.5L237 496.2M246.4 486.5L241.8 496.9M246.4 486.5L243.9 496.7M246.4 486.5L247.4 497.1M246.4 486.5L252.2 497.1M246.4 486.5L255.2 497M246.4 486.5L258 496.7M246.4 486.5L262 497.6M246.4 486.5L264.7 497M246.4 486.5L229.5 499.2M246.4 486.5L232.4 500.4M246.4 486.5L235.9 500.2M246.4 486.5L239.4 499.2M246.4 486.5L243 499.4M246.4 486.5L246.8 499.7M246.4 486.5L248.9 499.7M246.4 486.5L252.5 500.3M246.4 486.5L256.3 499.4M246.4 486.5L260.6 500.1M246.4 486.5L263.8 499.1M246.4 486.5L234.9 503.8M246.4 486.5L237.2 502.5M246.4 486.5L241.1 503.3M246.4 486.5L244.4 502.9M246.4 486.5L248.5 502.7M246.4 486.5L251.4 502.5M246.4 486.5L254.2 502.1M246.4 486.5L257.3 502.9M246.4 486.5L262 503M246.4 486.5L243.4 506.6M246.4 486.5L246.8 506.2M246.4 486.5L250.2 505.5M246.4 486.5L253.1 505.2M246.4 486.5L256.4 505.3M279.9 513.4L274 498.5M279.9 513.4L277.3 498.3M279.9 513.4L281.3 497.9M279.9 513.4L286.4 498.4M279.9 513.4L267.5 501.4M279.9 513.4L270.3 501.2M279.9 513.4L275.9 501.9M279.9 513.4L280.4 501.5M279.9 513.4L285 501.6M279.9 513.4L288.7 501.5M279.9 513.4L293.1 501.4M279.9 513.4L265.3 505.3M279.9 513.4L268.1 505.7M279.9 513.4L273.9 505.1M279.9 513.4L277.4 506.4M279.9 513.4L282.7 505.7M279.9 513.4L285.8 505.9M279.9 513.4L291 505.6M279.9 513.4L295 505.5M279.9 513.4L261.9 509.9M279.9 513.4L266.4 509.5M279.9 513.4L270.3 510.6M279.9 513.4L274.6 508.8M279.9 513.4L285 509.3M279.9 513.4L288.2 509.6M279.9 513.4L292.3 509.1M279.9 513.4L297.2 509.1M279.9 513.4L260.9 514.2M279.9 513.4L264.5 513.9M279.9 513.4L269 514.2M279.9 513.4L291.3 514.3M279.9 513.4L295.5 514.3M279.9 513.4L300.3 512.8M279.9 513.4L263 518.2M279.9 513.4L267.2 517.4M279.9 513.4L271.5 516.7M279.9 513.4L287.8 517M279.9 513.4L293.5 516.6M279.9 513.4L298 518.1M279.9 513.4L260.5 521.3M279.9 513.4L264.6 521.7M279.9 513.4L269.4 520.7M279.9 513.4L273 521.1M279.9 513.4L278.5 520.3M279.9 513.4L281.8 520.6M279.9 513.4L286.1 521.6M279.9 513.4L290.9 521.2M279.9 513.4L295.7 521.6M279.9 513.4L300.1 521.8M279.9 513.4L261.9 525M279.9 513.4L266 525.7M279.9 513.4L271.4 525.6M279.9 513.4L275.6 525.4M279.9 513.4L280.2 525.3M279.9 513.4L283.7 525.8M279.9 513.4L288.6 525.7M279.9 513.4L292.2 525.6M279.9 513.4L269.1 528.6M279.9 513.4L273.7 528.6M279.9 513.4L277.5 529.3M279.9 513.4L282.2 528.8M279.9 513.4L286.2 528.3M133 489.5L132.8 483.6M132.8 483.6L130.9 478.6M130.9 478.6L128.9 472.5M128.9 472.5L127.1 468.7M127.1 468.7L125.5 463.4M125.5 463.4L125 458.2M125 458.2L123.2 453.2M123.2 453.2L121.5 447.7M121.5 447.7L119.6 443.2M119.6 443.2L118.4 437.9M127.1 468.7L124.2 464.5M121.5 447.7L121.5 449.2M131.2 478.5L132.8 474.6M132.8 474.6L135.3 470.1M135.3 470.1L136.5 465.2M136.5 465.2L135.2 459.8M135.2 459.8L137.9 454.5M137.9 454.5L139.3 448.5M139.3 448.5L139 443.2M139 443.2L139.8 438.8M139.8 438.8L140.4 433.7M132.8 474.6L134.3 476.6M127.3 467.3L120 471.3M120 471.3L118 480.5M160.2 487.6L162.7 484M162.7 484L166.2 479.7M166.2 479.7L170.6 486.6M185.5 489.3L188.7 485.7M188.7 485.7L193.1 494.7M94.8 500L92.1 503M92.1 503L85.8 502.6M85.8 502.6L78.1 501.9M78.1 501.9L74.4 506M74.4 506L72.5 510.8M72.5 510.8L67.1 516.4M67.1 516.4L67.1 521.7M67.1 521.7L66.3 527.8M66.3 527.8L63.4 534.1M63.4 534.1L61.8 540.3M61.8 540.3L54.3 541.3M99.4 497.3L98.3 502M98.3 502L95.5 498.4M81.9 520.1L76.4 521.1M76.4 521.1L71.8 518M71.8 518L67.8 515.7M67.8 515.7L72.2 511.9M82.1 560.4L79.5 564.5M79.5 564.5L76.7 568.6M76.7 568.6L73.2 572.9M73.2 572.9L68.8 576.1M68.8 576.1L66.5 579.6M66.5 579.6L64.3 575.1M64.3 575.1L60.5 571.3M60.5 571.3L55.1 575M55.1 575L49.4 572.3M49.4 572.3L45.5 570.4M45.5 570.4L38.2 575.3M38.2 575.3L35.5 571.8M35.5 571.8L31 566.3M31 566.3L26.7 572.4M26.7 572.4L24.2 577.5M24.2 577.5L17.4 578.8M17.4 578.8L10.7 578.1M10.7 578.1L11.5 574.1M11.5 574.1L10.7 569.1M10.7 569.1L15.1 573.2M15.1 573.2L17.4 568.3M17.4 568.3L19.8 563.8M79.5 564.5L82.2 560.9M76.7 568.6L77.5 564.5M38.2 575.3L37.9 577.7M35.5 571.8L36.3 571M17.4 578.8L20.7 580.9M67.8 567.2L61 570.6M79.7 578L75.5 579.7M75.5 579.7L70.2 579.8M70.2 579.8L64.4 579.5M64.4 579.5L62.1 582.6M62.1 582.6L55.5 584.4M55.5 584.4L50.3 585.9M50.3 585.9L44.1 588M44.1 588L37.3 591M37.3 591L30.7 593.4M30.7 593.4L22.3 595.8M22.3 595.8L18.3 595.6M18.3 595.6L12.2 595.1M12.2 595.1L15.1 603M37.3 591L40.2 586.2M22.3 595.8L21.3 595.3M37.5 590.3L31.7 595.4M31.7 595.4L26.8 592.1M80.5 589.4L73.4 590.8M73.4 590.8L67.4 596.8M67.4 596.8L75.5 601.8M83.3 597.2L80.8 600.8M80.8 600.8L77.6 604.6M77.6 604.6L73.1 607.8M73.1 607.8L69.8 611.2M69.8 611.2L64.3 614.2M64.3 614.2L58.5 618.4M58.5 618.4L54 621.2M54 621.2L49.6 624M49.6 624L47.8 631.3M47.8 631.3L43.8 638.2M57.2 618.5L56.8 624.5M56.8 624.5L56.5 629.4M56.5 629.4L62 633.3M62 633.3L66.3 636.4M68.3 626.2L67.5 631.6M67.5 631.6L66.5 636.9M50.6 623.8L45.6 624.8M45.6 624.8L39.9 627.4M39.9 627.4L34.9 628.3M34.9 628.3L26.6 624.5M26.6 624.5L21.1 624.8M21.1 624.8L20.9 629.3M20.9 629.3L23.2 635.2M23.2 635.2L31.2 630.9M45.6 624.8L44.9 626M20.9 629.3L17.1 632.6M35.4 628.3L31.1 630.8M44.5 638.6L40.6 643M40.6 643L37.4 648.5M37.4 648.5L30.4 645.3M30.4 645.3L26.1 644.8M26.1 644.8L21.1 643.2M21.1 643.2L16.3 650.2M16.3 650.2L12.8 656.7M16.3 650.2L17.4 652.8M38.4 647.9L40 653.7M40 653.7L35.6 661.7M35.6 661.7L33.6 665.6M33.6 665.6L38.2 666.5M38.2 666.5L34.5 670.2M34.5 670.2L40.5 673.6M40.5 673.6L45.4 675.2M45.4 675.2L39.6 679.2M39.6 679.2L46.7 682.8M46.7 682.8L50.7 679.6M50.7 679.6L56.2 677.1M56.2 677.1L61.8 673.1M61.8 673.1L67.1 669.9M67.1 669.9L71.9 664.9M71.9 664.9L77.4 661.1M77.4 661.1L79.3 656.3M79.3 656.3L82.9 649.2M82.9 649.2L84.6 643.3M84.6 643.3L88.5 641.7M88.5 641.7L91.5 638.8M38.2 666.5L39.2 666.5M45.4 675.2L48.2 673.8M50.7 679.6L51 682.3M84.6 643.3L88.7 648M88.5 641.7L84.7 638.2M91.5 638.2L96.4 645.6M96.4 645.6L95.4 651.4M95.4 651.4L94.7 656.8M94.7 656.8L101.7 655.3M95.4 651.4L96.4 656.2M92.1 638.7L95.5 631.6M95.5 631.6L97.2 624.7M97.2 624.7L100.6 619.8M100.6 619.8L101.4 615.2M101.4 615.2L107.8 611.1M107.8 611.1L114.2 606.5M97.2 624.7L95.5 624.3M122.9 605.6L124.4 611M124.4 611L126.7 617.2M126.7 617.2L124.4 625.4M124.4 625.4L123.7 632.3M123.7 632.3L129.3 634.5M127.3 616.4L135.6 618.3M135.6 618.3L136.8 624.2M136.8 624.2L140.4 631.7M140.4 631.7L142.8 638.5M142.8 638.5L143.5 643.6M143.5 643.6L145.9 647.8M145.9 647.8L144.5 652.4M144.5 652.4L144.1 658.4M144.1 658.4L150.7 658.4M150.7 658.4L151 652.7M151 652.7L150.8 646.6M150.8 646.6L151.5 642.6M151.5 642.6L154.7 635.2M154.7 635.2L158 629.1M158 629.1L153.9 620.4M153.9 620.4L150.8 618.1M150.8 618.1L145.4 614.8M145.4 614.8L149.4 607.6M142.8 638.5L147.2 639.8M143.5 643.6L143.9 642.3M145.9 647.8L142.9 644M154.7 635.2L156.8 631.9M158 629.1L161 633.5M153.9 620.4L152.7 619.6M150.8 618.1L147.1 621.8M150.8 608.7L155.5 608.9M155.5 608.9L160.4 611.4M160.4 611.4L169.4 613.4M169.4 613.4L174.7 609.1M174.7 609.1L180.8 606.7M108.3 603.6L105.2 607.8M105.2 607.8L103.6 612.7M199.8 519.9L205.7 516.7M205.7 516.7L210 515.6M210 515.6L216 512.8M216 512.8L222.4 510.6M222.4 510.6L226 504.2M226 504.2L229.8 500.2M200.2 547.7L206.4 544.8M206.4 544.8L212.1 543.4M212.1 543.4L217.9 541.8M217.9 541.8L224.5 540.2M224.5 540.2L230.5 538.7M230.5 538.7L235.2 538.3M235.2 538.3L240.5 537.7M240.5 537.7L244.4 536.5M244.4 536.5L249.3 535.5M249.3 535.5L255.3 535.7M255.3 535.7L260.3 533.3M260.3 533.3L264.2 529.4M202.6 507.2L209.2 504.6M209.2 504.6L214.4 501.6M214.4 501.6L220.5 499.6M220.5 499.6L226.1 497.2M209.2 504.6L210.8 502.9M180 590.1L185.5 587M185.5 587L191.6 584.3M191.6 584.3L200.3 581.5M200.3 581.5L204.2 577.4M258.7 469.2L259.3 463.4M259.3 463.4L259.7 457.6M259.7 457.6L260.6 451.8M260.6 451.8L262.9 446.5M262.9 446.5L264.4 441.4M264.4 441.4L266.6 436.8M266.6 436.8L268.1 431.7M268.1 431.7L271.1 427.3M266.7 473.4L269 467.4M269 467.4L270.4 461.5M270.4 461.5L273.4 455.5M273.4 455.5L275.5 450.7M275.5 450.7L280.3 447.4M280.3 447.4L283.6 444.7M283.6 444.7L286.4 438.2M286.4 438.2L288.2 431.5M288.2 431.5L294.8 429M283.6 444.7L282.8 448.4M288.2 431.5L288.9 431M269.5 478.2L273.5 473.3M273.5 473.3L276.1 467.1M276.1 467.1L279.6 463.1M279.6 463.1L283.4 457.8M283.4 457.8L286.2 452.7M286.2 452.7L289.2 447.1M289.2 447.1L293.1 441.2M293.1 441.2L296.4 436.1M296.4 436.1L299.4 433.4M299.4 433.4L303.6 438.9M300.7 439.4L306.2 438M306.2 438L312.1 434.9M312.1 434.9L318 428.5M318 428.5L319.1 435.1M319.1 435.1L319.4 440.1M268 466.1L274.7 463.9M274.7 463.9L280.2 462.7M280.2 462.7L284 459.5M267.4 479.8L273.7 477.9M273.7 477.9L281.6 476.4M281.6 476.4L286.5 479.7M286.5 479.7L291.4 482M291.4 482L297.1 486.8M297.1 486.8L303 492.2M298.1 510.8L304.3 509.2M304.3 509.2L309.7 508.3M309.7 508.3L316 508.1M316 508.1L322.7 504.7M322.7 504.7L327 502.4M327 502.4L333.2 502.2M333.2 502.2L338.3 503.3M338.3 503.3L342.4 502.2M342.4 502.2L346.7 501.3M346.7 501.3L351.9 498.9M351.9 498.9L356.5 494.1M356.5 494.1L360.2 494.2M360.2 494.2L366.8 492.8M346.7 501.3L342.2 499.3M351.9 498.9L356 497.2M346.8 501.2L351.6 504.6M351.6 504.6L357.5 509M357.5 509L363.5 507.7M363.5 507.7L367.5 506.3M367.5 506.3L372.8 508.7M372.8 508.7L376.5 508.2M376.5 508.2L374.1 514.7M357.5 509L362.1 509.6M328 503.5L333.2 507M295.7 519.4L301 521M301 521L306.9 519.4M306.9 519.4L311.6 518.6M311.6 518.6L316.3 521.6M316.3 521.6L321.8 525.1M316.3 521.6L313.2 523M295.7 529.5L301.8 532.1M301.8 532.1L308.6 533.2M308.6 533.2L306.8 540.8M306.8 540.8L311.9 544.1M311.9 544.1L317.4 547.4M317.4 547.4L318 541M318 541L314.4 543M309 534L312.9 536.8M312.9 536.8L317.2 542M317.2 542L322.6 545.5M322.6 545.5L328.2 548.8M328.2 548.8L331.2 551.7M331.2 551.7L334.2 556.4M334.2 556.4L340.2 556.2M340.2 556.2L345.4 557.5M334.3 556L338.4 550.6M327.2 548.1L327.8 554.6M327.8 554.6L330.1 559.6M330.1 559.6L334.8 565.3M225.1 490.1L222.2 485.7M222.2 485.7L218.2 481.4M218.2 481.4L212 477.2M212 477.2L204.2 480.9M228.3 500.5L223.7 498.9M223.7 498.9L218.5 497.3M218.5 497.3L209.9 501.5M209.9 501.5L206.1 496.7" stroke="#c4c4cc" stroke-width="0.45" fill="none"/>
<path d="M73.1 557.9L80.3 554.5M73.1 557.9L79.5 557.2M74.9 565.2L82.8 562.9M74.9 565.2L81.9 568.6M76.9 533.8L83.3 533.6M79.5 557.2L86 555.5M79.5 557.2L85.7 557.3M80.3 554.5L81.2 548.9M80.3 554.5L82.8 562.9M81.2 565.3L87.5 565.1M81.2 565.3L88.2 568.9M81.2 548.9L84 549.8M81.2 548.9L89.1 547.1M81.2 544.4L84.6 547.3M81.2 544.4L89.1 547.1M81.9 568.6L85.7 568.4M81.9 568.6L87.9 563.1M82.5 558L82.8 562.9M82.5 558L87.5 565.1M82.8 562.9L90.6 565.9M82.8 562.9L87.9 563.1M83 589.7L89.4 587.1M83.1 561L82.5 558M83.1 561L81.2 565.3M83.3 533.6L89.9 533M83.3 533.6L85.7 536.3M83.5 554.4L86 555.5M83.5 554.4L80.3 554.5M83.5 518L89.8 517.5M83.5 518L91.6 515.1M84 549.8L89.8 554.9M84 549.8L84.6 547.3M84.1 543.9L85.8 552.4M84.1 543.9L84.6 547.3M84.6 547.3L90.7 552.8M84.6 547.3L84 549.8M85.4 563.7L85.7 557.3M85.4 563.7L92.2 559.7M85.5 541.4L81.2 548.9M85.5 541.4L93.1 538.3M85.6 530.4L93.2 527.6M85.6 530.4L86.7 527.9M85.7 536.3L92 535.8M85.7 536.3L87.7 542M85.7 557.3L83.1 561M85.7 557.3L91.3 557.3M85.7 568.4L83.1 561M85.7 568.4L86.5 570.8M85.8 552.4L80.3 554.5M85.8 552.4L90.5 549.6M86 555.5L89.8 554.9M86 555.5L90.5 549.6M86.5 570.8L81.9 568.6M86.5 570.8L82.8 562.9M86.7 544.6L84.1 543.9M86.7 544.6L89.6 543.5M86.7 527.9L91.8 525.3M86.7 527.9L93.2 522.6M87 533.5L92 535.8M87 533.5L83.3 533.6M87.5 565.1L92.7 565.8M87.5 565.1L92.4 571.3M87.7 551.5L85.7 557.3M87.7 551.5L84.1 543.9M87.7 542L85.7 536.3M87.7 542L90.7 541.3M87.9 563.1L94.4 558.3M87.9 563.1L89.4 571.3M88 574.3L89 578.3M88 574.3L92.4 571.3M88 521L94.4 520.9M88 521L93.2 527.6M88.2 568.9L81.2 565.3M88.2 568.9L94.7 562.7M88.6 515.1L94.5 509.7M88.6 515.1L93.2 522.6M88.7 558.4L83.1 561M88.7 558.4L92.2 559.7M88.8 536.7L95.2 533.1M88.8 536.7L95.8 539.5M88.8 530.8L85.6 530.4M88.8 530.8L86.7 527.9M89 578.3L92.7 576.2M89 578.3L92.4 571.3M89.1 547.1L90.7 547M89.1 547.1L93.1 549.3M89.4 587.1L92.5 581M89.4 587.1L96.6 586.4M89.4 527.8L95.2 523.5M89.4 527.8L88 521M89.4 571.3L92.7 576.2M89.4 571.3L86.5 570.8M89.6 543.5L97.5 546.2M89.6 543.5L84.1 543.9M89.6 539.8L87 533.5M89.6 539.8L92.8 533.7M89.8 554.9L93.9 552.4M89.8 554.9L86 555.5M89.8 517.5L97.3 515.5M89.8 517.5L91.6 515.1M89.9 533L85.7 536.3M89.9 533L89.4 527.8M90 576.8L97.3 578.6M90 576.8L89.4 571.3M90.5 549.6L84.6 547.3M90.5 549.6L90.7 552.8M90.6 565.9L94.4 558.3M90.6 565.9L97.5 563.1M90.7 541.3L84.1 543.9M90.7 541.3L89.1 547.1M90.7 547L85.8 552.4M90.7 547L90.7 541.3M90.7 552.8L90.5 549.6M90.7 552.8L85.8 552.4M91.1 578.7L95.5 580.8M91.1 578.7L92.4 571.3M91.3 568.8L85.7 568.4M91.3 568.8L95.6 570.2M91.3 557.3L93.1 549.3M91.3 557.3L95.4 554.3M91.6 515.1L93.8 515.3M91.6 515.1L94.4 520.9M91.8 525.3L92.8 533.7M91.8 525.3L94.5 526.4M92 535.8L85.6 530.4M92 535.8L88.8 530.8M92.1 574L92.7 565.8M92.1 574L99.8 575.7M92.2 559.7L87.9 563.1M92.2 559.7L97.5 563.1M92.4 571.3L85.7 568.4M92.4 571.3L91.1 578.7M92.5 581L94.9 584.1M92.5 581L97.3 578.6M92.7 565.8L90.6 565.9M92.7 565.8L85.7 568.4M92.7 576.2L89.4 571.3M92.7 576.2L101.2 578.5M92.8 533.7L91.8 525.3M92.8 533.7L89.4 527.8M93 517.2L97 520.4M93 517.2L101.2 515M93 554.6L89.8 554.9M93 554.6L85.7 557.3M93.1 538.3L99.7 534.2M93.1 538.3L97.9 536.5M93.1 549.3L98.7 554.6M93.1 549.3L97.1 552.6M93.2 527.6L98.2 529.1M93.2 527.6L92 535.8M93.2 522.6L94.5 526.4M93.2 522.6L98.1 525.8M93.4 544.8L94.3 546.5M93.4 544.8L95.8 539.5M93.6 502L96.7 507.3M93.6 502L94.5 509.7M93.7 568.1L92.7 576.2M93.7 568.1L85.7 568.4M93.8 578.4L89 578.3M93.8 578.4L96.6 586.4M93.8 515.3L96.5 517.6M93.8 515.3L94.4 520.9M93.9 552.4L91.3 557.3M93.9 552.4L85.8 552.4M94.3 546.5L86.7 544.6M94.3 546.5L90.7 552.8M94.4 558.3L92.7 565.8M94.4 558.3L89.8 554.9M94.4 520.9L100.5 525.9M94.4 520.9L93.2 527.6M94.5 509.7L100.1 510.1M94.5 509.7L97.3 515.5M94.5 526.4L91.8 525.3M94.5 526.4L94.4 520.9M94.7 562.7L94.4 558.3M94.7 562.7L102.1 565.6M94.9 584.1L99.9 584.6M94.9 584.1L93.8 578.4M94.9 541.1L90.7 547M94.9 541.1L101 541.1M95 535.6L98.2 529.1M95 535.6L93.2 527.6M95.2 533.1L94.5 526.4M95.2 533.1L93.2 527.6M95.2 523.5L98.2 529.1M95.2 523.5L89.4 527.8M95.4 554.3L93.1 549.3M95.4 554.3L97.5 546.2M95.5 580.8L96.8 583.5M95.5 580.8L89.4 587.1M95.6 543.6L94.3 546.5M95.6 543.6L98.2 549.1M95.6 570.2L95.7 564.9M95.6 570.2L99.8 575.7M95.7 564.9L99.4 565.4M95.7 564.9L94.7 562.7M95.7 550.3L93.9 552.4M95.7 550.3L93.1 549.3M95.8 539.5L89.6 543.5M95.8 539.5L100.5 537.1M96.2 559.6L99.4 565.4M96.2 559.6L100.8 562.6M96.3 527.9L99.3 523.7M96.3 527.9L102.7 533.9M96.4 512L101.9 506.7M96.4 512L98.2 512M96.5 517.6L98.1 525.8M96.5 517.6L100.1 510.1M96.6 586.4L99.3 582.2M96.6 586.4L92.5 581M96.7 576.2L97.9 574.2M96.7 576.2L92.1 574M96.7 589L89.4 587.1M96.7 589L101.1 590.1M96.7 507.3L97.3 515.5M96.7 507.3L105.5 506.5M96.8 583.5L102.5 581.3M96.8 583.5L98.4 586M96.9 556.8L95.4 554.3M96.9 556.8L94.4 558.3M97 520.4L94.5 526.4M97 520.4L97.3 515.5M97.1 552.6L104 557.4M97.1 552.6L100.3 551.7M97.3 578.6L96.7 576.2M97.3 578.6L98.4 586M97.3 515.5L95.2 523.5M97.3 515.5L96.7 507.3M97.5 563.1L102.1 565.6M97.5 563.1L91.3 568.8M97.5 546.2L98.7 539.3M97.5 546.2L95.4 554.3M97.7 567.5L105.7 566M97.7 567.5L97.9 574.2M97.9 536.5L101.3 543.9M97.9 536.5L105.6 539.2M97.9 574.2L101.1 567.5M97.9 574.2L99.4 565.4M98.1 525.8L100.5 525.9M98.1 525.8L105.3 523.4M98.1 531L92.8 533.7M98.1 531L98.2 529.1M98.2 512L96.7 507.3M98.2 512L101.2 515M98.2 549.1L104.5 544.8M98.2 549.1L95.7 550.3M98.2 529.1L101.6 529.1M98.2 529.1L98.1 531M98.4 586L102.5 581.3M98.4 586L96.8 583.5M98.7 554.6L94.4 558.3M98.7 554.6L89.8 554.9M98.7 539.3L101 541.1M98.7 539.3L95.2 533.1M98.7 560.9L102.4 560.9M98.7 560.9L94.7 562.7M99.1 570.2L97.5 563.1M99.1 570.2L91.3 568.8M99.3 582.2L102.5 581.3M99.3 582.2L101.2 578.5M99.3 523.7L105 517.3M99.3 523.7L91.8 525.3M99.4 565.4L95.6 570.2M99.4 565.4L94.7 562.7M99.5 517.4L91.6 515.1M99.5 517.4L104.1 520.1M99.5 544.5L97.9 536.5M99.5 544.5L95.8 539.5M99.7 534.2L103.3 542M99.7 534.2L93.1 538.3M99.8 575.7L103.7 567.7M99.8 575.7L92.1 574M99.9 584.6L97.3 578.6M99.9 584.6L105.8 587.1M100.1 510.1L96.7 507.3M100.1 510.1L99.5 517.4M100.3 551.7L95.4 554.3M100.3 551.7L95.7 550.3M100.4 520.5L105 517.3M100.4 520.5L104.3 512.5M100.5 557.9L106.2 563.1M100.5 557.9L107.4 557.2M100.5 525.9L94.4 520.9M100.5 525.9L97 520.4M100.5 537.1L106.4 530.5M100.5 537.1L98.1 531M100.8 562.6L102.1 571.3M100.8 562.6L92.7 565.8M100.9 573.7L101.1 567.5M100.9 573.7L92.7 576.2M101 541.1L94.3 546.5M101 541.1L108.6 539.4M101.1 567.5L107.2 574M101.1 567.5L100.8 562.6M101.1 590.1L105.8 587.1M101.1 590.1L107.3 584.6M101.2 515L103.7 515.5M101.2 515L106.5 514.7M101.2 547.2L98.2 549.1M101.2 547.2L107.7 545M101.2 538.7L97.9 536.5M101.2 538.7L95 535.6M101.2 578.5L97.9 574.2M101.2 578.5L96.8 583.5M101.3 543.9L104.4 549.9M101.3 543.9L95.6 543.6M101.6 529.1L103.7 536.2M101.6 529.1L100.5 537.1M101.6 591.4L103.5 584.9M101.6 591.4L96.7 589M101.6 502.3L109.8 504.6M101.6 502.3L105.8 501.3M101.8 517.4L105 517.3M101.8 517.4L101.2 515M101.9 506.7L107.1 503.9M101.9 506.7L100.1 510.1M102.1 565.6L103.8 563M102.1 565.6L105.2 570.8M102.1 571.3L103.8 563M102.1 571.3L107.3 568.3M102.3 549.6L107.6 549.9M102.3 549.6L97.1 552.6M102.4 560.9L98.7 554.6M102.4 560.9L102.4 555M102.4 555L108.6 556.3M102.4 555L93.9 552.4M102.4 586.2L103.3 589.9M102.4 586.2L106.5 579.4M102.4 513.3L106.5 514.7M102.4 513.3L103.7 515.5M102.5 581.3L108.7 581.2M102.5 581.3L103.1 579.5M102.6 575.6L107.4 570.9M102.6 575.6L109 573.9M102.7 533.9L103.1 525.3M102.7 533.9L106.1 526.1M103 531.6L109 532.2M103 531.6L109.5 534.4M103.1 525.3L97 520.4M103.1 525.3L105 517.3M103.1 573.7L110.5 571.1M103.1 573.7L102.5 581.3M103.1 579.5L105.1 575.4M103.1 579.5L95.5 580.8M103.3 589.9L105.8 587.1M103.3 589.9L96.7 589M103.3 498.9L101.9 506.7M103.3 498.9L111.8 496.5M103.3 542L95.6 543.6M103.3 542L101.2 547.2M103.5 584.9L96.7 589M103.5 584.9L101.2 578.5M103.7 536.2L95 535.6M103.7 536.2L95.8 539.5M103.7 515.5L102.4 513.3M103.7 515.5L99.5 517.4M103.7 567.7L99.1 570.2M103.7 567.7L112.4 566.7M103.8 547.7L107.5 555M103.8 547.7L97.5 546.2M103.8 563L105.2 570.8M103.8 563L106.2 563.1M104 557.4L111.5 559.5M104 557.4L100.8 562.6M104.1 520.1L108.1 513M104.1 520.1L101.8 517.4M104.2 552.4L100.5 557.9M104.2 552.4L107.9 551.8M104.3 512.5L108.6 506.8M104.3 512.5L110 515.8M104.3 509.4L108.3 502.1M104.3 509.4L101.6 502.3M104.3 592.7L110.1 589.5M104.3 592.7L103.3 589.9M104.4 549.9L98.2 549.1M104.4 549.9L102.4 555M104.5 544.8L97.5 546.2M104.5 544.8L106.4 542.4M105 517.3L108.1 513M105 517.3L103.1 525.3M105 491.6L103.3 498.9M105 491.6L107.7 486.7M105.1 575.4L113.8 575.9M105.1 575.4L111.1 576.7M105.2 570.8L107.3 568.3M105.2 570.8L97.7 567.5M105.3 523.4L105.7 529M105.3 523.4L108.1 523.8M105.4 580.8L100.9 573.7M105.4 580.8L107.6 587.3M105.5 506.5L96.7 507.3M105.5 506.5L109.3 499.6M105.6 534.3L99.7 534.2M105.6 534.3L108.6 539.4M105.6 539.2L108.4 537.5M105.6 539.2L107.1 537M105.7 529L110.5 530.1M105.7 529L107.1 520.3M105.7 566L105.2 570.8M105.7 566L100.8 562.6M105.8 554.7L104.4 549.9M105.8 554.7L104.2 552.4M105.8 501.3L109.8 504.6M105.8 501.3L108.3 502.1M105.8 587.1L103.5 584.9M105.8 587.1L101.1 590.1M105.8 559.5L104 557.4M105.8 559.5L100.8 562.6M106.1 526.1L112.5 525.8M106.1 526.1L101.6 529.1M106.2 563.1L97.5 563.1M106.2 563.1L105.7 566M106.4 530.5L108.4 538.5M106.4 530.5L105.3 523.4M106.4 542.4L107.9 549.8M106.4 542.4L108.4 538.5M106.5 514.7L107.3 518.2M106.5 514.7L109.7 520.1M106.5 579.4L112.1 583.5M106.5 579.4L107.3 584.6M106.8 546.6L108.4 542.4M106.8 546.6L103.8 547.7M107.1 537L106.4 530.5M107.1 537L108.4 537.5M107.1 520.3L105 517.3M107.1 520.3L110 515.8M107.1 503.9L104.3 509.4M107.1 503.9L115 499.6M107.2 574L100.9 573.7M107.2 574L102.6 575.6M107.3 584.6L103.1 579.5M107.3 584.6L107.5 592.8M107.3 568.3L107.4 565.7M107.3 568.3L103.1 573.7M107.3 518.2L104.3 512.5M107.3 518.2L101.2 515M107.3 499.4L113.7 501.4M107.3 499.4L108.9 496.8M107.4 544.8L101.2 538.7M107.4 544.8L99.5 544.5M107.4 565.7L109 573.9M107.4 565.7L112.5 573M107.4 570.9L105.7 566M107.4 570.9L112.4 578.3M107.4 557.2L108.8 562.2M107.4 557.2L107.9 549.8M107.5 555L106.2 563.1M107.5 555L107.6 549.9M107.5 592.8L113.6 592.6M107.5 592.8L101.6 591.4M107.5 528.3L110.5 529.1M107.5 528.3L112.1 526.8M107.6 576.9L102.6 575.6M107.6 576.9L109.6 584.7M107.6 587.3L105.8 587.1M107.6 587.3L110.1 589.5M107.6 549.9L107.4 544.8M107.6 549.9L104 557.4M107.7 545L107.1 537M107.7 545L107.4 544.8M107.7 486.7L109.6 493.7M107.7 486.7L105 491.6M107.7 560.7L108.8 562.2M107.7 560.7L107.3 568.3M107.8 547.1L105.6 539.2M107.8 547.1L108.6 539.4M107.9 551.8L102.3 549.6M107.9 551.8L107.4 557.2M107.9 549.8L107.7 545M107.9 549.8L104.4 549.9M108.1 523.8L112.7 521.2M108.1 523.8L101.8 517.4M108.1 513L116.1 509.6M108.1 513L113.1 510.6M108.3 502.1L101.9 506.7M108.3 502.1L111.8 496.5M108.4 537.5L103.3 542M108.4 537.5L106.4 530.5M108.4 542.4L106.8 546.6M108.4 542.4L107.7 545M108.4 538.5L108.7 533M108.4 538.5L105.6 539.2M108.6 556.3L108.8 562.2M108.6 556.3L107.9 551.8M108.6 539.4L107.4 544.8M108.6 539.4L105.6 539.2M108.6 559.3L111.5 559.5M108.6 559.3L107.4 565.7M108.6 506.8L116.1 509.6M108.6 506.8L109.3 509.4M108.7 581.2L109.6 584.7M108.7 581.2L109 573.9M108.7 533L105.6 534.3M108.7 533L108.4 537.5M108.8 562.2L107.4 570.9M108.8 562.2L105.7 566M108.9 496.8L115 499.6M108.9 496.8L105.8 501.3M109 532.2L103 531.6M109 532.2L106.1 526.1M109 573.9L116.2 578.8M109 573.9L105.1 575.4M109.3 509.4L115.6 504.7M109.3 509.4L103.7 515.5M109.3 499.6L115 499.6M109.3 499.6L108.9 496.8M109.3 563.6L110.5 571.1M109.3 563.6L106.2 563.1M109.4 525.9L108.7 533M109.4 525.9L110.8 517.4M109.4 531.2L110.5 530.1M109.4 531.2L103.1 525.3M109.5 534.4L102.7 533.9M109.5 534.4L106.4 542.4M109.6 493.7L113.7 501.4M109.6 493.7L107.3 499.4M109.6 584.7L116.2 578.8M109.6 584.7L110.1 589.5M109.7 520.1L105.3 523.4M109.7 520.1L104.1 520.1M109.8 504.6L111.8 496.5M109.8 504.6L117 506.4M109.9 579.3L108.7 581.2M109.9 579.3L106.5 579.4M110 515.8L110.7 512.5M110 515.8L116.1 509.6M110.1 589.5L115.5 589.7M110.1 589.5L112.6 594.2M110.1 568.2L110.4 563.9M110.1 568.2L112.5 573M110.4 581.7L118.9 579.1M110.4 581.7L105.1 575.4M110.4 563.9L110.1 568.2M110.4 563.9L108.8 562.2M110.5 597.8L107.5 592.8M110.5 597.8L110.8 602M110.5 530.1L103.1 525.3M110.5 530.1L103 531.6M110.5 529.1L114.8 525.5M110.5 529.1L109.5 534.4M110.5 571.1L112.4 578.3M110.5 571.1L103.1 573.7M110.6 586.8L119.5 587.4M110.6 586.8L116.6 581.4M110.7 512.5L104.3 509.4M110.7 512.5L112.7 521.2M110.7 501.7L118.7 504.8M110.7 501.7L113.8 496.2M110.8 523.9L107.5 528.3M110.8 523.9L110.5 529.1M110.8 602L110.5 597.8M110.8 602L112.6 594.2M110.8 517.4L109.4 525.9M110.8 517.4L109.7 520.1M111 592.5L103.3 589.9M111 592.5L107.6 587.3M111.1 576.7L116.6 576.3M111.1 576.7L112.5 573M111.1 565.5L107.4 565.7M111.1 565.5L103.8 563M111.4 508L110.7 501.7M111.4 508L114.4 507.5M111.5 559.5L108.6 556.3M111.5 559.5L112.4 566.7M111.8 496.5L109.3 499.6M111.8 496.5L108.3 502.1M112.1 526.8L106.1 526.1M112.1 526.8L115.2 525M112.1 583.5L105.4 580.8M112.1 583.5L113.6 587.3M112.4 566.7L107.3 568.3M112.4 566.7L103.7 567.7M112.4 578.3L113.6 571M112.4 578.3L113.6 581.1M112.5 573L116.6 576.3M112.5 573L119.2 572.9M112.5 525.8L113.9 517.8M112.5 525.8L105.3 523.4M112.6 594.2L113.6 587.3M112.6 594.2L107.6 587.3M112.7 521.2L119.5 522.4M112.7 521.2L110.5 529.1M112.9 504.2L118 496.9M112.9 504.2L109.3 499.6M113 568.5L105.2 570.8M113 568.5L116.6 576.3M113.1 510.6L117 506.4M113.1 510.6L119.4 509.6M113.1 515.5L114.4 507.5M113.1 515.5L113.1 510.6M113.6 587.3L116.9 591.9M113.6 587.3L115.5 589.7M113.6 571L107.4 570.9M113.6 571L112.4 566.7M113.6 592.6L118.9 595.5M113.6 592.6L120.4 591.5M113.6 581.1L112.4 578.3M113.6 581.1L112.5 573M113.7 501.4L115 499.6M113.7 501.4L116.9 502M113.8 496.2L120.6 501.4M113.8 496.2L118 496.9M113.8 575.9L109.9 579.3M113.8 575.9L106.5 579.4M113.9 517.8L121.5 520.6M113.9 517.8L107.1 520.3M114 513L116.1 509.6M114 513L112.7 521.2M114.4 507.5L120 512M114.4 507.5L116.9 502M114.4 597.4L121.7 595M114.4 597.4L110.1 589.5M114.5 568.8L110.4 563.9M114.5 568.8L107.4 570.9M114.6 522.3L107.1 520.3M114.6 522.3L110.8 517.4M114.8 525.5L109.4 525.9M114.8 525.5L117.2 518M115 499.6L111.8 496.5M115 499.6L119.6 506.6M115.2 525L112.7 521.2M115.2 525L122.3 521.6M115.5 589.7L118.3 583.7M115.5 589.7L113.6 587.3M115.6 504.7L119.5 499.4M115.6 504.7L119.4 509.6M115.9 584.2L113.6 581.1M115.9 584.2L122.6 582M116 520.9L110.8 517.4M116 520.9L108.1 523.8M116.1 509.6L121.6 515.4M116.1 509.6L116.9 513.2M116.2 578.8L120.9 576.2M116.2 578.8L115.9 584.2M116.3 515.4L111.4 508M116.3 515.4L124.3 515M116.5 573.8L110.1 568.2M116.5 573.8L122.4 574.2M116.5 523.4L120.6 517.6M116.5 523.4L108.1 523.8M116.5 493.5L108.9 496.8M116.5 493.5L120.6 501.4M116.6 581.4L122.6 582M116.6 581.4L118.9 579.1M116.6 576.3L122.6 582M116.6 576.3L110.4 581.7M116.9 591.9L115.9 584.2M116.9 591.9L124.9 589.7M116.9 502L123.6 507.1M116.9 502L110.7 501.7M116.9 513.2L110.8 517.4M116.9 513.2L121.5 520.6M117 506.4L109.8 504.6M117 506.4L120 512M117 523.6L114.6 522.3M117 523.6L108.1 523.8M117 570.7L116.2 578.8M117 570.7L113 568.5M117.2 518L113.1 510.6M117.2 518L114 513M117.4 570.2L120.9 576.2M117.4 570.2L116.2 578.8M117.9 587.5L110.1 589.5M117.9 587.5L112.1 583.5M118 496.9L122.6 501.6M118 496.9L111.8 496.5M118.3 583.7L120.4 582M118.3 583.7L115.5 589.7M118.5 520.2L115.2 525M118.5 520.2L113.9 517.8M118.6 589.5L113.6 587.3M118.6 589.5L119.5 597.4M118.7 504.8L109.8 504.6M118.7 504.8L123.6 507.1M118.8 571.9L119.2 572.9M118.8 571.9L113.8 575.9M118.9 579.1L125.2 584.9M118.9 579.1L116.2 578.8M118.9 595.5L110.5 597.8M118.9 595.5L119.5 597.4M119 515.1L116.9 513.2M119 515.1L116.5 523.4M119.2 572.9L114.5 568.8M119.2 572.9L116.6 576.3M119.4 509.6L111.4 508M119.4 509.6L125.8 512.7M119.5 522.4L115.2 525M119.5 522.4L118.5 520.2M119.5 499.4L115.6 504.7M119.5 499.4L112.9 504.2M119.5 600.2L116.9 591.9M119.5 600.2L120.4 591.5M119.5 587.4L118.9 595.5M119.5 587.4L112.1 583.5M119.5 597.4L116.9 591.9M119.5 597.4L119.5 600.2M119.6 561L122.6 557.4M119.6 561L111.5 559.5M119.6 506.6L126.7 501.4M119.6 506.6L116.1 509.6M119.6 525.6L112.7 521.2M119.6 525.6L121.5 520.6M120 512L119 515.1M120 512L119.4 509.6M120 495.8L116.5 493.5M120 495.8L116.9 502M120.4 591.5L115.9 584.2M120.4 591.5L123.7 597.7M120.4 582L113.6 587.3M120.4 582L119.5 587.4M120.6 501.4L116.5 493.5M120.6 501.4L120 495.8M120.6 517.6L117 523.6M120.6 517.6L125.8 512.7M120.9 576.2L119.2 572.9M120.9 576.2L113.6 571M121.1 584.8L118.3 583.7M121.1 584.8L128.7 584M121.4 510.5L124.1 518.4M121.4 510.5L128.4 515.5M121.5 520.6L119 515.1M121.5 520.6L124.3 515M121.6 515.4L126.4 507.8M121.6 515.4L128.4 515.5M121.7 595L114.4 597.4M121.7 595L115.5 589.7M121.8 504.4L120.6 501.4M121.8 504.4L119.4 509.6M121.9 572.7L123.2 576.9M121.9 572.7L124.7 579.5M122.3 578.5L125.8 581M122.3 578.5L128.8 576.4M122.3 521.6L130.1 518.3M122.3 521.6L115.2 525M122.4 574.2L128 578.5M122.4 574.2L128.8 576.4M122.6 557.4L119.6 561M122.6 501.6L119.4 509.6M122.6 501.6L119.5 499.4M122.6 588.9L125.8 581M122.6 588.9L124.9 589.7M122.6 582L122.3 578.5M122.6 582L124.7 579.5M122.7 490.9L124.5 499.2M122.7 490.9L123.4 496.9M123 592.6L120.4 591.5M123 592.6L118.6 589.5M123.2 576.9L116.6 581.4M123.2 576.9L116.6 576.3M123.4 496.9L124.1 504.7M123.4 496.9L116.9 502M123.5 587.3L118.3 583.7M123.5 587.3L131.4 584M123.6 507.1L131 510.4M123.6 507.1L131.4 505M123.7 597.7L118.9 595.5M123.7 597.7L126.1 591.9M123.7 512.5L116.9 513.2M123.7 512.5L126.4 507.8M124.1 518.4L123.7 512.5M124.1 518.4L132.7 520.1M124.1 504.7L122.6 501.6M124.1 504.7L119.6 506.6M124.3 515L124.1 518.4M124.3 515L123.7 512.5M124.5 499.2L122.6 501.6M124.5 499.2L123.4 496.9M124.5 521.7L128.4 515.5M124.5 521.7L131.9 518.3M124.7 579.5L132.4 576.9M124.7 579.5L129.7 581.2M124.8 610.4L128.7 605.8M124.8 610.4L126.9 602.6M124.9 589.7L121.1 584.8M124.9 589.7L118.9 595.5M125 572.7L120.9 576.2M125 572.7L124.7 579.5M125.1 520.9L132.7 520.1M125.1 520.9L123.7 512.5M125.2 599.9L128.7 605.8M125.2 599.9L126.1 591.9M125.2 584.9L118.6 589.5M125.2 584.9L128 590.1M125.5 573.9L129.7 581.2M125.5 573.9L127.1 576.4M125.7 518.3L131.6 520.5M125.7 518.3L125.8 512.7M125.8 512.7L119.4 509.6M125.8 512.7L123.6 507.1M125.8 581L129.6 587.3M125.8 581L122.4 574.2M126.1 591.9L123 592.6M126.1 591.9L119.5 587.4M126.3 496.2L129.2 501.4M126.3 496.2L133.9 499.2M126.4 587L128.7 584M126.4 587L130.9 590.1M126.4 507.8L120.6 501.4M126.4 507.8L123.6 507.1M126.7 501.4L133 502M126.7 501.4L124.5 499.2M126.8 485.2L132.6 491.2M126.8 485.2L133.6 489.4M126.9 602.6L119.5 600.2M126.9 602.6L127.5 594.7M127.1 576.4L130.7 572.6M127.1 576.4L132.7 573.2M127.1 573.8L135.4 576.4M127.1 573.8L134.5 578.1M127.2 520.8L125.7 518.3M127.2 520.8L125.8 512.7M127.5 594.7L134 595.5M127.5 594.7L135.4 591.9M127.6 521.5L125.8 512.7M127.6 521.5L136.3 520M128 578.5L123.2 576.9M128 578.5L127.1 573.8M128 590.1L119.5 587.4M128 590.1L136.4 589M128.4 515.5L134.9 520.6M128.4 515.5L128.9 506.8M128.7 605.8L125.2 599.9M128.7 605.8L124.8 610.4M128.7 500L126.7 501.4M128.7 500L133 502M128.7 584L134.4 590.2M128.7 584L131.8 586.1M128.8 576.4L135.5 573.4M128.8 576.4L129.7 581.2M128.8 513L123.7 512.5M128.8 513L128.4 515.5M128.9 506.8L121.8 504.4M128.9 506.8L134.9 501.2M129.2 501.4L128.9 506.8M129.2 501.4L130.8 498.8M129.5 520.2L134.9 520.6M129.5 520.2L121.5 520.6M129.6 587.3L128.7 584M129.6 587.3L136.5 583.4M129.7 581.2L134.6 574M129.7 581.2L128 578.5M129.7 497.3L122.6 501.6M129.7 497.3L134 504M129.9 591.7L125.2 584.9M129.9 591.7L123.7 597.7M130.1 518.3L129.5 520.2M130.1 518.3L131.2 514.7M130.7 572.6L137.7 573.2M130.7 572.6L121.9 572.7M130.8 498.8L133.9 499.2M130.8 498.8L133 502M130.9 590.1L134 595.5M130.9 590.1L127.5 594.7M131 510.4L124.3 515M131 510.4L135.8 517M131 493.5L128.7 500M131 493.5L130.8 498.8M131 595.5L135.4 591.9M131 595.5L126.9 602.6M131.1 573.4L135.5 573.4M131.1 573.4L123.2 576.9M131.2 514.7L125.7 518.3M131.2 514.7L128.8 513M131.2 578.4L135.5 573.4M131.2 578.4L139.9 579.5M131.4 584L125.8 581M131.4 584L134.5 578.1M131.4 505L132.8 506.4M131.4 505L123.6 507.1M131.6 520.5L127.6 521.5M131.6 520.5L125.1 520.9M131.8 488.7L132.6 491.2M131.8 488.7L133.6 489.4M131.8 586.1L128 590.1M131.8 586.1L123.5 587.3M131.9 518.3L134.9 520.6M131.9 518.3L125.7 518.3M132 591.7L127.5 594.7M132 591.7L129.6 587.3M132.1 495.8L134.9 501.2M132.1 495.8L135.3 496.4M132.3 581.6L129.7 581.2M132.3 581.6L134.5 578.1M132.4 576.9L125 572.7M132.4 576.9L130.7 572.6M132.6 491.2L135.3 496.4M132.6 491.2L129.7 497.3M132.7 573.2L132.4 576.9M132.7 573.2L134.6 574M132.7 520.1L127.6 521.5M132.7 520.1L124.5 521.7M132.8 506.4L135.8 512.3M132.8 506.4L128.9 506.8M133 502L138 507M133 502L133.9 499.2M133.3 520.1L127.6 521.5M133.3 520.1L140.3 520M133.4 600.2L126.9 602.6M133.4 600.2L140.6 600.5M133.6 489.4L135.3 496.4M133.6 489.4L138.9 496.1M133.9 515.1L127.2 520.8M133.9 515.1L142.7 515.4M133.9 499.2L138.5 502M133.9 499.2L135.3 496.4M134 504L134.4 510.4M134 504L132.8 506.4M134 595.5L137.3 594.3M134 595.5L127.5 594.7M134.4 590.2L130.9 590.1M134.4 590.2L135.4 591.9M134.4 510.4L133 502M134.4 510.4L126.4 507.8M134.5 578.1L135.1 582M134.5 578.1L131.2 578.4M134.5 584.7L128 590.1M134.5 584.7L134.5 578.1M134.6 574L140.4 572.8M134.6 574L138.8 576M134.8 507L138.5 512.3M134.8 507L126.4 507.8M134.9 501.2L133 502M134.9 501.2L137.1 503.9M134.9 520.6L128.4 515.5M134.9 520.6L137.8 521.2M135.1 582L139.7 584.3M135.1 582L128.7 584M135.3 496.4L132.6 491.2M135.3 496.4L137.1 503.9M135.4 576.4L140.4 572.8M135.4 576.4L142.2 581.5M135.4 591.9L139.7 584.3M135.4 591.9L136.6 600.4M135.5 573.4L132.4 576.9M135.5 573.4L132.7 573.2M135.8 512.3L142.3 511.8M135.8 512.3L131.4 505M135.8 517L132.7 520.1M135.8 517L136.3 520M136.3 596.9L136.4 589M136.3 596.9L138.9 592.1M136.3 520L130.1 518.3M136.3 520L132.7 520.1M136.4 589L142.3 591.4M136.4 589L135.1 582M136.5 583.4L143 583.4M136.5 583.4L131.8 586.1M136.6 600.4L133.4 600.2M136.6 600.4L140.7 594.3M137 510.2L142.7 515.4M137 510.2L145.6 510.5M137.1 503.9L131 510.4M137.1 503.9L142.5 504.4M137.3 594.3L142.4 589.1M137.3 594.3L140.6 600.5M137.3 515L131.6 520.5M137.3 515L134.9 520.6M137.6 578.9L145.6 578.9M137.6 578.9L135.1 582M137.7 573.2L138 565.1M137.7 573.2L140.9 573.6M137.8 498.7L138 507M137.8 498.7L131.4 505M137.8 521.2L133.3 520.1M137.8 521.2L143.4 520.7M137.8 518.5L142.3 511.8M137.8 518.5L133.9 515.1M138 507L132.8 506.4M138 507L142.3 511.8M138 565.1L140.9 573.6M138 565.1L137.7 573.2M138.2 582L135.1 582M138.2 582L134.5 578.1M138.3 573.3L142.8 578.4M138.3 573.3L137.7 573.2M138.5 502L143.7 499.7M138.5 502L137.1 503.9M138.5 586L137.6 578.9M138.5 586L135.1 582M138.5 512.3L131.2 514.7M138.5 512.3L140.3 509.5M138.5 598.1L137.3 594.3M138.5 598.1L133.4 600.2M138.8 576L138.3 573.3M138.8 576L142.8 578.4M138.9 592.1L142.4 589.1M138.9 592.1L145.8 595.5M138.9 496.1L143.7 499.7M138.9 496.1L142.9 493.3M139.1 602.1L138.5 598.1M139.1 602.1L134 595.5M139.6 504.4L133 502M139.6 504.4L142.7 510M139.7 493.3L131 493.5M139.7 493.3L133.9 499.2M139.7 584.3L131.4 584M139.7 584.3L145.3 587.3M139.8 590.1L138.9 592.1M139.8 590.1L142.1 586M139.9 579.5L145.9 573.2M139.9 579.5L134.5 584.7M140.3 509.5L145.3 511.7M140.3 509.5L144.1 517.2M140.3 520L149.2 521.1M140.3 520L141.9 517.4M140.4 572.8L145.6 578.9M140.4 572.8L132.4 576.9M140.4 515.8L142.7 510M140.4 515.8L135.8 512.3M140.6 499.6L138 507M140.6 499.6L139.6 504.4M140.6 600.5L134 595.5M140.6 600.5L139.1 602.1M140.7 594.3L134 595.5M140.7 594.3L142.1 586M140.8 520.6L140.4 515.8M140.8 520.6L142.3 511.8M140.9 573.6L148.9 574.1M140.9 573.6L139.9 579.5M141.2 507.3L142.7 510M141.2 507.3L138.5 502M141.7 576.5L140.4 572.8M141.7 576.5L138.8 576M141.9 501.2L140.3 509.5M141.9 501.2L141.2 507.3M141.9 517.4L137 510.2M141.9 517.4L143.5 520.9M142.1 586L146.8 584.6M142.1 586L142.8 578.4M142.1 486.7L139.7 493.3M142.1 486.7L145.8 493.5M142.2 497L144 491.2M142.2 497L140.6 499.6M142.2 581.5L141.7 576.5M142.2 581.5L140.4 572.8M142.3 591.4L142.3 597M142.3 591.4L142.8 599.4M142.3 511.8L145.6 510.5M142.3 511.8L138 507M142.3 597L148.7 599.6M142.3 597L134 595.5M142.4 589.1L136.5 583.4M142.4 589.1L142.2 581.5M142.5 568.8L145.9 573.2M142.5 568.8L137.7 573.2M142.5 504.4L138 507M142.5 504.4L147.6 501.5M142.7 515.4L147.3 512.1M142.7 515.4L141.2 507.3M142.7 510L146.3 503.8M142.7 510L134.4 510.4M142.8 599.4L149 594.6M142.8 599.4L142.3 591.4M142.8 578.4L149.2 583.4M142.8 578.4L139.7 584.3M142.9 493.3L141.9 501.2M142.9 493.3L148.5 496.3M143 583.4L146.8 584.6M143 583.4L147 581.5M143.2 572.8L135.5 573.4M143.2 572.8L140.9 573.6M143.4 520.7L140.4 515.8M143.4 520.7L136.3 520M143.5 520.9L146.7 515M143.5 520.9L143.4 520.7M143.7 499.7L142.9 493.3M143.7 499.7L140.6 499.6M143.9 572.9L138.3 573.3M143.9 572.9L139.9 579.5M144 491.2L142.1 486.7M144 491.2L142.9 493.3M144 581.9L147 581.5M144 581.9L150.1 576.7M144 594.7L142.1 586M144 594.7L138.5 598.1M144.1 517.2L142.7 510M144.1 517.2L151.5 512.5M144.2 502.2L140.6 499.6M144.2 502.2L149.5 503.9M144.7 496.1L138.5 502M144.7 496.1L142.9 493.3M144.9 506.7L153.5 506.6M144.9 506.7L138.5 502M145 592.6L152.1 595M145 592.6L139.8 590.1M145.1 597.2L137.3 594.3M145.1 597.2L140.7 594.3M145.3 587.3L138.2 582M145.3 587.3L145.8 595.5M145.3 511.7L151.6 515.2M145.3 511.7L142.5 504.4M145.4 576.2L147 574M145.4 576.2L152.2 579.3M145.6 578.9L143.2 572.8M145.6 578.9L150.1 576.7M145.6 510.5L147.3 512.1M145.6 510.5L150.6 517.2M145.8 595.5L142.3 591.4M145.8 595.5L138.5 598.1M145.8 493.5L144 491.2M145.8 493.5L146.4 499M145.9 573.2L153.9 571.6M145.9 573.2L138.8 576M146.1 520.3L147.3 512.1M146.1 520.3L147.3 518.2M146.3 503.8L153.5 506.6M146.3 503.8L152.8 498.6M146.4 499L144 491.2M146.4 499L138.9 496.1M146.6 590.2L150.7 591.5M146.6 590.2L145 592.6M146.7 515L141.9 517.4M146.7 515L140.8 520.6M146.8 584.6L153.8 586.2M146.8 584.6L151.1 586.3M146.9 520.6L150.6 517.2M146.9 520.6L140.8 520.6M147 574L142.5 568.8M147 574L147 581.5M147 581.5L147.7 586.2M147 581.5L145.6 578.9M147.3 512.1L149.5 520.7M147.3 512.1L141.9 517.4M147.3 518.2L142.7 515.4M147.3 518.2L145.6 510.5M147.6 576.9L149.2 583.4M147.6 576.9L142.8 578.4M147.6 501.5L146.3 503.8M147.6 501.5L149.4 494.5M147.7 586.2L142.4 589.1M147.7 586.2L152.2 579.3M148 597.8L156.2 596.8M148 597.8L148.8 589.3M148.4 572.2L143.2 572.8M148.4 572.2L156.5 571.5M148.5 496.3L150.5 502.6M148.5 496.3L144.7 496.1M148.7 599.6L142.8 599.4M148.7 599.6L156.2 596.8M148.7 509.1L142.5 504.4M148.7 509.1L147.3 512.1M148.8 589.3L151.1 586.3M148.8 589.3L144 594.7M148.9 574.1L150.7 580.8M148.9 574.1L142.8 578.4M149 499L146.4 499M149 499L142.9 493.3M149 594.6L148 597.8M149 594.6L147.7 586.2M149.2 521.1L156.4 523.4M149.2 521.1L149.5 520.7M149.2 583.4L147.6 576.9M149.2 583.4L146.8 584.6M149.3 515.9L144.1 517.2M149.3 515.9L145.6 510.5M149.4 494.5L143.7 499.7M149.4 494.5L150.5 502.6M149.5 520.7L146.1 520.3M149.5 520.7L146.9 520.6M149.5 503.9L149 499M149.5 503.9L147.3 512.1M150.1 576.7L154.8 578.5M150.1 576.7L148.9 574.1M150.2 597L156.2 596.8M150.2 597L156.3 591.5M150.2 507.9L151.5 512.5M150.2 507.9L142.3 511.8M150.5 502.6L147.6 501.5M150.5 502.6L152.8 498.6M150.6 517.2L149.2 521.1M150.6 517.2L151.1 521M150.7 580.8L144 581.9M150.7 580.8L145.3 587.3M150.7 591.5L149 594.6M150.7 591.5L152.1 595M150.8 572.4L147.6 576.9M150.8 572.4L154.8 578.5M151.1 586.3L154.1 581.8M151.1 586.3L154.8 578.5M151.1 521L146.9 520.6M151.1 521L143.4 520.7M151.3 496.1L150.5 502.6M151.3 496.1L153.4 497M151.5 512.5L149.3 515.9M151.5 512.5L145.6 510.5M151.6 515.2L145.3 511.7M151.6 515.2L144.1 517.2M151.7 510.5L155.4 503.8M151.7 510.5L150.5 502.6M151.9 573L156.2 570.2M151.9 573L143.2 572.8M152.1 595L159.8 597.3M152.1 595L145.1 597.2M152.2 579.3L145.6 578.9M152.2 579.3L157.1 581.3M152.6 589.8L145.8 595.5M152.6 589.8L160.7 589.8M152.7 520.6L159.2 515.2M152.7 520.6L156.4 518.4M152.7 505L151.5 512.5M152.7 505L153.7 513.1M152.8 498.6L153.4 497M152.8 498.6L147.6 501.5M153 584.2L153.8 592.4M153 584.2L154.7 583.9M153.4 570.3L154.2 576.3M153.4 570.3L160 571.5M153.4 597L152.1 595M153.4 597L159.8 597.3M153.4 497L149 499M153.4 497L156.5 491.4M153.5 506.6L160.6 507.6M153.5 506.6L155.4 503.8M153.5 522.7L149.2 521.1M153.5 522.7L156.2 523.9M153.6 502L148.5 496.3M153.6 502L160.6 502.7M153.7 513.1L147.3 518.2M153.7 513.1L146.7 515M153.8 586.2L150.7 580.8M153.8 586.2L152.2 579.3M153.8 592.4L158 589.1M153.8 592.4L145.8 595.5M153.9 571.6L158.4 574.2M153.9 571.6L156.2 570.2M154 522.8L146.9 520.6M154 522.8L162.8 523.3M154.1 581.8L150.7 580.8M154.1 581.8L152.2 579.3M154.2 576.3L145.9 573.2M154.2 576.3L150.7 580.8M154.5 518.3L158.7 520.4M154.5 518.3L156.5 512.4M154.6 594.6L160.7 594.9M154.6 594.6L153.8 592.4M154.7 583.9L157.7 586.9M154.7 583.9L153.8 586.2M154.8 578.5L149.2 583.4M154.8 578.5L153.4 570.3M154.9 515.6L161.9 519.8M154.9 515.6L156.4 518.4M154.9 499.6L153.5 506.6M154.9 499.6L153.6 502M155.2 509.3L161.8 510.1M155.2 509.3L148.7 509.1M155.3 494L151.3 496.1M155.3 494L148.5 496.3M155.3 573.1L160 571.5M155.3 573.1L158.7 579.6M155.4 503.8L156.7 501.7M155.4 503.8L162.8 501.4M155.8 589.9L163.4 587.4M155.8 589.9L158 589.1M156.2 570.2L150.1 576.7M156.2 570.2L153.9 571.6M156.2 596.8L159.9 591.6M156.2 596.8L156.3 591.5M156.2 565.9L155.3 573.1M156.2 565.9L164.1 561.8M156.2 523.9L164 519.7M156.2 523.9L158.7 520.4M156.3 591.5L163.4 587.4M156.3 591.5L153.8 592.4M156.3 507.4L153.5 506.6M156.3 507.4L152.7 505M156.4 523.4L154.5 518.3M156.4 523.4L156.2 523.9M156.4 518.4L152.7 520.6M156.4 518.4L156.5 512.4M156.5 491.4L152.8 498.6M156.5 491.4L163.7 490.7M156.5 512.4L154.5 518.3M156.5 512.4L148.7 509.1M156.5 571.5L155.3 573.1M156.5 571.5L152.2 579.3M156.6 497.3L155.4 503.8M156.6 497.3L148.5 496.3M156.7 501.7L157.7 509.1M156.7 501.7L149.5 503.9M156.8 576.6L154.2 576.3M156.8 576.6L155.3 573.1M157.1 581.3L151.1 586.3M157.1 581.3L155.8 589.9M157.7 586.9L156.3 591.5M157.7 586.9L153.8 586.2M157.7 509.1L153.6 502M157.7 509.1L156.5 512.4M157.9 595.3L162.6 592M157.9 595.3L155.8 589.9M158 589.1L153.8 586.2M158 589.1L159.7 586.1M158.1 599.9L164.2 594.7M158.1 599.9L150.2 597M158.4 574.2L156.2 565.9M158.4 574.2L161.8 573.9M158.5 504.3L160.6 507.6M158.5 504.3L155.4 503.8M158.6 584.8L160.7 589.8M158.6 584.8L156.3 591.5M158.7 579.6L156.8 576.6M158.7 579.6L157.7 586.9M158.7 520.4L153.5 522.7M158.7 520.4L151.1 521M159.1 525.4L162.6 527.9M159.1 525.4L153.5 522.7M159.2 515.2L151.5 512.5M159.2 515.2L154.9 515.6M159.2 569.7L156.5 571.5M159.2 569.7L161.8 573.9M159.7 586.1L160 581.6M159.7 586.1L160.7 594.9M159.8 597.3L155.8 589.9M159.8 597.3L160.7 594.9M159.9 591.6L156.2 596.8M159.9 591.6L153.8 592.4M160 571.5L156.2 565.9M160 571.5L153.9 571.6M160 581.6L153.8 586.2M160 581.6L158.4 574.2M160.1 518.3L154.9 515.6M160.1 518.3L154 522.8M160.3 523.6L159.1 525.4M160.3 523.6L166.5 518.3M160.6 502.7L165.3 507.4M160.6 502.7L155.2 509.3M160.6 527.6L164 519.7M160.6 527.6L160.3 523.6M160.6 507.6L156.5 512.4M160.6 507.6L164.6 515.5M160.6 576.5L152.2 579.3M160.6 576.5L168.3 579.2M160.7 594.9L155.8 589.9M160.7 594.9L157.9 595.3M160.7 589.8L163.4 587.4M160.7 589.8L162.6 592M161.2 567.2L164.1 561.8M161.2 567.2L162.2 571.6M161.5 584.4L158.6 584.8M161.5 584.4L164.1 583.7M161.6 526.4L168 521.1M161.6 526.4L166.8 523.6M161.8 573.9L156.2 570.2M161.8 573.9L162 569M161.8 510.1L158.5 504.3M161.8 510.1L162.2 504M161.9 519.8L159.2 515.2M161.9 519.8L164 519.7M162 569L164.4 574M162 569L163.8 566.1M162.2 504L153.6 502M162.2 504L157.7 509.1M162.2 571.6L168.9 565.6M162.2 571.6L153.9 571.6M162.5 564.3L169.4 560.5M162.5 564.3L164.9 559.2M162.6 582.1L169.8 576.8M162.6 582.1L169.9 581.2M162.6 592L168.9 597.7M162.6 592L168.9 586.5M162.6 527.9L164.6 536.4M162.6 527.9L170.8 525.6M162.8 523.3L159.1 525.4M162.8 523.3L162.8 529.8M162.8 529.8L156.2 523.9M162.8 529.8L164.6 536.4M162.8 501.4L162.2 504M162.8 501.4L158.5 504.3M162.9 506.8L163.4 512.7M162.9 506.8L164.6 515.5M163.3 518.4L162.8 523.3M163.3 518.4L164.6 515.5M163.4 587.4L165 578.7M163.4 587.4L156.3 591.5M163.4 512.7L160.1 518.3M163.4 512.7L161.8 510.1M163.7 490.7L156.5 491.4M163.7 490.7L168.6 496.4M163.8 566.1L162 569M163.8 566.1L166.1 571.3M164 519.7L163.4 512.7M164 519.7L159.2 515.2M164.1 583.7L168.3 579.2M164.1 583.7L168.9 586.5M164.1 531.6L165.9 529.2M164.1 531.6L168.2 531.4M164.1 561.8L156.2 565.9M164.1 561.8L167.4 568.4M164.2 594.7L165.5 591.4M164.2 594.7L156.2 596.8M164.2 538L168.7 538.3M164.2 538L164.9 530.4M164.4 567.5L156.2 565.9M164.4 567.5L164.4 574M164.4 574L168.3 579.2M164.4 574L160 581.6M164.5 526.5L164 519.7M164.5 526.5L169.9 529.1M164.6 536.4L166 539.2M164.6 536.4L165.9 529.2M164.6 554.4L165.4 549.6M164.6 554.4L169.4 560.5M164.6 515.5L166.5 518.3M164.6 515.5L161.8 510.1M164.6 545.1L165.4 549.6M164.6 545.1L167.5 547.7M164.7 556.8L173.3 557.1M164.7 556.8L170.3 552.3M164.9 546.5L165.3 547.3M164.9 546.5L171.8 543.9M164.9 562.8L164.1 561.8M164.9 562.8L168.8 555.4M164.9 510.2L171.2 515.2M164.9 510.2L168.6 518.1M164.9 530.4L171.9 533.3M164.9 530.4L166 539.2M164.9 559.2L165.9 559.5M164.9 559.2L172.4 554.8M165 539.6L169.3 533.7M165 539.6L169.5 544.6M165 578.7L171.4 574M165 578.7L163.4 587.4M165.1 505.3L157.7 509.1M165.1 505.3L173.7 505.3M165.1 534.9L165.9 529.2M165.1 534.9L168.7 538.3M165.3 547.3L166.8 554.5M165.3 547.3L165 539.6M165.3 557.8L173.3 557.1M165.3 557.8L172.4 554.8M165.3 507.4L168.6 513M165.3 507.4L165.8 512.2M165.4 549.6L164.6 554.4M165.4 549.6L165.8 543.8M165.5 591.4L173.9 589.8M165.5 591.4L172.9 592.2M165.5 541.9L169.5 544.6M165.5 541.9L164.6 545.1M165.8 543.8L164.6 545.1M165.8 543.8L167.9 551.9M165.8 575.6L168.2 584M165.8 575.6L164.4 567.5M165.8 512.2L174.7 512.4M165.8 512.2L168.6 518.1M165.9 559.5L161.2 567.2M165.9 559.5L168.8 555.4M165.9 529.2L165.1 534.9M165.9 529.2L162.6 527.9M165.9 552.4L169.4 560.5M165.9 552.4L165.3 557.8M166 539.2L164.9 530.4M166 539.2L168.7 538.3M166 533.8L162.8 529.8M166 533.8L167.9 536.2M166.1 571.3L158.4 574.2M166.1 571.3L173 568.2M166.4 501.4L162.9 506.8M166.4 501.4L172.1 502.4M166.5 518.3L168.6 513M166.5 518.3L165.8 512.2M166.6 586.2L173.1 583.7M166.6 586.2L168.9 586.5M166.7 565L169.4 560.5M166.7 565L164.4 567.5M166.8 554.5L167.6 563.4M166.8 554.5L164.9 546.5M166.8 597.5L162.6 592M166.8 597.5L165.5 591.4M166.8 523.6L168.6 518.1M166.8 523.6L162.8 523.3M166.9 582L159.7 586.1M166.9 582L160.6 576.5M166.9 510L172.4 512.9M166.9 510L167.6 515.4M167 542L165 539.6M167 542L169.6 549.1M167.2 557.2L175.5 554.7M167.2 557.2L173.3 557.1M167.4 568.4L164.4 574M167.4 568.4L168.1 573.8M167.5 547.7L169.5 544.6M167.5 547.7L164.6 554.4M167.6 563.4L175.5 561M167.6 563.4L164.7 556.8M167.6 515.4L174.2 510.5M167.6 515.4L170.4 510.4M167.9 551.9L165.8 543.8M167.9 551.9L164.7 556.8M167.9 536.2L164.1 531.6M167.9 536.2L165.5 541.9M168 521.1L166.5 518.3M168 521.1L170.8 525.6M168.1 573.8L173 568.2M168.1 573.8L168.9 565.6M168.2 531.4L164.2 538M168.2 531.4L172.1 523.7M168.2 500L160.6 502.7M168.2 500L166.4 501.4M168.2 584L170.4 578.7M168.2 584L174.2 578.6M168.3 579.2L173 580.8M168.3 579.2L173.1 583.7M168.3 502.5L169.2 506.9M168.3 502.5L168.6 496.4M168.6 496.4L173.1 499.2M168.6 496.4L176.6 493.8M168.6 513L165.8 512.2M168.6 513L168 521.1M168.6 518.1L166.8 523.6M168.6 518.1L172.2 518.2M168.7 538.3L166 539.2M168.7 538.3L169.3 533.7M168.8 555.4L174.8 549.4M168.8 555.4L167.2 557.2M168.9 565.6L169.4 560.5M168.9 565.6L170.3 557.5M168.9 597.7L166.8 597.5M168.9 597.7L165.5 591.4M168.9 586.5L173.9 589.8M168.9 586.5L165.5 591.4M169.2 506.9L175.1 502.5M169.2 506.9L173.1 499.2M169.2 571.2L177.5 570.7M169.2 571.2L168.1 573.8M169.3 522.8L161.9 519.8M169.3 522.8L168 521.1M169.3 533.7L165.1 534.9M169.3 533.7L162.8 529.8M169.4 560.5L167.2 557.2M169.4 560.5L167.9 551.9M169.5 544.6L165 539.6M169.5 544.6L164.2 538M169.6 549.1L164.6 554.4M169.6 549.1L171.8 543.9M169.8 576.8L174.7 570.5M169.8 576.8L170.4 578.7M169.9 581.2L163.4 587.4M169.9 581.2L169.8 576.8M169.9 529.1L170.8 525.6M169.9 529.1L164.1 531.6M169.9 530.5L168.2 531.4M169.9 530.5L162.6 527.9M170 546.3L164.9 546.5M170 546.3L170.3 541.5M170 584.3L171.6 576.3M170 584.3L172.6 586.2M170.2 505.3L173.1 499.2M170.2 505.3L165.1 505.3M170.2 568.3L174.7 570.5M170.2 568.3L163.8 566.1M170.3 557.5L172.6 548.9M170.3 557.5L177.6 554.8M170.3 498.6L165.1 505.3M170.3 498.6L176.6 493.8M170.3 552.3L172.6 548.9M170.3 552.3L174.8 549.4M170.3 541.5L177.4 542.3M170.3 541.5L177 536.4M170.4 578.7L171.4 574M170.4 578.7L169.2 571.2M170.4 536.5L174.9 539.7M170.4 536.5L171.5 528.1M170.4 510.4L165.1 505.3M170.4 510.4L170.2 505.3M170.8 589.7L168.2 584M170.8 589.7L173.1 583.7M170.8 525.6L175.9 527.7M170.8 525.6L174.2 520.9M170.9 520.2L175.9 527.7M170.9 520.2L168.6 513M171.2 515.2L176.1 510.4M171.2 515.2L176.3 515.4M171.4 574L165.8 575.6M171.4 574L175.3 575.5M171.5 528.1L178.4 523.7M171.5 528.1L169.3 522.8M171.6 576.3L173.5 572.9M171.6 576.3L165.8 575.6M171.7 497.3L168.6 496.4M171.7 497.3L170.3 498.6M171.7 571.3L170.2 568.3M171.7 571.3L168.1 573.8M171.8 543.9L170.3 552.3M171.8 543.9L178.8 538.7M171.9 533.3L171.5 528.1M171.9 533.3L176.4 530.5M172.1 502.4L171.7 497.3M172.1 502.4L165.3 507.4M172.1 523.7L179.5 520.3M172.1 523.7L175.1 518.4M172.2 518.2L171.2 515.2M172.2 518.2L170.8 525.6M172.2 560.3L166.7 565M172.2 560.3L167.2 557.2M172.4 507.1L165.8 512.2M172.4 507.1L170.4 510.4M172.4 554.8L175.5 554.7M172.4 554.8L165.9 552.4M172.4 512.9L173.7 505.3M172.4 512.9L176.3 515.4M172.6 586.2L174.2 578.6M172.6 586.2L173 580.8M172.6 548.9L173.3 552.4M172.6 548.9L173.6 546.5M172.9 539.6L167.9 536.2M172.9 539.6L173.6 546.5M172.9 592.2L175.2 596.6M172.9 592.2L170 584.3M173 580.8L176.7 584.3M173 580.8L176.4 588.7M173 568.2L179.5 573.7M173 568.2L176.8 562.5M173.1 499.2L175.9 507.6M173.1 499.2L170.3 498.6M173.1 526.5L178.6 528.1M173.1 526.5L169.9 530.5M173.1 595.5L166.8 597.5M173.1 595.5L165.5 591.4M173.1 583.7L176.7 584.3M173.1 583.7L175.3 575.5M173.3 557.1L181.2 560M173.3 557.1L167.2 557.2M173.3 552.4L171.8 543.9M173.3 552.4L174.8 549.4M173.5 537.1L177.4 542.3M173.5 537.1L169.9 529.1M173.5 572.9L175.2 580.9M173.5 572.9L177.1 568.1M173.6 515.9L174.2 520.9M173.6 515.9L179.6 515.6M173.6 546.5L169.5 544.6M173.6 546.5L180.6 551.6M173.7 505.3L174.2 510.5M173.7 505.3L176.1 510.4M173.7 531.1L164.9 530.4M173.7 531.1L168.2 531.4M173.9 589.8L175.2 580.9M173.9 589.8L168.2 584M174 562.7L180.1 567.6M174 562.7L177.2 557.8M174.2 578.6L178.1 576.6M174.2 578.6L181.7 581.4M174.2 510.5L175.1 518.4M174.2 510.5L166.9 510M174.2 520.9L168.6 518.1M174.2 520.9L171.2 515.2M174.4 542.1L177.5 549.8M174.4 542.1L170.4 536.5M174.7 570.5L171.4 574M174.7 570.5L166.1 571.3M174.7 512.4L179.6 515.6M174.7 512.4L172.4 512.9M174.8 533.7L177 536.4M174.8 533.7L179.2 541.3M174.8 549.4L173.3 557.1M174.8 549.4L181 545M174.9 565.2L170.3 557.5M174.9 565.2L174.7 570.5M174.9 539.7L170 546.3M174.9 539.7L170.4 536.5M175 523.4L176.8 520.1M175 523.4L170.8 525.6M175.1 502.5L180.6 507.2M175.1 502.5L168.2 500M175.1 518.4L176.3 515.4M175.1 518.4L174.2 510.5M175.2 580.9L166.9 582M175.2 580.9L176.4 588.7M175.2 596.6L172.9 592.2M175.2 596.6L178.7 592.2M175.2 544.2L180.9 549.3M175.2 544.2L176.8 553M175.3 575.5L174.2 578.6M175.3 575.5L179.5 573.7M175.4 587.6L175.2 580.9M175.4 587.6L182.6 588.9M175.5 554.7L170.3 557.5M175.5 554.7L180.9 549.3M175.5 561L178.9 560.6M175.5 561L173 568.2M175.9 527.7L174.2 520.9M175.9 527.7L169.3 533.7M175.9 507.6L173.7 505.3M175.9 507.6L170.4 510.4M176.1 510.4L180.6 507.2M176.1 510.4L178.7 512.6M176.2 579.4L178.7 586M176.2 579.4L172.6 586.2M176.3 515.4L182.2 515.9M176.3 515.4L167.6 515.4M176.4 525.9L178.4 523.7M176.4 525.9L180 526.5M176.4 530.5L185.3 531.2M176.4 530.5L182.1 527.6M176.4 588.7L185.3 589.4M176.4 588.7L182.8 583.4M176.6 493.8L168.6 496.4M176.6 493.8L171.7 497.3M176.7 584.3L184.1 581M176.7 584.3L173.9 589.8M176.8 562.5L179.5 558.4M176.8 562.5L185.4 563M176.8 553L180.6 555.2M176.8 553L179.5 558.4M176.8 520.1L174.7 512.4M176.8 520.1L173.1 526.5M177 574.1L183.1 579.5M177 574.1L175.3 575.5M177 536.4L175.9 527.7M177 536.4L180.5 533.5M177.1 546.2L171.8 543.9M177.1 546.2L176.8 553M177.1 568.1L168.9 565.6M177.1 568.1L175.3 575.5M177.2 557.8L169.4 560.5M177.2 557.8L184.1 554.9M177.4 542.3L169.5 544.6M177.4 542.3L174.9 539.7M177.4 504L180.3 505.2M177.4 504L180.5 510.6M177.5 549.8L179.2 541.3M177.5 549.8L179 544.1M177.5 570.7L173 568.2M177.5 570.7L178.1 576.6M177.6 554.8L179.6 562.7M177.6 554.8L176.8 553M177.9 507.8L179.6 515.6M177.9 507.8L186.7 507.6M178 565.2L176.8 562.5M178 565.2L182.7 562.1M178.1 533.9L174.8 533.7M178.1 533.9L184.4 539.8M178.1 576.6L183.1 579.5M178.1 576.6L178.2 581.8M178.2 581.8L185.3 578.6M178.2 581.8L179.1 588.7M178.2 501.3L172.1 502.4M178.2 501.3L170.3 498.6M178.4 517.4L178.4 523.7M178.4 517.4L182.2 515.9M178.4 523.7L175.9 527.7M178.4 523.7L176.4 530.5M178.6 528.1L175.9 527.7M178.6 528.1L176.8 520.1M178.7 592.2L185.3 589.4M178.7 592.2L170.8 589.7M178.7 586L184.1 581M178.7 586L176.2 579.4M178.7 512.6L175.9 507.6M178.7 512.6L186.9 512.2M178.8 538.7L177.1 546.2M178.8 538.7L179.6 530.5M178.9 560.6L179.5 558.4M178.9 560.6L177.6 554.8M179 544.1L183.3 546.9M179 544.1L174.8 549.4M179.1 588.7L175.2 580.9M179.1 588.7L176.7 584.3M179.2 536.2L185 533.3M179.2 536.2L182.7 536.5M179.2 541.3L181.5 539.8M179.2 541.3L187.2 544.8M179.4 499.1L176.6 493.8M179.4 499.1L180.6 507.2M179.5 558.4L174.9 565.2M179.5 558.4L182.4 557.7M179.5 520.3L182.2 515.9M179.5 520.3L173.6 515.9M179.5 573.7L173.5 572.9M179.5 573.7L183.1 579.5M179.6 562.7L177.6 554.8M179.6 562.7L184.4 565.4M179.6 515.6L171.2 515.2M179.6 515.6L182.2 515.9M179.6 530.5L187.5 533.7M179.6 530.5L175.9 527.7M179.9 578.9L178.1 576.6M179.9 578.9L171.6 576.3M180 584.5L175.4 587.6M180 584.5L188.9 584M180 526.5L172.1 523.7M180 526.5L184.9 528.2M180.1 567.6L182.7 562.1M180.1 567.6L179.5 573.7M180.3 505.2L174.2 510.5M180.3 505.2L184.2 506.8M180.3 547.6L184.7 549.5M180.3 547.6L181 545M180.5 510.6L185.7 514.4M180.5 510.6L185 512.1M180.5 533.5L186 537M180.5 533.5L179.2 541.3M180.5 502L175.1 502.5M180.5 502L185.3 509.1M180.6 551.6L177.5 549.8M180.6 551.6L179 544.1M180.6 507.2L185.3 509.1M180.6 507.2L178.2 501.3M180.6 555.2L187.2 560.1M180.6 555.2L179.6 562.7M180.7 512.4L176.1 510.4M180.7 512.4L186.7 507.6M180.9 549.3L173.3 552.4M180.9 549.3L177.5 549.8M180.9 517.2L187.4 517.2M180.9 517.2L180.7 512.4M181 545L185.6 547.2M181 545L184.7 549.5M181.2 560L187.6 554.6M181.2 560L183.4 567.6M181.5 539.8L179 544.1M181.5 539.8L177.4 542.3M181.6 575.8L188.2 572.9M181.6 575.8L187.3 581.1M181.7 581.4L182.6 588.9M181.7 581.4L173.1 583.7M181.8 522.8L184.4 517.1M181.8 522.8L178.4 523.7M181.9 565.7L186.7 565.3M181.9 565.7L180.1 567.6M182.1 527.6L175.9 527.7M182.1 527.6L185.8 525.2M182.2 509.4L174.2 510.5M182.2 509.4L177.9 507.8M182.2 515.9L190.5 517.8M182.2 515.9L186.9 512.2M182.4 557.7L180.6 555.2M182.4 557.7L178 565.2M182.6 520.3L180.7 512.4M182.6 520.3L185.7 514.4M182.6 588.9L178.2 581.8M182.6 588.9L181.7 581.4M182.7 562.1L174 562.7M182.7 562.1L189.5 557.2M182.7 536.5L179.2 536.2M182.7 536.5L184.9 528.2M182.8 583.4L187.3 581.1M182.8 583.4L176.2 579.4M182.9 552.7L188 549.8M182.9 552.7L190.4 554.2M183 531.6L183.1 525.6M183 531.6L183.6 522.7M183.1 579.5L178.7 586M183.1 579.5L175.3 575.5M183.1 525.6L176.8 520.1M183.1 525.6L176.4 525.9M183.3 546.9L191.1 549.7M183.3 546.9L179 544.1M183.4 567.6L190.6 571.3M183.4 567.6L177.5 570.7M183.6 522.7L191 523.7M183.6 522.7L186.8 527.6M183.8 544.4L177.1 546.2M183.8 544.4L182.9 552.7M184.1 554.9L181.2 560M184.1 554.9L180.3 547.6M184.1 581L179.5 573.7M184.1 581L176.7 584.3M184.2 506.8L185 512.1M184.2 506.8L189.5 510.3M184.2 561L186.5 552.7M184.2 561L184.1 554.9M184.4 517.1L191.3 519.8M184.4 517.1L176.3 515.4M184.4 539.8L181.5 539.8M184.4 539.8L189 546.9M184.4 565.4L190.3 559.7M184.4 565.4L188.2 572.9M184.7 549.5L188.8 541.9M184.7 549.5L176.8 553M184.8 575.8L183.4 567.6M184.8 575.8L177 574.1M184.9 528.2L186 537M184.9 528.2L185.8 525.2M185 533.3L189.3 530.5M185 533.3L177 536.4M185 512.1L182.2 515.9M185 512.1L180.3 505.2M185 570.2L191.7 568M185 570.2L188.2 572.9M185.3 509.1L186.7 507.6M185.3 509.1L180.7 512.4M185.3 589.4L182.8 583.4M185.3 589.4L184.1 581M185.3 578.6L188.9 584M185.3 578.6L191.2 576.4M185.3 531.2L192.5 531.8M185.3 531.2L191.9 536.6M185.4 558.2L187.2 560.1M185.4 558.2L179.6 562.7M185.4 563L191.1 566M185.4 563L187.6 554.6M185.6 547.2L187 538.9M185.6 547.2L186.2 541.4M185.7 514.4L180.6 507.2M185.7 514.4L179.5 520.3M185.8 525.2L185.3 531.2M185.8 525.2L187.4 517.2M186 537L192.5 531.8M186 537L179.2 541.3M186.1 521.2L191.2 515M186.1 521.2L188.6 515M186.2 541.4L180.3 547.6M186.2 541.4L188 549.8M186.5 552.7L187.2 560.1M186.5 552.7L185.4 558.2M186.6 569L179.5 573.7M186.6 569L181.6 575.8M186.7 565.3L187.6 570.4M186.7 565.3L193.9 570.2M186.7 507.6L180.7 512.4M186.7 507.6L182.2 509.4M186.8 527.6L183.6 522.7M186.8 527.6L192.5 531.8M186.9 512.2L180.7 512.4M186.9 512.2L190.5 517.8M187 538.9L189.3 530.5M187 538.9L179.2 541.3M187.2 544.8L185.6 547.2M187.2 544.8L189 546.9M187.2 560.1L185.4 558.2M187.2 560.1L182.7 562.1M187.3 581.1L181.6 575.8M187.3 581.1L181.7 581.4M187.3 523.2L180 526.5M187.3 523.2L191 528.5M187.4 517.2L185 512.1M187.4 517.2L179.6 515.6M187.5 576.1L191.2 576.4M187.5 576.1L179.9 578.9M187.5 533.7L181.5 539.8M187.5 533.7L192.5 531.8M187.6 570.4L191.1 566M187.6 570.4L191.7 568M187.6 554.6L184.2 561M187.6 554.6L180.9 549.3M188 549.8L189.5 557.2M188 549.8L193 544.6M188.2 572.9L187.5 576.1M188.2 572.9L186.7 565.3M188.2 520.6L181.8 522.8M188.2 520.6L184.9 528.2M188.2 562.4L181.9 565.7M188.2 562.4L191.1 566M188.3 578.7L184.1 581M188.3 578.7L183.1 579.5M188.6 515L182.6 520.3M188.6 515L191.3 519.8M188.8 541.9L182.7 536.5M188.8 541.9L187.5 533.7M188.9 584L183.1 579.5M188.9 584L187.5 576.1M189 546.9L188 549.8M189 546.9L193 544.6M189.2 552.5L190.3 559.7M189.2 552.5L180.9 549.3M189.3 530.5L191.6 525M189.3 530.5L193.2 534.2M189.5 510.3L185.7 514.4M189.5 510.3L185.3 509.1M189.5 557.2L188 549.8M189.5 557.2L182.4 557.7M189.7 568.3L185.4 563M189.7 568.3L183.4 567.6M189.7 536.4L185 533.3M189.7 536.4L196 533M189.7 526.5L185.8 525.2M189.7 526.5L191.3 519.8M190.3 559.7L192.4 558.1M190.3 559.7L194.8 562.5M190.4 554.2L192.4 558.1M190.4 554.2L184.7 549.5M190.5 517.8L198.8 520.4M190.5 517.8L189.5 510.3M190.6 571.3L194.1 565.2M190.6 571.3L189.7 568.3M190.8 513L185 512.1M190.8 513L193.6 518.4M190.8 538.6L189.7 536.4M190.8 538.6L189.3 530.5M191 523.7L193.6 518.4M191 523.7L183.6 522.7M191 528.5L191.6 525M191 528.5L194.9 530.9M191.1 566L194.3 559.5M191.1 566L188.2 572.9M191.1 549.7L187.2 544.8M191.1 549.7L193 544.6M191.2 515L186.1 521.2M191.2 515L186.9 512.2M191.2 576.4L184.8 575.8M191.2 576.4L190.6 571.3M191.3 519.8L193.6 518.4M191.3 519.8L190.8 513M191.6 525L190.5 517.8M191.6 525L185.8 525.2M191.7 568L183.4 567.6M191.7 568L190.3 559.7M191.8 551.9L189 546.9M191.8 551.9L187.2 544.8M191.9 536.6L192.3 541.3M191.9 536.6L184.4 539.8M192.3 541.3L191.9 536.6M192.3 541.3L186 537M192.4 558.1L184.2 561M192.4 558.1L187.6 554.6M192.5 573.4L194.1 565.2M192.5 573.4L193.9 570.2M192.5 531.8L191 523.7M192.5 531.8L189.3 530.5M192.8 523.6L187.4 517.2M192.8 523.6L198.8 520.4M193 544.6L188 549.8M193 544.6L189.2 552.5M193.2 534.2L191 528.5M193.2 534.2L185 533.3M193.2 539.6L196 533M193.2 539.6L187.2 544.8M193.6 518.4L187.3 523.2M193.6 518.4L190.8 513M193.9 570.2L189.7 568.3M193.9 570.2L194.1 565.2M194.1 565.2L186.7 565.3M194.1 565.2L186.6 569M194.2 550.2L187.6 554.6M194.2 550.2L191.8 551.9M194.3 559.5L187.2 560.1M194.3 559.5L191.7 568M194.7 525.5L197.2 528M194.7 525.5L189.7 526.5M194.7 557.3L190.4 554.2M194.7 557.3L191.1 549.7M194.8 562.5L190.3 559.7M194.8 562.5L194.7 557.3M194.9 530.9L189.7 526.5M194.9 530.9L201 531.8M195.2 573.5L191.2 576.4M195.2 573.5L193.9 570.2M196 533L201 531.8M196 533L187.5 533.7M196 550L193 544.6M196 550L194.2 550.2M197.2 528L193.2 534.2M197.2 528L192.8 523.6M198.8 520.4L191.3 519.8M198.8 520.4L191 523.7M201 531.8L192.5 531.8M201 531.8L193.2 534.2M202.5 559.8L194.8 562.5M202.5 559.8L194.7 557.3M202.6 565.5L202.5 559.8M202.6 565.5L194.1 565.2" stroke="#aab6cc" stroke-width="0.4" fill="none"/>
<path d="M163.6 547 L163.6 549.2 L163.6 551.4 L163.5 553.7 L163.3 556 L162.9 558.3 L162.3 560.7 L161.4 563 L160.1 565.2 L158.4 567.1 L156.3 568.7 L154 569.9 L151.5 570.7 L148.9 571.3 L146.3 571.7 L143.8 571.8 L141.4 571.9 L139 572 L136.6 572 L134.2 572 L131.8 571.9 L129.4 571.8 L126.9 571.7 L124.3 571.3 L121.7 570.7 L119.2 569.9 L116.9 568.7 L114.8 567.1 L113.1 565.2 L111.8 563 L110.9 560.7 L110.3 558.3 L109.9 556 L109.7 553.7 L109.6 551.4 L109.6 549.2 L109.6 547 L109.6 544.8 L109.6 542.6 L109.7 540.3 L109.9 538 L110.3 535.7 L110.9 533.3 L111.8 531 L113.1 528.8 L114.8 526.9 L116.9 525.3 L119.2 524.1 L121.7 523.3 L124.3 522.7 L126.9 522.3 L129.4 522.2 L131.8 522.1 L134.2 522 L136.6 522 L139 522 L141.4 522.1 L143.8 522.2 L146.3 522.3 L148.9 522.7 L151.5 523.3 L154 524.1 L156.3 525.3 L158.4 526.9 L160.1 528.8 L161.4 531 L162.3 533.3 L162.9 535.7 L163.3 538 L163.5 540.3 L163.6 542.6 L163.6 544.8Z" fill="#d6d6d6"/>
<path d="M135.9 548.4L162.1 556M135.9 548.4L142 571.4M135.9 548.4L160.3 534.2M135.9 548.4L130.5 569.8M135.9 548.4L161.8 541.6M135.9 548.4L130.5 572.7M135.9 548.4L135.3 522.1M135.9 548.4L144.2 524.2M135.9 548.4L117.5 525.8M135.9 548.4L161.6 542.6M135.9 548.4L135.9 522.5M135.9 548.4L119.3 526.1M135.9 548.4L119.1 525.4M135.9 548.4L142.6 520.8M135.9 548.4L111.3 561.6M135.9 548.4L149 571.9M135.9 548.4L112.2 535.3M135.9 548.4L114.5 563.3M135.9 548.4L130.6 569.8M135.9 548.4L162.4 545.2M135.9 548.4L111.5 552.4M135.9 548.4L161.8 550.9M135.9 548.4L162.6 545.1M135.9 548.4L132.9 523.2M135.9 548.4L140.6 523.2M135.9 548.4L163.6 542.4M135.9 548.4L131.4 570.7M135.9 548.4L158.5 564.8M135.9 548.4L124.5 521.4M135.9 548.4L111.2 529.3M135.9 548.4L138.3 572M135.9 548.4L113.4 530.8M135.9 548.4L137.3 570.9M135.9 548.4L164 549.7M135.9 548.4L161.2 535.4M135.9 548.4L162.9 535.2M135.9 548.4L122 525.2M135.9 548.4L111.4 546.7M135.9 548.4L124.8 522.8M135.9 548.4L110.9 541.6M135.9 548.4L109.1 546.1M135.9 548.4L159.5 526.1M135.9 548.4L124.8 522.4M135.9 548.4L133.9 571.2M135.9 548.4L111.6 541.6M135.9 548.4L164.5 551.3M135.9 548.4L118.4 568.4M135.9 548.4L142 521.7M135.9 548.4L140 571.8M135.9 548.4L111.7 532.9M135.9 548.4L162 537.3M135.9 548.4L115.5 524.6M135.9 548.4L158.3 566.7M135.9 548.4L112.1 562.1M135.9 548.4L164 545.3M135.9 548.4L148.9 572.6M135.9 548.4L157 528.7M135.9 548.4L146.5 522.8M135.9 548.4L164.5 552.6M135.9 548.4L164.8 545.6M135.9 548.4L111.8 544.8M135.9 548.4L109.8 547.9M135.9 548.4L111.4 531.1M135.9 548.4L163.4 543.8M135.9 548.4L133.9 522.1M135.9 548.4L161.1 535M135.9 548.4L151.2 525M135.9 548.4L161.7 535.6M135.9 548.4L121.3 570.3M135.9 548.4L117.2 525.4M135.9 548.4L162.3 546.1M135.9 548.4L124.8 570.5M135.9 548.4L151.1 525.2M135.9 548.4L114.6 565.8M135.9 548.4L160.4 561.4M135.9 548.4L120 524M135.9 548.4L115.3 566.6M135.9 548.4L117.4 524.1M135.9 548.4L130.9 570.1M135.9 548.4L153.1 525.9M135.9 548.4L111.9 556.8M135.9 548.4L164 535.5M135.9 548.4L129.6 572M135.9 548.4L113 560.6M135.9 548.4L155.6 569.6M135.9 548.4L145 570.6M135.9 548.4L110 552.1M135.9 548.4L108.8 555.7M135.9 548.4L131 571.1M135.9 548.4L153.9 568.1M135.9 548.4L115.5 528M135.9 548.4L117.3 566.2M135.9 548.4L144.7 571.8M135.9 548.4L163.7 540.5M135.9 548.4L110.1 562.2M135.9 548.4L122 571.9M135.9 548.4L163.2 554.1M135.9 548.4L162.5 538.8M135.9 548.4L110.4 547.9M135.9 548.4L160.6 563.6M135.9 548.4L110.8 562.8M135.9 548.4L146.9 569.6M135.9 548.4L160.4 533.6M135.9 548.4L162.2 533.4M135.9 548.4L111.3 542.6M135.9 548.4L109.6 553.2M135.9 548.4L164.2 548.9M135.9 548.4L112 528.7M135.9 548.4L108.4 552.3M135.9 548.4L141.3 523M135.9 548.4L154.8 525.9M135.9 548.4L112.7 561.2M135.9 548.4L112 554.5M135.9 548.4L111.4 539.3M135.9 548.4L163.3 558.8M135.9 548.4L110.4 536.7M135.9 548.4L147.7 572.5M135.9 548.4L161.7 550M135.9 548.4L113.2 562.4M135.9 548.4L110.8 564M135.9 548.4L161.9 538.7M135.9 548.4L143.1 570.9M135.9 548.4L128.2 569.9M135.9 548.4L126.8 524.2M135.9 548.4L113 560.7M135.9 548.4L150.7 524.1M135.9 548.4L159.1 567.2M135.9 548.4L141.9 570.8M135.9 548.4L115.5 565.8M135.9 548.4L111.3 550M135.9 548.4L131.8 571.9M135.9 548.4L111.8 555.4M135.9 548.4L112.7 528.9M135.9 548.4L116.1 526.8M135.9 548.4L110.7 542M135.9 548.4L160.2 530.1M135.9 548.4L130.5 521.8M135.9 548.4L111.7 556.4M135.9 548.4L112.5 565.3M135.9 548.4L117.2 566.6M135.9 548.4L109.5 556.6M135.9 548.4L164 538.5M135.9 548.4L148.6 570M135.9 548.4L122.2 524.4M135.9 548.4L121.5 571.7M135.9 548.4L164.6 543.6M135.9 548.4L138.5 522.3M135.9 548.4L141.4 571.1M135.9 548.4L132 571.8M135.9 548.4L145.4 572.8M135.9 548.4L114.7 566.4M135.9 548.4L163.7 538.7M135.9 548.4L128.7 524.2M135.9 548.4L162.2 534.8M135.9 548.4L163 551.1M135.9 548.4L162.8 544.7M135.9 548.4L111 535.7M135.9 548.4L164.3 542.6M135.9 548.4L111 543.9M135.9 548.4L145.6 570.5M135.9 548.4L160.9 532.8M135.9 548.4L141.7 521M135.9 548.4L120.6 524.1M135.9 548.4L147.4 521.2M135.9 548.4L120.3 523.3M135.9 548.4L149.3 524.9M135.9 548.4L117 569.5M135.9 548.4L110 552M135.9 548.4L133.5 572.7M135.9 548.4L138.3 524M135.9 548.4L131.1 571.2M135.9 548.4L109.2 556.4M135.9 548.4L143.7 521.4M135.9 548.4L154.2 568M135.9 548.4L124.2 572M135.9 548.4L162.8 563.1M135.9 548.4L160.1 561.8M135.9 548.4L119.5 571.5M135.9 548.4L131 570.5M135.9 548.4L151.7 570.9M135.9 548.4L161.8 550.6M135.9 548.4L163.4 537.1M135.9 548.4L110 559.5M135.9 548.4L158.8 531M135.9 548.4L149.1 524.8M135.9 548.4L161.9 532.3M135.9 548.4L164.9 538.3M135.9 548.4L116.3 565.6M135.9 548.4L141.6 572.2M135.9 548.4L144.5 520.7M135.9 548.4L152.5 568.2M135.9 548.4L109.7 550.4M135.9 548.4L146.1 523M135.9 548.4L157.7 568.1M135.9 548.4L164.5 543.2M135.9 548.4L126.8 523.9M135.9 548.4L111.4 548.6M135.9 548.4L108.8 538.9M135.9 548.4L148.7 523.5M135.9 548.4L128.7 573.1M135.9 548.4L128.8 522.4M135.9 548.4L123.2 525.1M135.9 548.4L136.9 522.2M135.9 548.4L140.2 523.6M135.9 548.4L111.2 547.6M135.9 548.4L143.4 523.6M135.9 548.4L152.5 568.8M135.9 548.4L111 552.6M135.9 548.4L114.5 568.6M135.9 548.4L122.6 568.6M135.9 548.4L158.1 569.1M135.9 548.4L161.8 548.6M135.9 548.4L163.1 557.5M135.9 548.4L133.1 521.5M135.9 548.4L132.8 571.1M135.9 548.4L164.1 542.5M135.9 548.4L114.1 531.7M135.9 548.4L122.2 568.5M135.9 548.4L160.4 562.6M135.9 548.4L156.7 567.7M135.9 548.4L124.6 524.5M135.9 548.4L112.3 537.3M135.9 548.4L140.7 570.1M135.9 548.4L120.5 523.9M135.9 548.4L160.1 529.2M135.9 548.4L122.8 521.6M135.9 548.4L156.9 524.4M135.9 548.4L114.2 527.5M135.9 548.4L154.7 524M135.9 548.4L143.2 571.7M135.9 548.4L164 539.2M135.9 548.4L162.3 561.5M135.9 548.4L158.6 528.5M135.9 548.4L111.5 555.1M135.9 548.4L164 540.7M135.9 548.4L144.6 571.1M135.9 548.4L111.5 531.5M135.9 548.4L141.5 571.6M135.9 548.4L112.6 527.8M135.9 548.4L108.7 555.6M135.9 548.4L158.1 568.6M135.9 548.4L109.6 554.7M135.9 548.4L109 549.7M135.9 548.4L154.1 569.5M135.9 548.4L113.3 532.6M135.9 548.4L109 547.2M135.9 548.4L164.7 552.8M135.9 548.4L134.6 524M135.9 548.4L161.7 542M135.9 548.4L157.7 569.2M135.9 548.4L162.4 535.5M135.9 548.4L124.7 570.3M135.9 548.4L132.8 572.7M135.9 548.4L116.9 567.5M135.9 548.4L158.7 526.9M135.9 548.4L123.5 522.9M135.9 548.4L112.1 566.4M135.9 548.4L152.7 569.4M135.9 548.4L160.4 535.3M135.9 548.4L128 522.8M135.9 548.4L143.8 520.9M135.9 548.4L160.1 561.5M135.9 548.4L156.7 525.5M135.9 548.4L161.7 551.4M135.9 548.4L162.2 554.3M135.9 548.4L132.1 523.7M135.9 548.4L136.2 522.6M135.9 548.4L118.5 523.9M135.9 548.4L143.2 521.1M135.9 548.4L160.9 529.5M135.9 548.4L163 541.2M135.9 548.4L111.6 541.2M135.9 548.4L144.7 523.7M135.9 548.4L113.5 565.2M135.9 548.4L163.5 558.3M135.9 548.4L120.7 571.5M135.9 548.4L156.8 528.4M135.9 548.4L163.6 551.4M135.9 548.4L160.4 527.6M135.9 548.4L117.6 570M135.9 548.4L161.3 564.5M135.9 548.4L158.3 565.3M135.9 548.4L121.3 570.6M135.9 548.4L150.2 524.8M135.9 548.4L150.9 568.7M135.9 548.4L135.6 571.4M135.9 548.4L163.3 541.7M135.9 548.4L136.8 571.3M135.9 548.4L125.6 521.9M135.9 548.4L111.2 546.4M135.9 548.4L108.8 545.8M135.9 548.4L158.2 529.9M135.9 548.4L117.4 566.2M135.9 548.4L161.2 540.6M135.9 548.4L149 522.6M135.9 548.4L161.5 542.7M135.9 548.4L113.4 531.3M135.9 548.4L117.9 526.1M135.9 548.4L161.4 549.2M135.9 548.4L163 555.7M135.9 548.4L158.1 564.9M135.9 548.4L115.9 528M135.9 548.4L163.2 561.2M135.9 548.4L110.4 556.5M135.9 548.4L112.5 565M135.9 548.4L110.2 559.9M135.9 548.4L145.3 524.2M135.9 548.4L108.8 541M135.9 548.4L162.3 542.4M135.9 548.4L162.6 552.5M135.9 548.4L110.9 549M135.9 548.4L162.3 562.4M135.9 548.4L163.1 553.4M135.9 548.4L162.1 565.1M135.9 548.4L112.4 529.8M135.9 548.4L114.3 563.7M135.9 548.4L138.8 523.9M135.9 548.4L134.7 572.9M135.9 548.4L111.3 535.4M135.9 548.4L144.2 570.4M135.9 548.4L156.8 527M135.9 548.4L110.2 562.8M135.9 548.4L149.6 524.1M135.9 548.4L142.1 570.1M135.9 548.4L154.2 567.6M135.9 548.4L157 525.8M135.9 548.4L109.8 544.8M135.9 548.4L121.1 568.2M135.9 548.4L133.5 570.1M135.9 548.4L109.2 549.9" stroke="#2a2a2a" stroke-width="0.35" stroke-opacity="0.65" fill="none"/>
<path d="M107.7 486.7h0M126.8 485.2h0M142.1 486.7h0M131.8 488.7h0M133.6 489.4h0M105 491.6h0M122.7 490.9h0M132.6 491.2h0M144 491.2h0M156.5 491.4h0M163.7 490.7h0M116.5 493.5h0M131 493.5h0M139.7 493.3h0M142.9 493.3h0M145.8 493.5h0M149.4 494.5h0M155.3 494h0M176.6 493.8h0M111.8 496.5h0M118 496.9h0M120 495.8h0M123.4 496.9h0M126.3 496.2h0M132.1 495.8h0M135.3 496.4h0M138.9 496.1h0M142.2 497h0M144.7 496.1h0M148.5 496.3h0M151.3 496.1h0M153.4 497h0M156.6 497.3h0M103.3 498.9h0M107.3 499.4h0M109.3 499.6h0M115 499.6h0M119.5 499.4h0M124.5 499.2h0M128.7 500h0M130.8 498.8h0M133.9 499.2h0M137.8 498.7h0M140.6 499.6h0M143.7 499.7h0M146.4 499h0M149 499h0M152.8 498.6h0M154.9 499.6h0M168.2 500h0M179.4 499.1h0M93.6 502h0M101.6 502.3h0M105.8 501.3h0M108.3 502.1h0M110.7 501.7h0M113.7 501.4h0M116.9 502h0M120.6 501.4h0M126.7 501.4h0M129.2 501.4h0M133 502h0M134.9 501.2h0M138.5 502h0M141.9 501.2h0M144.2 502.2h0M150.5 502.6h0M153.6 502h0M156.7 501.7h0M160.6 502.7h0M162.8 501.4h0M166.4 501.4h0M168.3 502.5h0M172.1 502.4h0M175.1 502.5h0M178.2 501.3h0M180.5 502h0M107.1 503.9h0M109.8 504.6h0M112.9 504.2h0M115.6 504.7h0M118.7 504.8h0M121.8 504.4h0M124.1 504.7h0M131.4 505h0M134 504h0M139.6 504.4h0M142.5 504.4h0M146.3 503.8h0M149.5 503.9h0M152.7 505h0M155.4 503.8h0M158.5 504.3h0M162.2 504h0M165.1 505.3h0M170.2 505.3h0M173.7 505.3h0M177.4 504h0M180.3 505.2h0M96.7 507.3h0M101.9 506.7h0M105.5 506.5h0M108.6 506.8h0M111.4 508h0M114.4 507.5h0M119.6 506.6h0M126.4 507.8h0M128.9 506.8h0M132.8 506.4h0M134.8 507h0M138 507h0M141.2 507.3h0M144.9 506.7h0M150.2 507.9h0M153.5 506.6h0M156.3 507.4h0M160.6 507.6h0M162.9 506.8h0M165.3 507.4h0M172.4 507.1h0M175.9 507.6h0M177.9 507.8h0M180.6 507.2h0M184.2 506.8h0M186.7 507.6h0M94.5 509.7h0M100.1 510.1h0M104.3 509.4h0M109.3 509.4h0M113.1 510.6h0M119.4 509.6h0M121.4 510.5h0M131 510.4h0M134.4 510.4h0M137 510.2h0M140.3 509.5h0M142.7 510h0M145.6 510.5h0M151.7 510.5h0M155.2 509.3h0M157.7 509.1h0M161.8 510.1h0M166.9 510h0M170.4 510.4h0M174.2 510.5h0M182.2 509.4h0M185.3 509.1h0M189.5 510.3h0M96.4 512h0M98.2 512h0M102.4 513.3h0M104.3 512.5h0M108.1 513h0M110.7 512.5h0M114 513h0M116.9 513.2h0M120 512h0M123.7 512.5h0M125.8 512.7h0M128.8 513h0M142.3 511.8h0M145.3 511.7h0M147.3 512.1h0M151.5 512.5h0M153.7 513.1h0M156.5 512.4h0M163.4 512.7h0M165.8 512.2h0M172.4 512.9h0M178.7 512.6h0M180.7 512.4h0M185 512.1h0M186.9 512.2h0M88.6 515.1h0M91.6 515.1h0M93.8 515.3h0M97.3 515.5h0M101.2 515h0M103.7 515.5h0M106.5 514.7h0M110 515.8h0M113.1 515.5h0M116.3 515.4h0M119 515.1h0M121.6 515.4h0M124.3 515h0M128.4 515.5h0M131.2 514.7h0M133.9 515.1h0M137.3 515h0M140.4 515.8h0M142.7 515.4h0M146.7 515h0M149.3 515.9h0M151.6 515.2h0M159.2 515.2h0M164.6 515.5h0M167.6 515.4h0M171.2 515.2h0M173.6 515.9h0M179.6 515.6h0M182.2 515.9h0M185.7 514.4h0M191.2 515h0M83.5 518h0M89.8 517.5h0M93 517.2h0M96.5 517.6h0M99.5 517.4h0M101.8 517.4h0M105 517.3h0M107.3 518.2h0M110.8 517.4h0M113.9 517.8h0M117.2 518h0M120.6 517.6h0M124.1 518.4h0M125.7 518.3h0M130.1 518.3h0M135.8 517h0M141.9 517.4h0M144.1 517.2h0M147.3 518.2h0M150.6 517.2h0M154.5 518.3h0M156.4 518.4h0M160.1 518.3h0M163.3 518.4h0M166.5 518.3h0M168.6 518.1h0M172.2 518.2h0M175.1 518.4h0M178.4 517.4h0M180.9 517.2h0M184.4 517.1h0M187.4 517.2h0M190.5 517.8h0M193.6 518.4h0M94.4 520.9h0M97 520.4h0M100.4 520.5h0M104.1 520.1h0M107.1 520.3h0M112.7 521.2h0M116 520.9h0M118.5 520.2h0M121.5 520.6h0M125.1 520.9h0M127.2 520.8h0M131.6 520.5h0M133.3 520.1h0M136.3 520h0M140.8 520.6h0M143.5 520.9h0M146.9 520.6h0M149.5 520.7h0M152.7 520.6h0M158.7 520.4h0M164 519.7h0M168 521.1h0M170.9 520.2h0M174.2 520.9h0M176.8 520.1h0M179.5 520.3h0M186.1 521.2h0M188.2 520.6h0M198.8 520.4h0M93.2 522.6h0M95.2 523.5h0M99.3 523.7h0M105.3 523.4h0M108.1 523.8h0M110.8 523.9h0M114.6 522.3h0M116.5 523.4h0M156.2 523.9h0M160.3 523.6h0M162.8 523.3h0M172.1 523.7h0M175 523.4h0M178.4 523.7h0M181.8 522.8h0M183.6 522.7h0M187.3 523.2h0M192.8 523.6h0M91.8 525.3h0M94.5 526.4h0M98.1 525.8h0M100.5 525.9h0M103.1 525.3h0M106.1 526.1h0M109.4 525.9h0M112.5 525.8h0M115.2 525h0M119.6 525.6h0M161.6 526.4h0M164.5 526.5h0M170.8 525.6h0M173.1 526.5h0M176.4 525.9h0M180 526.5h0M183.1 525.6h0M185.8 525.2h0M189.7 526.5h0M191.6 525h0M89.4 527.8h0M96.3 527.9h0M98.2 529.1h0M101.6 529.1h0M105.7 529h0M107.5 528.3h0M110.5 529.1h0M162.6 527.9h0M165.9 529.2h0M169.9 529.1h0M171.5 528.1h0M175.9 527.7h0M178.6 528.1h0M186.8 527.6h0M191 528.5h0M197.2 528h0M88.8 530.8h0M98.1 531h0M103 531.6h0M109.4 531.2h0M164.9 530.4h0M168.2 531.4h0M169.9 530.5h0M173.7 531.1h0M176.4 530.5h0M179.6 530.5h0M183 531.6h0M185.3 531.2h0M189.3 530.5h0M192.5 531.8h0M194.9 530.9h0M76.9 533.8h0M83.3 533.6h0M87 533.5h0M92.8 533.7h0M95.2 533.1h0M99.7 534.2h0M102.7 533.9h0M105.6 534.3h0M108.7 533h0M129.2 534h0M169.3 533.7h0M174.8 533.7h0M180.5 533.5h0M185 533.3h0M187.5 533.7h0M193.2 534.2h0M85.7 536.3h0M88.8 536.7h0M92 535.8h0M95 535.6h0M97.9 536.5h0M100.5 537.1h0M103.7 536.2h0M107.1 537h0M149.2 537h0M173.5 537.1h0M177 536.4h0M182.7 536.5h0M186 537h0M191.9 536.6h0M89.6 539.8h0M93.1 538.3h0M95.8 539.5h0M98.7 539.3h0M101.2 538.7h0M105.6 539.2h0M108.4 538.5h0M168.7 538.3h0M172.9 539.6h0M181.5 539.8h0M193.2 539.6h0M85.5 541.4h0M87.7 542h0M90.7 541.3h0M94.9 541.1h0M101 541.1h0M103.3 542h0M170.3 541.5h0M174.4 542.1h0M177.4 542.3h0M179.2 541.3h0M81.2 544.4h0M84.1 543.9h0M89.6 543.5h0M93.4 544.8h0M95.6 543.6h0M99.5 544.5h0M101.3 543.9h0M104.5 544.8h0M107.7 545h0M124.1 544.2h0M165.8 543.8h0M169.5 544.6h0M179 544.1h0M181 545h0M183.8 544.4h0M84.6 547.3h0M89.1 547.1h0M90.7 547h0M94.3 546.5h0M103.8 547.7h0M106.8 546.6h0M167.5 547.7h0M170 546.3h0M177.1 546.2h0M183.3 546.9h0M189 546.9h0M81.2 548.9h0M84 549.8h0M90.5 549.6h0M93.1 549.3h0M95.7 550.3h0M98.2 549.1h0M102.3 549.6h0M104.4 549.9h0M107.9 549.8h0M174.8 549.4h0M180.9 549.3h0M194.2 550.2h0M196 550h0M85.8 552.4h0M87.7 551.5h0M90.7 552.8h0M97.1 552.6h0M100.3 551.7h0M104.2 552.4h0M170.3 552.3h0M173.3 552.4h0M186.5 552.7h0M191.8 551.9h0M83.5 554.4h0M86 555.5h0M89.8 554.9h0M93 554.6h0M98.7 554.6h0M105.8 554.7h0M166.8 554.5h0M168.8 555.4h0M172.4 554.8h0M177.6 554.8h0M180.6 555.2h0M184.1 554.9h0M190.4 554.2h0M73.1 557.9h0M79.5 557.2h0M82.5 558h0M91.3 557.3h0M94.4 558.3h0M96.9 556.8h0M100.5 557.9h0M122.6 557.4h0M167.2 557.2h0M173.3 557.1h0M182.4 557.7h0M185.4 558.2h0M192.4 558.1h0M194.7 557.3h0M83.1 561h0M92.2 559.7h0M96.2 559.6h0M105.8 559.5h0M111.5 559.5h0M119.6 561h0M165.9 559.5h0M169.4 560.5h0M181.2 560h0M184.2 561h0M187.2 560.1h0M194.3 559.5h0M202.5 559.8h0M85.4 563.7h0M97.5 563.1h0M100.8 562.6h0M109.3 563.6h0M176.8 562.5h0M179.6 562.7h0M185.4 563h0M188.2 562.4h0M74.9 565.2h0M87.5 565.1h0M90.6 565.9h0M105.7 566h0M107.4 565.7h0M138 565.1h0M156.2 565.9h0M168.9 565.6h0M181.9 565.7h0M186.7 565.3h0M191.1 566h0M202.6 565.5h0M85.7 568.4h0M88.2 568.9h0M91.3 568.8h0M93.7 568.1h0M103.7 567.7h0M107.3 568.3h0M113 568.5h0M142.5 568.8h0M162 569h0M164.4 567.5h0M167.4 568.4h0M170.2 568.3h0M173 568.2h0M180.1 567.6h0M186.6 569h0M189.7 568.3h0M191.7 568h0M89.4 571.3h0M99.1 570.2h0M102.1 571.3h0M107.4 570.9h0M113.6 571h0M117 570.7h0M156.5 571.5h0M160 571.5h0M162.2 571.6h0M177.5 570.7h0M187.6 570.4h0M190.6 571.3h0M193.9 570.2h0M88 574.3h0M97.9 574.2h0M100.9 573.7h0M103.1 573.7h0M107.2 574h0M112.5 573h0M116.5 573.8h0M119.2 572.9h0M122.4 574.2h0M125.5 573.9h0M131.1 573.4h0M134.6 574h0M137.7 573.2h0M143.9 572.9h0M147 574h0M148.9 574.1h0M151.9 573h0M155.3 573.1h0M158.4 574.2h0M161.8 573.9h0M164.4 574h0M173.5 572.9h0M179.5 573.7h0M188.2 572.9h0M192.5 573.4h0M96.7 576.2h0M102.6 575.6h0M107.6 576.9h0M113.8 575.9h0M116.6 576.3h0M120.9 576.2h0M123.2 576.9h0M127.1 576.4h0M128.8 576.4h0M132.4 576.9h0M135.4 576.4h0M141.7 576.5h0M145.4 576.2h0M150.1 576.7h0M154.2 576.3h0M156.8 576.6h0M160.6 576.5h0M165.8 575.6h0M169.8 576.8h0M175.3 575.5h0M178.1 576.6h0M184.8 575.8h0M187.5 576.1h0M191.2 576.4h0M91.1 578.7h0M97.3 578.6h0M101.2 578.5h0M106.5 579.4h0M109.9 579.3h0M112.4 578.3h0M116.2 578.8h0M118.9 579.1h0M122.3 578.5h0M124.7 579.5h0M128 578.5h0M131.2 578.4h0M134.5 578.1h0M137.6 578.9h0M139.9 579.5h0M142.8 578.4h0M145.6 578.9h0M152.2 579.3h0M154.8 578.5h0M158.7 579.6h0M165 578.7h0M168.3 579.2h0M176.2 579.4h0M183.1 579.5h0M92.5 581h0M99.3 582.2h0M102.5 581.3h0M105.4 580.8h0M110.4 581.7h0M113.6 581.1h0M116.6 581.4h0M120.4 582h0M122.6 582h0M125.8 581h0M135.1 582h0M142.2 581.5h0M144 581.9h0M147 581.5h0M150.7 580.8h0M154.1 581.8h0M157.1 581.3h0M160 581.6h0M162.6 582.1h0M169.9 581.2h0M173 580.8h0M175.2 580.9h0M178.2 581.8h0M94.9 584.1h0M96.8 583.5h0M115.9 584.2h0M121.1 584.8h0M128.7 584h0M131.4 584h0M134.5 584.7h0M136.5 583.4h0M139.7 584.3h0M143 583.4h0M146.8 584.6h0M149.2 583.4h0M153 584.2h0M154.7 583.9h0M158.6 584.8h0M161.5 584.4h0M168.2 584h0M170 584.3h0M173.1 583.7h0M180 584.5h0M182.8 583.4h0M188.9 584h0M89.4 587.1h0M98.4 586h0M102.4 586.2h0M105.8 587.1h0M107.6 587.3h0M113.6 587.3h0M117.9 587.5h0M119.5 587.4h0M123.5 587.3h0M126.4 587h0M129.6 587.3h0M131.8 586.1h0M138.5 586h0M142.1 586h0M145.3 587.3h0M147.7 586.2h0M153.8 586.2h0M157.7 586.9h0M166.6 586.2h0M168.9 586.5h0M172.6 586.2h0M175.4 587.6h0M101.1 590.1h0M115.5 589.7h0M118.6 589.5h0M128 590.1h0M139.8 590.1h0M142.4 589.1h0M148.8 589.3h0M152.6 589.8h0M155.8 589.9h0M158 589.1h0M160.7 589.8h0M176.4 588.7h0M182.6 588.9h0M185.3 589.4h0M107.5 592.8h0M113.6 592.6h0M116.9 591.9h0M123 592.6h0M129.9 591.7h0M132 591.7h0M135.4 591.9h0M138.9 592.1h0M145 592.6h0M150.7 591.5h0M153.8 592.4h0M156.3 591.5h0M159.9 591.6h0M162.6 592h0M165.5 591.4h0M178.7 592.2h0M121.7 595h0M127.5 594.7h0M131 595.5h0M137.3 594.3h0M140.7 594.3h0M144 594.7h0M145.8 595.5h0M149 594.6h0M152.1 595h0M154.6 594.6h0M157.9 595.3h0M160.7 594.9h0M164.2 594.7h0M114.4 597.4h0M119.5 597.4h0M123.7 597.7h0M138.5 598.1h0M142.3 597h0M145.1 597.2h0M148 597.8h0M150.2 597h0M156.2 596.8h0M159.8 597.3h0M166.8 597.5h0M168.9 597.7h0M175.2 596.6h0M119.5 600.2h0M133.4 600.2h0M136.6 600.4h0M140.6 600.5h0M142.8 599.4h0M148.7 599.6h0M158.1 599.9h0M110.8 602h0M126.9 602.6h0M128.7 605.8h0M164.6 554.4h0M164.9 559.2h0M162.5 564.3h0M161.2 567.2h0M159.2 569.7h0M153.9 571.6h0M150.8 572.4h0M148.4 572.2h0M145.9 573.2h0M143.2 572.8h0M140.4 572.8h0M135.5 573.4h0M132.7 573.2h0M130.7 572.6h0M125 572.7h0M121.9 572.7h0M118.8 571.9h0M114.5 568.8h0M110.4 563.9h0M108.8 562.2h0M108.6 559.3h0M108.6 556.3h0M107.9 551.8h0M107.8 547.1h0M108.4 542.4h0M108.6 539.4h0M108.4 537.5h0M109.5 534.4h0M109 532.2h0M110.5 530.1h0M112.1 526.8h0M114.8 525.5h0M117 523.6h0M119.5 522.4h0M122.3 521.6h0M124.5 521.7h0M127.6 521.5h0M129.5 520.2h0M132.7 520.1h0M137.8 521.2h0M140.3 520h0M143.4 520.7h0M146.1 520.3h0M149.2 521.1h0M151.1 521h0M153.5 522.7h0M156.4 523.4h0M159.1 525.4h0M160.6 527.6h0M162.8 529.8h0M165.1 534.9h0M165 539.6h0M165.5 541.9h0M164.6 545.1h0M237.3 467.2h0M241.2 467.7h0M254.5 468.2h0M232.7 469.6h0M239.4 471.1h0M242.8 469.9h0M245.7 470h0M249.9 471h0M252.6 470.7h0M256.3 470.2h0M259 470.3h0M234.8 473.8h0M237 472.8h0M241 473.7h0M245.3 472.9h0M247.5 473.9h0M251.7 472.9h0M254.7 473.9h0M258 472.9h0M261 474.1h0M229.9 476.9h0M232.6 476h0M235.3 475.8h0M240.2 475.5h0M243.6 476.3h0M249.3 477.1h0M253.2 476.1h0M256.2 476.7h0M262.9 476.9h0M223.8 480.1h0M227.3 480.1h0M234.2 478.5h0M236.9 478.7h0M240.9 478.9h0M244 478.6h0M248.5 478.5h0M252 480h0M254 479.2h0M257.4 478.5h0M260.8 480.1h0M265.4 479.7h0M226.3 482.3h0M235.7 482.4h0M253.4 482.4h0M259 482h0M262.4 482.8h0M227 485.3h0M234.5 485h0M237.5 486.1h0M254.3 485.4h0M257.7 485.5h0M262.1 485.4h0M265 485h0M226.4 487.6h0M229.9 488.5h0M232 487.9h0M238.7 487.9h0M256.1 487.4h0M259.6 488.8h0M263.5 487.3h0M266.7 488.7h0M225 490.5h0M231.5 490.8h0M238 491.8h0M259 491.6h0M262.2 491.6h0M264.9 490.6h0M233.2 493.8h0M235.7 493.6h0M238.7 493.2h0M243 494.5h0M245.5 494.1h0M249.1 494.3h0M253.6 493.3h0M256.7 494.4h0M263.6 493.6h0M267.2 493.8h0M231.2 496.5h0M234.1 496.7h0M237 496.2h0M241.8 496.9h0M243.9 496.7h0M258 496.7h0M264.7 497h0M229.5 499.2h0M232.4 500.4h0M235.9 500.2h0M243 499.4h0M246.8 499.7h0M248.9 499.7h0M252.5 500.3h0M256.3 499.4h0M260.6 500.1h0M263.8 499.1h0M234.9 503.8h0M237.2 502.5h0M241.1 503.3h0M248.5 502.7h0M251.4 502.5h0M254.2 502.1h0M257.3 502.9h0M262 503h0M243.4 506.6h0M246.8 506.2h0M250.2 505.5h0M253.1 505.2h0M256.4 505.3h0M274 498.5h0M275.9 501.9h0M280.4 501.5h0M285 501.6h0M288.7 501.5h0M293.1 501.4h0M265.3 505.3h0M268.1 505.7h0M273.9 505.1h0M277.4 506.4h0M282.7 505.7h0M285.8 505.9h0M291 505.6h0M295 505.5h0M266.4 509.5h0M270.3 510.6h0M274.6 508.8h0M285 509.3h0M288.2 509.6h0M292.3 509.1h0M297.2 509.1h0M264.5 513.9h0M269 514.2h0M291.3 514.3h0M295.5 514.3h0M263 518.2h0M271.5 516.7h0M287.8 517h0M293.5 516.6h0M298 518.1h0M264.6 521.7h0M269.4 520.7h0M273 521.1h0M278.5 520.3h0M281.8 520.6h0M286.1 521.6h0M290.9 521.2h0M266 525.7h0M271.4 525.6h0M275.6 525.4h0M280.2 525.3h0M283.7 525.8h0M288.6 525.7h0M292.2 525.6h0M269.1 528.6h0M282.2 528.8h0M286.2 528.3h0M132.8 483.6h0M130.9 478.6h0M127.1 468.7h0M123.2 453.2h0M119.6 443.2h0M118.4 437.9h0M132.8 474.6h0M137.9 454.5h0M139.8 438.8h0M140.4 433.7h0M134.3 476.6h0M120 471.3h0M118 480.5h0M188.7 485.7h0M193.1 494.7h0M78.1 501.9h0M67.1 516.4h0M63.4 534.1h0M54.3 541.3h0M76.4 521.1h0M71.8 518h0M66.5 579.6h0M49.4 572.3h0M38.2 575.3h0M35.5 571.8h0M26.7 572.4h0M24.2 577.5h0M10.7 569.1h0M15.1 573.2h0M82.2 560.9h0M37.9 577.7h0M20.7 580.9h0M61 570.6h0M75.5 579.7h0M62.1 582.6h0M55.5 584.4h0M50.3 585.9h0M37.3 591h0M40.2 586.2h0M21.3 595.3h0M31.7 595.4h0M73.4 590.8h0M77.6 604.6h0M73.1 607.8h0M64.3 614.2h0M54 621.2h0M49.6 624h0M43.8 638.2h0M56.5 629.4h0M66.5 636.9h0M34.9 628.3h0M26.6 624.5h0M21.1 624.8h0M20.9 629.3h0M23.2 635.2h0M17.1 632.6h0M31.1 630.8h0M37.4 648.5h0M30.4 645.3h0M21.1 643.2h0M16.3 650.2h0M17.4 652.8h0M33.6 665.6h0M38.2 666.5h0M40.5 673.6h0M45.4 675.2h0M56.2 677.1h0M61.8 673.1h0M77.4 661.1h0M79.3 656.3h0M84.6 643.3h0M88.5 641.7h0M39.2 666.5h0M48.2 673.8h0M96.4 645.6h0M94.7 656.8h0M100.6 619.8h0M101.4 615.2h0M126.7 617.2h0M123.7 632.3h0M136.8 624.2h0M140.4 631.7h0M145.9 647.8h0M150.7 658.4h0M158 629.1h0M153.9 620.4h0M145.4 614.8h0M149.4 607.6h0M147.2 639.8h0M143.9 642.3h0M142.9 644h0M156.8 631.9h0M160.4 611.4h0M169.4 613.4h0M105.2 607.8h0M210 515.6h0M216 512.8h0M222.4 510.6h0M229.8 500.2h0M212.1 543.4h0M217.9 541.8h0M240.5 537.7h0M244.4 536.5h0M249.3 535.5h0M214.4 501.6h0M226.1 497.2h0M191.6 584.3h0M259.3 463.4h0M259.7 457.6h0M262.9 446.5h0M271.1 427.3h0M269 467.4h0M273.4 455.5h0M275.5 450.7h0M286.4 438.2h0M288.2 431.5h0M273.5 473.3h0M279.6 463.1h0M283.4 457.8h0M293.1 441.2h0M296.4 436.1h0M312.1 434.9h0M319.1 435.1h0M280.2 462.7h0M284 459.5h0M273.7 477.9h0M291.4 482h0M303 492.2h0M309.7 508.3h0M322.7 504.7h0M338.3 503.3h0M342.4 502.2h0M351.9 498.9h0M356.5 494.1h0M366.8 492.8h0M342.2 499.3h0M351.6 504.6h0M357.5 509h0M367.5 506.3h0M372.8 508.7h0M374.1 514.7h0M311.6 518.6h0M321.8 525.1h0M308.6 533.2h0M306.8 540.8h0M317.4 547.4h0M317.2 542h0M328.2 548.8h0M331.2 551.7h0M334.2 556.4h0M340.2 556.2h0M334.8 565.3h0M212 477.2h0M204.2 480.9h0M223.7 498.9h0" stroke="#2a4479" stroke-width="2.3" stroke-linecap="round" fill="none"/>
<path d="M109.6 493.7h0M108.9 496.8h0M113.8 496.2h0M129.7 497.3h0M168.6 496.4h0M171.7 497.3h0M170.3 498.6h0M173.1 499.2h0M122.6 501.6h0M147.6 501.5h0M137.1 503.9h0M117 506.4h0M123.6 507.1h0M169.2 506.9h0M116.1 509.6h0M148.7 509.1h0M164.9 510.2h0M176.1 510.4h0M180.5 510.6h0M135.8 512.3h0M138.5 512.3h0M168.6 513h0M174.7 512.4h0M190.8 513h0M154.9 515.6h0M176.3 515.4h0M188.6 515h0M131.9 518.3h0M137.8 518.5h0M88 521h0M109.7 520.1h0M161.9 519.8h0M182.6 520.3h0M191.3 519.8h0M154 522.8h0M166.8 523.6h0M169.3 522.8h0M191 523.7h0M194.7 525.5h0M86.7 527.9h0M93.2 527.6h0M182.1 527.6h0M184.9 528.2h0M85.6 530.4h0M106.4 530.5h0M201 531.8h0M89.9 533h0M166 533.8h0M171.9 533.3h0M178.1 533.9h0M196 533h0M164.6 536.4h0M167.9 536.2h0M170.4 536.5h0M179.2 536.2h0M189.7 536.4h0M166 539.2h0M174.9 539.7h0M178.8 538.7h0M184.4 539.8h0M187 538.9h0M190.8 538.6h0M106.4 542.4h0M167 542h0M186.2 541.4h0M188.8 541.9h0M192.3 541.3h0M86.7 544.6h0M171.8 543.9h0M175.2 544.2h0M187.2 544.8h0M193 544.6h0M97.5 546.2h0M101.2 547.2h0M164.9 546.5h0M173.6 546.5h0M180.3 547.6h0M185.6 547.2h0M169.6 549.1h0M172.6 548.9h0M177.5 549.8h0M184.7 549.5h0M188 549.8h0M191.1 549.7h0M93.9 552.4h0M167.9 551.9h0M176.8 553h0M180.6 551.6h0M182.9 552.7h0M189.2 552.5h0M80.3 554.5h0M95.4 554.3h0M102.4 555h0M175.5 554.7h0M187.6 554.6h0M85.7 557.3h0M88.7 558.4h0M104 557.4h0M107.4 557.2h0M165.3 557.8h0M170.3 557.5h0M177.2 557.8h0M179.5 558.4h0M189.5 557.2h0M98.7 560.9h0M102.4 560.9h0M107.7 560.7h0M172.2 560.3h0M175.5 561h0M178.9 560.6h0M190.3 559.7h0M82.8 562.9h0M87.9 563.1h0M94.7 562.7h0M103.8 563h0M106.2 563.1h0M164.9 562.8h0M167.6 563.4h0M174 562.7h0M182.7 562.1h0M194.8 562.5h0M81.2 565.3h0M92.7 565.8h0M95.7 564.9h0M99.4 565.4h0M102.1 565.6h0M111.1 565.5h0M163.8 566.1h0M166.7 565h0M174.9 565.2h0M178 565.2h0M184.4 565.4h0M194.1 565.2h0M81.9 568.6h0M97.7 567.5h0M101.1 567.5h0M110.1 568.2h0M177.1 568.1h0M183.4 567.6h0M86.5 570.8h0M92.4 571.3h0M95.6 570.2h0M105.2 570.8h0M110.5 571.1h0M153.4 570.3h0M166.1 571.3h0M169.2 571.2h0M171.7 571.3h0M174.7 570.5h0M185 570.2h0M92.1 574h0M109 573.9h0M140.9 573.6h0M168.1 573.8h0M171.4 574h0M177 574.1h0M195.2 573.5h0M90 576.8h0M92.7 576.2h0M99.8 575.7h0M105.1 575.4h0M111.1 576.7h0M138.8 576h0M147.6 576.9h0M171.6 576.3h0M181.6 575.8h0M89 578.3h0M93.8 578.4h0M103.1 579.5h0M170.4 578.7h0M174.2 578.6h0M179.9 578.9h0M185.3 578.6h0M188.3 578.7h0M95.5 580.8h0M108.7 581.2h0M129.7 581.2h0M132.3 581.6h0M138.2 582h0M166.9 582h0M181.7 581.4h0M184.1 581h0M187.3 581.1h0M99.9 584.6h0M103.5 584.9h0M107.3 584.6h0M109.6 584.7h0M112.1 583.5h0M118.3 583.7h0M125.2 584.9h0M164.1 583.7h0M176.7 584.3h0M96.6 586.4h0M110.6 586.8h0M151.1 586.3h0M159.7 586.1h0M163.4 587.4h0M178.7 586h0M83 589.7h0M96.7 589h0M103.3 589.9h0M110.1 589.5h0M122.6 588.9h0M124.9 589.7h0M130.9 590.1h0M134.4 590.2h0M136.4 589h0M146.6 590.2h0M170.8 589.7h0M173.9 589.8h0M179.1 588.7h0M101.6 591.4h0M104.3 592.7h0M111 592.5h0M120.4 591.5h0M126.1 591.9h0M142.3 591.4h0M172.9 592.2h0M112.6 594.2h0M118.9 595.5h0M134 595.5h0M173.1 595.5h0M110.5 597.8h0M136.3 596.9h0M153.4 597h0M125.2 599.9h0M139.1 602.1h0M124.8 610.4h0M165.3 547.3h0M165.4 549.6h0M165.9 552.4h0M164.7 556.8h0M164.1 561.8h0M156.2 570.2h0M138.3 573.3h0M127.1 573.8h0M117.4 570.2h0M112.4 566.7h0M107.5 555h0M107.6 549.9h0M107.4 544.8h0M134.9 520.6h0M164.1 531.6h0M164.2 538h0M250.2 465.2h0M244.1 467.6h0M248.5 466.6h0M251 466.6h0M235.9 470.5h0M246.3 475.7h0M259 476.1h0M231.6 478.7h0M229 482.7h0M231.8 482h0M238.5 482.6h0M256.5 482.4h0M267.5 482.5h0M230.1 484.6h0M268.8 485h0M222.6 487.6h0M235.6 488.1h0M270.7 487.9h0M228 490.9h0M234.8 490.3h0M255.3 491.1h0M267.8 490.7h0M230 493.6h0M259.9 493.2h0M226.7 497.6h0M247.4 497.1h0M252.2 497.1h0M255.2 497h0M262 497.6h0M239.4 499.2h0M244.4 502.9h0M277.3 498.3h0M281.3 497.9h0M286.4 498.4h0M267.5 501.4h0M270.3 501.2h0M261.9 509.9h0M260.9 514.2h0M300.3 512.8h0M267.2 517.4h0M260.5 521.3h0M295.7 521.6h0M300.1 521.8h0M261.9 525h0M273.7 528.6h0M277.5 529.3h0M128.9 472.5h0M125.5 463.4h0M125 458.2h0M121.5 447.7h0M124.2 464.5h0M121.5 449.2h0M135.3 470.1h0M136.5 465.2h0M135.2 459.8h0M139.3 448.5h0M139 443.2h0M162.7 484h0M166.2 479.7h0M170.6 486.6h0M92.1 503h0M85.8 502.6h0M74.4 506h0M72.5 510.8h0M67.1 521.7h0M66.3 527.8h0M61.8 540.3h0M98.3 502h0M95.5 498.4h0M67.8 515.7h0M72.2 511.9h0M79.5 564.5h0M76.7 568.6h0M73.2 572.9h0M68.8 576.1h0M64.3 575.1h0M60.5 571.3h0M55.1 575h0M45.5 570.4h0M31 566.3h0M17.4 578.8h0M10.7 578.1h0M11.5 574.1h0M17.4 568.3h0M19.8 563.8h0M77.5 564.5h0M36.3 571h0M70.2 579.8h0M64.4 579.5h0M44.1 588h0M30.7 593.4h0M22.3 595.8h0M18.3 595.6h0M12.2 595.1h0M15.1 603h0M26.8 592.1h0M67.4 596.8h0M75.5 601.8h0M80.8 600.8h0M69.8 611.2h0M58.5 618.4h0M47.8 631.3h0M56.8 624.5h0M62 633.3h0M66.3 636.4h0M67.5 631.6h0M45.6 624.8h0M39.9 627.4h0M31.2 630.9h0M44.9 626h0M40.6 643h0M26.1 644.8h0M12.8 656.7h0M40 653.7h0M35.6 661.7h0M34.5 670.2h0M39.6 679.2h0M46.7 682.8h0M50.7 679.6h0M67.1 669.9h0M71.9 664.9h0M82.9 649.2h0M91.5 638.8h0M51 682.3h0M88.7 648h0M84.7 638.2h0M95.4 651.4h0M101.7 655.3h0M96.4 656.2h0M95.5 631.6h0M97.2 624.7h0M107.8 611.1h0M114.2 606.5h0M95.5 624.3h0M124.4 611h0M124.4 625.4h0M129.3 634.5h0M135.6 618.3h0M142.8 638.5h0M143.5 643.6h0M144.5 652.4h0M144.1 658.4h0M151 652.7h0M150.8 646.6h0M151.5 642.6h0M154.7 635.2h0M150.8 618.1h0M161 633.5h0M152.7 619.6h0M147.1 621.8h0M155.5 608.9h0M174.7 609.1h0M180.8 606.7h0M103.6 612.7h0M205.7 516.7h0M226 504.2h0M206.4 544.8h0M224.5 540.2h0M230.5 538.7h0M235.2 538.3h0M255.3 535.7h0M260.3 533.3h0M264.2 529.4h0M209.2 504.6h0M220.5 499.6h0M210.8 502.9h0M185.5 587h0M200.3 581.5h0M204.2 577.4h0M260.6 451.8h0M264.4 441.4h0M266.6 436.8h0M268.1 431.7h0M270.4 461.5h0M280.3 447.4h0M283.6 444.7h0M294.8 429h0M282.8 448.4h0M288.9 431h0M276.1 467.1h0M286.2 452.7h0M289.2 447.1h0M299.4 433.4h0M303.6 438.9h0M306.2 438h0M318 428.5h0M319.4 440.1h0M274.7 463.9h0M281.6 476.4h0M286.5 479.7h0M297.1 486.8h0M304.3 509.2h0M316 508.1h0M327 502.4h0M333.2 502.2h0M346.7 501.3h0M360.2 494.2h0M356 497.2h0M363.5 507.7h0M376.5 508.2h0M362.1 509.6h0M333.2 507h0M301 521h0M306.9 519.4h0M316.3 521.6h0M313.2 523h0M301.8 532.1h0M311.9 544.1h0M318 541h0M314.4 543h0M312.9 536.8h0M322.6 545.5h0M345.4 557.5h0M338.4 550.6h0M327.8 554.6h0M330.1 559.6h0M222.2 485.7h0M218.2 481.4h0M218.5 497.3h0M209.9 501.5h0M206.1 496.7h0" stroke="#cf4d58" stroke-width="2.3" stroke-linecap="round" fill="none"/>
<circle cx="135.9" cy="548.4" r="4.6" fill="#5dba46" stroke="#1c1c1c" stroke-width="0.8"/>
<circle cx="246.4" cy="486.5" r="4.2" fill="#6cbd4a"/>
<circle cx="279.9" cy="513.4" r="4.2" fill="#6cbd4a"/>
</g>
<path d="M31.0 232.5L190.7 232.5L151.5 290.0L70.8 290.0Z" fill="#bfbfbf"/>
<path d="M70.8 290.0L151.5 290.0L190.7 349.2L31.0 349.2Z" fill="#bfbfbf"/>
<path d="M32.0 234.0L70.8 290.0L31.5 347.7M189.7 234.0L151.5 290.0L190.2 347.7" fill="none" stroke="#222" stroke-width="1.0"/>
<g fill="#fff" stroke="#111" stroke-width="1.2"><ellipse cx="34" cy="232.5" rx="3.9" ry="2.2"/><ellipse cx="42.1" cy="232.5" rx="3.9" ry="2.2"/><ellipse cx="50.2" cy="232.5" rx="3.9" ry="2.2"/><ellipse cx="58.3" cy="232.5" rx="3.9" ry="2.2"/><ellipse cx="66.4" cy="232.5" rx="3.9" ry="2.2"/><ellipse cx="74.5" cy="232.5" rx="3.9" ry="2.2"/><ellipse cx="82.6" cy="232.5" rx="3.9" ry="2.2"/><ellipse cx="90.6" cy="232.5" rx="3.9" ry="2.2"/><ellipse cx="98.7" cy="232.5" rx="3.9" ry="2.2"/><ellipse cx="106.8" cy="232.5" rx="3.9" ry="2.2"/><ellipse cx="114.9" cy="232.5" rx="3.9" ry="2.2"/><ellipse cx="123" cy="232.5" rx="3.9" ry="2.2"/><ellipse cx="131.1" cy="232.5" rx="3.9" ry="2.2"/><ellipse cx="139.1" cy="232.5" rx="3.9" ry="2.2"/><ellipse cx="147.2" cy="232.5" rx="3.9" ry="2.2"/><ellipse cx="155.3" cy="232.5" rx="3.9" ry="2.2"/><ellipse cx="163.4" cy="232.5" rx="3.9" ry="2.2"/><ellipse cx="171.5" cy="232.5" rx="3.9" ry="2.2"/><ellipse cx="179.6" cy="232.5" rx="3.9" ry="2.2"/><ellipse cx="187.7" cy="232.5" rx="3.9" ry="2.2"/></g>
<g fill="#fff" stroke="#111" stroke-width="1.2"><ellipse cx="74.8" cy="290.0" rx="3.9" ry="2.2"/><ellipse cx="82.9" cy="290.0" rx="3.9" ry="2.2"/><ellipse cx="91" cy="290.0" rx="3.9" ry="2.2"/><ellipse cx="99" cy="290.0" rx="3.9" ry="2.2"/><ellipse cx="107.1" cy="290.0" rx="3.9" ry="2.2"/><ellipse cx="115.2" cy="290.0" rx="3.9" ry="2.2"/><ellipse cx="123.3" cy="290.0" rx="3.9" ry="2.2"/><ellipse cx="131.3" cy="290.0" rx="3.9" ry="2.2"/><ellipse cx="139.4" cy="290.0" rx="3.9" ry="2.2"/><ellipse cx="147.5" cy="290.0" rx="3.9" ry="2.2"/></g>
<g fill="#fff" stroke="#111" stroke-width="1.2"><ellipse cx="34" cy="349.2" rx="3.9" ry="2.2"/><ellipse cx="42.1" cy="349.2" rx="3.9" ry="2.2"/><ellipse cx="50.2" cy="349.2" rx="3.9" ry="2.2"/><ellipse cx="58.3" cy="349.2" rx="3.9" ry="2.2"/><ellipse cx="66.4" cy="349.2" rx="3.9" ry="2.2"/><ellipse cx="74.5" cy="349.2" rx="3.9" ry="2.2"/><ellipse cx="82.6" cy="349.2" rx="3.9" ry="2.2"/><ellipse cx="90.6" cy="349.2" rx="3.9" ry="2.2"/><ellipse cx="98.7" cy="349.2" rx="3.9" ry="2.2"/><ellipse cx="106.8" cy="349.2" rx="3.9" ry="2.2"/><ellipse cx="114.9" cy="349.2" rx="3.9" ry="2.2"/><ellipse cx="123" cy="349.2" rx="3.9" ry="2.2"/><ellipse cx="131.1" cy="349.2" rx="3.9" ry="2.2"/><ellipse cx="139.1" cy="349.2" rx="3.9" ry="2.2"/><ellipse cx="147.2" cy="349.2" rx="3.9" ry="2.2"/><ellipse cx="155.3" cy="349.2" rx="3.9" ry="2.2"/><ellipse cx="163.4" cy="349.2" rx="3.9" ry="2.2"/><ellipse cx="171.5" cy="349.2" rx="3.9" ry="2.2"/><ellipse cx="179.6" cy="349.2" rx="3.9" ry="2.2"/><ellipse cx="187.7" cy="349.2" rx="3.9" ry="2.2"/></g>
<path d="M140 91.3 L148.2 91.3 L148.2 89 L153.8 93 L148.2 97 L148.2 94.7 L140 94.7Z" fill="#fff" stroke="#555" stroke-width="0.9" stroke-linejoin="miter"/>
<path d="M262 91.3 L270.4 91.3 L270.4 89 L276 93 L270.4 97 L270.4 94.7 L262 94.7Z" fill="#fff" stroke="#555" stroke-width="0.9" stroke-linejoin="miter"/>
<path d="M399.4 91.6 L407.2 91.6 L407.2 89.3 L412.8 93.3 L407.2 97.3 L407.2 95 L399.4 95Z" fill="#fff" stroke="#555" stroke-width="0.9" stroke-linejoin="miter"/>
<path d="M191.5 289 L202.5 289 L202.5 286.2 L209.2 291 L202.5 295.8 L202.5 293 L191.5 293Z" fill="#fff" stroke="#555" stroke-width="0.9" stroke-linejoin="miter"/>
<circle cx="398.8" cy="106" r="4.3" fill="#2fb387"/>
<circle cx="398.8" cy="117.6" r="4.3" fill="#e0483c"/>
<circle cx="398.8" cy="128.6" r="4.3" fill="#1f4fa8"/>
<path d="M451.3 58.3L465.4 55.6M465.4 55.6L462.1 70.4M465.4 55.6L474.2 65M462.1 70.4L474.2 65M474.2 65L492.3 63.7M483.7 51L492.3 63.7M492.3 63.7L508.4 64.2M492.3 63.7L487.2 73M487.2 73L473.4 80.3" stroke="#5da0d6" stroke-width="0.9" fill="none"/>
<circle cx="451.3" cy="58.3" r="4.1" fill="#2fb387"/>
<circle cx="465.4" cy="55.6" r="4.1" fill="#2fb387"/>
<circle cx="462.1" cy="70.4" r="4.1" fill="#2fb387"/>
<circle cx="474.2" cy="65" r="4.1" fill="#2fb387"/>
<circle cx="483.7" cy="51" r="4.1" fill="#e0483c"/>
<circle cx="492.3" cy="63.7" r="4.1" fill="#e0483c"/>
<circle cx="508.4" cy="64.2" r="4.1" fill="#1f4fa8"/>
<circle cx="487.2" cy="73" r="4.1" fill="#e0483c"/>
<circle cx="473.4" cy="80.3" r="4.1" fill="#e0483c"/>
<path d="M473.9 115.8L483.6 125.4M473.9 115.8L470.8 130.5M470.8 130.5L483.6 125.4M483.6 125.4L500.9 123.3M483.6 125.4L496.3 133.4M500.9 123.3L496.3 133.4M470.8 130.5L482.9 141.3M482.9 141.3L496.3 133.4" stroke="#5da0d6" stroke-width="0.9" fill="none"/>
<circle cx="473.9" cy="115.8" r="3.9" fill="#e0483c" stroke="#b8352c" stroke-width="0.6"/>
<circle cx="483.6" cy="125.4" r="3.9" fill="#e0483c" stroke="#b8352c" stroke-width="0.6"/>
<circle cx="500.9" cy="123.3" r="3.9" fill="#e0483c" stroke="#b8352c" stroke-width="0.6"/>
<circle cx="470.8" cy="130.5" r="3.9" fill="#e0483c" stroke="#b8352c" stroke-width="0.6"/>
<circle cx="496.3" cy="133.4" r="3.9" fill="#e0483c" stroke="#b8352c" stroke-width="0.6"/>
<circle cx="482.9" cy="141.3" r="3.9" fill="#e0483c" stroke="#b8352c" stroke-width="0.6"/>
<path d="M261.5 60.5L269.4 56.9M261.5 60.5L270.2 64.4M269.4 56.9L270.2 64.4M261.5 60.5L261.5 68.8M261.5 68.8L270.2 64.4M270.2 64.4L279 61.3M270.2 64.4L271.4 74.4" stroke="#333" stroke-width="0.9" fill="none"/>
<circle cx="261.5" cy="60.5" r="2.0" fill="#b8304e" stroke="#1a1a1a" stroke-width="0.6"/>
<circle cx="269.4" cy="56.9" r="2.0" fill="#3ea45e" stroke="#1a1a1a" stroke-width="0.6"/>
<circle cx="270.2" cy="64.4" r="2.0" fill="#3ea45e" stroke="#1a1a1a" stroke-width="0.6"/>
<circle cx="261.5" cy="68.8" r="2.0" fill="#b8304e" stroke="#1a1a1a" stroke-width="0.6"/>
<circle cx="279" cy="61.3" r="2.0" fill="#2a3a6a" stroke="#1a1a1a" stroke-width="0.6"/>
<circle cx="271.4" cy="74.4" r="2.0" fill="#2a3a6a" stroke="#1a1a1a" stroke-width="0.6"/>
<circle cx="210.2" cy="623.9" r="4.2" fill="#38b463"/>
<circle cx="210.2" cy="641.7" r="1.5" fill="#2a4a90"/>
<circle cx="210.2" cy="658.0" r="1.5" fill="#c03a50"/>
<path d="M368.6 188.5V315.4" stroke="#2b2b2b" stroke-width="1.1" fill="none"/>
<path d="M368.6 315.4h-2.5M368.6 294.2h-2.5M368.6 273.1h-2.5M368.6 251.9h-2.5M368.6 230.8h-2.5M368.6 209.6h-2.5M368.6 188.5h-2.5" stroke="#2b2b2b" stroke-width="1.1" fill="none"/>
<text x="362.8" y="313.4" font-size="6.5" text-anchor="middle" fill="#3a3a3a" transform="rotate(-90 362.8 313.4)" class="s" style="stroke:none">0.00</text>
<text x="362.8" y="292.2" font-size="6.5" text-anchor="middle" fill="#3a3a3a" transform="rotate(-90 362.8 292.2)" class="s" style="stroke:none">0.02</text>
<text x="362.8" y="271.1" font-size="6.5" text-anchor="middle" fill="#3a3a3a" transform="rotate(-90 362.8 271.1)" class="s" style="stroke:none">0.04</text>
<text x="362.8" y="249.9" font-size="6.5" text-anchor="middle" fill="#3a3a3a" transform="rotate(-90 362.8 249.9)" class="s" style="stroke:none">0.06</text>
<text x="362.8" y="228.8" font-size="6.5" text-anchor="middle" fill="#3a3a3a" transform="rotate(-90 362.8 228.8)" class="s" style="stroke:none">0.08</text>
<text x="362.8" y="207.6" font-size="6.5" text-anchor="middle" fill="#3a3a3a" transform="rotate(-90 362.8 207.6)" class="s" style="stroke:none">0.10</text>
<text x="362.8" y="186.5" font-size="6.5" text-anchor="middle" fill="#3a3a3a" transform="rotate(-90 362.8 186.5)" class="s" style="stroke:none">0.12</text>
<path d="M397.5 320.8H500.8" stroke="#2b2b2b" stroke-width="1.1" fill="none"/>
<path d="M397.5 320.8v2.5M431.9 320.8v2.5M466.4 320.8v2.5M500.8 320.8v2.5" stroke="#2b2b2b" stroke-width="1.1" fill="none"/>
<text x="396.3" y="330.2" font-size="6.5" text-anchor="middle" fill="#3a3a3a" class="s" style="stroke:none">0</text>
<text x="430.7" y="330.2" font-size="6.5" text-anchor="middle" fill="#3a3a3a" class="s" style="stroke:none">20</text>
<text x="465.2" y="330.2" font-size="6.5" text-anchor="middle" fill="#3a3a3a" class="s" style="stroke:none">40</text>
<text x="499.6" y="330.2" font-size="6.5" text-anchor="middle" fill="#3a3a3a" class="s" style="stroke:none">60</text>
<path d="M374.3 315.4 L377.9 315.4 L383.1 315.4 L388.5 315.4 L392.3 315.4 L394.1 315.4 L394.6 315.3 L394.6 315.2 L394.9 314.9 L395.5 314.4 L396.1 313.8 L396.8 313.1 L397.5 312.2 L398.3 311.2 L399.3 309.9 L400.2 308.6 L401.3 307.5 L402.4 306.5 L403.7 305.5 L404.9 304.6 L406.1 303.8 L407.3 303 L408.4 302.3 L409.5 301.5 L410.6 300.7 L411.7 299.7 L412.7 298.7 L413.7 297.5 L414.7 296.4 L415.6 295.1 L416.5 293.8 L417.4 292.5 L418.2 291.3 L418.9 290.1 L419.5 289.1 L420.1 288 L420.7 286.8 L421.5 285.6 L422.3 284.3 L423.1 283 L423.8 281.9 L424.6 280.9 L425.3 280.1 L426 279.3 L426.8 278.4 L427.6 277.4 L428.5 276.4 L429.4 275.3 L430.2 274.4 L430.9 273.5 L431.6 272.6 L432.2 271.8 L432.8 271 L433.4 270.1 L433.9 269.2 L434.5 268.4 L435 267.8 L435.5 267.5 L436 267.4 L436.6 267.3 L437.1 267.3 L437.7 267.2 L438.4 267.1 L439.1 267.1 L439.7 267 L440.2 266.8 L440.6 266.6 L441 266.4 L441.4 266.2 L441.8 266 L442.1 265.8 L442.4 265.6 L442.8 265.7 L443.2 265.9 L443.7 266.3 L444.3 266.9 L444.8 267.8 L445.5 269.1 L446.1 270.7 L446.8 272.5 L447.4 274.2 L448.1 275.7 L448.7 277.3 L449.4 278.8 L450 280.5 L450.7 282.3 L451.3 284.2 L451.9 286.1 L452.6 287.9 L453.2 289.5 L453.8 291.1 L454.5 292.6 L455.2 294.2 L456 296.1 L456.8 298 L457.7 299.9 L458.6 301.7 L459.7 303.2 L460.8 304.6 L461.9 305.8 L462.9 306.9 L463.8 307.9 L464.6 308.7 L465.4 309.4 L466.4 310.1 L467.5 310.8 L468.8 311.5 L470.2 312.2 L471.5 312.8 L472.8 313.2 L474 313.6 L475.3 314 L476.7 314.3 L477.7 314.7 L478.5 315 L480.1 315.2 L483.6 315.4 L490.4 315.5 L499.5 315.5 L508.4 315.4 L514.6 315.4" fill="none" stroke="#80b76e" stroke-width="1.15" stroke-linejoin="round"/>
<path d="M374.3 315.4 L377.9 315.4 L383.2 315.4 L388.5 315.4 L392.3 315.4 L393.9 315.4 L394.1 315.5 L393.9 315.4 L394.1 314.9 L394.8 313.9 L395.7 312.6 L396.6 311 L397.5 309.1 L398.4 306.7 L399.2 304 L400.1 301.2 L400.9 298.5 L401.8 295.9 L402.7 293.2 L403.6 290.8 L404.4 289 L405.1 287.8 L405.7 287.2 L406.3 286.8 L407 286.6 L407.6 286.6 L408.2 286.8 L408.8 287.1 L409.6 287.4 L410.5 287.5 L411.5 287.7 L412.6 287.8 L413.5 287.7 L414.3 287.4 L415 286.9 L415.7 286.3 L416.4 285.8 L417.3 285.3 L418.1 284.7 L419 284.2 L419.9 283.7 L420.8 283.2 L421.8 282.7 L422.8 282.3 L423.8 281.9 L425 281.6 L426.2 281.4 L427.4 281.2 L428.5 281 L429.4 280.9 L430.3 280.8 L431.1 280.7 L431.9 280.5 L432.8 280.2 L433.6 279.7 L434.3 279.3 L435 279.1 L435.6 279.2 L436.1 279.5 L436.6 279.8 L437.1 280 L437.7 279.9 L438.3 279.7 L439 279.5 L439.7 279.4 L440.4 279.4 L441.2 279.3 L442 279.4 L442.8 279.9 L443.5 280.7 L444.3 281.9 L445 283.3 L445.7 284.7 L446.4 286.3 L447 287.9 L447.7 289.6 L448.3 291.1 L448.9 292.4 L449.5 293.7 L450.2 294.8 L450.9 295.8 L451.6 296.6 L452.4 297.2 L453.3 297.8 L454.3 298.5 L455.5 299.5 L456.9 300.6 L458.3 301.7 L459.5 302.7 L460.5 303.6 L461.3 304.4 L462.1 305.2 L462.9 305.9 L463.7 306.5 L464.4 307.1 L465.3 307.6 L466.4 308.3 L467.8 309.2 L469.6 310.3 L471.5 311.3 L473.3 312.2 L475 312.9 L476.7 313.5 L478.4 313.9 L480.1 314.3 L481.4 314.7 L482.3 315 L483.9 315.2 L487 315.4 L493.1 315.5 L501.2 315.5 L509.1 315.4 L514.6 315.4" fill="none" stroke="#3a5596" stroke-width="1.15" stroke-linejoin="round"/>
<path d="M374.3 315.4 L377.9 315.4 L383.2 315.4 L388.6 315.4 L392.3 315.4 L393.9 315.4 L394.1 315.4 L393.8 315.3 L393.9 314.9 L394.4 314.5 L394.9 314.1 L395.4 312.9 L396 310.1 L396.5 305.3 L397.1 298.9 L397.7 291.5 L398.4 283.7 L399 275 L399.7 265.4 L400.3 255.6 L400.9 246.7 L401.5 238.4 L402.1 230.5 L402.6 223.2 L403.2 217.1 L403.8 211.8 L404.4 207.3 L405 204 L405.6 202.2 L406.2 202.5 L406.7 204.5 L407.3 207.5 L407.8 210.7 L408.4 214.3 L409 218.5 L409.6 223.1 L410.2 227.6 L410.8 232.3 L411.4 237.2 L411.9 242.1 L412.5 246.7 L413 250.9 L413.6 255 L414.1 258.9 L414.7 262.5 L415.3 266 L416 269.3 L416.6 272.4 L417.1 275.2 L417.5 277.6 L417.8 279.5 L418.1 281.4 L418.5 283.7 L419.1 286.5 L419.7 289.6 L420.4 292.6 L421.1 295.3 L421.7 297.5 L422.4 299.3 L423.1 301 L423.8 302.7 L424.7 304.6 L425.6 306.6 L426.5 308.5 L427.6 310.1 L428.8 311.4 L430.2 312.3 L431.6 313.1 L433.1 313.8 L434.8 314.3 L436.6 314.7 L438.6 314.9 L440.5 315.1 L441.3 315.2 L441.2 315.3 L443 315.4 L449.2 315.4 L463 315.4 L482.4 315.4 L501.5 315.4 L514.6 315.4" fill="none" stroke="#d64c60" stroke-width="1.15" stroke-linejoin="round"/>
<path d="M405.4 192V186.3H453.5V192" stroke="#333" stroke-width="0.9" fill="none"/>
<path d="M464.2 204.6H474.8" stroke="#80b76e" stroke-width="1.2"/>
<path d="M464.2 215.3H474.8" stroke="#d64c60" stroke-width="1.2"/>
<path d="M464.2 226.1H474.8" stroke="#3a5596" stroke-width="1.2"/>
<path d="M370.4 365.6V481.2" stroke="#2b2b2b" stroke-width="1.1" fill="none"/>
<path d="M370.4 481.2h-2.5M370.4 461.9h-2.5M370.4 442.7h-2.5M370.4 423.4h-2.5M370.4 404.1h-2.5M370.4 384.9h-2.5M370.4 365.6h-2.5" stroke="#2b2b2b" stroke-width="1.1" fill="none"/>
<text x="364.6" y="481.2" font-size="6.5" text-anchor="middle" fill="#3a3a3a" transform="rotate(-90 364.6 481.2)" class="s" style="stroke:none">0</text>
<text x="364.6" y="461.9" font-size="6.5" text-anchor="middle" fill="#3a3a3a" transform="rotate(-90 364.6 461.9)" class="s" style="stroke:none">1</text>
<text x="364.6" y="442.7" font-size="6.5" text-anchor="middle" fill="#3a3a3a" transform="rotate(-90 364.6 442.7)" class="s" style="stroke:none">2</text>
<text x="364.6" y="423.4" font-size="6.5" text-anchor="middle" fill="#3a3a3a" transform="rotate(-90 364.6 423.4)" class="s" style="stroke:none">3</text>
<text x="364.6" y="404.1" font-size="6.5" text-anchor="middle" fill="#3a3a3a" transform="rotate(-90 364.6 404.1)" class="s" style="stroke:none">4</text>
<text x="364.6" y="384.9" font-size="6.5" text-anchor="middle" fill="#3a3a3a" transform="rotate(-90 364.6 384.9)" class="s" style="stroke:none">5</text>
<text x="364.6" y="365.6" font-size="6.5" text-anchor="middle" fill="#3a3a3a" transform="rotate(-90 364.6 365.6)" class="s" style="stroke:none">6</text>
<path d="M399.2 486.4H492.2" stroke="#2b2b2b" stroke-width="1.1" fill="none"/>
<path d="M399.2 486.4v2.5M445.7 486.4v2.5M492.2 486.4v2.5" stroke="#2b2b2b" stroke-width="1.1" fill="none"/>
<text x="398" y="496.2" font-size="6.5" text-anchor="middle" fill="#3a3a3a" class="s" style="stroke:none">0.0</text>
<text x="444.5" y="496.2" font-size="6.5" text-anchor="middle" fill="#3a3a3a" class="s" style="stroke:none">0.5</text>
<text x="491" y="496.2" font-size="6.5" text-anchor="middle" fill="#3a3a3a" class="s" style="stroke:none">1.0</text>
<path d="M375.9 481.2 L381.1 481.2 L388.2 481.3 L393.6 481.2 L395.7 481 L396 480.6 L396.4 480.2 L397.3 479.7 L398.3 479.2 L399.2 478.9 L400.1 479 L401.1 479.4 L402 479.9 L402.2 480.3 L402.4 480.7 L404.8 481 L411.5 481.1 L420.4 481 L427.1 480.8 L429.4 480.4 L429.5 479.8 L429.9 479.3 L431.3 479.2 L433 479.2 L434.5 478.9 L435.9 478.2 L437.1 477.1 L438.3 475.4 L439.3 473 L440.2 469.9 L441.1 465.8 L442 460.5 L442.9 454.2 L443.8 446.5 L444.8 437.1 L445.7 426.4 L446.6 415.7 L447.7 404.9 L448.9 394.1 L449.9 384.9 L450.7 376.9 L451.4 370.6 L452.2 368.1 L453.1 370.9 L454.1 377.6 L455 385.8 L455.9 395.6 L456.9 407 L457.8 417.6 L458.7 426.7 L459.6 435.1 L460.6 442.7 L461.7 449.6 L463 455.8 L464.3 461 L465.8 465 L467.4 468.1 L468.9 470.6 L470.5 472.4 L472 473.5 L473.6 474.5 L475.2 475.3 L476.7 475.9 L478.2 476.4 L479.8 476.9 L481.3 477.3 L482.9 477.7 L484.4 478.2 L486 478.6 L487.5 478.9 L489.2 478.8 L490.8 478.4 L492.2 478.3 L493.2 478.6 L494.1 479.1 L495 479.7 L495.5 480.2 L496.1 480.8 L498.7 481.2 L505.6 481.3 L514.6 481.3 L521 481.2" fill="none" stroke="#5fae66" stroke-width="1.25" stroke-linejoin="round"/>
<path d="M375.9 481.2 L381.1 481.3 L388.2 481.3 L393.6 481.2 L395.7 480.7 L396 480.1 L396.4 479.3 L397.3 478.2 L398.3 477 L399.2 476.4 L400.1 476.7 L401.1 477.5 L402 478.3 L402.9 479.1 L403.8 480 L404.8 480.6 L405.7 480.9 L406.8 481 L408.5 481 L411.3 480.9 L414.6 480.8 L417.8 480.6 L420.6 480.6 L423.1 480.5 L425.2 480.2 L426.8 479.5 L427.9 478.5 L429 477.7 L430.2 477.5 L431.4 477.5 L432.7 477.3 L433.9 477 L435.2 476.5 L436.4 475.4 L437.7 473.6 L438.9 471.2 L440.1 467.7 L441.1 462.9 L442 457.1 L442.9 450.4 L443.8 442.7 L444.7 434.1 L445.7 425.3 L446.8 416 L447.9 406.4 L449 398.3 L450.1 391.9 L451.2 387 L452.2 384.9 L453.2 386.3 L454.1 390.6 L455 396.4 L455.9 403.9 L456.9 412.9 L457.8 421.5 L458.7 429 L459.6 436.2 L460.6 442.7 L461.7 448.5 L463 453.7 L464.3 458.1 L465.8 461.6 L467.4 464.5 L468.9 466.7 L470.5 468.4 L472 469.6 L473.6 470.6 L475.2 471.5 L476.7 472.3 L478.2 473.1 L479.8 474 L481.3 474.8 L482.9 475.4 L484.5 475.8 L486.1 476 L487.5 475.8 L488.9 474.9 L490.1 473.7 L491.3 473.1 L492.3 473.4 L493.2 474.3 L494.1 475.4 L495 477 L495.9 478.8 L496.9 480.2 L497.4 480.9 L498.1 481.1 L500.6 481.2 L506.9 481.3 L515.1 481.2 L521 481.2" fill="none" stroke="#34528f" stroke-width="1.25" stroke-linejoin="round"/>
<path d="M375.9 481.2 L380.8 481.3 L387.5 481.4 L392.7 481.2 L394.7 480.7 L395.1 479.8 L395.5 478.3 L396.2 475.8 L396.8 472.6 L397.3 469.6 L398 467 L398.6 464.7 L399.2 463.5 L399.8 463.7 L400.4 464.9 L401.1 466.7 L401.7 469.4 L402.3 472.6 L402.9 475.4 L403.6 477.5 L404.4 479.1 L405.2 480.2 L406.2 480.8 L407.3 480.9 L408.5 480.8 L409.9 480.6 L411.5 480.3 L413.1 480 L414.7 480.1 L416.2 480.3 L417.8 480.4 L419.4 480.6 L421 480.6 L422.4 480 L423.5 478.7 L424.4 476.7 L425.2 474.5 L426.2 471.6 L427.2 468.4 L428 465.8 L428.7 464.1 L429.3 463 L429.9 462.7 L430.6 463.6 L431.4 465.3 L432.2 466.7 L432.9 467.7 L433.7 468.3 L434.5 468.5 L435.7 468.2 L437 467.4 L438.3 465.8 L439.5 463 L440.8 459.5 L442 456.1 L443 453 L443.9 450.1 L444.8 448.1 L445.7 447.6 L446.6 448.1 L447.6 448.4 L448.4 448.5 L449.3 448.4 L450.4 448.1 L451.8 447.1 L453.5 445.7 L455 444.6 L456.3 444 L457.5 443.5 L458.7 442.7 L460 440.3 L461.3 437.5 L462.4 436.9 L463.4 440 L464.3 445.3 L465.2 450.4 L466.2 454.7 L467.1 458.8 L468 461.9 L468.9 463.5 L469.9 464 L470.8 464.2 L471.7 464 L472.6 463.5 L473.6 463.5 L474.8 464.4 L476 465.8 L477.3 467.3 L478.6 468.8 L479.8 470.4 L481 471.6 L482.3 472.5 L483.6 473.1 L484.8 472.9 L485.8 472 L486.7 470.4 L487.5 467.7 L488.4 462.8 L489.1 456.8 L489.9 452.3 L490.7 450.2 L491.5 449.6 L492.2 450 L492.9 451.4 L493.5 453.8 L494.1 457.1 L494.7 461.9 L495.3 467.7 L495.9 472.5 L496.7 475.9 L497.5 478.3 L498.2 480 L498.3 480.9 L498.5 481.1 L500.6 481.2 L506.8 481.3 L515.1 481.2 L521 481.2" fill="none" stroke="#d4504f" stroke-width="1.3" stroke-linejoin="round"/>
<path d="M374 538.8V662.3" stroke="#2b2b2b" stroke-width="1.1" fill="none"/>
<path d="M374 662.3h-2.5M374 641.7h-2.5M374 621.1h-2.5M374 600.5h-2.5M374 580h-2.5M374 559.4h-2.5M374 538.8h-2.5" stroke="#2b2b2b" stroke-width="1.1" fill="none"/>
<text x="369.3" y="662.3" font-size="6.5" text-anchor="middle" fill="#3a3a3a" transform="rotate(-90 369.3 662.3)" class="s" style="stroke:none">0.0</text>
<text x="369.3" y="641.7" font-size="6.5" text-anchor="middle" fill="#3a3a3a" transform="rotate(-90 369.3 641.7)" class="s" style="stroke:none">0.5</text>
<text x="369.3" y="621.1" font-size="6.5" text-anchor="middle" fill="#3a3a3a" transform="rotate(-90 369.3 621.1)" class="s" style="stroke:none">1.0</text>
<text x="369.3" y="600.5" font-size="6.5" text-anchor="middle" fill="#3a3a3a" transform="rotate(-90 369.3 600.5)" class="s" style="stroke:none">1.5</text>
<text x="369.3" y="580" font-size="6.5" text-anchor="middle" fill="#3a3a3a" transform="rotate(-90 369.3 580)" class="s" style="stroke:none">2.0</text>
<text x="369.3" y="559.4" font-size="6.5" text-anchor="middle" fill="#3a3a3a" transform="rotate(-90 369.3 559.4)" class="s" style="stroke:none">2.5</text>
<text x="369.3" y="538.8" font-size="6.5" text-anchor="middle" fill="#3a3a3a" transform="rotate(-90 369.3 538.8)" class="s" style="stroke:none">3.0</text>
<path d="M403.1 666.9H496.3" stroke="#2b2b2b" stroke-width="1.1" fill="none"/>
<path d="M403.1 666.9v2.5M449.7 666.9v2.5M496.3 666.9v2.5" stroke="#2b2b2b" stroke-width="1.1" fill="none"/>
<text x="401.9" y="676.2" font-size="6.5" text-anchor="middle" fill="#3a3a3a" class="s" style="stroke:none">0.0</text>
<text x="448.5" y="676.2" font-size="6.5" text-anchor="middle" fill="#3a3a3a" class="s" style="stroke:none">0.5</text>
<text x="495.1" y="676.2" font-size="6.5" text-anchor="middle" fill="#3a3a3a" class="s" style="stroke:none">1.0</text>
<path d="M410.6 662.3 L411 661.9 L411.7 661.4 L412.4 661.1 L413.3 661.2 L414.2 661.4 L415.2 661.5 L416.2 661.1 L417.1 660.5 L418 659.8 L418.7 659.1 L419.2 658.4 L419.9 658.2 L420.7 658.7 L421.6 659.8 L422.7 660.7 L423.8 661.2 L425.1 661.6 L426.4 661.9 L428 662 L429.6 662 L431.1 661.9 L432.1 661.5 L433 660.9 L433.9 660.7 L434.8 660.9 L435.7 661.4 L436.7 661.9 L438 662.1 L439.4 662.2 L440.4 662.3" fill="none" stroke="#555" stroke-width="0.8" stroke-linejoin="round"/>
<path d="M399.8 662.3 L400.3 661.7 L401 660.6 L401.7 658.2 L402.2 653.5 L402.7 647.4 L403.1 641.7 L403.5 636.9 L403.9 632.5 L404.2 629.4 L404.5 627.6 L404.8 627 L405.2 628.1 L405.5 631.6 L405.9 636.7 L406.3 641.7 L406.6 646.2 L406.9 650.6 L407.3 654.1 L407.7 656.1 L408.2 657.3 L408.7 658.2 L409.2 659 L409.8 659.6 L410.6 660.2 L411.8 661 L413.2 661.8 L414.3 662.3" fill="none" stroke="#4fae70" stroke-width="1.0" stroke-linejoin="round"/>
<path d="M399.4 662.3 L399.9 662.1 L400.6 661.5 L401.2 658.2 L401.7 650.4 L402.2 639.9 L402.6 629.4 L403.1 619 L403.6 608.6 L404 600.5 L404.4 595.6 L404.8 593.1 L405.2 593.1 L405.5 596 L405.9 601.4 L406.3 608.8 L406.6 619.2 L407 631.6 L407.3 641.7 L407.6 647.7 L407.9 651.3 L408.2 654.1 L408.6 656.1 L409 657.2 L409.6 658.2 L410.5 659.3 L411.4 660.3 L412.4 661.1 L413.5 661.6 L414.5 662 L415.2 662.3" fill="none" stroke="#6a4c9c" stroke-width="1.0" stroke-linejoin="round"/>
<path d="M379.8 662.3 L385.4 662.4 L393.1 662.5 L398.9 662.3 L400.7 662.4 L400.5 662.2 L400.3 660.2 L400.8 656 L401.2 649.9 L401.7 641.7 L402.2 630.7 L402.7 617.7 L403.1 604.7 L403.5 591.7 L403.9 578.7 L404.2 567.6 L404.6 558.1 L405 550.5 L405.3 547.4 L405.7 550.5 L406.1 558.1 L406.5 567.6 L406.9 578.9 L407.3 592 L407.8 604.7 L408.2 616.6 L408.7 628.1 L409.2 637.6 L409.6 644.1 L410.1 648.5 L410.6 652 L411 654.8 L411.5 656.6 L412 658.2 L412.5 659.6 L413.1 660.7 L413.8 661.5 L410.8 662 L407.9 662.2 L416.1 662.3 L447 662.4 L489 662.3 L519.6 662.3" fill="none" stroke="#dc6450" stroke-width="1.0" stroke-linejoin="round"/>
<text x="0.6" y="14.4" font-size="16.5" font-weight="bold" fill="#000">A</text>
<text x="0.8" y="446.7" font-size="16.5" font-weight="bold" fill="#000">B</text>
<text x="344.3" y="179.2" font-size="16.5" font-weight="bold" fill="#000">C</text>
<text x="344.5" y="361.2" font-size="16.5" font-weight="bold" fill="#000">D</text>
<text x="345.2" y="534.6" font-size="16.5" font-weight="bold" fill="#000">E</text>
<text x="145.4" y="15.7" font-size="9.75" font-weight="bold" text-anchor="middle" fill="#1a1a1a">Computational</text>
<text x="146.3" y="27.5" font-size="9.75" font-weight="bold" text-anchor="middle" fill="#1a1a1a">pathology</text>
<text x="264.3" y="16.5" font-size="9.75" font-weight="bold" text-anchor="middle" fill="#1a1a1a">Topological</text>
<text x="268.6" y="28.3" font-size="9.75" font-weight="bold" text-anchor="middle" fill="#1a1a1a">Tumor Graph (TTG)</text>
<text x="401.6" y="15.7" font-size="9.75" font-weight="bold" text-anchor="middle" fill="#1a1a1a">Define spatial constraints</text>
<text x="402" y="27.5" font-size="9.75" font-weight="bold" text-anchor="middle" fill="#1a1a1a">of TIL infiltration</text>
<text x="11.8" y="84.8" font-size="10.9" font-weight="bold" text-anchor="middle" fill="#1a1a1a" transform="rotate(-90 11.8 84.8)">Image phenotypes</text>
<text x="11.8" y="218" font-size="10.9" font-weight="bold" text-anchor="middle" fill="#1a1a1a" transform="rotate(-90 11.8 218)">Gene expression</text>
<text x="11.8" y="352" font-size="10.9" font-weight="bold" text-anchor="middle" fill="#1a1a1a" transform="rotate(-90 11.8 352)">Copy-number alteration</text>
<text x="482.1" y="42.6" font-size="8.7" text-anchor="middle" fill="#1a1a1a">Stromal barrier</text>
<text x="482" y="101.7" font-size="8.7" text-anchor="middle" fill="#1a1a1a">Stromal clustering</text>
<text x="406.4" y="108.8" font-size="7.7" fill="#1a1a1a" class="s">Cancer</text>
<text x="406.4" y="120.6" font-size="7.7" fill="#1a1a1a" class="s">Stromal</text>
<text x="406.4" y="131.4" font-size="7.7" fill="#1a1a1a" class="s">Lymphocyte</text>
<text x="111.3" y="165.2" font-size="9.65" text-anchor="middle" fill="#1a1a1a">Y: RNA expression</text>
<text x="111.2" y="229" font-size="8.67" text-anchor="middle" fill="#1a1a1a">Y': CNA-based estimate</text>
<text x="112.2" y="264.8" font-size="8.7" text-anchor="middle" fill="#1a1a1a">Hidden layers</text>
<text x="112.2" y="317.8" font-size="8.7" text-anchor="middle" fill="#1a1a1a">Hidden layers</text>
<text x="198.7" y="281.5" font-size="8.6" text-anchor="middle" fill="#1a1a1a">arg min |Y - Y'|</text>
<text x="274.2" y="284.3" font-size="9.7" text-anchor="middle" fill="#1a1a1a">Deep learning</text>
<text x="274.4" y="296" font-size="9.7" text-anchor="middle" fill="#1a1a1a">gene expression driving</text>
<text x="274.5" y="307.4" font-size="9.7" text-anchor="middle" fill="#1a1a1a">CNA signatures</text>
<text x="109.7" y="370.8" font-size="9.73" text-anchor="middle" fill="#1a1a1a">X: Copy-number alteration</text>
<text x="449.5" y="342.2" font-size="10.9" text-anchor="middle" fill="#1a1a1a">Node degree</text>
<text x="445.9" y="508" font-size="10.9" text-anchor="middle" fill="#1a1a1a">Clustering coefficient</text>
<text x="451.1" y="690" font-size="10.9" text-anchor="middle" fill="#1a1a1a">Betweenness</text>
<text x="349.6" y="244.9" font-size="10.9" text-anchor="middle" fill="#1a1a1a" transform="rotate(-90 349.6 244.9)">Density</text>
<text x="353" y="416.9" font-size="10.9" text-anchor="middle" fill="#1a1a1a" transform="rotate(-90 353 416.9)">Density</text>
<text x="353" y="587.8" font-size="10.9" text-anchor="middle" fill="#1a1a1a" transform="rotate(-90 353 587.8)">Density</text>
<text x="405.4" y="182.6" font-size="8.9" fill="#1a1a1a"><tspan font-style="italic">P</tspan> &lt; 2.2e-16</text>
<text x="477.2" y="207.2" font-size="7.7" fill="#1a1a1a" class="s">Cancer</text>
<text x="477.2" y="218" font-size="7.7" fill="#1a1a1a" class="s">Stromal</text>
<text x="477.2" y="228.8" font-size="7.7" fill="#1a1a1a" class="s">Lymphocyte</text>
<text x="216" y="626.8" font-size="8.75" fill="#1a1a1a">Cancer supernode</text>
<text x="216" y="644.8" font-size="8.75" fill="#1a1a1a">Lymphocyte node</text>
<text x="216" y="661.2" font-size="8.75" fill="#1a1a1a">Stromal node</text>
</svg>
</body></html>
